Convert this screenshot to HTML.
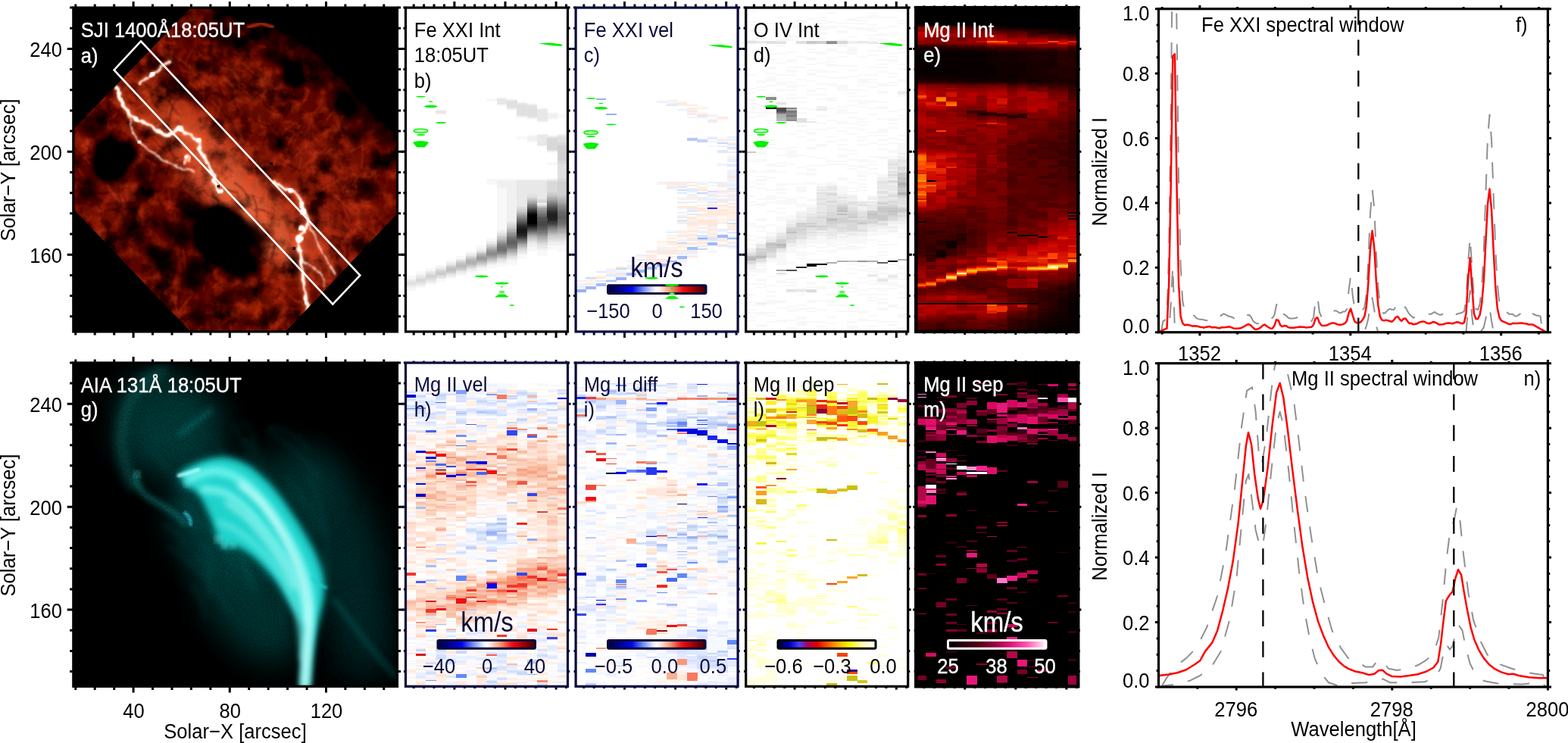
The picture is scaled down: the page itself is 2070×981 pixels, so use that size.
<!DOCTYPE html>
<html><head><meta charset="utf-8"><title>Figure</title>
<style>html,body{margin:0;padding:0;background:#fff;overflow:hidden}svg{display:block}text{font-family:"Liberation Sans",sans-serif}</style>
</head><body>
<svg width="2070" height="981" viewBox="0 0 2070 981">
<rect width="2070" height="981" fill="#fff"/>
<g id="pa"><defs>
<clipPath id="aclip"><rect x="96.8" y="10.1" width="427.7" height="427.8"/></clipPath>
<clipPath id="apoly"><path d="M252.4 10L524.5 10L524.5 282L377 437.9L251.5 437.9L96.8 275.7L96.8 170.8Z"/></clipPath>
<filter id="ab1" x="-20%" y="-20%" width="140%" height="140%"><feGaussianBlur stdDeviation="1.1"/></filter>
<filter id="ab2" x="-20%" y="-20%" width="140%" height="140%"><feGaussianBlur stdDeviation="3"/></filter>
<filter id="ab3" x="-30%" y="-30%" width="160%" height="160%"><feGaussianBlur stdDeviation="9"/></filter>
<filter id="ab4" x="-30%" y="-30%" width="160%" height="160%"><feGaussianBlur stdDeviation="18"/></filter>
<filter id="adk" x="-40%" y="-40%" width="180%" height="180%"><feTurbulence type="fractalNoise" baseFrequency="0.06" numOctaves="3" seed="9" result="t"/><feDisplacementMap in="SourceGraphic" in2="t" scale="22" xChannelSelector="R" yChannelSelector="G"/><feGaussianBlur stdDeviation="4.5"/></filter>
<filter id="acon" color-interpolation-filters="sRGB" x="0" y="0" width="100%" height="100%"><feComponentTransfer><feFuncR type="linear" slope="1.3" intercept="-0.13"/><feFuncG type="linear" slope="1.3" intercept="-0.1"/><feFuncB type="linear" slope="1.3" intercept="-0.07"/></feComponentTransfer></filter>
<filter id="ab0" x="-20%" y="-20%" width="140%" height="140%"><feGaussianBlur stdDeviation="0.6"/></filter>
<filter id="anoise" color-interpolation-filters="sRGB" x="0" y="0" width="100%" height="100%"><feTurbulence type="fractalNoise" baseFrequency="0.03 0.03" numOctaves="5" seed="3" result="n"/><feColorMatrix in="n" type="matrix" values="0 0 0 0 0  0 0 0 0 0  0 0 0 0 0  2.0 0 0 0 -0.92"/></filter>
<filter id="anoise2" color-interpolation-filters="sRGB" x="0" y="0" width="100%" height="100%"><feTurbulence type="fractalNoise" baseFrequency="0.05" numOctaves="4" seed="11" result="n"/><feColorMatrix in="n" type="matrix" values="0 0 0 0 0.85  0 0 0 0 0.3  0 0 0 0 0.15  0 2.2 0 0 -0.95"/></filter>
<filter id="arough" x="-10%" y="-10%" width="120%" height="120%"><feTurbulence type="fractalNoise" baseFrequency="0.11" numOctaves="2" seed="5" result="t"/><feDisplacementMap in="SourceGraphic" in2="t" scale="7" xChannelSelector="R" yChannelSelector="G"/><feGaussianBlur stdDeviation="0.8"/></filter>
</defs>
<g clip-path="url(#aclip)">
<rect x="95" y="8" width="432" height="432" fill="#000"/>
<g clip-path="url(#apoly)"><g filter="url(#acon)">
<rect x="95" y="8" width="432" height="432" fill="#5e170a"/>
<ellipse cx="300" cy="235" rx="150" ry="40" transform="rotate(46 300 235)" fill="#b0472a" opacity="0.95" filter="url(#ab4)"/>
<ellipse cx="335" cy="285" rx="100" ry="26" transform="rotate(46 335 285)" fill="#d06a42" opacity="0.85" filter="url(#ab4)"/>
<ellipse cx="255" cy="185" rx="60" ry="22" transform="rotate(46 255 185)" fill="#c05632" opacity="0.8" filter="url(#ab4)"/>
<ellipse cx="200" cy="130" rx="40" ry="25" transform="rotate(60 200 130)" fill="#a03c1e" opacity="0.75" filter="url(#ab4)"/>
<ellipse cx="420" cy="230" rx="60" ry="60" transform="rotate(0 420 230)" fill="#8a2c12" opacity="0.7" filter="url(#ab4)"/>
<ellipse cx="340" cy="400" rx="50" ry="36" transform="rotate(0 340 400)" fill="#82280f" opacity="0.7" filter="url(#ab4)"/>
<ellipse cx="160" cy="270" rx="40" ry="26" transform="rotate(30 160 270)" fill="#8a2c12" opacity="0.7" filter="url(#ab4)"/>
<ellipse cx="330" cy="120" rx="70" ry="40" transform="rotate(20 330 120)" fill="#70200c" opacity="0.6" filter="url(#ab4)"/>
<ellipse cx="470" cy="300" rx="40" ry="50" transform="rotate(0 470 300)" fill="#8a2c12" opacity="0.6" filter="url(#ab4)"/>
<ellipse cx="420" cy="330" rx="30" ry="50" transform="rotate(-30 420 330)" fill="#b0472a" opacity="0.6" filter="url(#ab4)"/>
<path d="M236 77Q245 84 252 92M313 30Q324 32 328 42M278 361Q269 370 269 384M267 424Q267 433 260 438M230 357Q223 367 214 376M126 39Q133 47 135 56M290 140Q285 154 285 168M341 235Q335 242 341 250M341 382Q341 393 343 405M453 411Q449 420 449 431M109 208Q117 209 118 217M423 68Q412 80 396 84M331 385Q336 391 340 397M471 416Q477 421 478 429M347 124Q350 128 351 132M338 414Q340 426 345 437M478 342Q478 351 476 360M366 40Q372 37 376 41M243 36Q246 41 246 46M467 272Q473 275 475 281M253 66Q249 75 245 84M143 158Q151 156 154 148M110 413Q114 425 107 435M439 358Q446 370 447 384M288 408Q281 413 271 413M266 183Q259 198 257 214M376 161Q388 160 398 167M189 120Q197 122 201 129M209 190Q208 198 205 207M480 191Q470 196 461 201M285 91Q287 96 292 95M145 249Q153 260 163 271M419 397Q420 407 423 416M468 410Q476 424 490 434M151 200Q154 205 150 210M381 343Q385 356 392 368M471 420Q473 429 482 429M305 430Q305 439 306 449M182 148Q190 156 197 165M431 422Q429 427 434 431M154 191Q157 207 167 220M128 376Q125 388 133 398M154 235Q162 239 162 247M121 99Q134 105 143 116M175 160Q179 163 177 168M244 364Q246 373 244 382M155 44Q168 41 182 45M135 367Q141 374 140 382M293 80Q306 92 323 94M203 420Q204 424 202 428M311 98Q319 108 315 119M138 182Q145 187 146 195M322 329Q327 344 329 359M414 225Q413 231 416 235M370 47Q378 58 381 72M289 127Q290 134 293 140M197 391Q197 395 197 399M222 170Q228 160 237 152M216 34Q209 36 209 42M121 322Q129 331 133 343M209 290Q213 296 218 303M519 203Q516 208 512 211M273 188Q283 185 289 193M506 67Q513 81 513 97M467 23Q457 35 447 47M100 178Q90 191 90 207M393 61Q384 68 373 72M489 109Q479 113 473 120M308 93Q311 106 322 114M265 103Q271 120 268 137M238 92Q254 97 270 96M379 173Q387 171 390 179M445 196Q435 195 430 204M253 391Q242 401 236 415M410 360Q414 373 421 385M234 166Q236 173 242 176M414 370Q427 378 437 389M343 151Q340 161 348 169M497 58Q499 65 498 72M186 121Q196 127 207 130M330 41Q335 42 339 46M368 52Q373 61 372 71M253 97Q266 102 274 113M479 192Q479 207 477 223M106 246Q111 247 117 246M177 106Q185 110 193 114M116 366Q108 374 103 384M276 259Q276 268 279 278M292 89Q304 89 311 97M281 53Q285 55 290 54M408 341Q417 348 417 360M491 42Q484 39 479 46M443 74Q442 82 436 86M365 180Q373 194 382 208M421 200Q415 200 414 205M368 427Q377 433 374 442M155 109Q160 111 161 115M250 108Q258 117 267 124M362 213Q364 221 358 227M408 118Q405 129 399 138M125 341Q125 358 118 373M355 227Q362 226 368 229M295 326Q299 330 297 336M241 329Q245 342 244 355M283 345Q280 358 287 370M379 425Q384 438 395 446M133 397Q126 400 130 407M474 42Q484 56 485 72M221 56Q226 59 231 56M234 192Q233 200 238 207M235 419Q247 425 250 438M102 220Q106 230 115 236M308 160Q317 173 322 189M431 278Q433 286 433 295M416 285Q425 288 431 295M454 292Q458 302 467 307M153 208Q168 213 180 223M227 309Q230 315 227 321M319 82Q330 94 345 103M504 57Q510 70 520 80M182 282Q183 288 178 292M114 182Q117 192 124 200M272 298Q273 311 280 321M315 282Q313 293 321 300M387 179Q380 194 370 208M215 182Q219 183 222 186M393 162Q379 166 372 179M444 357Q453 361 459 370M153 364Q148 370 141 374M279 92Q280 100 275 107M301 194Q308 205 317 213M490 373Q481 386 479 402M376 119Q375 127 381 132M381 389Q391 400 406 403M391 237Q391 252 392 268M198 73Q209 75 214 85M114 316Q117 331 117 346M429 31Q431 43 422 52M431 396Q443 401 455 402M386 103Q387 118 380 130M336 122Q344 125 351 129M281 284Q291 291 292 303M440 256Q452 267 463 278M263 263Q255 270 247 275M371 103Q378 99 382 106M387 65Q384 81 373 92M304 39Q313 44 323 45M497 344Q509 343 519 348M352 144Q360 152 370 151M388 267Q392 275 385 282M277 260Q291 268 306 266M388 398Q397 395 404 403M295 101Q305 111 314 122M472 233Q471 241 464 244M394 166Q395 178 388 187M519 171Q509 182 495 187M245 232Q250 249 262 261M422 358Q427 361 424 367M135 35Q140 46 151 51M265 202Q266 220 260 236M120 344Q132 357 134 375M417 409Q425 418 436 423M236 122Q241 124 246 126M200 74Q212 81 218 94M490 107Q474 112 459 109M301 278Q307 275 312 280M400 246Q393 249 385 250M148 425Q145 438 136 447M223 425Q225 434 219 441M450 235Q438 246 422 251M158 90Q166 92 165 101M397 355Q400 360 406 360M403 37Q390 46 384 60M254 83Q258 91 263 98M308 230Q307 240 308 251M506 108Q499 111 496 119M141 308Q137 319 135 330M395 57Q400 61 396 66M205 191Q215 198 223 207M221 142Q226 154 239 157M213 210Q224 213 230 223M155 137Q164 136 168 144M453 270Q456 281 462 291M398 208Q397 218 392 227M224 338Q220 353 215 367M457 359Q471 360 484 356M102 336Q102 352 105 368M223 178Q234 182 243 189M431 371Q437 370 443 373M342 258Q341 265 348 266M454 366Q452 377 460 384M326 433Q326 446 323 459M350 161Q353 173 346 183M172 148Q188 142 200 130M146 390Q152 406 165 418M353 162Q364 176 376 187M249 85Q258 98 270 109M289 176Q287 182 293 185M232 392Q229 404 236 415M222 250Q224 259 224 268M152 361Q155 367 152 374M210 392Q209 399 210 406M466 66Q460 71 460 79M235 292Q235 298 236 303M462 70Q452 79 446 90M117 31Q122 37 124 45M231 282Q229 289 235 294M426 134Q421 146 409 151M265 328Q261 334 267 338M491 304Q500 313 508 322M393 194Q394 200 400 203M368 242Q374 248 379 256M230 71Q235 84 243 95M160 251Q158 260 163 267M148 136Q154 136 156 141M395 202Q388 210 379 215M130 19Q133 35 142 50M401 426Q410 431 418 437M453 138Q438 145 431 159M430 363Q430 377 427 390M447 148Q437 150 432 158M308 224Q314 222 320 224M134 303Q129 320 116 331M279 133Q287 142 296 152M242 198Q258 199 272 207M286 251Q294 246 303 249M360 355Q354 365 344 372M500 216Q494 223 496 232M256 258Q268 259 278 263M176 388Q179 403 177 418M323 120Q330 127 338 134M341 61Q346 61 351 62M403 57Q395 57 394 66M425 71Q423 78 418 84M350 104Q354 110 362 113M473 275Q471 291 478 306M413 157Q409 172 397 182M142 245Q149 259 160 271M181 202Q193 211 206 218M436 29Q427 38 416 44M166 369Q177 377 178 390" stroke="#d0643a" stroke-width="1.8" fill="none" opacity="0.28" filter="url(#ab1)"/>
<path d="M276 332Q272 335 272 340M395 286Q393 293 388 300M511 377Q520 379 524 388M324 341Q317 356 323 370M249 26Q249 34 252 41M183 100Q188 112 200 116M301 288Q305 301 316 309M415 215Q406 217 402 225M153 77Q148 82 151 89M508 287Q518 286 524 277M299 319Q298 329 298 340M315 305Q307 313 308 324M239 276Q251 280 255 291M163 400Q169 405 164 410M279 44Q282 59 276 73M408 245Q396 257 379 261M282 222Q283 233 290 241M514 77Q508 79 510 85M363 322Q361 333 358 343M438 361Q445 371 458 373M391 111Q390 120 382 125M335 278Q346 274 355 282M131 126Q144 131 152 142M510 221Q498 227 489 237M105 39Q106 47 110 54M384 136Q383 147 375 154M184 425Q178 434 181 445M320 414Q310 419 306 430M227 73Q234 78 238 86M101 329Q98 345 101 361M493 119Q488 123 481 124M471 355Q488 355 504 354M489 67Q486 75 488 83M170 82Q177 91 177 102M200 123Q200 135 209 144M204 182Q207 193 217 197M146 79Q155 85 166 87M403 286Q414 292 416 304M198 400Q201 406 198 412M352 18Q356 26 358 33M371 385Q364 391 368 399M229 23Q238 20 248 22M435 324Q444 331 446 342M231 358Q227 372 218 383M125 179Q115 190 117 205M248 415Q243 420 237 423M115 40Q126 52 132 67M477 156Q465 156 454 150M233 130Q226 144 223 160M110 112Q112 124 123 128M262 119Q279 119 294 127M127 28Q137 33 145 41M471 429Q475 433 478 437M288 112Q290 121 296 129M257 324Q259 332 253 338M197 354Q202 357 206 360M453 398Q458 403 455 409M345 405Q352 412 353 423M105 151Q113 154 117 162M500 145Q495 154 499 164M312 75Q319 74 327 73M146 220Q151 226 148 233M510 217Q501 211 492 215M446 81Q438 87 436 97M152 118Q155 121 159 123M284 24Q290 29 297 29M259 413Q244 423 234 436M181 426Q182 443 174 457M234 29Q241 44 251 57M171 344Q166 355 157 364M333 258Q341 272 339 288M163 273Q171 277 180 280M368 380Q372 389 364 394M336 161Q348 164 360 168M120 388Q115 390 118 395M470 20Q458 30 457 44M237 384Q235 399 237 415M404 254Q411 259 412 268M160 26Q155 38 155 50M128 262Q128 272 135 278M147 28Q144 41 148 53M283 339Q289 349 288 360M138 358Q134 364 136 371M394 223Q388 223 385 228M474 50Q474 57 468 62M310 173Q314 183 318 192M160 268Q169 270 178 267M281 255Q283 262 290 266M425 308Q439 314 454 315M291 145Q296 154 305 157M364 119Q372 125 379 131M306 423Q299 426 298 433M318 56Q323 67 329 76M192 351Q187 355 188 361M366 211Q382 217 396 226M449 280Q456 282 452 288M164 394Q159 409 157 424M309 241Q323 249 329 264M297 250Q305 252 314 255M132 282Q143 274 156 278M387 405Q397 405 408 406M321 338Q317 347 315 356M223 362Q225 369 227 376M375 347Q374 355 375 362M103 94Q118 89 132 82M116 339Q107 343 104 353M402 116Q398 120 400 125M459 320Q459 334 458 347M207 419Q204 423 205 427M133 145Q146 151 153 164M435 167Q436 176 434 185M509 309Q509 323 519 331M450 355Q447 363 452 370M435 98Q438 104 444 109M439 338Q436 345 434 352M338 124Q348 134 356 146M498 396Q502 406 497 414M208 251Q207 265 217 274M207 162Q194 172 189 187M141 404Q138 414 131 421M214 367Q212 377 206 386M220 122Q223 140 237 152M141 136Q148 150 145 167M356 222Q363 218 371 221M106 396Q114 400 116 408M318 201Q328 212 341 215M235 313Q232 319 238 322M310 131Q311 137 313 143M162 255Q169 267 169 281M494 177Q485 184 476 189M426 156Q415 157 410 167M483 356Q485 368 495 374M129 196Q130 204 138 204M494 280Q499 294 512 302M114 283Q119 289 125 294M361 119Q359 130 356 140M193 229Q198 229 201 231M200 248Q204 258 203 268M263 199Q263 208 272 209M165 156Q171 162 179 165M430 312Q444 319 453 334M429 381Q438 384 447 388M120 251Q124 262 135 266M268 250Q275 260 288 262M304 199Q312 195 319 190M166 136Q173 133 178 138M273 345Q272 349 267 350M346 295Q354 303 356 315M323 433Q328 437 326 444M145 56Q150 60 155 63M357 353Q357 367 352 380M503 199Q497 202 501 208M499 116Q494 121 487 123M303 347Q303 356 296 363M115 293Q121 300 120 309M139 127Q140 138 149 144M167 162Q179 169 189 177M187 413Q190 424 184 433M376 252Q383 252 384 259M310 139Q316 145 313 152M219 183Q223 199 233 211M273 291Q286 299 296 311M176 62Q190 72 205 76M401 121Q399 131 388 132M147 346Q137 357 122 359M395 352Q400 358 406 363M202 230Q208 224 217 223M419 85Q417 95 421 105M328 17Q338 30 351 39M493 288Q501 289 500 297M117 252Q130 258 144 254M285 94Q291 108 304 117M236 207Q222 217 218 232M179 299Q190 299 197 308M285 377Q295 387 297 401M410 412Q423 406 436 411M109 60Q117 68 121 79M260 75Q273 82 287 89M439 412Q440 418 441 424" stroke="#1a0300" stroke-width="2.4" fill="none" opacity="0.35" filter="url(#ab1)"/>
<rect x="95" y="8" width="432" height="432" filter="url(#anoise)"/>
<rect x="95" y="8" width="432" height="432" filter="url(#anoise2)" opacity="0.55"/>
<ellipse cx="151" cy="208" rx="26" ry="28" transform="rotate(0 151 208)" fill="#000" opacity="1.0" filter="url(#adk)"/>
<ellipse cx="140" cy="222" rx="18" ry="18" transform="rotate(0 140 222)" fill="#000" opacity="0.9" filter="url(#adk)"/>
<ellipse cx="118" cy="250" rx="14" ry="16" transform="rotate(0 118 250)" fill="#000" opacity="0.6" filter="url(#adk)"/>
<ellipse cx="296" cy="317" rx="40" ry="38" transform="rotate(10 296 317)" fill="#000" opacity="1.0" filter="url(#adk)"/>
<ellipse cx="285" cy="300" rx="26" ry="24" transform="rotate(0 285 300)" fill="#000" opacity="1.0" filter="url(#adk)"/>
<ellipse cx="256" cy="278" rx="20" ry="14" transform="rotate(20 256 278)" fill="#000" opacity="0.7" filter="url(#adk)"/>
<ellipse cx="318" cy="350" rx="22" ry="18" transform="rotate(0 318 350)" fill="#000" opacity="0.8" filter="url(#adk)"/>
<ellipse cx="236" cy="308" rx="22" ry="16" transform="rotate(30 236 308)" fill="#000" opacity="0.6" filter="url(#adk)"/>
<ellipse cx="205" cy="292" rx="14" ry="9" transform="rotate(0 205 292)" fill="#000" opacity="0.45" filter="url(#adk)"/>
<ellipse cx="215" cy="345" rx="24" ry="16" transform="rotate(35 215 345)" fill="#000" opacity="0.7" filter="url(#adk)"/>
<ellipse cx="255" cy="362" rx="16" ry="24" transform="rotate(35 255 362)" fill="#000" opacity="0.65" filter="url(#adk)"/>
<ellipse cx="190" cy="230" rx="14" ry="10" transform="rotate(40 190 230)" fill="#000" opacity="0.5" filter="url(#adk)"/>
<ellipse cx="330" cy="310" rx="16" ry="20" transform="rotate(0 330 310)" fill="#000" opacity="0.6" filter="url(#adk)"/>
<ellipse cx="170" cy="300" rx="14" ry="12" transform="rotate(45 170 300)" fill="#000" opacity="0.6" filter="url(#adk)"/>
<ellipse cx="262" cy="415" rx="14" ry="14" transform="rotate(0 262 415)" fill="#000" opacity="0.6" filter="url(#adk)"/>
<ellipse cx="300" cy="395" rx="10" ry="22" transform="rotate(30 300 395)" fill="#000" opacity="0.45" filter="url(#adk)"/>
<ellipse cx="388" cy="97" rx="16" ry="20" transform="rotate(-30 388 97)" fill="#000" opacity="0.9" filter="url(#adk)"/>
<ellipse cx="365" cy="75" rx="22" ry="10" transform="rotate(20 365 75)" fill="#000" opacity="0.7" filter="url(#adk)"/>
<ellipse cx="455" cy="138" rx="18" ry="12" transform="rotate(40 455 138)" fill="#000" opacity="0.75" filter="url(#adk)"/>
<ellipse cx="470" cy="185" rx="12" ry="10" transform="rotate(0 470 185)" fill="#000" opacity="0.5" filter="url(#adk)"/>
<ellipse cx="300" cy="55" rx="40" ry="12" transform="rotate(15 300 55)" fill="#000" opacity="0.5" filter="url(#adk)"/>
<ellipse cx="420" cy="110" rx="12" ry="8" transform="rotate(30 420 110)" fill="#000" opacity="0.5" filter="url(#adk)"/>
<ellipse cx="340" cy="330" rx="10" ry="30" transform="rotate(30 340 330)" fill="#000" opacity="0.5" filter="url(#adk)"/>
<ellipse cx="490" cy="250" rx="10" ry="8" transform="rotate(0 490 250)" fill="#000" opacity="0.5" filter="url(#adk)"/>
<ellipse cx="500" cy="215" rx="8" ry="10" transform="rotate(0 500 215)" fill="#000" opacity="0.5" filter="url(#adk)"/>
<ellipse cx="125" cy="165" rx="16" ry="10" transform="rotate(-45 125 165)" fill="#000" opacity="0.5" filter="url(#adk)"/>
<ellipse cx="360" cy="190" rx="14" ry="10" transform="rotate(40 360 190)" fill="#000" opacity="0.35" filter="url(#adk)"/>
<ellipse cx="250" cy="120" rx="30" ry="8" transform="rotate(47 250 120)" fill="#000" opacity="0.4" filter="url(#adk)"/>
<path d="M300 8 L330 26 L372 40 L405 58 L432 82 L452 102 L470 125 L492 148 L512 168 L527 180" stroke="#000" stroke-width="46" fill="none" opacity="0.5" filter="url(#ab3)"/>
<path d="M300 8 L330 26 L372 40 L405 58 L432 82 L452 102 L470 125 L492 148 L512 168 L527 180 L527 8Z" fill="#000" filter="url(#ab2)"/>
<path d="M262 8L300 20L335 34L310 8Z" fill="#000" opacity="0.8" filter="url(#ab2)"/>
<path d="M326 36L345 31L362 36" stroke="#8a3018" stroke-width="5" fill="none" filter="url(#ab1)"/>
<path d="M154.5 114.7C155.0 116.7 156.0 122.8 157.5 126.9C159.0 131.0 161.4 135.4 163.6 139.1C165.8 142.8 168.2 146.2 170.8 149.3C173.4 152.4 175.9 155.5 178.9 157.5C181.9 159.5 186.0 160.2 189.1 161.5C192.2 162.8 194.2 163.9 197.3 165.6C200.4 167.3 204.1 169.5 207.5 171.7C210.9 173.9 214.6 177.9 217.7 178.9C220.8 179.9 223.4 179.1 225.8 177.9C228.2 176.7 229.9 173.1 231.9 171.7C233.9 170.3 235.9 169.0 238.0 169.7C240.1 170.4 241.8 174.1 244.2 175.8C246.6 177.5 249.6 178.5 252.3 179.9C255.0 181.3 258.4 182.3 260.5 184.0C262.6 185.7 264.3 187.7 264.6 190.1C264.9 192.5 261.8 195.5 262.5 198.2C263.2 200.9 266.6 203.7 268.6 206.4C270.6 209.1 273.0 211.6 274.7 214.6C276.4 217.6 277.4 221.0 278.8 224.7C280.2 228.4 281.5 232.9 282.9 237.0C284.3 241.1 285.6 246.5 287.0 249.2C288.4 251.9 290.3 252.6 291.0 253.3" stroke="#e2764a" stroke-width="8.0" fill="none" opacity="0.55" stroke-linecap="round" filter="url(#ab2)"/>
<path d="M362.0 240.0C363.7 241.2 368.3 245.0 372.0 247.0C375.7 249.0 380.5 250.2 384.0 252.0C387.5 253.8 390.7 255.3 393.0 258.0C395.3 260.7 396.7 264.3 398.0 268.0C399.3 271.7 399.5 276.0 401.0 280.0C402.5 284.0 406.7 288.3 407.0 292.0C407.3 295.7 404.7 299.0 403.0 302.0C401.3 305.0 398.5 307.0 397.0 310.0C395.5 313.0 394.2 316.3 394.0 320.0C393.8 323.7 395.3 327.8 396.0 332.0C396.7 336.2 397.5 340.7 398.0 345.0C398.5 349.3 398.5 353.5 399.0 358.0C399.5 362.5 400.3 367.0 401.0 372.0C401.7 377.0 402.2 383.0 403.0 388.0C403.8 393.0 405.2 397.0 406.0 402.0C406.8 407.0 407.5 413.0 408.0 418.0C408.5 423.0 408.8 429.7 409.0 432.0" stroke="#e2764a" stroke-width="8.0" fill="none" opacity="0.55" stroke-linecap="round" filter="url(#ab2)"/>
<path d="M156.5 120.8C157.4 123.2 160.0 130.6 162.0 135.0C164.0 139.4 167.0 143.1 168.7 147.3C170.4 151.5 171.0 155.9 172.0 160.0C173.0 164.1 173.1 167.4 174.9 171.7C176.7 176.0 179.3 181.6 183.0 186.0C186.7 190.4 192.6 194.5 197.3 198.2C202.1 201.9 206.4 205.3 211.5 208.4C216.6 211.5 222.5 214.2 227.9 216.6C233.3 219.0 239.4 221.0 244.2 222.7C248.9 224.4 254.4 226.1 256.4 226.8" stroke="#e2764a" stroke-width="4.0" fill="none" opacity="0.39" stroke-linecap="round" filter="url(#ab2)"/>
<path d="M185.0 110.0C186.0 109.0 189.0 105.7 191.0 104.0C193.0 102.3 194.6 101.3 197.0 100.0C199.4 98.7 203.1 97.5 205.4 96.0C207.7 94.5 209.3 92.7 211.0 91.0C212.7 89.3 213.5 87.7 215.6 86.0C217.7 84.3 222.4 81.8 223.8 81.0" stroke="#e2764a" stroke-width="5.6" fill="none" opacity="0.49" stroke-linecap="round" filter="url(#ab2)"/>
<path d="M408.0 296.0C409.0 298.0 412.0 303.7 414.0 308.0C416.0 312.3 417.7 317.0 420.0 322.0C422.3 327.0 425.3 333.0 428.0 338.0C430.7 343.0 433.7 348.0 436.0 352.0C438.3 356.0 441.0 360.3 442.0 362.0" stroke="#e2764a" stroke-width="4.0" fill="none" opacity="0.39" stroke-linecap="round" filter="url(#ab2)"/>
<path d="M398.0 345.0C399.7 345.8 404.7 348.2 408.0 350.0C411.3 351.8 415.0 353.3 418.0 356.0C421.0 358.7 424.0 362.3 426.0 366.0C428.0 369.7 429.3 376.0 430.0 378.0" stroke="#e2764a" stroke-width="3.2" fill="none" opacity="0.33" stroke-linecap="round" filter="url(#ab2)"/>
<path d="M243.0 216.0C243.3 214.8 244.2 211.0 245.0 209.0C245.8 207.0 247.0 204.3 248.0 204.0C249.0 203.7 251.0 205.5 251.0 207.0C251.0 208.5 248.5 212.0 248.0 213.0" stroke="#e2764a" stroke-width="4.8" fill="none" opacity="0.44" stroke-linecap="round" filter="url(#ab2)"/>
<path d="M154.5 114.7C155.0 116.7 156.0 122.8 157.5 126.9C159.0 131.0 161.4 135.4 163.6 139.1C165.8 142.8 168.2 146.2 170.8 149.3C173.4 152.4 175.9 155.5 178.9 157.5C181.9 159.5 186.0 160.2 189.1 161.5C192.2 162.8 194.2 163.9 197.3 165.6C200.4 167.3 204.1 169.5 207.5 171.7C210.9 173.9 214.6 177.9 217.7 178.9C220.8 179.9 223.4 179.1 225.8 177.9C228.2 176.7 229.9 173.1 231.9 171.7C233.9 170.3 235.9 169.0 238.0 169.7C240.1 170.4 241.8 174.1 244.2 175.8C246.6 177.5 249.6 178.5 252.3 179.9C255.0 181.3 258.4 182.3 260.5 184.0C262.6 185.7 264.3 187.7 264.6 190.1C264.9 192.5 261.8 195.5 262.5 198.2C263.2 200.9 266.6 203.7 268.6 206.4C270.6 209.1 273.0 211.6 274.7 214.6C276.4 217.6 277.4 221.0 278.8 224.7C280.2 228.4 281.5 232.9 282.9 237.0C284.3 241.1 285.6 246.5 287.0 249.2C288.4 251.9 290.3 252.6 291.0 253.3" stroke="#ffe6d8" stroke-width="3.5" fill="none" opacity="1.00" stroke-linecap="round" stroke-linejoin="round" filter="url(#arough)"/>
<path d="M362.0 240.0C363.7 241.2 368.3 245.0 372.0 247.0C375.7 249.0 380.5 250.2 384.0 252.0C387.5 253.8 390.7 255.3 393.0 258.0C395.3 260.7 396.7 264.3 398.0 268.0C399.3 271.7 399.5 276.0 401.0 280.0C402.5 284.0 406.7 288.3 407.0 292.0C407.3 295.7 404.7 299.0 403.0 302.0C401.3 305.0 398.5 307.0 397.0 310.0C395.5 313.0 394.2 316.3 394.0 320.0C393.8 323.7 395.3 327.8 396.0 332.0C396.7 336.2 397.5 340.7 398.0 345.0C398.5 349.3 398.5 353.5 399.0 358.0C399.5 362.5 400.3 367.0 401.0 372.0C401.7 377.0 402.2 383.0 403.0 388.0C403.8 393.0 405.2 397.0 406.0 402.0C406.8 407.0 407.5 413.0 408.0 418.0C408.5 423.0 408.8 429.7 409.0 432.0" stroke="#ffe6d8" stroke-width="3.5" fill="none" opacity="1.00" stroke-linecap="round" stroke-linejoin="round" filter="url(#arough)"/>
<path d="M156.5 120.8C157.4 123.2 160.0 130.6 162.0 135.0C164.0 139.4 167.0 143.1 168.7 147.3C170.4 151.5 171.0 155.9 172.0 160.0C173.0 164.1 173.1 167.4 174.9 171.7C176.7 176.0 179.3 181.6 183.0 186.0C186.7 190.4 192.6 194.5 197.3 198.2C202.1 201.9 206.4 205.3 211.5 208.4C216.6 211.5 222.5 214.2 227.9 216.6C233.3 219.0 239.4 221.0 244.2 222.7C248.9 224.4 254.4 226.1 256.4 226.8" stroke="#ffe6d8" stroke-width="2.1" fill="none" opacity="0.72" stroke-linecap="round" stroke-linejoin="round" filter="url(#arough)"/>
<path d="M185.0 110.0C186.0 109.0 189.0 105.7 191.0 104.0C193.0 102.3 194.6 101.3 197.0 100.0C199.4 98.7 203.1 97.5 205.4 96.0C207.7 94.5 209.3 92.7 211.0 91.0C212.7 89.3 213.5 87.7 215.6 86.0C217.7 84.3 222.4 81.8 223.8 81.0" stroke="#ffe6d8" stroke-width="2.7" fill="none" opacity="0.85" stroke-linecap="round" stroke-linejoin="round" filter="url(#arough)"/>
<path d="M408.0 296.0C409.0 298.0 412.0 303.7 414.0 308.0C416.0 312.3 417.7 317.0 420.0 322.0C422.3 327.0 425.3 333.0 428.0 338.0C430.7 343.0 433.7 348.0 436.0 352.0C438.3 356.0 441.0 360.3 442.0 362.0" stroke="#ffe6d8" stroke-width="2.1" fill="none" opacity="0.72" stroke-linecap="round" stroke-linejoin="round" filter="url(#arough)"/>
<path d="M398.0 345.0C399.7 345.8 404.7 348.2 408.0 350.0C411.3 351.8 415.0 353.3 418.0 356.0C421.0 358.7 424.0 362.3 426.0 366.0C428.0 369.7 429.3 376.0 430.0 378.0" stroke="#ffe6d8" stroke-width="1.8" fill="none" opacity="0.68" stroke-linecap="round" stroke-linejoin="round" filter="url(#arough)"/>
<path d="M243.0 216.0C243.3 214.8 244.2 211.0 245.0 209.0C245.8 207.0 247.0 204.3 248.0 204.0C249.0 203.7 251.0 205.5 251.0 207.0C251.0 208.5 248.5 212.0 248.0 213.0" stroke="#ffe6d8" stroke-width="2.5" fill="none" opacity="0.80" stroke-linecap="round" stroke-linejoin="round" filter="url(#arough)"/>
<circle cx="179" cy="157.5" r="3.6" fill="#fff" filter="url(#arough)"/>
<circle cx="238" cy="169.5" r="3.6" fill="#fff" filter="url(#arough)"/>
<circle cx="262" cy="186" r="2.8" fill="#fff" filter="url(#arough)"/>
<circle cx="201" cy="99" r="3.2" fill="#fff" filter="url(#arough)"/>
<circle cx="291" cy="252" r="3.2" fill="#fff" filter="url(#arough)"/>
<circle cx="395" cy="315" r="4.8" fill="#fff" filter="url(#arough)"/>
<circle cx="398" cy="300" r="3.6" fill="#fff" filter="url(#arough)"/>
<circle cx="384" cy="252" r="3.2" fill="#fff" filter="url(#arough)"/>
<circle cx="400" cy="280" r="2.8" fill="#fff" filter="url(#arough)"/>
<circle cx="246" cy="207" r="2.4" fill="#fff" filter="url(#arough)"/>
<circle cx="405" cy="400" r="2.4" fill="#fff" filter="url(#arough)"/>
<circle cx="184" cy="187" r="2.4" fill="#fff" filter="url(#arough)"/>
<rect x="356.5" y="214.5" width="3.5" height="3" fill="#000"/>
<rect x="286.5" y="244.5" width="3.5" height="3" fill="#000"/>
<rect x="350.5" y="307.5" width="3.5" height="3" fill="#000"/>
<rect x="386.5" y="326.5" width="3.5" height="3" fill="#000"/>
<rect x="478.5" y="93.5" width="3.5" height="3" fill="#000"/>
</g></g>
<path d="M186 54.4L475.3 363.6L439.3 401.6L150.6 92.4Z" fill="none" stroke="#fff" stroke-width="2.6" stroke-linejoin="miter"/>
</g></g>
<g id="pg"><defs>
<clipPath id="gclip"><rect x="96.8" y="479" width="427.7" height="427.3"/></clipPath>
<filter id="gb1" x="-30%" y="-30%" width="160%" height="160%"><feGaussianBlur stdDeviation="1.5"/></filter>
<filter id="gb2" x="-30%" y="-30%" width="160%" height="160%"><feGaussianBlur stdDeviation="4"/></filter>
<filter id="gb3" x="-30%" y="-30%" width="160%" height="160%"><feGaussianBlur stdDeviation="7"/></filter>
<filter id="gb4" x="-40%" y="-40%" width="180%" height="180%"><feGaussianBlur stdDeviation="20"/></filter>
<filter id="gnoise" color-interpolation-filters="sRGB" x="0" y="0" width="100%" height="100%"><feTurbulence type="fractalNoise" baseFrequency="0.55" numOctaves="2" seed="8" result="n"/><feColorMatrix in="n" type="matrix" values="0 0 0 0 0  0 0 0 0 0  0 0 0 0 0  1.8 0 0 0 -0.7"/></filter>
</defs>
<g clip-path="url(#gclip)">
<rect x="95" y="477" width="432" height="432" fill="#000"/>
<ellipse cx="225" cy="565" rx="70" ry="65" transform="rotate(0 225 565)" fill="#004644" opacity="0.85" filter="url(#gb4)"/>
<ellipse cx="200" cy="520" rx="40" ry="28" transform="rotate(0 200 520)" fill="#003533" opacity="0.7" filter="url(#gb4)"/>
<ellipse cx="300" cy="690" rx="70" ry="90" transform="rotate(-30 300 690)" fill="#004a48" opacity="0.8" filter="url(#gb4)"/>
<ellipse cx="330" cy="790" rx="55" ry="95" transform="rotate(-32 330 790)" fill="#003f3d" opacity="0.8" filter="url(#gb4)"/>
<ellipse cx="445" cy="720" rx="55" ry="130" transform="rotate(-18 445 720)" fill="#003331" opacity="0.8" filter="url(#gb4)"/>
<ellipse cx="480" cy="850" rx="40" ry="50" transform="rotate(0 480 850)" fill="#002e2d" opacity="0.7" filter="url(#gb4)"/>
<ellipse cx="380" cy="640" rx="60" ry="50" transform="rotate(0 380 640)" fill="#003a38" opacity="0.6" filter="url(#gb4)"/>
<path d="M309 677Q346 712 351 764M396 705Q429 735 434 779M377 692Q395 733 388 791M373 687Q407 727 411 800M360 733Q390 771 404 844M320 654Q344 676 350 723M393 728Q407 770 407 844M386 685Q416 698 415 736M252 773Q268 787 271 817M349 666Q378 673 378 699M396 738Q408 764 409 805M308 562Q337 600 347 674M285 667Q331 686 351 739M310 608Q348 623 351 661M216 694Q236 696 244 724M332 692Q373 726 402 772M377 631Q412 660 429 708M266 720Q284 726 277 761M277 617Q305 627 319 655M365 716Q384 728 384 768M284 584Q314 618 312 667M373 707Q382 734 378 778M259 651Q297 668 322 696M407 630Q436 683 431 753M379 648Q403 663 416 703M338 726Q372 758 372 823M294 704Q321 716 325 750M320 604Q339 647 337 720M257 733Q281 744 275 786M354 563Q390 568 409 596M321 559Q335 562 338 601M235 638Q257 656 261 701M265 629Q295 640 304 663M292 720Q329 737 336 780M286 704Q315 724 329 769M227 660Q285 694 308 748M347 639Q372 648 365 687M355 569Q394 594 423 633M202 596Q245 643 256 703M360 742Q395 778 400 825M324 579Q355 616 367 677M243 618Q282 650 291 701M281 646Q313 641 325 665M359 685Q390 710 399 761M222 722Q278 759 305 811M260 633Q289 642 290 686" stroke="#0a8a86" stroke-width="4" fill="none" opacity="0.22" stroke-linecap="round" filter="url(#gb2)"/>
<path d="M176.0 640.0C174.3 635.8 168.7 624.2 166.0 615.0C163.3 605.8 160.5 595.0 160.0 585.0C159.5 575.0 161.0 564.2 163.0 555.0C165.0 545.8 167.5 538.3 172.0 530.0C176.5 521.7 182.8 511.7 190.0 505.0C197.2 498.3 210.8 492.5 215.0 490.0" stroke="#086a66" stroke-width="14" fill="none" opacity="0.6" stroke-linecap="round" filter="url(#gb3)"/>
<path d="M235.0 575.0C238.3 572.5 249.2 564.5 255.0 560.0C260.8 555.5 265.8 551.3 270.0 548.0C274.2 544.7 278.3 541.3 280.0 540.0" stroke="#0c8a86" stroke-width="5" fill="none" opacity="0.7" filter="url(#gb2)"/>
<path d="M178.0 628.0C178.7 630.0 180.0 636.0 182.0 640.0C184.0 644.0 186.2 648.3 190.0 652.0C193.8 655.7 199.7 658.7 205.0 662.0C210.3 665.3 216.5 668.3 222.0 672.0C227.5 675.7 234.0 680.3 238.0 684.0C242.0 687.7 244.7 692.3 246.0 694.0" stroke="#14a6a0" stroke-width="5" fill="none" opacity="0.8" filter="url(#gb2)"/>
<circle cx="181" cy="626" r="3.5" fill="#5ff" opacity="0.8" filter="url(#gb2)"/>
<path d="M243.0 676.0C244.2 677.3 248.5 681.0 250.0 684.0C251.5 687.0 251.7 692.3 252.0 694.0" stroke="#3cd" stroke-width="5" fill="none" opacity="0.8" filter="url(#gb1)"/>
<rect x="95" y="477" width="432" height="432" filter="url(#gnoise)" opacity="0.45"/>
<path d="M236.0 626.0C240.3 623.7 252.7 615.5 262.0 612.0C271.3 608.5 282.3 605.0 292.0 605.0C301.7 605.0 311.2 607.8 320.0 612.0C328.8 616.2 337.0 622.8 345.0 630.0C353.0 637.2 360.8 646.0 368.0 655.0C375.2 664.0 381.8 674.5 388.0 684.0C394.2 693.5 400.0 703.0 405.0 712.0C410.0 721.0 414.5 729.3 418.0 738.0C421.5 746.7 424.7 755.3 426.0 764.0C427.3 772.7 427.2 780.7 426.0 790.0C424.8 799.3 421.2 810.0 419.0 820.0C416.8 830.0 414.7 840.0 413.0 850.0C411.3 860.0 410.0 870.3 409.0 880.0C408.0 889.7 407.3 903.3 407.0 908.0L398.0 908.0C398.3 903.3 399.5 889.7 400.0 880.0C400.5 870.3 401.3 859.7 401.0 850.0C400.7 840.3 401.0 831.0 398.0 822.0C395.0 813.0 388.0 804.7 383.0 796.0C378.0 787.3 373.5 778.0 368.0 770.0C362.5 762.0 356.3 754.7 350.0 748.0C343.7 741.3 336.3 734.7 330.0 730.0C323.7 725.3 317.7 721.3 312.0 720.0C306.3 718.7 300.0 724.0 296.0 722.0C292.0 720.0 290.3 713.3 288.0 708.0C285.7 702.7 284.7 696.7 282.0 690.0C279.3 683.3 275.3 674.7 272.0 668.0C268.7 661.3 266.3 654.3 262.0 650.0C257.7 645.7 248.7 643.3 246.0 642.0Z" fill="#0c9691" opacity="0.85" filter="url(#gb3)"/>
<path d="M236.0 626.0C240.3 623.7 252.7 615.5 262.0 612.0C271.3 608.5 282.3 605.0 292.0 605.0C301.7 605.0 311.2 607.8 320.0 612.0C328.8 616.2 337.0 622.8 345.0 630.0C353.0 637.2 360.8 646.0 368.0 655.0C375.2 664.0 381.8 674.5 388.0 684.0C394.2 693.5 400.0 703.0 405.0 712.0C410.0 721.0 414.5 729.3 418.0 738.0C421.5 746.7 424.7 755.3 426.0 764.0C427.3 772.7 427.2 780.7 426.0 790.0C424.8 799.3 421.2 810.0 419.0 820.0C416.8 830.0 414.7 840.0 413.0 850.0C411.3 860.0 410.0 870.3 409.0 880.0C408.0 889.7 407.3 903.3 407.0 908.0L398.0 908.0C398.3 903.3 399.5 889.7 400.0 880.0C400.5 870.3 401.3 859.7 401.0 850.0C400.7 840.3 401.0 831.0 398.0 822.0C395.0 813.0 388.0 804.7 383.0 796.0C378.0 787.3 373.5 778.0 368.0 770.0C362.5 762.0 356.3 754.7 350.0 748.0C343.7 741.3 336.3 734.7 330.0 730.0C323.7 725.3 317.7 721.3 312.0 720.0C306.3 718.7 300.0 724.0 296.0 722.0C292.0 720.0 290.3 713.3 288.0 708.0C285.7 702.7 284.7 696.7 282.0 690.0C279.3 683.3 275.3 674.7 272.0 668.0C268.7 661.3 266.3 654.3 262.0 650.0C257.7 645.7 248.7 643.3 246.0 642.0Z" fill="#20dcd5" opacity="0.9" filter="url(#gb2)"/>
<path d="M250.0 632.0C255.0 630.3 270.3 622.7 280.0 622.0C289.7 621.3 298.8 623.7 308.0 628.0C317.2 632.3 326.7 640.0 335.0 648.0C343.3 656.0 350.8 666.3 358.0 676.0C365.2 685.7 372.0 696.0 378.0 706.0C384.0 716.0 389.5 726.0 394.0 736.0C398.5 746.0 402.3 756.0 405.0 766.0C407.7 776.0 409.3 786.0 410.0 796.0C410.7 806.0 409.7 815.3 409.0 826.0C408.3 836.7 407.0 846.7 406.0 860.0C405.0 873.3 403.5 898.3 403.0 906.0" stroke="#7ffaf4" stroke-width="11" fill="none" opacity="0.85" stroke-linecap="round" filter="url(#gb2)"/>
<path d="M268.0 646.0C272.5 646.7 286.0 646.3 295.0 650.0C304.0 653.7 313.5 660.7 322.0 668.0C330.5 675.3 338.3 684.7 346.0 694.0C353.7 703.3 361.3 714.0 368.0 724.0C374.7 734.0 381.0 743.7 386.0 754.0C391.0 764.3 395.0 775.0 398.0 786.0C401.0 797.0 403.0 814.3 404.0 820.0" stroke="#8ffcf6" stroke-width="9" fill="none" opacity="0.8" stroke-linecap="round" filter="url(#gb2)"/>
<path d="M290.0 690.0C293.7 691.7 304.3 695.3 312.0 700.0C319.7 704.7 328.3 711.0 336.0 718.0C343.7 725.0 351.3 733.3 358.0 742.0C364.7 750.7 370.7 760.3 376.0 770.0C381.3 779.7 386.5 790.0 390.0 800.0C393.5 810.0 395.3 818.3 397.0 830.0C398.7 841.7 399.5 863.3 400.0 870.0" stroke="#6fefe8" stroke-width="7" fill="none" opacity="0.7" stroke-linecap="round" filter="url(#gb2)"/>
<path d="M318.0 640.0C322.5 644.0 336.3 654.0 345.0 664.0C353.7 674.0 362.8 688.0 370.0 700.0C377.2 712.0 383.0 724.7 388.0 736.0C393.0 747.3 397.0 758.0 400.0 768.0C403.0 778.0 404.8 786.3 406.0 796.0C407.2 805.7 407.2 815.3 407.0 826.0C406.8 836.7 405.8 846.7 405.0 860.0C404.2 873.3 402.5 898.3 402.0 906.0" stroke="#d8fffd" stroke-width="8" fill="none" opacity="0.85" stroke-linecap="round" filter="url(#gb2)"/>
<path d="M300.0 664.0C304.3 667.3 317.7 676.0 326.0 684.0C334.3 692.0 342.3 702.0 350.0 712.0C357.7 722.0 365.7 733.3 372.0 744.0C378.3 754.7 385.3 770.7 388.0 776.0" stroke="#c8fffb" stroke-width="6" fill="none" opacity="0.7" stroke-linecap="round" filter="url(#gb2)"/>
<path d="M236.0 628.0C238.3 627.3 245.7 625.3 250.0 624.0C254.3 622.7 260.0 620.7 262.0 620.0" stroke="#bff" stroke-width="5" fill="none" opacity="0.8" stroke-linecap="round" filter="url(#gb1)"/>
<circle cx="288" cy="712" r="4" fill="#9ffcf8" opacity="0.7" filter="url(#gb2)"/>
<circle cx="296" cy="721" r="3" fill="#9ffcf8" opacity="0.7" filter="url(#gb2)"/>
<circle cx="246" cy="640" r="3" fill="#9ffcf8" opacity="0.7" filter="url(#gb2)"/>
<circle cx="308" cy="721" r="3" fill="#9ffcf8" opacity="0.7" filter="url(#gb2)"/>
<path d="M412.0 762.0C413.3 763.7 416.7 769.7 420.0 772.0C423.3 774.3 430.0 775.3 432.0 776.0" stroke="#2cc" stroke-width="4" fill="none" opacity="0.7" filter="url(#gb1)"/>
<path d="M440.0 790.0C445.0 796.7 460.0 817.0 470.0 830.0C480.0 843.0 491.0 857.2 500.0 868.0C509.0 878.8 520.0 890.5 524.0 895.0" stroke="#0a8a86" stroke-width="4" fill="none" opacity="0.55" filter="url(#gb2)"/>
</g></g>
<g id="pb"><rect x="535.5" y="10.1" width="214" height="427.8" fill="#fff"/><g fill="none" stroke-width="13.72" shape-rendering="crispEdges"><path stroke="#f8f8f8" d="M542.1 363.9v4.0M542.1 379.9v4.0M555.5 357.9v4.0M555.5 377.9v2.0M568.8 126.0v6.0M568.8 353.9v4.0M568.8 373.9v2.0M582.2 144.0v2.0M582.2 150.0v2.0M582.2 349.9v2.0M582.2 367.9v4.0M595.6 343.9v2.0M595.6 365.9v2.0M609.0 337.9v4.0M609.0 361.9v2.0M622.3 331.9v2.0M622.3 357.9v2.0M635.7 324.0v4.0M635.7 353.9v4.0M649.1 130.0v4.0M649.1 236.0v8.0M649.1 314.0v4.0M649.1 349.9v4.0M662.5 128.0v2.0M662.5 138.0v2.0M662.5 236.0v2.0M662.5 248.0v56.0M662.5 347.9v4.0M675.8 130.0v2.0M675.8 144.0v2.0M675.8 236.0v2.0M675.8 343.9v6.0M689.2 134.0v2.0M689.2 154.0v2.0M689.2 180.0v4.0M689.2 236.0v2.0M689.2 335.9v6.0M702.6 136.0v2.0M702.6 156.0v2.0M702.6 178.0v2.0M702.6 186.0v2.0M702.6 236.0v2.0M702.6 326.0v6.0M716.0 142.0v2.0M716.0 160.0v2.0M716.0 176.0v2.0M716.0 192.0v2.0M716.0 236.0v2.0M716.0 330.0v8.0M729.3 148.0v2.0M729.3 156.0v2.0M729.3 178.0v2.0M729.3 200.0v2.0M729.3 214.0v4.0M729.3 324.0v6.0M742.7 150.0v6.0M742.7 176.0v2.0M742.7 324.0v8.0"/><path stroke="#f0f0f0" d="M542.1 367.9v2.0M542.1 377.9v2.0M555.5 361.9v2.0M555.5 375.9v2.0M568.8 371.9v2.0M582.2 351.9v2.0M595.6 345.9v2.0M595.6 363.9v2.0M609.0 359.9v2.0M622.3 333.9v2.0M622.3 355.9v2.0M635.7 328.0v2.0M635.7 351.9v2.0M649.1 318.0v2.0M649.1 347.9v2.0M662.5 238.0v10.0M662.5 304.0v2.0M662.5 345.9v2.0M675.8 238.0v54.0M675.8 341.9v2.0M689.2 333.9v2.0M702.6 180.0v6.0M702.6 322.0v4.0M716.0 268.0v2.0M716.0 328.0v2.0M729.3 150.0v6.0M729.3 236.0v2.0M729.3 320.0v4.0M742.7 320.0v4.0"/><path stroke="#e8e8e8" d="M542.1 369.9v2.0M542.1 375.9v2.0M555.5 363.9v2.0M555.5 373.9v2.0M568.8 357.9v2.0M568.8 369.9v2.0M582.2 146.0v4.0M582.2 353.9v2.0M582.2 365.9v2.0M595.6 347.9v2.0M595.6 361.9v2.0M609.0 341.9v2.0M609.0 357.9v2.0M622.3 335.9v2.0M622.3 353.9v2.0M635.7 330.0v2.0M649.1 320.0v2.0M662.5 130.0v8.0M662.5 306.0v2.0M662.5 343.9v2.0M675.8 132.0v2.0M675.8 142.0v2.0M675.8 292.0v2.0M675.8 339.9v2.0M689.2 136.0v2.0M689.2 152.0v2.0M689.2 238.0v34.0M689.2 331.9v2.0M702.6 138.0v2.0M702.6 154.0v2.0M702.6 238.0v18.0M702.6 320.0v2.0M716.0 144.0v16.0M716.0 178.0v14.0M716.0 238.0v24.0M716.0 324.0v4.0M729.3 180.0v2.0M729.3 198.0v2.0M729.3 318.0v2.0M742.7 178.0v2.0M742.7 318.0v2.0"/><path stroke="#e0e0e0" d="M542.1 371.9v4.0M555.5 365.9v2.0M555.5 371.9v2.0M568.8 359.9v2.0M568.8 367.9v2.0M582.2 363.9v2.0M635.7 349.9v2.0M649.1 345.9v2.0M662.5 308.0v2.0M662.5 341.9v2.0M675.8 134.0v8.0M675.8 294.0v2.0M675.8 337.9v2.0M689.2 138.0v14.0M689.2 272.0v2.0M689.2 330.0v2.0M702.6 140.0v14.0M702.6 256.0v4.0M702.6 318.0v2.0M716.0 262.0v2.0M716.0 270.0v2.0M716.0 322.0v2.0M729.3 238.0v2.0M729.3 316.0v2.0M742.7 180.0v8.0M742.7 216.0v20.0M742.7 316.0v2.0"/><path stroke="#d8d8d8" d="M555.5 367.9v4.0M568.8 361.9v2.0M568.8 365.9v2.0M582.2 355.9v2.0M595.6 349.9v2.0M595.6 359.9v2.0M609.0 343.9v2.0M609.0 355.9v2.0M622.3 337.9v2.0M622.3 351.9v2.0M635.7 331.9v2.0M649.1 322.0v2.0M662.5 310.0v2.0M675.8 296.0v2.0M689.2 274.0v2.0M689.2 328.0v2.0M702.6 260.0v2.0M716.0 264.0v4.0M716.0 320.0v2.0M729.3 182.0v16.0M729.3 240.0v14.0M729.3 314.0v2.0M742.7 188.0v4.0M742.7 212.0v4.0M742.7 236.0v4.0M742.7 314.0v2.0"/><path stroke="#d0d0d0" d="M568.8 363.9v2.0M582.2 357.9v2.0M582.2 361.9v2.0M635.7 347.9v2.0M649.1 343.9v2.0M662.5 339.9v2.0M675.8 298.0v2.0M675.8 335.9v2.0M689.2 276.0v2.0M702.6 316.0v2.0M729.3 254.0v2.0M729.3 312.0v2.0M742.7 192.0v20.0M742.7 240.0v18.0M742.7 312.0v2.0"/><path stroke="#c8c8c8" d="M582.2 359.9v2.0M595.6 351.9v2.0M595.6 357.9v2.0M609.0 345.9v2.0M609.0 353.9v2.0M622.3 339.9v2.0M622.3 349.9v2.0M649.1 324.0v2.0M662.5 312.0v2.0M675.8 300.0v2.0M689.2 278.0v2.0M689.2 326.0v2.0M702.6 262.0v2.0M702.6 314.0v2.0M716.0 318.0v2.0M729.3 256.0v2.0M729.3 310.0v2.0M742.7 258.0v2.0M742.7 310.0v2.0"/><path stroke="#c0c0c0" d="M595.6 353.9v4.0M609.0 347.9v2.0M609.0 351.9v2.0M635.7 333.9v2.0M635.7 345.9v2.0M649.1 341.9v2.0M662.5 314.0v2.0M675.8 333.9v2.0M716.0 272.0v2.0M716.0 316.0v2.0M729.3 258.0v2.0M742.7 260.0v2.0M742.7 308.0v2.0"/><path stroke="#b8b8b8" d="M609.0 349.9v2.0M622.3 341.9v2.0M622.3 347.9v2.0M649.1 326.0v2.0M662.5 337.9v2.0M675.8 302.0v2.0M689.2 280.0v2.0M689.2 324.0v2.0M702.6 264.0v2.0M702.6 312.0v2.0M729.3 308.0v2.0M742.7 262.0v2.0"/><path stroke="#b0b0b0" d="M622.3 343.9v4.0M635.7 335.9v2.0M635.7 343.9v2.0M649.1 339.9v2.0M662.5 316.0v2.0M675.8 304.0v2.0M675.8 331.9v2.0M716.0 314.0v2.0M729.3 260.0v2.0M742.7 264.0v2.0M742.7 306.0v2.0"/><path stroke="#a0a0a0" d="M635.7 337.9v2.0M635.7 341.9v2.0M649.1 337.9v2.0M662.5 318.0v2.0M675.8 306.0v2.0M675.8 330.0v2.0M716.0 274.0v2.0M742.7 268.0v2.0M742.7 302.0v2.0"/><path stroke="#989898" d="M635.7 339.9v2.0M649.1 330.0v2.0M689.2 284.0v2.0M702.6 268.0v2.0M716.0 276.0v2.0M716.0 310.0v2.0M729.3 264.0v2.0M729.3 304.0v2.0"/><path stroke="#a8a8a8" d="M649.1 328.0v2.0M662.5 335.9v2.0M689.2 282.0v2.0M689.2 322.0v2.0M702.6 266.0v2.0M702.6 310.0v2.0M716.0 312.0v2.0M729.3 262.0v2.0M729.3 306.0v2.0M742.7 266.0v2.0M742.7 304.0v2.0"/><path stroke="#909090" d="M649.1 331.9v2.0M649.1 335.9v2.0M662.5 320.0v2.0M662.5 333.9v2.0M675.8 308.0v2.0M675.8 328.0v2.0M689.2 320.0v2.0M702.6 308.0v2.0M742.7 270.0v2.0M742.7 300.0v2.0"/><path stroke="#888888" d="M649.1 333.9v2.0M675.8 310.0v2.0M689.2 286.0v2.0M716.0 278.0v2.0M716.0 308.0v2.0M729.3 266.0v2.0M729.3 302.0v2.0M742.7 272.0v2.0M742.7 298.0v2.0"/><path stroke="#808080" d="M662.5 322.0v2.0M662.5 331.9v2.0M702.6 270.0v2.0M716.0 280.0v2.0M742.7 274.0v2.0"/><path stroke="#787878" d="M662.5 324.0v2.0M675.8 312.0v2.0M675.8 326.0v2.0M689.2 288.0v2.0M689.2 318.0v2.0M702.6 306.0v2.0M716.0 306.0v2.0M729.3 268.0v2.0M729.3 300.0v2.0M742.7 276.0v2.0M742.7 296.0v2.0"/><path stroke="#707070" d="M662.5 326.0v6.0M675.8 314.0v2.0M675.8 324.0v2.0M702.6 272.0v2.0M716.0 282.0v2.0M716.0 304.0v2.0M742.7 278.0v2.0M742.7 294.0v2.0"/><path stroke="#686868" d="M675.8 316.0v2.0M675.8 322.0v2.0M689.2 290.0v2.0M689.2 316.0v2.0M716.0 284.0v2.0M729.3 270.0v2.0M729.3 298.0v2.0M742.7 280.0v4.0M742.7 290.0v4.0"/><path stroke="#606060" d="M675.8 318.0v4.0M702.6 304.0v2.0M716.0 302.0v2.0M742.7 284.0v6.0"/><path stroke="#585858" d="M689.2 292.0v2.0M702.6 274.0v2.0M716.0 286.0v2.0M716.0 300.0v2.0M729.3 272.0v2.0"/><path stroke="#484848" d="M689.2 294.0v2.0M702.6 302.0v2.0M716.0 292.0v6.0M729.3 274.0v2.0"/><path stroke="#383838" d="M689.2 296.0v2.0M689.2 312.0v2.0M702.6 300.0v2.0M729.3 292.0v2.0"/><path stroke="#282828" d="M689.2 298.0v2.0M689.2 310.0v2.0M729.3 280.0v2.0M729.3 290.0v2.0"/><path stroke="#202020" d="M689.2 300.0v2.0M689.2 308.0v2.0M702.6 298.0v2.0M729.3 282.0v8.0"/><path stroke="#181818" d="M689.2 302.0v6.0M702.6 280.0v2.0"/><path stroke="#505050" d="M689.2 314.0v2.0M716.0 288.0v4.0M716.0 298.0v2.0M729.3 296.0v2.0"/><path stroke="#404040" d="M702.6 276.0v2.0M729.3 276.0v2.0M729.3 294.0v2.0"/><path stroke="#303030" d="M702.6 278.0v2.0M729.3 278.0v2.0"/><path stroke="#080808" d="M702.6 282.0v2.0"/><path stroke="#000000" d="M702.6 284.0v12.0"/><path stroke="#101010" d="M702.6 296.0v2.0"/></g><ellipse cx="555.5" cy="127.6" rx="6.5" ry="0.9" fill="#00f000"/><ellipse cx="568.8" cy="134.2" rx="3.0" ry="0.8" fill="#00f000"/><ellipse cx="568.8" cy="140.5" rx="8.6" ry="1.8" fill="#00f000"/><ellipse cx="582.2" cy="162.0" rx="7.0" ry="0.9" fill="#00f000"/><ellipse cx="555.5" cy="172.8" rx="9.3" ry="2.6" fill="#b8f8b0" stroke="#00f000" stroke-width="1.3"/><ellipse cx="555.5" cy="178.0" rx="5.5" ry="1.0" fill="#00f000"/><path d="M545.0 187.5Q555.5 184.5 566.0 187.5L563.5 191.5L560.5 194.5L550.5 194.5L547.5 191.5Z" fill="#00f000"/><path d="M710.3 57.2L727.3 56.6L741.8 58.6L741.8 61L729.3 60.2L717.3 58.6Z" fill="#00f000"/><ellipse cx="635.7" cy="364.9" rx="8.7" ry="1.5" fill="#00f000"/><ellipse cx="662.5" cy="374.1" rx="9.4" ry="1.5" fill="#00f000"/><ellipse cx="662.5" cy="378.8" rx="1.6" ry="0.8" fill="#00f000"/><ellipse cx="662.5" cy="385.6" rx="3.4" ry="1.2" fill="#b8f8b0" stroke="#00f000" stroke-width="1.0"/><path d="M658.5 388.6L666.5 388.6L672.0 392.4L653.0 392.4Z" fill="#00f000"/><ellipse cx="675.8" cy="403.1" rx="3.6" ry="0.8" fill="#00f000"/></g>
<g id="pc"><rect x="760.1" y="10.1" width="214" height="427.8" fill="#fff"/><g fill="none" stroke-width="13.72" shape-rendering="crispEdges"><path stroke="#f0f0ff" d="M766.7 369.9v2.0M766.7 373.9v2.0M806.8 355.9v4.0M833.6 343.9v2.0M846.9 351.9v2.0M873.7 240.0v2.0M873.7 328.0v2.0M900.4 274.0v2.0M900.4 341.9v2.0M913.8 260.0v2.0M913.8 333.9v2.0M927.2 304.0v2.0M940.6 186.0v2.0M953.9 254.0v2.0M953.9 314.0v2.0M967.3 224.0v8.0M967.3 256.0v2.0M967.3 264.0v2.0M967.3 300.0v2.0M967.3 326.0v2.0"/><path stroke="#fff0e8" d="M766.7 375.9v2.0M766.7 379.9v2.0M793.4 363.9v2.0M806.8 367.9v2.0M846.9 353.9v2.0M860.3 330.0v2.0M860.3 339.9v2.0M860.3 347.9v4.0M873.7 242.0v2.0M873.7 318.0v2.0M873.7 326.0v2.0M873.7 345.9v2.0M887.1 244.0v2.0M887.1 310.0v2.0M887.1 322.0v2.0M887.1 326.0v4.0M887.1 337.9v2.0M900.4 134.0v2.0M900.4 244.0v2.0M900.4 262.0v2.0M900.4 304.0v2.0M900.4 312.0v2.0M900.4 322.0v2.0M900.4 326.0v2.0M900.4 331.9v2.0M913.8 148.0v2.0M913.8 154.0v2.0M913.8 262.0v2.0M913.8 290.0v2.0M913.8 298.0v2.0M913.8 308.0v2.0M927.2 270.0v2.0M927.2 278.0v2.0M927.2 296.0v2.0M927.2 318.0v2.0M940.6 268.0v4.0M940.6 300.0v2.0M940.6 304.0v2.0M953.9 246.0v2.0M953.9 272.0v2.0M953.9 288.0v2.0M953.9 292.0v4.0M953.9 318.0v2.0M967.3 236.0v2.0M967.3 260.0v2.0M967.3 274.0v2.0M967.3 282.0v8.0"/><path stroke="#e8f0ff" d="M766.7 377.9v2.0M806.8 363.9v2.0M820.2 363.9v2.0M833.6 349.9v6.0M846.9 335.9v2.0M860.3 343.9v2.0M873.7 134.0v2.0M873.7 330.0v2.0M873.7 351.9v2.0M887.1 136.0v2.0M887.1 242.0v2.0M887.1 248.0v2.0M887.1 306.0v2.0M887.1 345.9v2.0M900.4 144.0v2.0M900.4 240.0v2.0M900.4 266.0v2.0M900.4 280.0v2.0M900.4 294.0v2.0M900.4 316.0v2.0M900.4 333.9v2.0M913.8 142.0v2.0M913.8 150.0v2.0M913.8 248.0v2.0M913.8 252.0v2.0M913.8 256.0v2.0M913.8 266.0v2.0M913.8 276.0v2.0M913.8 292.0v2.0M913.8 322.0v2.0M913.8 330.0v2.0M927.2 154.0v2.0M927.2 242.0v2.0M927.2 260.0v4.0M927.2 306.0v2.0M940.6 152.0v2.0M940.6 160.0v2.0M940.6 180.0v2.0M940.6 240.0v2.0M940.6 258.0v2.0M940.6 262.0v2.0M940.6 298.0v2.0M940.6 308.0v2.0M953.9 192.0v2.0M953.9 216.0v2.0M953.9 240.0v4.0M953.9 262.0v2.0M953.9 266.0v2.0M953.9 302.0v4.0M967.3 180.0v2.0M967.3 184.0v2.0M967.3 210.0v4.0M967.3 216.0v2.0M967.3 234.0v2.0M967.3 238.0v2.0M967.3 242.0v4.0M967.3 252.0v2.0M967.3 262.0v2.0"/><path stroke="#98b0f8" d="M766.7 381.9v4.0M927.2 314.0v2.0"/><path stroke="#d0d8f8" d="M780.1 365.9v2.0M900.4 320.0v2.0"/><path stroke="#fff0e0" d="M780.1 367.9v2.0M806.8 359.9v2.0M887.1 132.0v2.0M887.1 314.0v2.0M900.4 138.0v2.0M900.4 284.0v2.0M900.4 306.0v2.0M900.4 324.0v2.0M913.8 144.0v2.0M913.8 258.0v2.0M927.2 142.0v2.0M927.2 246.0v4.0M940.6 272.0v2.0M940.6 284.0v2.0M940.6 306.0v2.0M940.6 310.0v2.0M953.9 284.0v2.0M967.3 276.0v4.0M967.3 296.0v2.0"/><path stroke="#f0f8ff" d="M780.1 369.9v2.0M820.2 355.9v4.0M887.1 134.0v2.0M887.1 304.0v2.0M900.4 260.0v2.0M900.4 308.0v2.0M900.4 335.9v2.0M900.4 343.9v2.0M913.8 312.0v2.0M913.8 335.9v2.0M927.2 240.0v2.0M940.6 192.0v2.0M940.6 244.0v2.0M940.6 254.0v2.0M940.6 260.0v2.0M940.6 264.0v2.0M940.6 288.0v2.0M940.6 318.0v2.0M940.6 331.9v2.0M953.9 186.0v2.0M953.9 250.0v2.0M953.9 290.0v2.0M953.9 308.0v2.0M967.3 182.0v2.0M967.3 192.0v2.0M967.3 206.0v2.0M967.3 246.0v2.0M967.3 318.0v2.0"/><path stroke="#f8f8ff" d="M780.1 371.9v2.0M873.7 322.0v2.0M887.1 347.9v2.0M900.4 248.0v2.0M927.2 182.0v2.0M927.2 326.0v2.0M940.6 156.0v2.0M940.6 250.0v2.0M940.6 330.0v2.0M953.9 182.0v2.0M953.9 218.0v2.0M967.3 308.0v2.0M967.3 322.0v2.0"/><path stroke="#ffe8d8" d="M780.1 373.9v2.0M820.2 351.9v2.0M820.2 361.9v2.0M846.9 349.9v2.0M860.3 341.9v2.0M873.7 331.9v4.0M873.7 343.9v2.0M887.1 240.0v2.0M887.1 246.0v2.0M887.1 318.0v2.0M887.1 333.9v2.0M900.4 136.0v2.0M900.4 242.0v2.0M900.4 272.0v2.0M900.4 292.0v2.0M900.4 330.0v2.0M913.8 138.0v2.0M913.8 146.0v2.0M913.8 244.0v2.0M913.8 272.0v2.0M913.8 286.0v4.0M913.8 294.0v4.0M913.8 304.0v2.0M913.8 314.0v4.0M913.8 331.9v2.0M927.2 150.0v2.0M927.2 250.0v2.0M927.2 276.0v2.0M927.2 282.0v2.0M927.2 290.0v6.0M927.2 320.0v2.0M927.2 324.0v2.0M940.6 276.0v2.0M940.6 282.0v2.0M940.6 290.0v4.0M940.6 296.0v2.0M940.6 302.0v2.0M940.6 312.0v2.0M953.9 154.0v2.0M953.9 184.0v2.0M953.9 244.0v2.0M953.9 258.0v2.0M953.9 264.0v2.0M953.9 270.0v2.0M953.9 276.0v2.0M953.9 282.0v2.0M953.9 316.0v2.0M967.3 232.0v2.0M967.3 250.0v2.0M967.3 268.0v2.0M967.3 290.0v2.0M967.3 298.0v2.0M967.3 302.0v2.0M967.3 320.0v2.0"/><path stroke="#a0b8f8" d="M780.1 377.9v4.0M900.4 337.9v4.0M940.6 320.0v4.0"/><path stroke="#98b0f0" d="M793.4 130.0v2.0M806.8 150.0v2.0"/><path stroke="#e0e8ff" d="M793.4 357.9v2.0M806.8 361.9v2.0M820.2 359.9v2.0M846.9 341.9v2.0M887.1 138.0v2.0M900.4 246.0v2.0M900.4 254.0v2.0M913.8 250.0v2.0M913.8 278.0v2.0M927.2 152.0v2.0M927.2 316.0v2.0M940.6 182.0v2.0M940.6 266.0v2.0M940.6 316.0v2.0M953.9 198.0v4.0M953.9 324.0v2.0M967.3 190.0v2.0M967.3 218.0v2.0M967.3 248.0v2.0M967.3 306.0v2.0M967.3 312.0v2.0M967.3 324.0v2.0"/><path stroke="#ffe8e0" d="M793.4 365.9v2.0M860.3 331.9v2.0M860.3 335.9v4.0M873.7 341.9v2.0M887.1 320.0v2.0M887.1 330.0v4.0M900.4 310.0v2.0M913.8 240.0v2.0M913.8 274.0v2.0M913.8 310.0v2.0M913.8 320.0v2.0M913.8 337.9v2.0M927.2 274.0v2.0M927.2 284.0v2.0M927.2 300.0v2.0M940.6 158.0v2.0M940.6 256.0v2.0M940.6 278.0v4.0M940.6 294.0v2.0M953.9 252.0v2.0M953.9 278.0v4.0M953.9 322.0v2.0M967.3 188.0v2.0M967.3 196.0v2.0M967.3 258.0v2.0M967.3 272.0v2.0M967.3 280.0v2.0"/><path stroke="#e0e8f8" d="M793.4 369.9v2.0M913.8 282.0v2.0"/><path stroke="#a8b8f8" d="M793.4 373.9v4.0M833.6 359.9v4.0M953.9 310.0v4.0"/><path stroke="#fff0f0" d="M806.8 353.9v2.0M846.9 337.9v2.0M846.9 347.9v2.0M900.4 345.9v2.0M927.2 264.0v2.0M940.6 286.0v2.0M953.9 156.0v2.0M967.3 208.0v2.0"/><path stroke="#98c0f8" d="M806.8 369.9v2.0M967.3 314.0v2.0"/><path stroke="#c8d8f8" d="M820.2 353.9v2.0M927.2 254.0v2.0M927.2 328.0v2.0M953.9 188.0v2.0"/><path stroke="#a0b0f8" d="M820.2 365.9v4.0"/><path stroke="#fff8f0" d="M833.6 347.9v2.0M873.7 132.0v2.0M873.7 320.0v2.0M873.7 324.0v2.0M887.1 312.0v2.0M900.4 268.0v2.0M900.4 318.0v2.0M913.8 300.0v4.0M913.8 306.0v2.0M927.2 140.0v2.0M927.2 148.0v2.0M927.2 256.0v2.0M927.2 266.0v2.0M927.2 286.0v4.0M927.2 322.0v2.0M940.6 150.0v2.0M940.6 324.0v2.0M953.9 274.0v2.0M967.3 204.0v2.0M967.3 240.0v2.0M967.3 254.0v2.0"/><path stroke="#98b8f8" d="M846.9 355.9v4.0M887.1 343.9v2.0"/><path stroke="#a0c0f8" d="M860.3 351.9v4.0"/><path stroke="#a8b0f8" d="M873.7 347.9v4.0"/><path stroke="#d0e0f8" d="M900.4 250.0v2.0M967.3 194.0v2.0M967.3 294.0v2.0"/><path stroke="#e8e8ff" d="M900.4 286.0v2.0M967.3 200.0v2.0"/><path stroke="#d8e8f8" d="M900.4 290.0v2.0M927.2 310.0v2.0"/><path stroke="#b8c8f8" d="M913.8 182.0v4.0"/><path stroke="#a8c0f8" d="M913.8 326.0v4.0"/><path stroke="#c8d0f8" d="M927.2 184.0v4.0"/><path stroke="#d8e0f8" d="M927.2 312.0v2.0M940.6 252.0v2.0M940.6 314.0v2.0"/><path stroke="#0828f0" d="M940.6 274.0v2.0"/></g></g>
<g id="pd"><rect x="984.7" y="10.1" width="214" height="427.8" fill="#fff"/><g fill="none" stroke-width="13.72" shape-rendering="crispEdges"><path stroke="#f8f8f8" d="M991.3 14.1v2.0M991.3 28.1v2.0M991.3 32.1v2.0M991.3 40.1v2.0M991.3 52.1v2.0M991.3 98.1v2.0M991.3 116.1v2.0M991.3 122.0v2.0M991.3 130.0v4.0M991.3 136.0v2.0M991.3 142.0v2.0M991.3 148.0v2.0M991.3 154.0v2.0M991.3 178.0v2.0M991.3 192.0v2.0M991.3 212.0v2.0M991.3 224.0v4.0M991.3 240.0v2.0M991.3 246.0v2.0M991.3 258.0v2.0M991.3 266.0v2.0M991.3 270.0v2.0M991.3 294.0v6.0M991.3 310.0v2.0M991.3 316.0v2.0M991.3 322.0v2.0M991.3 326.0v2.0M991.3 355.9v4.0M991.3 361.9v2.0M991.3 373.9v2.0M991.3 387.9v2.0M991.3 397.9v2.0M991.3 401.9v2.0M991.3 407.9v2.0M991.3 411.9v2.0M991.3 417.9v2.0M991.3 421.9v2.0M991.3 433.9v2.0M1004.7 10.1v2.0M1004.7 32.1v2.0M1004.7 36.1v2.0M1004.7 42.1v2.0M1004.7 50.1v2.0M1004.7 76.1v2.0M1004.7 80.1v2.0M1004.7 106.1v4.0M1004.7 114.1v2.0M1004.7 118.0v2.0M1004.7 128.0v2.0M1004.7 138.0v2.0M1004.7 148.0v2.0M1004.7 152.0v2.0M1004.7 170.0v2.0M1004.7 176.0v2.0M1004.7 180.0v2.0M1004.7 184.0v2.0M1004.7 188.0v2.0M1004.7 192.0v2.0M1004.7 196.0v2.0M1004.7 200.0v4.0M1004.7 210.0v4.0M1004.7 226.0v2.0M1004.7 232.0v2.0M1004.7 236.0v4.0M1004.7 242.0v2.0M1004.7 248.0v2.0M1004.7 262.0v2.0M1004.7 268.0v4.0M1004.7 288.0v4.0M1004.7 298.0v4.0M1004.7 304.0v2.0M1004.7 312.0v4.0M1004.7 318.0v4.0M1004.7 347.9v4.0M1004.7 353.9v6.0M1004.7 367.9v4.0M1004.7 373.9v2.0M1004.7 377.9v2.0M1004.7 397.9v2.0M1004.7 401.9v2.0M1004.7 411.9v4.0M1004.7 427.9v4.0M1018.0 30.1v2.0M1018.0 38.1v2.0M1018.0 70.1v2.0M1018.0 78.1v2.0M1018.0 88.1v4.0M1018.0 96.1v2.0M1018.0 102.1v6.0M1018.0 112.1v2.0M1018.0 124.0v4.0M1018.0 134.0v6.0M1018.0 144.0v2.0M1018.0 148.0v2.0M1018.0 158.0v2.0M1018.0 166.0v2.0M1018.0 184.0v2.0M1018.0 190.0v2.0M1018.0 194.0v2.0M1018.0 216.0v4.0M1018.0 224.0v4.0M1018.0 234.0v2.0M1018.0 250.0v2.0M1018.0 258.0v6.0M1018.0 266.0v2.0M1018.0 278.0v2.0M1018.0 296.0v2.0M1018.0 306.0v6.0M1018.0 341.9v4.0M1018.0 363.9v2.0M1018.0 375.9v2.0M1018.0 383.9v2.0M1018.0 389.9v2.0M1018.0 395.9v6.0M1018.0 411.9v2.0M1018.0 415.9v2.0M1018.0 423.9v2.0M1018.0 433.9v2.0M1031.4 22.1v2.0M1031.4 28.1v2.0M1031.4 36.1v4.0M1031.4 52.1v2.0M1031.4 60.1v2.0M1031.4 70.1v2.0M1031.4 82.1v2.0M1031.4 98.1v2.0M1031.4 108.1v4.0M1031.4 118.0v2.0M1031.4 138.0v4.0M1031.4 160.0v2.0M1031.4 196.0v2.0M1031.4 204.0v2.0M1031.4 214.0v2.0M1031.4 218.0v2.0M1031.4 226.0v2.0M1031.4 242.0v4.0M1031.4 248.0v4.0M1031.4 254.0v2.0M1031.4 260.0v2.0M1031.4 264.0v6.0M1031.4 274.0v2.0M1031.4 280.0v2.0M1031.4 286.0v6.0M1031.4 298.0v8.0M1031.4 333.9v16.0M1031.4 361.9v2.0M1031.4 369.9v4.0M1031.4 395.9v4.0M1031.4 405.9v2.0M1031.4 421.9v4.0M1044.8 32.1v6.0M1044.8 46.1v4.0M1044.8 52.1v2.0M1044.8 68.1v2.0M1044.8 78.1v4.0M1044.8 88.1v2.0M1044.8 92.1v4.0M1044.8 98.1v2.0M1044.8 108.1v2.0M1044.8 112.1v4.0M1044.8 118.0v2.0M1044.8 124.0v2.0M1044.8 128.0v4.0M1044.8 134.0v2.0M1044.8 176.0v2.0M1044.8 194.0v2.0M1044.8 198.0v10.0M1044.8 216.0v2.0M1044.8 242.0v2.0M1044.8 262.0v8.0M1044.8 284.0v6.0M1044.8 326.0v8.0M1044.8 345.9v2.0M1044.8 353.9v2.0M1044.8 367.9v2.0M1044.8 371.9v2.0M1044.8 375.9v2.0M1044.8 403.9v2.0M1044.8 407.9v4.0M1044.8 421.9v2.0M1044.8 431.9v2.0M1058.2 26.1v4.0M1058.2 32.1v4.0M1058.2 38.1v4.0M1058.2 48.1v4.0M1058.2 74.1v2.0M1058.2 88.1v2.0M1058.2 104.1v2.0M1058.2 112.1v2.0M1058.2 128.0v2.0M1058.2 134.0v2.0M1058.2 142.0v2.0M1058.2 148.0v2.0M1058.2 164.0v4.0M1058.2 172.0v2.0M1058.2 180.0v2.0M1058.2 204.0v2.0M1058.2 220.0v2.0M1058.2 228.0v2.0M1058.2 242.0v2.0M1058.2 246.0v8.0M1058.2 260.0v2.0M1058.2 268.0v6.0M1058.2 278.0v2.0M1058.2 322.0v6.0M1058.2 331.9v6.0M1058.2 339.9v2.0M1058.2 357.9v2.0M1058.2 365.9v2.0M1058.2 379.9v2.0M1058.2 387.9v2.0M1058.2 401.9v2.0M1058.2 405.9v4.0M1058.2 417.9v4.0M1058.2 423.9v6.0M1071.5 24.1v2.0M1071.5 44.1v2.0M1071.5 58.1v2.0M1071.5 64.1v2.0M1071.5 68.1v2.0M1071.5 76.1v4.0M1071.5 84.1v2.0M1071.5 92.1v2.0M1071.5 96.1v4.0M1071.5 106.1v2.0M1071.5 118.0v4.0M1071.5 124.0v2.0M1071.5 144.0v2.0M1071.5 156.0v2.0M1071.5 170.0v2.0M1071.5 174.0v4.0M1071.5 184.0v2.0M1071.5 194.0v4.0M1071.5 206.0v2.0M1071.5 218.0v2.0M1071.5 222.0v4.0M1071.5 228.0v4.0M1071.5 240.0v4.0M1071.5 262.0v4.0M1071.5 270.0v4.0M1071.5 316.0v6.0M1071.5 324.0v2.0M1071.5 333.9v2.0M1071.5 341.9v2.0M1071.5 353.9v4.0M1071.5 371.9v4.0M1071.5 377.9v2.0M1071.5 395.9v4.0M1071.5 405.9v2.0M1071.5 409.9v2.0M1071.5 423.9v2.0M1084.9 10.1v4.0M1084.9 22.1v2.0M1084.9 26.1v2.0M1084.9 30.1v2.0M1084.9 34.1v6.0M1084.9 42.1v4.0M1084.9 50.1v2.0M1084.9 68.1v4.0M1084.9 82.1v2.0M1084.9 92.1v4.0M1084.9 100.1v2.0M1084.9 110.1v2.0M1084.9 116.1v2.0M1084.9 124.0v2.0M1084.9 130.0v2.0M1084.9 152.0v2.0M1084.9 162.0v2.0M1084.9 170.0v2.0M1084.9 190.0v4.0M1084.9 208.0v2.0M1084.9 218.0v2.0M1084.9 242.0v4.0M1084.9 312.0v10.0M1084.9 326.0v2.0M1084.9 330.0v2.0M1084.9 341.9v2.0M1084.9 345.9v2.0M1084.9 349.9v6.0M1084.9 361.9v2.0M1084.9 377.9v4.0M1084.9 395.9v2.0M1084.9 407.9v2.0M1084.9 423.9v2.0M1084.9 429.9v2.0M1098.3 16.1v2.0M1098.3 28.1v2.0M1098.3 34.1v4.0M1098.3 58.1v2.0M1098.3 64.1v4.0M1098.3 76.1v2.0M1098.3 80.1v2.0M1098.3 84.1v4.0M1098.3 94.1v2.0M1098.3 102.1v2.0M1098.3 110.1v4.0M1098.3 128.0v6.0M1098.3 142.0v2.0M1098.3 158.0v2.0M1098.3 168.0v2.0M1098.3 180.0v2.0M1098.3 186.0v2.0M1098.3 212.0v2.0M1098.3 216.0v2.0M1098.3 240.0v4.0M1098.3 316.0v10.0M1098.3 330.0v4.0M1098.3 347.9v2.0M1098.3 357.9v2.0M1098.3 371.9v2.0M1098.3 387.9v2.0M1098.3 395.9v4.0M1098.3 401.9v2.0M1098.3 417.9v2.0M1098.3 425.9v2.0M1098.3 433.9v2.0M1111.7 10.1v2.0M1111.7 30.1v2.0M1111.7 34.1v2.0M1111.7 40.1v4.0M1111.7 52.1v2.0M1111.7 58.1v4.0M1111.7 68.1v2.0M1111.7 74.1v2.0M1111.7 86.1v2.0M1111.7 102.1v2.0M1111.7 112.1v8.0M1111.7 140.0v2.0M1111.7 144.0v6.0M1111.7 160.0v4.0M1111.7 172.0v2.0M1111.7 184.0v2.0M1111.7 190.0v2.0M1111.7 196.0v2.0M1111.7 204.0v4.0M1111.7 212.0v2.0M1111.7 216.0v2.0M1111.7 234.0v4.0M1111.7 246.0v10.0M1111.7 310.0v2.0M1111.7 314.0v6.0M1111.7 322.0v2.0M1111.7 326.0v4.0M1111.7 339.9v2.0M1111.7 373.9v6.0M1111.7 383.9v2.0M1111.7 401.9v2.0M1111.7 409.9v2.0M1125.0 24.1v4.0M1125.0 30.1v2.0M1125.0 36.1v2.0M1125.0 48.1v2.0M1125.0 62.1v10.0M1125.0 86.1v2.0M1125.0 92.1v2.0M1125.0 100.1v2.0M1125.0 118.0v2.0M1125.0 122.0v2.0M1125.0 126.0v2.0M1125.0 132.0v2.0M1125.0 138.0v2.0M1125.0 148.0v2.0M1125.0 154.0v2.0M1125.0 162.0v2.0M1125.0 168.0v2.0M1125.0 176.0v2.0M1125.0 198.0v2.0M1125.0 202.0v2.0M1125.0 210.0v2.0M1125.0 218.0v2.0M1125.0 222.0v2.0M1125.0 240.0v2.0M1125.0 248.0v2.0M1125.0 252.0v2.0M1125.0 256.0v2.0M1125.0 312.0v10.0M1125.0 324.0v6.0M1125.0 347.9v2.0M1125.0 353.9v2.0M1125.0 359.9v2.0M1125.0 373.9v2.0M1125.0 377.9v4.0M1125.0 383.9v2.0M1125.0 405.9v2.0M1125.0 409.9v2.0M1125.0 423.9v2.0M1125.0 429.9v6.0M1138.4 22.1v2.0M1138.4 26.1v2.0M1138.4 30.1v2.0M1138.4 36.1v4.0M1138.4 74.1v2.0M1138.4 98.1v2.0M1138.4 104.1v6.0M1138.4 112.1v2.0M1138.4 118.0v2.0M1138.4 126.0v2.0M1138.4 132.0v6.0M1138.4 140.0v2.0M1138.4 156.0v2.0M1138.4 160.0v2.0M1138.4 164.0v2.0M1138.4 170.0v2.0M1138.4 180.0v2.0M1138.4 184.0v2.0M1138.4 190.0v2.0M1138.4 210.0v4.0M1138.4 218.0v4.0M1138.4 226.0v2.0M1138.4 230.0v4.0M1138.4 236.0v2.0M1138.4 242.0v2.0M1138.4 246.0v2.0M1138.4 250.0v2.0M1138.4 264.0v2.0M1138.4 312.0v10.0M1138.4 326.0v2.0M1138.4 345.9v2.0M1138.4 349.9v2.0M1138.4 355.9v2.0M1138.4 365.9v2.0M1138.4 371.9v2.0M1138.4 381.9v2.0M1138.4 387.9v2.0M1138.4 409.9v4.0M1138.4 419.9v4.0M1138.4 433.9v4.0M1151.8 16.1v2.0M1151.8 20.1v4.0M1151.8 32.1v2.0M1151.8 36.1v6.0M1151.8 46.1v2.0M1151.8 50.1v2.0M1151.8 66.1v2.0M1151.8 72.1v2.0M1151.8 88.1v2.0M1151.8 98.1v2.0M1151.8 104.1v2.0M1151.8 108.1v2.0M1151.8 114.1v2.0M1151.8 132.0v4.0M1151.8 142.0v2.0M1151.8 150.0v2.0M1151.8 174.0v2.0M1151.8 178.0v2.0M1151.8 188.0v2.0M1151.8 206.0v2.0M1151.8 212.0v2.0M1151.8 216.0v2.0M1151.8 222.0v2.0M1151.8 228.0v2.0M1151.8 258.0v2.0M1151.8 264.0v2.0M1151.8 306.0v6.0M1151.8 316.0v2.0M1151.8 337.9v2.0M1151.8 341.9v2.0M1151.8 345.9v2.0M1151.8 353.9v2.0M1151.8 357.9v2.0M1151.8 369.9v2.0M1151.8 373.9v2.0M1151.8 379.9v2.0M1151.8 387.9v2.0M1151.8 391.9v2.0M1151.8 395.9v2.0M1151.8 415.9v2.0M1151.8 421.9v2.0M1151.8 429.9v2.0M1165.2 22.1v2.0M1165.2 36.1v2.0M1165.2 44.1v4.0M1165.2 52.1v2.0M1165.2 56.1v2.0M1165.2 60.1v4.0M1165.2 66.1v2.0M1165.2 78.1v2.0M1165.2 84.1v2.0M1165.2 88.1v2.0M1165.2 94.1v2.0M1165.2 110.1v4.0M1165.2 120.0v4.0M1165.2 134.0v2.0M1165.2 140.0v4.0M1165.2 156.0v2.0M1165.2 170.0v6.0M1165.2 178.0v2.0M1165.2 184.0v2.0M1165.2 190.0v2.0M1165.2 196.0v2.0M1165.2 206.0v4.0M1165.2 230.0v4.0M1165.2 302.0v8.0M1165.2 318.0v2.0M1165.2 322.0v2.0M1165.2 331.9v2.0M1165.2 335.9v2.0M1165.2 351.9v4.0M1165.2 359.9v2.0M1165.2 365.9v2.0M1165.2 371.9v4.0M1165.2 379.9v4.0M1165.2 387.9v2.0M1165.2 393.9v2.0M1165.2 397.9v4.0M1165.2 405.9v4.0M1165.2 423.9v2.0M1178.5 10.1v2.0M1178.5 22.1v2.0M1178.5 34.1v2.0M1178.5 44.1v2.0M1178.5 56.1v4.0M1178.5 70.1v2.0M1178.5 74.1v2.0M1178.5 78.1v4.0M1178.5 96.1v2.0M1178.5 100.1v2.0M1178.5 108.1v2.0M1178.5 112.1v2.0M1178.5 146.0v2.0M1178.5 156.0v4.0M1178.5 162.0v2.0M1178.5 168.0v2.0M1178.5 182.0v2.0M1178.5 188.0v2.0M1178.5 198.0v4.0M1178.5 206.0v4.0M1178.5 296.0v2.0M1178.5 302.0v2.0M1178.5 306.0v2.0M1178.5 322.0v2.0M1178.5 341.9v2.0M1178.5 347.9v2.0M1178.5 367.9v2.0M1178.5 371.9v6.0M1178.5 379.9v2.0M1178.5 401.9v4.0M1178.5 423.9v2.0M1178.5 427.9v2.0M1191.9 14.1v2.0M1191.9 26.1v2.0M1191.9 30.1v2.0M1191.9 52.1v2.0M1191.9 58.1v2.0M1191.9 62.1v4.0M1191.9 68.1v2.0M1191.9 84.1v2.0M1191.9 90.1v2.0M1191.9 104.1v4.0M1191.9 124.0v4.0M1191.9 144.0v2.0M1191.9 152.0v2.0M1191.9 156.0v2.0M1191.9 178.0v2.0M1191.9 184.0v2.0M1191.9 188.0v14.0M1191.9 204.0v2.0M1191.9 296.0v6.0M1191.9 308.0v2.0M1191.9 312.0v2.0M1191.9 349.9v6.0M1191.9 359.9v2.0M1191.9 367.9v2.0M1191.9 375.9v4.0M1191.9 385.9v2.0M1191.9 391.9v2.0M1191.9 405.9v2.0M1191.9 413.9v6.0M1191.9 431.9v4.0"/><path stroke="#e0e0e0" d="M991.3 54.1v2.0M991.3 333.9v2.0M1004.7 341.9v4.0M1018.0 54.1v4.0M1018.0 333.9v6.0M1031.4 56.1v2.0M1031.4 136.0v2.0M1031.4 312.0v4.0M1031.4 359.9v2.0M1044.8 316.0v4.0M1044.8 381.9v2.0M1058.2 54.1v4.0M1058.2 156.0v6.0M1058.2 310.0v6.0M1071.5 286.0v8.0M1071.5 300.0v4.0M1071.5 306.0v2.0M1071.5 381.9v2.0M1084.9 254.0v2.0M1084.9 262.0v2.0M1084.9 268.0v2.0M1084.9 280.0v2.0M1084.9 284.0v2.0M1084.9 288.0v10.0M1098.3 254.0v2.0M1098.3 264.0v2.0M1098.3 270.0v10.0M1098.3 300.0v2.0M1111.7 260.0v2.0M1111.7 268.0v2.0M1111.7 296.0v4.0M1111.7 302.0v4.0M1125.0 266.0v4.0M1125.0 274.0v4.0M1125.0 288.0v2.0M1125.0 304.0v2.0M1138.4 270.0v2.0M1138.4 280.0v6.0M1138.4 288.0v2.0M1138.4 296.0v2.0M1138.4 302.0v4.0M1165.2 240.0v2.0M1165.2 252.0v4.0M1165.2 260.0v2.0M1165.2 270.0v2.0M1165.2 294.0v4.0M1178.5 216.0v2.0M1178.5 226.0v2.0M1178.5 240.0v2.0M1178.5 256.0v2.0M1178.5 264.0v2.0M1178.5 268.0v2.0M1178.5 290.0v2.0M1191.9 212.0v2.0M1191.9 224.0v4.0M1191.9 262.0v8.0M1191.9 272.0v2.0M1191.9 282.0v2.0M1191.9 286.0v2.0"/><path stroke="#e8e8e8" d="M991.3 56.1v2.0M991.3 331.9v2.0M991.3 347.9v2.0M1004.7 54.1v2.0M1004.7 322.0v6.0M1018.0 316.0v4.0M1031.4 54.1v2.0M1031.4 308.0v4.0M1031.4 328.0v4.0M1044.8 296.0v4.0M1044.8 320.0v2.0M1044.8 383.9v2.0M1058.2 286.0v2.0M1058.2 290.0v4.0M1058.2 381.9v2.0M1071.5 160.0v2.0M1071.5 282.0v4.0M1071.5 304.0v2.0M1071.5 308.0v4.0M1084.9 144.0v2.0M1084.9 250.0v2.0M1084.9 256.0v6.0M1084.9 264.0v4.0M1084.9 270.0v10.0M1084.9 282.0v2.0M1084.9 306.0v2.0M1098.3 246.0v6.0M1098.3 258.0v6.0M1098.3 268.0v2.0M1098.3 302.0v10.0M1111.7 264.0v4.0M1111.7 306.0v2.0M1125.0 270.0v4.0M1125.0 308.0v2.0M1138.4 54.1v2.0M1138.4 266.0v4.0M1138.4 278.0v2.0M1138.4 298.0v4.0M1151.8 56.1v2.0M1151.8 266.0v2.0M1151.8 270.0v8.0M1151.8 296.0v4.0M1151.8 361.9v2.0M1165.2 238.0v2.0M1165.2 242.0v8.0M1165.2 258.0v2.0M1165.2 262.0v4.0M1165.2 292.0v2.0M1165.2 367.9v4.0M1178.5 212.0v4.0M1178.5 218.0v6.0M1178.5 228.0v2.0M1178.5 232.0v4.0M1178.5 244.0v8.0M1178.5 254.0v2.0M1178.5 260.0v4.0M1178.5 363.9v2.0M1191.9 122.0v2.0M1191.9 210.0v2.0M1191.9 214.0v6.0M1191.9 270.0v2.0M1191.9 288.0v4.0"/><path stroke="#c8c8c8" d="M991.3 200.0v2.0M1004.7 335.9v2.0M1004.7 339.9v2.0M1018.0 320.0v2.0M1018.0 324.0v4.0M1031.4 326.0v2.0M1071.5 54.1v4.0M1071.5 298.0v2.0M1111.7 274.0v4.0M1125.0 286.0v2.0M1138.4 294.0v2.0M1151.8 280.0v2.0M1151.8 284.0v4.0M1165.2 274.0v6.0M1165.2 284.0v6.0M1178.5 274.0v4.0M1178.5 280.0v4.0M1191.9 228.0v6.0M1191.9 238.0v2.0M1191.9 248.0v6.0M1191.9 276.0v4.0"/><path stroke="#f0f0f0" d="M991.3 328.0v4.0M991.3 349.9v6.0M1004.7 56.1v2.0M1004.7 345.9v2.0M1004.7 399.9v2.0M1018.0 312.0v4.0M1018.0 339.9v2.0M1031.4 134.0v2.0M1031.4 306.0v2.0M1031.4 331.9v2.0M1044.8 290.0v6.0M1044.8 322.0v4.0M1058.2 280.0v6.0M1058.2 288.0v2.0M1058.2 316.0v6.0M1058.2 383.9v2.0M1071.5 274.0v8.0M1071.5 312.0v4.0M1084.9 140.0v4.0M1084.9 246.0v4.0M1084.9 252.0v2.0M1084.9 304.0v2.0M1084.9 308.0v4.0M1098.3 244.0v2.0M1098.3 252.0v2.0M1098.3 312.0v4.0M1111.7 256.0v4.0M1111.7 262.0v2.0M1111.7 308.0v2.0M1111.7 312.0v2.0M1125.0 54.1v4.0M1125.0 258.0v8.0M1125.0 306.0v2.0M1125.0 310.0v2.0M1138.4 56.1v2.0M1138.4 272.0v6.0M1138.4 306.0v6.0M1151.8 54.1v2.0M1151.8 260.0v4.0M1151.8 268.0v2.0M1151.8 300.0v6.0M1151.8 363.9v2.0M1165.2 234.0v4.0M1165.2 250.0v2.0M1165.2 256.0v2.0M1165.2 298.0v4.0M1178.5 210.0v2.0M1178.5 224.0v2.0M1178.5 236.0v2.0M1178.5 242.0v2.0M1178.5 252.0v2.0M1178.5 292.0v4.0M1178.5 298.0v4.0M1178.5 304.0v2.0M1178.5 361.9v2.0M1178.5 365.9v2.0M1191.9 120.0v2.0M1191.9 202.0v2.0M1191.9 206.0v4.0M1191.9 292.0v4.0"/><path stroke="#d8d8d8" d="M991.3 335.9v2.0M991.3 343.9v4.0M1004.7 330.0v2.0M1018.0 331.9v2.0M1044.8 300.0v2.0M1044.8 308.0v8.0M1058.2 300.0v2.0M1058.2 304.0v6.0M1071.5 296.0v2.0M1071.5 383.9v2.0M1084.9 286.0v2.0M1084.9 300.0v4.0M1098.3 256.0v2.0M1098.3 266.0v2.0M1098.3 280.0v8.0M1098.3 296.0v4.0M1111.7 54.1v4.0M1111.7 270.0v2.0M1111.7 280.0v2.0M1111.7 284.0v4.0M1111.7 294.0v2.0M1111.7 300.0v2.0M1125.0 278.0v4.0M1125.0 294.0v10.0M1138.4 286.0v2.0M1138.4 290.0v2.0M1151.8 290.0v2.0M1151.8 294.0v2.0M1165.2 266.0v2.0M1178.5 230.0v2.0M1178.5 238.0v2.0M1178.5 258.0v2.0M1178.5 266.0v2.0M1178.5 270.0v2.0M1178.5 286.0v4.0M1191.9 220.0v4.0M1191.9 260.0v2.0M1191.9 280.0v2.0M1191.9 284.0v2.0"/><path stroke="#c0c0c0" d="M991.3 337.9v2.0M1018.0 322.0v2.0M1031.4 324.0v2.0M1044.8 306.0v2.0M1098.3 288.0v4.0M1111.7 278.0v2.0M1111.7 282.0v2.0M1125.0 343.9v2.0M1151.8 282.0v2.0M1178.5 278.0v2.0M1191.9 234.0v4.0M1191.9 246.0v2.0"/><path stroke="#b8b8b8" d="M991.3 339.9v4.0M1004.7 337.9v2.0M1031.4 156.0v4.0M1031.4 322.0v2.0M1044.8 144.0v2.0M1191.9 240.0v2.0M1191.9 244.0v2.0M1191.9 256.0v2.0"/><path stroke="#d0d0d0" d="M1004.7 328.0v2.0M1004.7 331.9v4.0M1018.0 328.0v4.0M1031.4 316.0v6.0M1044.8 302.0v4.0M1058.2 294.0v6.0M1058.2 302.0v2.0M1071.5 294.0v2.0M1084.9 54.1v4.0M1084.9 298.0v2.0M1098.3 292.0v4.0M1111.7 272.0v2.0M1111.7 288.0v6.0M1125.0 282.0v4.0M1125.0 290.0v4.0M1138.4 292.0v2.0M1151.8 278.0v2.0M1151.8 288.0v2.0M1151.8 292.0v2.0M1165.2 268.0v2.0M1165.2 272.0v2.0M1165.2 280.0v4.0M1165.2 290.0v2.0M1178.5 272.0v2.0M1178.5 284.0v2.0M1191.9 258.0v2.0M1191.9 274.0v2.0"/><path stroke="#909090" d="M1018.0 128.0v2.0M1044.8 150.0v2.0M1044.8 158.0v2.0"/><path stroke="#888888" d="M1018.0 130.0v2.0M1044.8 142.0v2.0M1098.3 56.1v2.0"/><path stroke="#000000" d="M1018.0 140.0v4.0M1071.5 347.9v4.0M1084.9 347.9v2.0M1178.5 343.9v2.0"/><path stroke="#505050" d="M1031.4 142.0v2.0M1031.4 146.0v2.0M1044.8 355.9v2.0"/><path stroke="#484848" d="M1031.4 144.0v2.0"/><path stroke="#707070" d="M1031.4 148.0v2.0"/><path stroke="#a8a8a8" d="M1031.4 150.0v2.0M1031.4 355.9v2.0"/><path stroke="#b0b0b0" d="M1031.4 152.0v4.0M1098.3 345.9v2.0M1111.7 343.9v2.0M1151.8 343.9v2.0M1191.9 242.0v2.0M1191.9 254.0v2.0M1191.9 341.9v2.0"/><path stroke="#787878" d="M1044.8 146.0v2.0M1044.8 152.0v2.0"/><path stroke="#808080" d="M1044.8 148.0v2.0"/><path stroke="#989898" d="M1044.8 154.0v4.0M1098.3 54.1v2.0M1138.4 343.9v2.0"/><path stroke="#282828" d="M1058.2 351.9v2.0"/><path stroke="#606060" d="M1165.2 345.9v2.0"/></g><ellipse cx="1004.7" cy="127.6" rx="6.5" ry="0.9" fill="#00f000"/><ellipse cx="1018.0" cy="134.2" rx="3.0" ry="0.8" fill="#00f000"/><ellipse cx="1018.0" cy="140.5" rx="8.6" ry="1.8" fill="#00f000"/><ellipse cx="1031.4" cy="162.0" rx="7.0" ry="0.9" fill="#00f000"/><ellipse cx="1004.7" cy="172.8" rx="9.3" ry="2.6" fill="#b8f8b0" stroke="#00f000" stroke-width="1.3"/><ellipse cx="1004.7" cy="178.0" rx="5.5" ry="1.0" fill="#00f000"/><path d="M994.2 187.5Q1004.7 184.5 1015.2 187.5L1012.7 191.5L1009.7 194.5L999.7 194.5L996.7 191.5Z" fill="#00f000"/><path d="M1159.5 57.2L1176.5 56.6L1191.0 58.6L1191.0 61L1178.5 60.2L1166.5 58.6Z" fill="#00f000"/><ellipse cx="1084.9" cy="364.9" rx="8.7" ry="1.5" fill="#00f000"/><ellipse cx="1111.7" cy="374.1" rx="9.4" ry="1.5" fill="#00f000"/><ellipse cx="1111.7" cy="378.8" rx="1.6" ry="0.8" fill="#00f000"/><ellipse cx="1111.7" cy="385.6" rx="3.4" ry="1.2" fill="#b8f8b0" stroke="#00f000" stroke-width="1.0"/><path d="M1107.7 388.6L1115.7 388.6L1121.2 392.4L1102.2 392.4Z" fill="#00f000"/><ellipse cx="1125.0" cy="403.1" rx="3.6" ry="0.8" fill="#00f000"/></g>
<g id="pe"><rect x="1207.7" y="8.4" width="217.2" height="431.2" fill="#000"/><g fill="none" stroke-width="13.72" shape-rendering="crispEdges"><path stroke="#600000" d="M1215.9 34.1v2.0M1215.9 58.1v2.0M1215.9 110.1v2.0M1215.9 284.0v2.0M1215.9 339.9v2.0M1215.9 383.9v2.0M1215.9 423.9v2.0M1229.3 110.1v2.0M1229.3 282.0v2.0M1229.3 349.9v4.0M1229.3 379.9v2.0M1229.3 383.9v2.0M1229.3 421.9v4.0M1242.6 34.1v2.0M1242.6 280.0v2.0M1242.6 288.0v4.0M1242.6 375.9v2.0M1242.6 381.9v2.0M1242.6 421.9v2.0M1256.0 58.1v2.0M1256.0 282.0v4.0M1256.0 337.9v2.0M1256.0 355.9v2.0M1256.0 417.9v2.0M1256.0 421.9v2.0M1269.4 36.1v2.0M1269.4 272.0v4.0M1269.4 282.0v4.0M1269.4 335.9v2.0M1269.4 381.9v2.0M1282.8 38.1v2.0M1282.8 112.1v2.0M1282.8 290.0v4.0M1282.8 383.9v2.0M1282.8 417.9v2.0M1282.8 427.9v2.0M1296.1 294.0v6.0M1296.1 320.0v2.0M1296.1 324.0v2.0M1296.1 385.9v2.0M1296.1 427.9v4.0M1309.5 248.0v6.0M1309.5 290.0v4.0M1309.5 302.0v4.0M1309.5 361.9v2.0M1309.5 379.9v2.0M1309.5 421.9v4.0M1309.5 427.9v4.0M1322.9 42.1v2.0M1322.9 60.1v2.0M1322.9 234.0v6.0M1322.9 258.0v6.0M1322.9 274.0v2.0M1322.9 369.9v2.0M1322.9 375.9v2.0M1322.9 389.9v2.0M1322.9 421.9v2.0M1336.3 44.1v2.0M1336.3 150.0v2.0M1336.3 172.0v6.0M1336.3 220.0v6.0M1336.3 250.0v6.0M1336.3 361.9v2.0M1336.3 413.9v2.0M1349.6 186.0v2.0M1349.6 232.0v6.0M1349.6 250.0v6.0M1349.6 284.0v4.0M1349.6 296.0v4.0M1349.6 365.9v2.0M1349.6 409.9v2.0M1363.0 116.1v4.0M1363.0 156.0v4.0M1363.0 176.0v6.0M1363.0 190.0v2.0M1363.0 266.0v10.0M1363.0 288.0v2.0M1363.0 294.0v6.0M1363.0 403.9v2.0M1376.4 62.1v2.0M1376.4 174.0v4.0M1376.4 216.0v2.0M1376.4 254.0v2.0M1376.4 288.0v2.0M1389.8 62.1v2.0M1389.8 118.0v2.0M1389.8 174.0v2.0M1389.8 264.0v2.0M1389.8 371.9v2.0M1403.1 62.1v2.0M1403.1 158.0v2.0M1403.1 258.0v6.0M1403.1 278.0v2.0M1403.1 369.9v2.0M1416.5 132.0v4.0M1416.5 144.0v6.0M1416.5 278.0v2.0M1416.5 361.9v4.0"/><path stroke="#900000" d="M1215.9 36.1v6.0M1215.9 56.1v2.0M1215.9 190.0v2.0M1215.9 276.0v2.0M1215.9 353.9v2.0M1215.9 369.9v2.0M1215.9 393.9v2.0M1215.9 417.9v2.0M1229.3 46.1v4.0M1229.3 54.1v2.0M1229.3 116.1v2.0M1229.3 196.0v2.0M1229.3 355.9v2.0M1229.3 365.9v2.0M1229.3 389.9v2.0M1229.3 395.9v2.0M1229.3 415.9v2.0M1242.6 36.1v2.0M1242.6 52.1v4.0M1242.6 116.1v2.0M1242.6 156.0v2.0M1242.6 184.0v2.0M1242.6 196.0v2.0M1242.6 256.0v2.0M1242.6 413.9v2.0M1256.0 150.0v4.0M1256.0 156.0v2.0M1256.0 178.0v2.0M1256.0 246.0v6.0M1256.0 260.0v4.0M1256.0 395.9v2.0M1269.4 42.1v2.0M1269.4 54.1v4.0M1269.4 118.0v2.0M1269.4 138.0v2.0M1269.4 168.0v4.0M1269.4 178.0v2.0M1269.4 192.0v4.0M1269.4 200.0v2.0M1269.4 387.9v2.0M1269.4 393.9v2.0M1282.8 50.1v4.0M1282.8 56.1v2.0M1282.8 118.0v2.0M1282.8 158.0v6.0M1282.8 166.0v4.0M1282.8 182.0v2.0M1282.8 230.0v2.0M1282.8 248.0v2.0M1282.8 254.0v4.0M1282.8 341.9v2.0M1282.8 349.9v2.0M1282.8 397.9v2.0M1282.8 405.9v4.0M1296.1 44.1v4.0M1296.1 52.1v2.0M1296.1 118.0v2.0M1296.1 174.0v2.0M1296.1 335.9v2.0M1296.1 347.9v2.0M1296.1 391.9v6.0M1296.1 415.9v4.0M1309.5 146.0v2.0M1309.5 174.0v2.0M1309.5 178.0v10.0M1309.5 200.0v2.0M1309.5 208.0v6.0M1309.5 222.0v4.0M1309.5 324.0v2.0M1309.5 335.9v2.0M1309.5 395.9v2.0M1309.5 417.9v2.0M1322.9 46.1v2.0M1322.9 170.0v6.0M1322.9 314.0v6.0M1336.3 124.0v2.0M1336.3 134.0v6.0M1336.3 142.0v4.0M1336.3 357.9v2.0M1336.3 403.9v2.0M1349.6 54.1v2.0M1349.6 118.0v2.0M1349.6 132.0v2.0M1349.6 138.0v2.0M1349.6 144.0v2.0M1349.6 316.0v6.0M1349.6 324.0v2.0M1349.6 359.9v2.0M1349.6 367.9v10.0M1363.0 50.1v2.0M1363.0 361.9v2.0M1363.0 371.9v2.0M1376.4 50.1v2.0M1376.4 310.0v2.0M1376.4 314.0v2.0M1389.8 146.0v2.0M1389.8 294.0v4.0M1389.8 310.0v4.0M1403.1 290.0v4.0M1403.1 355.9v2.0M1416.5 58.1v2.0M1416.5 282.0v2.0"/><path stroke="#c80000" d="M1215.9 42.1v4.0M1229.3 126.0v2.0M1229.3 140.0v2.0M1242.6 140.0v2.0M1242.6 202.0v2.0M1242.6 212.0v2.0M1256.0 214.0v2.0M1256.0 240.0v2.0M1296.1 401.9v2.0M1309.5 128.0v2.0M1336.3 333.9v2.0M1363.0 328.0v2.0M1376.4 324.0v2.0M1376.4 333.9v2.0M1389.8 320.0v2.0M1389.8 341.9v2.0M1403.1 54.1v2.0"/><path stroke="#c00000" d="M1215.9 46.1v2.0M1215.9 118.0v2.0M1215.9 136.0v2.0M1215.9 377.9v2.0M1215.9 401.9v4.0M1229.3 124.0v2.0M1229.3 204.0v2.0M1242.6 134.0v2.0M1242.6 210.0v2.0M1242.6 258.0v4.0M1242.6 365.9v2.0M1242.6 401.9v6.0M1256.0 202.0v2.0M1256.0 242.0v2.0M1256.0 389.9v6.0M1269.4 130.0v2.0M1296.1 349.9v2.0M1309.5 50.1v2.0M1309.5 136.0v4.0M1322.9 52.1v2.0M1322.9 140.0v2.0M1322.9 331.9v2.0M1322.9 335.9v2.0M1322.9 401.9v2.0M1336.3 54.1v2.0M1349.6 345.9v4.0M1363.0 326.0v2.0M1376.4 54.1v2.0M1376.4 322.0v2.0M1376.4 331.9v2.0M1389.8 318.0v2.0M1403.1 306.0v6.0M1403.1 316.0v4.0M1403.1 322.0v2.0M1403.1 328.0v4.0M1416.5 302.0v8.0M1416.5 320.0v4.0M1416.5 339.9v2.0M1416.5 345.9v2.0"/><path stroke="#b00000" d="M1215.9 48.1v2.0M1215.9 132.0v2.0M1215.9 138.0v4.0M1215.9 154.0v2.0M1215.9 164.0v2.0M1229.3 42.1v4.0M1229.3 128.0v2.0M1229.3 156.0v2.0M1229.3 162.0v2.0M1229.3 202.0v2.0M1229.3 254.0v4.0M1229.3 401.9v4.0M1229.3 411.9v2.0M1242.6 144.0v2.0M1256.0 120.0v2.0M1256.0 130.0v4.0M1256.0 200.0v2.0M1256.0 226.0v2.0M1256.0 230.0v2.0M1256.0 256.0v4.0M1256.0 401.9v4.0M1269.4 222.0v4.0M1269.4 343.9v2.0M1269.4 411.9v2.0M1282.8 126.0v8.0M1282.8 401.9v2.0M1296.1 162.0v2.0M1296.1 343.9v2.0M1296.1 409.9v2.0M1309.5 46.1v2.0M1309.5 134.0v2.0M1309.5 142.0v2.0M1309.5 331.9v2.0M1309.5 345.9v2.0M1322.9 120.0v2.0M1336.3 52.1v2.0M1336.3 330.0v2.0M1336.3 349.9v2.0M1349.6 52.1v2.0M1363.0 54.1v2.0M1363.0 122.0v2.0M1363.0 126.0v6.0M1363.0 146.0v2.0M1376.4 52.1v2.0M1376.4 126.0v4.0M1376.4 136.0v8.0M1389.8 306.0v2.0M1403.1 58.1v2.0M1416.5 294.0v2.0"/><path stroke="#a80000" d="M1215.9 50.1v2.0M1215.9 116.1v2.0M1215.9 142.0v2.0M1215.9 148.0v6.0M1215.9 166.0v2.0M1215.9 363.9v2.0M1215.9 371.9v2.0M1229.3 40.1v2.0M1229.3 142.0v2.0M1229.3 154.0v2.0M1229.3 164.0v4.0M1229.3 200.0v2.0M1229.3 258.0v2.0M1229.3 272.0v2.0M1229.3 367.9v4.0M1242.6 40.1v2.0M1242.6 122.0v2.0M1242.6 200.0v2.0M1242.6 371.9v2.0M1242.6 391.9v4.0M1256.0 44.1v2.0M1256.0 116.1v2.0M1256.0 128.0v2.0M1256.0 168.0v2.0M1256.0 222.0v4.0M1256.0 228.0v2.0M1256.0 244.0v2.0M1256.0 405.9v8.0M1269.4 206.0v2.0M1269.4 212.0v6.0M1269.4 226.0v8.0M1269.4 240.0v4.0M1269.4 345.9v2.0M1282.8 134.0v2.0M1282.8 204.0v4.0M1282.8 222.0v4.0M1282.8 409.9v2.0M1296.1 50.1v2.0M1296.1 341.9v2.0M1296.1 411.9v2.0M1309.5 120.0v2.0M1309.5 130.0v4.0M1309.5 144.0v2.0M1309.5 328.0v4.0M1309.5 347.9v4.0M1322.9 50.1v2.0M1322.9 58.1v2.0M1322.9 142.0v2.0M1322.9 357.9v2.0M1336.3 326.0v4.0M1336.3 347.9v2.0M1349.6 122.0v6.0M1349.6 140.0v4.0M1349.6 335.9v2.0M1349.6 349.9v2.0M1363.0 124.0v2.0M1363.0 132.0v8.0M1363.0 373.9v6.0M1376.4 122.0v4.0M1376.4 132.0v4.0M1389.8 302.0v4.0M1403.1 52.1v2.0M1403.1 302.0v4.0M1403.1 353.9v2.0M1416.5 298.0v4.0M1416.5 312.0v2.0"/><path stroke="#a00000" d="M1215.9 52.1v2.0M1215.9 114.1v2.0M1215.9 168.0v6.0M1215.9 196.0v2.0M1215.9 274.0v2.0M1215.9 357.9v6.0M1215.9 365.9v2.0M1215.9 405.9v6.0M1215.9 415.9v2.0M1229.3 144.0v2.0M1229.3 158.0v2.0M1229.3 168.0v2.0M1229.3 176.0v4.0M1229.3 198.0v2.0M1229.3 260.0v2.0M1229.3 268.0v2.0M1229.3 274.0v2.0M1229.3 391.9v2.0M1229.3 413.9v2.0M1242.6 38.1v2.0M1242.6 44.1v2.0M1242.6 120.0v2.0M1242.6 124.0v4.0M1242.6 164.0v4.0M1242.6 250.0v2.0M1242.6 268.0v4.0M1242.6 363.9v2.0M1242.6 389.9v2.0M1242.6 409.9v2.0M1256.0 46.1v2.0M1256.0 164.0v2.0M1256.0 170.0v4.0M1256.0 208.0v6.0M1256.0 232.0v6.0M1256.0 264.0v2.0M1256.0 369.9v2.0M1269.4 120.0v10.0M1269.4 134.0v2.0M1269.4 158.0v2.0M1269.4 164.0v4.0M1269.4 204.0v2.0M1269.4 210.0v2.0M1269.4 234.0v6.0M1269.4 389.9v4.0M1282.8 136.0v2.0M1282.8 202.0v2.0M1282.8 226.0v4.0M1282.8 389.9v6.0M1282.8 411.9v2.0M1296.1 48.1v2.0M1296.1 122.0v4.0M1296.1 168.0v2.0M1296.1 389.9v2.0M1296.1 413.9v2.0M1309.5 58.1v2.0M1309.5 160.0v2.0M1309.5 326.0v2.0M1309.5 415.9v2.0M1322.9 118.0v2.0M1322.9 126.0v2.0M1336.3 58.1v2.0M1349.6 50.1v2.0M1349.6 56.1v2.0M1349.6 328.0v2.0M1349.6 331.9v4.0M1363.0 52.1v2.0M1363.0 120.0v2.0M1363.0 322.0v2.0M1363.0 357.9v4.0M1376.4 130.0v2.0M1389.8 56.1v2.0M1389.8 134.0v6.0M1389.8 300.0v2.0M1389.8 314.0v4.0M1403.1 288.0v2.0M1403.1 296.0v6.0M1416.5 292.0v2.0M1416.5 347.9v2.0"/><path stroke="#880000" d="M1215.9 54.1v2.0M1215.9 192.0v4.0M1215.9 278.0v2.0M1215.9 351.9v2.0M1215.9 367.9v2.0M1215.9 389.9v4.0M1215.9 395.9v2.0M1229.3 50.1v2.0M1229.3 56.1v2.0M1229.3 114.1v2.0M1229.3 174.0v2.0M1229.3 387.9v2.0M1229.3 397.9v2.0M1242.6 114.1v2.0M1242.6 146.0v4.0M1242.6 152.0v4.0M1242.6 343.9v6.0M1242.6 351.9v2.0M1242.6 397.9v2.0M1256.0 50.1v8.0M1256.0 118.0v2.0M1256.0 142.0v2.0M1256.0 162.0v2.0M1256.0 188.0v8.0M1256.0 198.0v2.0M1256.0 345.9v2.0M1256.0 385.9v2.0M1269.4 116.1v2.0M1269.4 140.0v2.0M1269.4 154.0v2.0M1269.4 160.0v2.0M1269.4 198.0v2.0M1269.4 208.0v2.0M1269.4 244.0v2.0M1269.4 264.0v4.0M1269.4 401.9v8.0M1282.8 42.1v2.0M1282.8 116.1v2.0M1282.8 138.0v2.0M1282.8 174.0v4.0M1282.8 184.0v4.0M1282.8 208.0v8.0M1282.8 244.0v2.0M1282.8 250.0v4.0M1282.8 258.0v2.0M1282.8 335.9v2.0M1282.8 345.9v2.0M1282.8 395.9v2.0M1296.1 42.1v2.0M1296.1 126.0v10.0M1296.1 160.0v2.0M1296.1 188.0v2.0M1296.1 222.0v2.0M1309.5 116.1v2.0M1309.5 164.0v4.0M1309.5 198.0v2.0M1309.5 216.0v4.0M1309.5 322.0v2.0M1309.5 333.9v2.0M1309.5 413.9v2.0M1322.9 116.1v2.0M1322.9 146.0v4.0M1322.9 176.0v6.0M1322.9 214.0v8.0M1322.9 328.0v4.0M1322.9 361.9v2.0M1322.9 397.9v2.0M1322.9 413.9v2.0M1336.3 122.0v2.0M1336.3 132.0v2.0M1336.3 140.0v2.0M1336.3 373.9v2.0M1336.3 405.9v2.0M1349.6 48.1v2.0M1349.6 128.0v4.0M1349.6 146.0v2.0M1349.6 322.0v2.0M1349.6 361.9v2.0M1363.0 148.0v2.0M1363.0 154.0v2.0M1363.0 320.0v2.0M1376.4 144.0v2.0M1376.4 296.0v4.0M1376.4 308.0v2.0M1376.4 357.9v4.0M1389.8 52.1v2.0M1389.8 150.0v2.0M1389.8 357.9v2.0M1389.8 361.9v2.0M1403.1 60.1v2.0M1403.1 130.0v4.0M1416.5 290.0v2.0M1416.5 351.9v2.0"/><path stroke="#300000" d="M1215.9 60.1v2.0M1229.3 60.1v2.0M1229.3 108.1v2.0M1229.3 308.0v2.0M1229.3 324.0v10.0M1229.3 337.9v2.0M1242.6 60.1v2.0M1242.6 316.0v2.0M1242.6 328.0v2.0M1256.0 316.0v2.0M1269.4 62.1v2.0M1269.4 318.0v4.0M1282.8 62.1v2.0M1282.8 146.0v2.0M1296.1 62.1v2.0M1296.1 146.0v2.0M1309.5 36.1v2.0M1309.5 64.1v2.0M1322.9 38.1v2.0M1322.9 64.1v2.0M1336.3 110.1v2.0M1336.3 421.9v2.0M1336.3 425.9v12.0M1349.6 150.0v6.0M1349.6 421.9v2.0M1363.0 42.1v2.0M1363.0 110.1v2.0M1363.0 419.9v2.0M1376.4 44.1v2.0M1376.4 110.1v2.0M1376.4 385.9v14.0M1376.4 409.9v2.0M1403.1 112.1v2.0M1403.1 377.9v2.0M1403.1 383.9v2.0M1416.5 46.1v2.0M1416.5 64.1v2.0M1416.5 114.1v2.0M1416.5 118.0v2.0M1416.5 184.0v26.0M1416.5 212.0v4.0M1416.5 232.0v4.0M1416.5 373.9v2.0"/><path stroke="#180000" d="M1215.9 62.1v2.0M1215.9 102.1v4.0M1229.3 62.1v4.0M1229.3 104.1v2.0M1242.6 64.1v2.0M1242.6 104.1v2.0M1242.6 337.9v2.0M1256.0 64.1v2.0M1256.0 106.1v2.0M1269.4 106.1v2.0M1296.1 66.1v2.0M1309.5 34.1v2.0M1309.5 66.1v2.0M1309.5 106.1v2.0M1322.9 36.1v2.0M1322.9 68.1v8.0M1336.3 68.1v2.0M1336.3 108.1v2.0M1349.6 68.1v14.0M1349.6 102.1v6.0M1363.0 38.1v2.0M1363.0 68.1v4.0M1363.0 76.1v26.0M1363.0 429.9v2.0M1363.0 433.9v4.0M1376.4 38.1v2.0M1376.4 68.1v4.0M1376.4 78.1v32.0M1376.4 421.9v6.0M1389.8 40.1v2.0M1389.8 68.1v2.0M1389.8 72.1v18.0M1389.8 98.1v10.0M1389.8 411.9v8.0M1389.8 421.9v2.0M1403.1 42.1v2.0M1403.1 104.1v4.0M1403.1 393.9v20.0M1416.5 44.1v2.0M1416.5 106.1v4.0M1416.5 383.9v4.0"/><path stroke="#100000" d="M1215.9 64.1v4.0M1215.9 100.1v2.0M1229.3 66.1v2.0M1229.3 102.1v2.0M1242.6 66.1v2.0M1242.6 100.1v4.0M1242.6 330.0v8.0M1256.0 66.1v2.0M1256.0 100.1v6.0M1256.0 318.0v10.0M1269.4 66.1v2.0M1269.4 102.1v4.0M1282.8 66.1v2.0M1282.8 102.1v6.0M1296.1 68.1v2.0M1296.1 104.1v4.0M1309.5 68.1v18.0M1309.5 100.1v6.0M1322.9 34.1v2.0M1322.9 76.1v32.0M1336.3 36.1v2.0M1336.3 70.1v28.0M1336.3 102.1v6.0M1349.6 82.1v20.0M1363.0 102.1v6.0M1376.4 427.9v10.0M1389.8 38.1v2.0M1389.8 419.9v2.0M1389.8 423.9v8.0M1403.1 40.1v2.0M1403.1 413.9v10.0M1403.1 425.9v2.0M1416.5 387.9v12.0"/><path stroke="#080000" d="M1215.9 68.1v32.0M1215.9 292.0v2.0M1215.9 399.9v2.0M1229.3 68.1v34.0M1229.3 238.0v2.0M1229.3 399.9v2.0M1242.6 68.1v32.0M1242.6 399.9v2.0M1256.0 68.1v32.0M1256.0 399.9v2.0M1269.4 68.1v34.0M1269.4 399.9v2.0M1282.8 68.1v34.0M1282.8 399.9v2.0M1296.1 70.1v34.0M1296.1 399.9v2.0M1309.5 86.1v14.0M1309.5 399.9v2.0M1322.9 399.9v2.0M1336.3 98.1v4.0M1336.3 306.0v2.0M1336.3 399.9v2.0M1349.6 36.1v2.0M1349.6 310.0v2.0M1349.6 399.9v2.0M1363.0 36.1v2.0M1363.0 310.0v2.0M1363.0 399.9v2.0M1376.4 36.1v2.0M1376.4 312.0v2.0M1389.8 36.1v2.0M1389.8 431.9v6.0M1403.1 38.1v2.0M1403.1 423.9v2.0M1403.1 427.9v10.0M1416.5 38.1v6.0M1416.5 280.0v2.0M1416.5 284.0v2.0M1416.5 288.0v2.0M1416.5 399.9v38.0"/><path stroke="#200000" d="M1215.9 106.1v2.0M1229.3 106.1v2.0M1242.6 62.1v2.0M1242.6 106.1v2.0M1269.4 64.1v2.0M1269.4 308.0v2.0M1269.4 316.0v2.0M1282.8 64.1v2.0M1282.8 108.1v2.0M1296.1 34.1v2.0M1296.1 108.1v2.0M1296.1 150.0v2.0M1336.3 66.1v2.0M1336.3 152.0v2.0M1349.6 38.1v2.0M1349.6 108.1v2.0M1349.6 435.9v2.0M1363.0 72.1v4.0M1363.0 108.1v2.0M1363.0 423.9v6.0M1363.0 431.9v2.0M1376.4 40.1v4.0M1376.4 72.1v6.0M1376.4 415.9v6.0M1389.8 42.1v2.0M1389.8 66.1v2.0M1389.8 70.1v2.0M1389.8 90.1v8.0M1389.8 108.1v2.0M1389.8 407.9v4.0M1403.1 44.1v2.0M1403.1 76.1v2.0M1403.1 86.1v18.0M1403.1 108.1v2.0M1403.1 387.9v6.0M1416.5 68.1v14.0M1416.5 88.1v12.0M1416.5 102.1v4.0M1416.5 110.1v2.0M1416.5 379.9v4.0"/><path stroke="#380000" d="M1215.9 108.1v2.0M1215.9 308.0v6.0M1215.9 316.0v2.0M1215.9 320.0v8.0M1215.9 331.9v2.0M1229.3 304.0v4.0M1229.3 320.0v4.0M1229.3 339.9v6.0M1242.6 108.1v2.0M1242.6 304.0v4.0M1242.6 324.0v4.0M1242.6 429.9v8.0M1256.0 60.1v2.0M1256.0 310.0v6.0M1256.0 328.0v8.0M1256.0 435.9v2.0M1269.4 34.1v2.0M1269.4 322.0v2.0M1269.4 433.9v4.0M1282.8 148.0v2.0M1282.8 435.9v2.0M1309.5 148.0v2.0M1336.3 64.1v2.0M1336.3 419.9v2.0M1336.3 423.9v2.0M1349.6 64.1v2.0M1349.6 419.9v2.0M1363.0 64.1v2.0M1363.0 383.9v4.0M1363.0 391.9v2.0M1363.0 395.9v2.0M1363.0 411.9v8.0M1376.4 381.9v4.0M1376.4 399.9v8.0M1389.8 44.1v2.0M1389.8 64.1v2.0M1389.8 112.1v2.0M1389.8 381.9v4.0M1403.1 66.1v2.0M1403.1 200.0v6.0M1403.1 212.0v8.0M1403.1 375.9v2.0M1416.5 116.1v2.0M1416.5 120.0v2.0M1416.5 160.0v4.0M1416.5 172.0v12.0M1416.5 216.0v12.0M1416.5 236.0v2.0M1416.5 371.9v2.0"/><path stroke="#980000" d="M1215.9 112.1v2.0M1215.9 144.0v4.0M1215.9 174.0v8.0M1215.9 355.9v2.0M1215.9 397.9v2.0M1215.9 411.9v2.0M1229.3 38.1v2.0M1229.3 118.0v2.0M1229.3 184.0v4.0M1229.3 262.0v6.0M1229.3 270.0v2.0M1229.3 276.0v2.0M1229.3 393.9v2.0M1242.6 42.1v2.0M1242.6 46.1v2.0M1242.6 118.0v2.0M1242.6 158.0v6.0M1242.6 168.0v4.0M1242.6 174.0v6.0M1242.6 186.0v6.0M1242.6 198.0v2.0M1242.6 252.0v4.0M1242.6 272.0v4.0M1242.6 407.9v2.0M1242.6 411.9v2.0M1256.0 48.1v2.0M1256.0 148.0v2.0M1256.0 154.0v2.0M1256.0 158.0v4.0M1256.0 166.0v2.0M1256.0 174.0v4.0M1256.0 266.0v2.0M1256.0 413.9v2.0M1269.4 132.0v2.0M1269.4 136.0v2.0M1269.4 156.0v2.0M1269.4 196.0v2.0M1269.4 202.0v2.0M1269.4 218.0v4.0M1269.4 252.0v2.0M1269.4 341.9v2.0M1282.8 54.1v2.0M1282.8 120.0v2.0M1282.8 164.0v2.0M1282.8 216.0v4.0M1282.8 234.0v4.0M1282.8 343.9v2.0M1282.8 361.9v2.0M1282.8 403.9v2.0M1296.1 56.1v2.0M1296.1 120.0v2.0M1296.1 170.0v4.0M1296.1 345.9v2.0M1296.1 397.9v2.0M1296.1 403.9v6.0M1309.5 118.0v2.0M1309.5 158.0v2.0M1309.5 170.0v4.0M1309.5 176.0v2.0M1309.5 204.0v4.0M1309.5 214.0v2.0M1309.5 337.9v2.0M1309.5 357.9v2.0M1309.5 397.9v2.0M1322.9 48.1v2.0M1322.9 138.0v2.0M1322.9 144.0v2.0M1322.9 168.0v2.0M1322.9 359.9v2.0M1322.9 411.9v2.0M1336.3 50.1v2.0M1336.3 126.0v6.0M1336.3 367.9v6.0M1336.3 375.9v4.0M1336.3 401.9v2.0M1349.6 120.0v2.0M1349.6 134.0v4.0M1349.6 326.0v2.0M1349.6 330.0v2.0M1349.6 357.9v2.0M1349.6 377.9v2.0M1363.0 58.1v2.0M1363.0 312.0v2.0M1376.4 316.0v4.0M1389.8 132.0v2.0M1389.8 140.0v6.0M1389.8 148.0v2.0M1389.8 298.0v2.0M1389.8 359.9v2.0M1403.1 286.0v2.0M1403.1 294.0v2.0M1416.5 349.9v2.0"/><path stroke="#c80800" d="M1215.9 120.0v2.0M1215.9 134.0v2.0M1215.9 200.0v2.0M1215.9 272.0v2.0M1229.3 212.0v2.0M1229.3 236.0v2.0M1242.6 214.0v4.0M1242.6 236.0v4.0M1256.0 204.0v2.0M1256.0 216.0v4.0M1256.0 238.0v2.0M1296.1 54.1v2.0M1309.5 52.1v2.0M1322.9 337.9v2.0M1322.9 341.9v2.0M1336.3 345.9v2.0M1336.3 353.9v2.0M1363.0 347.9v2.0M1376.4 326.0v4.0M1376.4 335.9v2.0M1389.8 322.0v2.0M1389.8 326.0v8.0M1389.8 343.9v2.0M1416.5 310.0v2.0M1416.5 314.0v2.0M1416.5 326.0v2.0"/><path stroke="#d00800" d="M1215.9 122.0v2.0M1229.3 232.0v4.0M1242.6 234.0v2.0M1256.0 206.0v2.0M1336.3 335.9v2.0M1363.0 330.0v2.0M1416.5 328.0v2.0"/><path stroke="#d01000" d="M1215.9 124.0v2.0M1215.9 130.0v2.0M1215.9 262.0v2.0M1229.3 134.0v2.0M1229.3 138.0v2.0M1229.3 206.0v6.0M1229.3 226.0v6.0M1242.6 138.0v2.0M1242.6 204.0v2.0M1242.6 232.0v2.0M1242.6 244.0v6.0M1256.0 122.0v6.0M1256.0 359.9v2.0M1322.9 130.0v4.0M1322.9 136.0v2.0M1322.9 339.9v2.0M1336.3 56.1v2.0M1336.3 337.9v2.0M1349.6 337.9v2.0M1349.6 401.9v4.0M1363.0 56.1v2.0M1363.0 335.9v2.0M1363.0 345.9v2.0M1376.4 330.0v2.0M1376.4 347.9v2.0M1389.8 324.0v2.0M1403.1 331.9v4.0M1416.5 330.0v4.0"/><path stroke="#ff5800" d="M1215.9 126.0v2.0M1215.9 204.0v2.0M1215.9 212.0v4.0M1256.0 367.9v2.0M1322.9 54.1v2.0M1322.9 349.9v2.0"/><path stroke="#f83800" d="M1215.9 128.0v2.0M1242.6 369.9v2.0M1256.0 361.9v2.0M1309.5 343.9v2.0M1309.5 403.9v6.0"/><path stroke="#b80000" d="M1215.9 156.0v8.0M1215.9 198.0v2.0M1215.9 413.9v2.0M1229.3 120.0v4.0M1229.3 130.0v4.0M1229.3 160.0v2.0M1229.3 405.9v6.0M1242.6 136.0v2.0M1242.6 142.0v2.0M1242.6 218.0v4.0M1242.6 230.0v2.0M1242.6 262.0v6.0M1256.0 140.0v2.0M1256.0 252.0v4.0M1269.4 353.9v2.0M1269.4 363.9v2.0M1269.4 409.9v2.0M1282.8 122.0v4.0M1282.8 351.9v2.0M1296.1 339.9v2.0M1296.1 357.9v2.0M1309.5 48.1v2.0M1309.5 122.0v6.0M1309.5 140.0v2.0M1322.9 122.0v4.0M1322.9 128.0v2.0M1322.9 162.0v4.0M1322.9 333.9v2.0M1322.9 355.9v2.0M1336.3 331.9v2.0M1363.0 140.0v6.0M1363.0 324.0v2.0M1363.0 349.9v2.0M1363.0 367.9v4.0M1376.4 320.0v2.0M1389.8 308.0v2.0M1403.1 320.0v2.0M1403.1 324.0v4.0M1416.5 56.1v2.0M1416.5 296.0v2.0M1416.5 316.0v4.0"/><path stroke="#800000" d="M1215.9 182.0v8.0M1215.9 419.9v2.0M1229.3 36.1v2.0M1229.3 52.1v2.0M1229.3 112.1v2.0M1229.3 146.0v8.0M1229.3 170.0v4.0M1229.3 180.0v4.0M1229.3 188.0v8.0M1229.3 385.9v2.0M1229.3 417.9v2.0M1242.6 48.1v2.0M1242.6 112.1v2.0M1242.6 150.0v2.0M1242.6 180.0v4.0M1242.6 353.9v6.0M1242.6 395.9v2.0M1242.6 415.9v2.0M1256.0 42.1v2.0M1256.0 144.0v4.0M1256.0 196.0v2.0M1256.0 341.9v2.0M1256.0 383.9v2.0M1256.0 397.9v2.0M1269.4 40.1v2.0M1269.4 44.1v2.0M1269.4 142.0v2.0M1269.4 148.0v2.0M1269.4 162.0v2.0M1269.4 246.0v6.0M1269.4 262.0v2.0M1269.4 268.0v4.0M1269.4 347.9v2.0M1269.4 413.9v2.0M1282.8 44.1v6.0M1282.8 140.0v2.0M1282.8 156.0v2.0M1282.8 178.0v4.0M1282.8 196.0v2.0M1282.8 232.0v2.0M1282.8 238.0v4.0M1282.8 246.0v2.0M1282.8 264.0v4.0M1282.8 347.9v2.0M1296.1 116.1v2.0M1296.1 136.0v8.0M1296.1 158.0v2.0M1296.1 176.0v6.0M1296.1 184.0v4.0M1296.1 190.0v4.0M1296.1 200.0v2.0M1296.1 337.9v2.0M1296.1 419.9v2.0M1309.5 156.0v2.0M1309.5 168.0v2.0M1309.5 192.0v6.0M1309.5 226.0v4.0M1309.5 238.0v4.0M1309.5 262.0v2.0M1309.5 266.0v8.0M1309.5 318.0v4.0M1309.5 419.9v2.0M1322.9 44.1v2.0M1322.9 158.0v4.0M1322.9 166.0v2.0M1322.9 190.0v6.0M1322.9 326.0v2.0M1322.9 415.9v4.0M1336.3 120.0v2.0M1336.3 146.0v2.0M1336.3 164.0v6.0M1336.3 308.0v4.0M1336.3 318.0v4.0M1336.3 324.0v2.0M1336.3 355.9v2.0M1336.3 359.9v2.0M1336.3 407.9v2.0M1349.6 58.1v2.0M1349.6 116.1v2.0M1349.6 302.0v2.0M1349.6 407.9v2.0M1363.0 316.0v4.0M1363.0 363.9v2.0M1376.4 58.1v4.0M1376.4 146.0v4.0M1376.4 152.0v2.0M1376.4 292.0v4.0M1376.4 306.0v2.0M1376.4 361.9v2.0M1389.8 58.1v4.0M1389.8 126.0v6.0M1389.8 152.0v2.0M1403.1 126.0v4.0M1403.1 144.0v2.0M1403.1 276.0v2.0M1403.1 284.0v2.0M1403.1 357.9v2.0M1416.5 286.0v2.0M1416.5 353.9v4.0"/><path stroke="#e02000" d="M1215.9 202.0v2.0M1215.9 228.0v2.0M1215.9 268.0v2.0M1229.3 136.0v2.0M1229.3 240.0v4.0M1242.6 228.0v2.0M1309.5 409.9v4.0M1322.9 56.1v2.0M1336.3 341.9v2.0M1336.3 351.9v2.0M1349.6 341.9v2.0M1349.6 351.9v2.0M1363.0 339.9v6.0M1376.4 345.9v2.0M1403.1 56.1v2.0M1403.1 314.0v2.0M1403.1 343.9v4.0M1416.5 54.1v2.0M1416.5 324.0v2.0"/><path stroke="#ff7800" d="M1215.9 206.0v6.0M1215.9 230.0v2.0M1215.9 234.0v4.0M1229.3 244.0v2.0M1389.8 347.9v2.0"/><path stroke="#ff6000" d="M1215.9 216.0v2.0M1215.9 252.0v4.0"/><path stroke="#ff4800" d="M1215.9 218.0v4.0M1229.3 218.0v2.0M1242.6 367.9v2.0M1256.0 134.0v2.0M1282.8 353.9v2.0M1349.6 353.9v2.0M1376.4 339.9v2.0M1389.8 54.1v2.0M1389.8 335.9v4.0"/><path stroke="#ff5000" d="M1215.9 222.0v2.0M1229.3 220.0v2.0M1309.5 355.9v2.0M1322.9 343.9v2.0M1389.8 339.9v2.0"/><path stroke="#e82800" d="M1215.9 224.0v4.0M1215.9 250.0v2.0M1215.9 266.0v2.0M1229.3 222.0v2.0M1229.3 246.0v8.0M1242.6 222.0v4.0M1256.0 220.0v2.0M1269.4 355.9v2.0M1309.5 162.0v2.0M1309.5 341.9v2.0M1376.4 341.9v4.0M1376.4 349.9v2.0M1376.4 355.9v2.0"/><path stroke="#ff7000" d="M1215.9 232.0v2.0M1242.6 128.0v2.0"/><path stroke="#ff9800" d="M1215.9 238.0v2.0M1229.3 373.9v2.0"/><path stroke="#ff4000" d="M1215.9 240.0v4.0M1242.6 172.0v2.0M1322.9 345.9v2.0M1389.8 333.9v2.0M1416.5 333.9v6.0"/><path stroke="#ff6800" d="M1215.9 244.0v4.0M1215.9 264.0v2.0M1215.9 375.9v2.0M1256.0 136.0v2.0M1269.4 357.9v2.0M1309.5 401.9v2.0"/><path stroke="#f03000" d="M1215.9 248.0v2.0M1215.9 373.9v2.0M1229.3 214.0v2.0M1229.3 375.9v2.0M1282.8 359.9v2.0M1296.1 351.9v2.0M1322.9 347.9v2.0M1322.9 403.9v8.0M1349.6 343.9v2.0"/><path stroke="#ff8800" d="M1215.9 256.0v2.0M1242.6 130.0v4.0M1296.1 353.9v2.0"/><path stroke="#f03800" d="M1215.9 258.0v4.0M1229.3 216.0v2.0M1363.0 355.9v2.0"/><path stroke="#d81800" d="M1215.9 270.0v2.0M1242.6 206.0v4.0M1242.6 240.0v4.0M1309.5 339.9v2.0M1336.3 339.9v2.0M1349.6 339.9v2.0M1363.0 333.9v2.0M1363.0 337.9v2.0M1376.4 337.9v2.0M1389.8 345.9v2.0M1389.8 355.9v2.0M1403.1 312.0v2.0M1403.1 337.9v6.0"/><path stroke="#780000" d="M1215.9 280.0v2.0M1215.9 349.9v2.0M1229.3 345.9v4.0M1229.3 357.9v8.0M1229.3 377.9v2.0M1242.6 50.1v2.0M1242.6 341.9v2.0M1242.6 361.9v2.0M1242.6 387.9v2.0M1242.6 417.9v2.0M1256.0 40.1v2.0M1256.0 114.1v2.0M1256.0 180.0v8.0M1256.0 268.0v6.0M1256.0 339.9v2.0M1256.0 357.9v2.0M1269.4 46.1v2.0M1269.4 144.0v2.0M1269.4 150.0v2.0M1269.4 172.0v6.0M1269.4 254.0v4.0M1269.4 276.0v2.0M1269.4 339.9v2.0M1269.4 349.9v2.0M1269.4 385.9v2.0M1269.4 395.9v4.0M1282.8 142.0v2.0M1282.8 192.0v4.0M1282.8 200.0v2.0M1282.8 220.0v2.0M1282.8 242.0v2.0M1282.8 268.0v4.0M1282.8 333.9v2.0M1282.8 339.9v2.0M1282.8 413.9v2.0M1296.1 144.0v2.0M1296.1 164.0v4.0M1296.1 182.0v2.0M1296.1 194.0v6.0M1296.1 202.0v10.0M1296.1 228.0v4.0M1296.1 256.0v14.0M1309.5 44.1v2.0M1309.5 114.1v2.0M1309.5 188.0v4.0M1309.5 254.0v8.0M1309.5 314.0v4.0M1309.5 385.9v2.0M1322.9 114.1v2.0M1322.9 156.0v2.0M1322.9 204.0v2.0M1322.9 240.0v18.0M1322.9 268.0v4.0M1322.9 306.0v4.0M1322.9 322.0v4.0M1322.9 391.9v2.0M1322.9 395.9v2.0M1336.3 48.1v2.0M1336.3 170.0v2.0M1336.3 304.0v2.0M1336.3 316.0v2.0M1336.3 322.0v2.0M1349.6 46.1v2.0M1349.6 148.0v2.0M1349.6 174.0v4.0M1349.6 300.0v2.0M1349.6 363.9v2.0M1363.0 150.0v4.0M1363.0 304.0v2.0M1363.0 314.0v2.0M1363.0 365.9v2.0M1376.4 48.1v2.0M1376.4 120.0v2.0M1376.4 150.0v2.0M1376.4 154.0v2.0M1376.4 160.0v2.0M1376.4 304.0v2.0M1376.4 365.9v4.0M1389.8 124.0v2.0M1389.8 154.0v2.0M1389.8 276.0v12.0M1389.8 292.0v2.0M1389.8 363.9v2.0M1403.1 124.0v2.0M1403.1 140.0v4.0M1403.1 359.9v2.0M1403.1 363.9v2.0M1416.5 357.9v2.0"/><path stroke="#680000" d="M1215.9 282.0v2.0M1215.9 341.9v6.0M1215.9 385.9v4.0M1215.9 421.9v2.0M1229.3 278.0v4.0M1229.3 353.9v2.0M1229.3 381.9v2.0M1242.6 276.0v4.0M1242.6 286.0v2.0M1242.6 359.9v2.0M1242.6 373.9v2.0M1242.6 383.9v2.0M1242.6 419.9v2.0M1256.0 36.1v2.0M1256.0 278.0v4.0M1256.0 351.9v4.0M1256.0 379.9v2.0M1256.0 415.9v2.0M1269.4 58.1v2.0M1269.4 112.1v2.0M1269.4 152.0v2.0M1269.4 186.0v6.0M1269.4 337.9v2.0M1269.4 417.9v2.0M1282.8 114.1v2.0M1282.8 150.0v4.0M1282.8 190.0v2.0M1282.8 288.0v2.0M1282.8 328.0v4.0M1282.8 387.9v2.0M1282.8 423.9v2.0M1296.1 112.1v2.0M1296.1 156.0v2.0M1296.1 224.0v4.0M1296.1 236.0v8.0M1296.1 326.0v2.0M1296.1 330.0v4.0M1296.1 425.9v2.0M1309.5 42.1v2.0M1309.5 60.1v2.0M1309.5 202.0v2.0M1309.5 230.0v8.0M1309.5 264.0v2.0M1309.5 294.0v8.0M1309.5 306.0v2.0M1309.5 359.9v2.0M1309.5 369.9v2.0M1309.5 381.9v2.0M1309.5 387.9v8.0M1322.9 112.1v2.0M1322.9 184.0v4.0M1322.9 196.0v6.0M1322.9 206.0v8.0M1322.9 222.0v4.0M1322.9 280.0v2.0M1322.9 286.0v8.0M1322.9 296.0v8.0M1322.9 371.9v4.0M1322.9 385.9v2.0M1336.3 46.1v2.0M1336.3 60.1v2.0M1336.3 116.1v2.0M1336.3 148.0v2.0M1336.3 158.0v2.0M1336.3 184.0v2.0M1336.3 188.0v4.0M1336.3 312.0v4.0M1336.3 397.9v2.0M1336.3 411.9v2.0M1349.6 44.1v2.0M1349.6 60.1v2.0M1349.6 114.1v2.0M1349.6 162.0v12.0M1349.6 184.0v2.0M1349.6 288.0v4.0M1349.6 405.9v2.0M1363.0 48.1v2.0M1363.0 164.0v8.0M1363.0 174.0v2.0M1363.0 290.0v4.0M1363.0 306.0v2.0M1376.4 118.0v2.0M1376.4 158.0v2.0M1376.4 168.0v6.0M1376.4 274.0v6.0M1376.4 290.0v2.0M1376.4 300.0v2.0M1389.8 120.0v2.0M1389.8 266.0v2.0M1389.8 369.9v2.0M1403.1 120.0v2.0M1403.1 148.0v4.0M1403.1 154.0v4.0M1403.1 264.0v6.0M1403.1 280.0v2.0M1403.1 367.9v2.0M1416.5 52.1v2.0M1416.5 136.0v4.0M1416.5 359.9v2.0"/><path stroke="#580000" d="M1215.9 286.0v6.0M1215.9 381.9v2.0M1215.9 431.9v2.0M1229.3 34.1v2.0M1229.3 58.1v2.0M1229.3 286.0v2.0M1229.3 425.9v2.0M1242.6 110.1v2.0M1242.6 282.0v2.0M1242.6 292.0v2.0M1242.6 296.0v2.0M1242.6 339.9v2.0M1242.6 377.9v4.0M1242.6 423.9v2.0M1256.0 286.0v6.0M1256.0 371.9v8.0M1256.0 419.9v2.0M1256.0 423.9v2.0M1269.4 286.0v4.0M1269.4 377.9v4.0M1269.4 419.9v2.0M1269.4 427.9v2.0M1282.8 272.0v8.0M1282.8 300.0v2.0M1282.8 381.9v2.0M1282.8 419.9v2.0M1282.8 425.9v2.0M1282.8 429.9v2.0M1296.1 38.1v2.0M1296.1 154.0v2.0M1296.1 274.0v4.0M1296.1 280.0v10.0M1296.1 300.0v4.0M1296.1 312.0v8.0M1296.1 322.0v2.0M1296.1 363.9v2.0M1296.1 431.9v2.0M1309.5 152.0v2.0M1309.5 363.9v2.0M1309.5 367.9v2.0M1309.5 425.9v2.0M1322.9 294.0v2.0M1322.9 363.9v6.0M1322.9 381.9v4.0M1322.9 423.9v4.0M1336.3 114.1v2.0M1336.3 156.0v2.0M1336.3 194.0v6.0M1336.3 204.0v12.0M1336.3 218.0v2.0M1336.3 248.0v2.0M1336.3 256.0v2.0M1336.3 272.0v4.0M1336.3 280.0v4.0M1336.3 298.0v6.0M1336.3 363.9v4.0M1336.3 379.9v2.0M1336.3 389.9v8.0M1349.6 42.1v2.0M1349.6 112.1v2.0M1349.6 206.0v2.0M1349.6 212.0v8.0M1349.6 222.0v8.0M1349.6 238.0v12.0M1349.6 260.0v8.0M1349.6 276.0v8.0M1349.6 292.0v4.0M1349.6 397.9v2.0M1349.6 411.9v2.0M1363.0 192.0v4.0M1363.0 208.0v4.0M1363.0 222.0v36.0M1363.0 405.9v2.0M1376.4 46.1v2.0M1376.4 114.1v2.0M1376.4 178.0v4.0M1376.4 210.0v6.0M1376.4 218.0v14.0M1376.4 236.0v4.0M1376.4 244.0v10.0M1376.4 264.0v2.0M1376.4 286.0v2.0M1389.8 48.1v2.0M1389.8 158.0v6.0M1389.8 168.0v6.0M1389.8 176.0v8.0M1389.8 216.0v2.0M1389.8 222.0v6.0M1389.8 236.0v4.0M1389.8 373.9v2.0M1403.1 48.1v2.0M1403.1 118.0v2.0M1403.1 160.0v2.0M1403.1 172.0v2.0M1403.1 252.0v6.0M1403.1 272.0v4.0M1403.1 371.9v2.0M1416.5 50.1v2.0M1416.5 60.1v2.0M1416.5 140.0v4.0M1416.5 150.0v4.0M1416.5 260.0v6.0M1416.5 274.0v4.0M1416.5 365.9v2.0"/><path stroke="#500000" d="M1215.9 294.0v4.0M1215.9 337.9v2.0M1215.9 425.9v4.0M1215.9 433.9v2.0M1229.3 288.0v2.0M1229.3 296.0v4.0M1229.3 427.9v2.0M1242.6 58.1v2.0M1242.6 284.0v2.0M1242.6 298.0v4.0M1256.0 110.1v2.0M1256.0 292.0v2.0M1256.0 425.9v4.0M1269.4 290.0v2.0M1269.4 328.0v4.0M1269.4 333.9v2.0M1269.4 367.9v2.0M1269.4 421.9v2.0M1282.8 280.0v8.0M1282.8 294.0v6.0M1282.8 326.0v2.0M1282.8 363.9v4.0M1282.8 371.9v2.0M1282.8 379.9v2.0M1282.8 431.9v2.0M1296.1 290.0v4.0M1296.1 304.0v8.0M1296.1 361.9v2.0M1296.1 365.9v14.0M1296.1 383.9v2.0M1296.1 433.9v4.0M1309.5 40.1v2.0M1309.5 365.9v2.0M1309.5 371.9v6.0M1309.5 433.9v2.0M1322.9 110.1v2.0M1322.9 377.9v4.0M1322.9 431.9v2.0M1336.3 42.1v2.0M1336.3 200.0v4.0M1336.3 226.0v8.0M1336.3 242.0v6.0M1336.3 258.0v4.0M1336.3 284.0v4.0M1336.3 381.9v2.0M1336.3 415.9v2.0M1349.6 188.0v18.0M1349.6 256.0v4.0M1349.6 268.0v8.0M1349.6 379.9v4.0M1349.6 393.9v2.0M1349.6 413.9v2.0M1363.0 46.1v2.0M1363.0 62.1v2.0M1363.0 114.1v2.0M1363.0 182.0v4.0M1363.0 206.0v2.0M1363.0 258.0v8.0M1363.0 276.0v12.0M1363.0 379.9v4.0M1363.0 401.9v2.0M1363.0 407.9v2.0M1376.4 182.0v2.0M1376.4 256.0v8.0M1376.4 266.0v8.0M1376.4 280.0v6.0M1376.4 371.9v2.0M1376.4 377.9v4.0M1389.8 46.1v2.0M1389.8 116.1v2.0M1389.8 164.0v4.0M1389.8 184.0v2.0M1389.8 210.0v6.0M1389.8 240.0v2.0M1389.8 248.0v16.0M1389.8 270.0v4.0M1403.1 64.1v2.0M1403.1 116.1v2.0M1403.1 162.0v8.0M1403.1 174.0v4.0M1403.1 184.0v4.0M1403.1 220.0v2.0M1403.1 236.0v16.0M1403.1 270.0v2.0M1403.1 373.9v2.0M1416.5 128.0v2.0M1416.5 154.0v4.0M1416.5 254.0v6.0M1416.5 266.0v2.0M1416.5 270.0v4.0M1416.5 367.9v2.0"/><path stroke="#480000" d="M1215.9 298.0v2.0M1215.9 335.9v2.0M1215.9 429.9v2.0M1215.9 435.9v2.0M1229.3 290.0v6.0M1229.3 300.0v4.0M1229.3 310.0v2.0M1229.3 429.9v4.0M1242.6 302.0v2.0M1242.6 308.0v2.0M1256.0 34.1v2.0M1256.0 294.0v4.0M1256.0 300.0v6.0M1256.0 429.9v2.0M1269.4 60.1v2.0M1269.4 110.1v2.0M1269.4 292.0v4.0M1269.4 324.0v4.0M1269.4 331.9v2.0M1269.4 369.9v8.0M1269.4 423.9v4.0M1269.4 429.9v2.0M1282.8 36.1v2.0M1282.8 60.1v2.0M1282.8 302.0v4.0M1282.8 312.0v14.0M1282.8 367.9v4.0M1282.8 373.9v4.0M1282.8 433.9v2.0M1296.1 60.1v2.0M1296.1 110.1v2.0M1296.1 152.0v2.0M1296.1 381.9v2.0M1309.5 38.1v2.0M1309.5 62.1v2.0M1309.5 110.1v2.0M1309.5 377.9v2.0M1309.5 435.9v2.0M1322.9 40.1v2.0M1322.9 433.9v2.0M1336.3 62.1v2.0M1336.3 112.1v2.0M1336.3 192.0v2.0M1336.3 216.0v2.0M1336.3 234.0v8.0M1336.3 262.0v10.0M1336.3 276.0v4.0M1336.3 288.0v10.0M1336.3 383.9v6.0M1336.3 417.9v2.0M1349.6 62.1v2.0M1349.6 208.0v4.0M1349.6 220.0v2.0M1349.6 230.0v2.0M1349.6 383.9v2.0M1349.6 391.9v2.0M1349.6 395.9v2.0M1349.6 415.9v4.0M1363.0 186.0v4.0M1363.0 202.0v4.0M1363.0 212.0v10.0M1376.4 64.1v2.0M1376.4 184.0v10.0M1376.4 196.0v10.0M1376.4 240.0v4.0M1376.4 373.9v4.0M1389.8 186.0v2.0M1389.8 198.0v8.0M1389.8 244.0v4.0M1389.8 268.0v2.0M1389.8 375.9v2.0M1403.1 114.1v2.0M1403.1 170.0v2.0M1403.1 194.0v2.0M1403.1 206.0v6.0M1403.1 222.0v14.0M1416.5 48.1v2.0M1416.5 124.0v4.0M1416.5 130.0v2.0M1416.5 158.0v2.0M1416.5 242.0v12.0M1416.5 268.0v2.0M1416.5 369.9v2.0"/><path stroke="#400000" d="M1215.9 300.0v8.0M1215.9 314.0v2.0M1215.9 318.0v2.0M1215.9 328.0v4.0M1215.9 333.9v2.0M1229.3 312.0v8.0M1229.3 333.9v2.0M1229.3 433.9v4.0M1242.6 294.0v2.0M1242.6 310.0v6.0M1242.6 425.9v4.0M1256.0 298.0v2.0M1256.0 306.0v4.0M1256.0 335.9v2.0M1256.0 431.9v4.0M1269.4 296.0v12.0M1269.4 431.9v2.0M1282.8 110.1v2.0M1282.8 306.0v6.0M1282.8 377.9v2.0M1296.1 36.1v2.0M1296.1 379.9v2.0M1309.5 431.9v2.0M1322.9 62.1v2.0M1322.9 427.9v4.0M1322.9 435.9v2.0M1336.3 40.1v2.0M1349.6 40.1v2.0M1349.6 110.1v2.0M1349.6 385.9v6.0M1363.0 44.1v2.0M1363.0 112.1v2.0M1363.0 196.0v6.0M1363.0 387.9v4.0M1363.0 393.9v2.0M1363.0 397.9v2.0M1363.0 409.9v2.0M1376.4 112.1v2.0M1376.4 194.0v2.0M1376.4 206.0v4.0M1376.4 232.0v4.0M1389.8 114.1v2.0M1389.8 188.0v10.0M1389.8 206.0v4.0M1389.8 218.0v4.0M1389.8 228.0v8.0M1389.8 242.0v2.0M1389.8 377.9v4.0M1403.1 46.1v2.0M1403.1 178.0v6.0M1403.1 188.0v6.0M1403.1 196.0v4.0M1416.5 62.1v2.0M1416.5 122.0v2.0M1416.5 164.0v8.0M1416.5 210.0v2.0M1416.5 228.0v4.0M1416.5 238.0v4.0"/><path stroke="#700000" d="M1215.9 347.9v2.0M1215.9 379.9v2.0M1229.3 284.0v2.0M1229.3 419.9v2.0M1242.6 56.1v2.0M1242.6 192.0v4.0M1242.6 349.9v2.0M1242.6 385.9v2.0M1256.0 38.1v2.0M1256.0 112.1v2.0M1256.0 274.0v4.0M1256.0 343.9v2.0M1256.0 347.9v4.0M1256.0 381.9v2.0M1256.0 387.9v2.0M1269.4 38.1v2.0M1269.4 48.1v6.0M1269.4 114.1v2.0M1269.4 146.0v2.0M1269.4 180.0v6.0M1269.4 258.0v4.0M1269.4 278.0v4.0M1269.4 351.9v2.0M1269.4 365.9v2.0M1269.4 383.9v2.0M1269.4 415.9v2.0M1282.8 40.1v2.0M1282.8 58.1v2.0M1282.8 144.0v2.0M1282.8 154.0v2.0M1282.8 170.0v4.0M1282.8 188.0v2.0M1282.8 198.0v2.0M1282.8 260.0v4.0M1282.8 331.9v2.0M1282.8 337.9v2.0M1282.8 385.9v2.0M1282.8 415.9v2.0M1282.8 421.9v2.0M1296.1 40.1v2.0M1296.1 58.1v2.0M1296.1 114.1v2.0M1296.1 212.0v10.0M1296.1 232.0v4.0M1296.1 244.0v12.0M1296.1 270.0v4.0M1296.1 278.0v2.0M1296.1 328.0v2.0M1296.1 333.9v2.0M1296.1 359.9v2.0M1296.1 387.9v2.0M1296.1 421.9v4.0M1309.5 112.1v2.0M1309.5 154.0v2.0M1309.5 220.0v2.0M1309.5 242.0v6.0M1309.5 274.0v16.0M1309.5 308.0v6.0M1309.5 383.9v2.0M1322.9 154.0v2.0M1322.9 182.0v2.0M1322.9 188.0v2.0M1322.9 202.0v2.0M1322.9 226.0v8.0M1322.9 264.0v4.0M1322.9 272.0v2.0M1322.9 276.0v4.0M1322.9 282.0v4.0M1322.9 304.0v2.0M1322.9 310.0v4.0M1322.9 320.0v2.0M1322.9 387.9v2.0M1322.9 393.9v2.0M1322.9 419.9v2.0M1336.3 118.0v2.0M1336.3 160.0v4.0M1336.3 178.0v6.0M1336.3 186.0v2.0M1336.3 409.9v2.0M1349.6 156.0v6.0M1349.6 178.0v6.0M1349.6 304.0v6.0M1349.6 312.0v4.0M1363.0 60.1v2.0M1363.0 160.0v4.0M1363.0 172.0v2.0M1363.0 300.0v4.0M1363.0 308.0v2.0M1376.4 116.1v2.0M1376.4 156.0v2.0M1376.4 162.0v6.0M1376.4 302.0v2.0M1376.4 363.9v2.0M1376.4 369.9v2.0M1389.8 50.1v2.0M1389.8 122.0v2.0M1389.8 156.0v2.0M1389.8 274.0v2.0M1389.8 288.0v4.0M1389.8 365.9v4.0M1403.1 50.1v2.0M1403.1 122.0v2.0M1403.1 134.0v6.0M1403.1 146.0v2.0M1403.1 152.0v2.0M1403.1 282.0v2.0M1403.1 361.9v2.0M1403.1 365.9v2.0"/><path stroke="#e83000" d="M1229.3 224.0v2.0"/><path stroke="#280000" d="M1229.3 335.9v2.0M1242.6 318.0v6.0M1256.0 62.1v2.0M1256.0 108.1v2.0M1269.4 108.1v2.0M1269.4 310.0v6.0M1282.8 34.1v2.0M1296.1 64.1v2.0M1296.1 148.0v2.0M1309.5 108.1v2.0M1309.5 150.0v2.0M1322.9 66.1v2.0M1322.9 108.1v2.0M1322.9 150.0v4.0M1336.3 38.1v2.0M1336.3 154.0v2.0M1349.6 66.1v2.0M1349.6 423.9v12.0M1363.0 40.1v2.0M1363.0 66.1v2.0M1363.0 421.9v2.0M1376.4 66.1v2.0M1376.4 407.9v2.0M1376.4 411.9v4.0M1389.8 110.1v2.0M1389.8 385.9v22.0M1403.1 68.1v8.0M1403.1 78.1v8.0M1403.1 110.1v2.0M1403.1 379.9v4.0M1403.1 385.9v2.0M1416.5 66.1v2.0M1416.5 82.1v6.0M1416.5 100.1v2.0M1416.5 112.1v2.0M1416.5 375.9v4.0"/><path stroke="#f84000" d="M1229.3 371.9v2.0M1309.5 351.9v2.0M1322.9 353.9v2.0"/><path stroke="#e02800" d="M1242.6 226.0v2.0"/><path stroke="#ff8000" d="M1256.0 138.0v2.0M1269.4 361.9v2.0M1296.1 355.9v2.0M1309.5 54.1v2.0M1403.1 347.9v2.0M1416.5 341.9v2.0"/><path stroke="#ffc820" d="M1256.0 363.9v2.0"/><path stroke="#ffe060" d="M1256.0 365.9v2.0M1389.8 349.9v2.0"/><path stroke="#ffffb0" d="M1269.4 359.9v2.0"/><path stroke="#ffc010" d="M1282.8 355.9v2.0"/><path stroke="#ffa000" d="M1282.8 357.9v2.0M1376.4 351.9v2.0M1416.5 343.9v2.0"/><path stroke="#d81000" d="M1309.5 56.1v2.0M1322.9 134.0v2.0M1336.3 343.9v2.0M1363.0 331.9v2.0M1376.4 56.1v2.0M1403.1 335.9v2.0"/><path stroke="#ffd040" d="M1309.5 353.9v2.0M1376.4 353.9v2.0"/><path stroke="#ffc020" d="M1322.9 351.9v2.0"/><path stroke="#e01800" d="M1349.6 355.9v2.0"/><path stroke="#ff9000" d="M1363.0 351.9v2.0M1403.1 351.9v2.0"/><path stroke="#ffc018" d="M1363.0 353.9v2.0"/><path stroke="#ffffb8" d="M1389.8 351.9v2.0"/><path stroke="#ffc830" d="M1389.8 353.9v2.0"/><path stroke="#ffd848" d="M1403.1 349.9v2.0"/></g><rect x="1209.3" y="10.1" width="214" height="427.8" fill="none" stroke="#000" stroke-width="4.4"/></g>
<g id="ph"><rect x="535.5" y="479" width="214" height="427.3" fill="#fff"/><g fill="none" stroke-width="13.72" shape-rendering="crispEdges"><path stroke="#fff8f8" d="M542.1 505.5v2.8M542.1 511.1v4.2M542.1 532.1v1.4M542.1 564.2v1.4M542.1 571.2v1.4M542.1 610.3v1.4M542.1 618.6v4.2M542.1 625.6v2.8M542.1 653.6v1.4M542.1 667.5v1.4M542.1 684.3v2.8M542.1 729.0v1.4M542.1 747.1v1.4M542.1 780.6v1.4M542.1 786.2v1.4M542.1 826.7v1.4M542.1 832.3v1.4M542.1 835.1v1.4M542.1 837.9v2.8M542.1 853.2v2.8M542.1 858.8v1.4M542.1 865.8v1.4M542.1 871.4v2.8M542.1 878.4v1.4M542.1 892.3v1.4M542.1 897.9v1.4M555.5 505.5v1.4M555.5 572.6v2.8M555.5 687.1v1.4M555.5 734.5v2.8M555.5 747.1v1.4M555.5 762.5v1.4M555.5 843.5v2.8M555.5 861.6v1.4M555.5 868.6v1.4M555.5 875.6v1.4M568.8 516.7v1.4M568.8 564.2v1.4M568.8 585.1v5.6M568.8 681.5v2.8M568.8 734.5v1.4M568.8 768.1v1.4M568.8 833.7v4.2M568.8 858.8v1.4M568.8 868.6v1.4M568.8 878.4v1.4M568.8 881.2v1.4M582.2 505.5v5.6M582.2 575.4v2.8M582.2 580.9v1.4M582.2 592.1v2.8M582.2 703.8v1.4M582.2 713.6v1.4M582.2 734.5v1.4M582.2 740.1v1.4M582.2 762.5v1.4M582.2 825.3v1.4M582.2 832.3v1.4M582.2 844.9v1.4M582.2 850.4v1.4M582.2 886.8v1.4M582.2 903.5v1.4M595.6 506.9v2.8M595.6 526.5v1.4M595.6 543.2v1.4M595.6 546.0v1.4M595.6 554.4v2.8M595.6 561.4v1.4M595.6 574.0v1.4M595.6 688.5v1.4M595.6 696.8v1.4M595.6 702.4v1.4M595.6 709.4v1.4M595.6 749.9v1.4M595.6 758.3v1.4M595.6 762.5v1.4M595.6 765.3v1.4M595.6 851.8v2.8M595.6 857.4v2.8M609.0 578.1v2.8M609.0 597.7v1.4M609.0 635.4v1.4M609.0 688.5v1.4M609.0 698.2v1.4M609.0 713.6v1.4M609.0 733.1v1.4M609.0 756.9v1.4M609.0 828.1v1.4M609.0 844.9v1.4M609.0 847.7v1.4M609.0 850.4v1.4M609.0 864.4v1.4M609.0 882.6v4.2M622.3 551.6v1.4M622.3 557.2v2.8M622.3 562.8v1.4M622.3 565.6v2.8M622.3 576.7v1.4M622.3 742.9v2.8M622.3 754.1v1.4M622.3 850.4v1.4M622.3 854.6v1.4M622.3 857.4v4.2M622.3 863.0v1.4M622.3 878.4v1.4M622.3 896.5v1.4M622.3 902.1v2.8M635.7 554.4v2.8M635.7 569.8v1.4M635.7 574.0v1.4M635.7 578.1v1.4M635.7 657.7v1.4M635.7 668.9v2.8M635.7 674.5v1.4M635.7 684.3v1.4M635.7 731.7v1.4M635.7 740.1v4.2M635.7 759.7v1.4M635.7 819.7v1.4M635.7 863.0v1.4M649.1 515.3v1.4M649.1 572.6v1.4M649.1 643.8v1.4M649.1 666.1v1.4M649.1 668.9v1.4M649.1 744.3v2.8M649.1 814.1v2.8M649.1 819.7v1.4M649.1 828.1v4.2M649.1 840.7v1.4M649.1 843.5v1.4M649.1 854.6v2.8M662.5 551.6v2.8M662.5 638.2v1.4M662.5 663.3v1.4M662.5 668.9v4.2M662.5 674.5v1.4M662.5 720.6v1.4M662.5 731.7v1.4M662.5 734.5v1.4M662.5 737.3v2.8M662.5 742.9v1.4M662.5 749.9v1.4M662.5 752.7v1.4M662.5 809.9v2.8M662.5 819.7v1.4M662.5 823.9v4.2M662.5 835.1v1.4M662.5 843.5v1.4M662.5 885.4v1.4M675.8 508.3v1.4M675.8 529.3v1.4M675.8 541.8v2.8M675.8 551.6v1.4M675.8 555.8v1.4M675.8 567.0v1.4M675.8 659.1v1.4M675.8 675.9v1.4M675.8 682.9v1.4M675.8 729.0v1.4M675.8 815.5v1.4M675.8 840.7v2.8M675.8 865.8v1.4M675.8 897.9v1.4M689.2 548.8v1.4M689.2 560.0v1.4M689.2 574.0v1.4M689.2 578.1v1.4M689.2 601.9v1.4M689.2 668.9v1.4M689.2 688.5v1.4M689.2 698.2v1.4M689.2 722.0v1.4M689.2 805.8v4.2M689.2 819.7v1.4M689.2 833.7v1.4M689.2 864.4v1.4M689.2 870.0v1.4M702.6 515.3v1.4M702.6 546.0v1.4M702.6 680.1v1.4M702.6 702.4v1.4M702.6 729.0v1.4M702.6 734.5v1.4M702.6 794.6v1.4M702.6 807.2v1.4M702.6 839.3v1.4M702.6 867.2v1.4M702.6 881.2v1.4M702.6 885.4v1.4M702.6 890.9v2.8M702.6 895.1v1.4M702.6 903.5v1.4M716.0 512.5v1.4M716.0 558.6v1.4M716.0 583.7v1.4M716.0 719.2v2.8M716.0 812.7v1.4M716.0 830.9v1.4M716.0 850.4v1.4M716.0 874.2v1.4M716.0 885.4v1.4M716.0 900.7v1.4M729.3 512.5v1.4M729.3 519.5v1.4M729.3 525.1v1.4M729.3 527.9v1.4M729.3 798.8v1.4M729.3 822.5v2.8M729.3 884.0v2.8M729.3 888.1v1.4M729.3 895.1v1.4M729.3 902.1v1.4M742.7 505.5v1.4M742.7 512.5v1.4M742.7 520.9v2.8M742.7 543.2v2.8M742.7 551.6v4.2M742.7 579.5v1.4M742.7 582.3v2.8M742.7 594.9v2.8M742.7 680.1v1.4M742.7 804.4v2.8M742.7 811.3v1.4M742.7 822.5v1.4M742.7 826.7v1.4M742.7 833.7v1.4M742.7 864.4v2.8M742.7 871.4v1.4M742.7 896.5v1.4M742.7 903.5v1.4"/><path stroke="#fff8f0" d="M542.1 508.3v2.8M542.1 553.0v1.4M542.1 562.8v1.4M542.1 582.3v1.4M542.1 590.7v1.4M542.1 594.9v1.4M542.1 611.7v1.4M542.1 617.2v1.4M542.1 622.8v1.4M542.1 638.2v1.4M542.1 641.0v4.2M542.1 663.3v1.4M542.1 673.1v1.4M542.1 682.9v1.4M542.1 706.6v1.4M542.1 722.0v2.8M542.1 731.7v1.4M542.1 738.7v1.4M542.1 744.3v2.8M542.1 748.5v2.8M542.1 752.7v1.4M542.1 762.5v1.4M542.1 765.3v2.8M542.1 779.2v1.4M542.1 809.9v2.8M542.1 836.5v1.4M542.1 856.0v2.8M542.1 902.1v1.4M555.5 575.4v2.8M555.5 582.3v1.4M555.5 592.1v2.8M555.5 599.1v2.8M555.5 659.1v2.8M555.5 684.3v1.4M555.5 701.0v1.4M555.5 733.1v1.4M555.5 737.3v2.8M555.5 742.9v1.4M555.5 752.7v1.4M555.5 755.5v1.4M555.5 769.5v1.4M555.5 829.5v2.8M555.5 833.7v1.4M555.5 842.1v1.4M555.5 860.2v1.4M555.5 870.0v1.4M555.5 881.2v1.4M555.5 897.9v1.4M555.5 904.9v1.4M568.8 574.0v1.4M568.8 583.7v1.4M568.8 695.4v5.6M568.8 716.4v2.8M568.8 723.4v1.4M568.8 730.4v4.2M568.8 749.9v2.8M568.8 758.3v2.8M568.8 851.8v1.4M568.8 854.6v1.4M568.8 879.8v1.4M582.2 515.3v1.4M582.2 568.4v1.4M582.2 583.7v1.4M582.2 677.3v1.4M582.2 680.1v1.4M582.2 733.1v1.4M582.2 755.5v1.4M582.2 758.3v4.2M582.2 769.5v2.8M582.2 829.5v2.8M582.2 835.1v1.4M582.2 851.8v1.4M582.2 888.1v1.4M582.2 900.7v2.8M595.6 509.7v1.4M595.6 523.7v2.8M595.6 529.3v1.4M595.6 553.0v1.4M595.6 575.4v1.4M595.6 592.1v1.4M595.6 618.6v1.4M595.6 682.9v1.4M595.6 698.2v1.4M595.6 715.0v2.8M595.6 726.2v1.4M595.6 742.9v1.4M595.6 748.5v1.4M595.6 754.1v2.8M595.6 761.1v1.4M595.6 822.5v2.8M595.6 849.0v2.8M595.6 885.4v1.4M595.6 904.9v1.4M609.0 565.6v1.4M609.0 599.1v1.4M609.0 674.5v1.4M609.0 692.6v1.4M609.0 696.8v1.4M609.0 706.6v2.8M609.0 712.2v1.4M609.0 734.5v4.2M609.0 766.7v1.4M609.0 836.5v1.4M609.0 839.3v1.4M609.0 849.0v1.4M609.0 886.8v1.4M622.3 516.7v1.4M622.3 536.3v1.4M622.3 555.8v1.4M622.3 568.4v1.4M622.3 578.1v1.4M622.3 593.5v1.4M622.3 741.5v1.4M622.3 749.9v1.4M622.3 752.7v1.4M622.3 755.5v1.4M622.3 825.3v1.4M622.3 832.3v1.4M622.3 856.0v1.4M622.3 861.6v1.4M622.3 881.2v1.4M622.3 895.1v1.4M635.7 551.6v1.4M635.7 558.6v1.4M635.7 592.1v2.8M635.7 615.8v1.4M635.7 656.3v1.4M635.7 671.7v2.8M635.7 675.9v1.4M635.7 720.6v1.4M635.7 726.2v1.4M635.7 733.1v1.4M635.7 745.7v1.4M635.7 815.5v1.4M635.7 882.6v2.8M635.7 904.9v1.4M649.1 511.1v1.4M649.1 555.8v1.4M649.1 558.6v1.4M649.1 561.4v1.4M649.1 565.6v1.4M649.1 575.4v1.4M649.1 596.3v1.4M649.1 634.0v2.8M649.1 645.2v1.4M649.1 659.1v1.4M649.1 674.5v1.4M649.1 678.7v1.4M649.1 751.3v1.4M649.1 809.9v4.2M649.1 839.3v1.4M649.1 857.4v2.8M662.5 568.4v1.4M662.5 661.9v1.4M662.5 733.1v1.4M662.5 744.3v1.4M662.5 801.6v1.4M662.5 808.6v1.4M662.5 814.1v1.4M662.5 890.9v1.4M675.8 505.5v2.8M675.8 550.2v1.4M675.8 553.0v2.8M675.8 562.8v1.4M675.8 660.5v1.4M675.8 681.5v1.4M675.8 692.6v1.4M675.8 727.6v1.4M675.8 741.5v2.8M675.8 833.7v1.4M675.8 871.4v1.4M689.2 561.4v1.4M689.2 575.4v1.4M689.2 582.3v1.4M689.2 585.1v1.4M689.2 600.5v1.4M689.2 649.4v2.8M689.2 663.3v2.8M689.2 709.4v1.4M689.2 715.0v4.2M689.2 734.5v1.4M689.2 895.1v1.4M689.2 897.9v1.4M689.2 902.1v2.8M702.6 513.9v1.4M702.6 547.4v1.4M702.6 568.4v1.4M702.6 578.1v2.8M702.6 678.7v1.4M702.6 681.5v1.4M702.6 701.0v1.4M702.6 703.8v4.2M702.6 730.4v2.8M702.6 791.8v1.4M702.6 805.8v1.4M702.6 808.6v1.4M702.6 826.7v1.4M702.6 861.6v1.4M702.6 882.6v1.4M702.6 893.7v1.4M702.6 896.5v1.4M702.6 899.3v1.4M716.0 513.9v1.4M716.0 694.0v1.4M716.0 706.6v2.8M716.0 793.2v1.4M716.0 809.9v1.4M716.0 815.5v1.4M716.0 819.7v1.4M716.0 839.3v2.8M716.0 878.4v1.4M716.0 890.9v4.2M716.0 896.5v1.4M729.3 520.9v4.2M729.3 565.6v1.4M729.3 796.0v2.8M729.3 825.3v1.4M729.3 850.4v1.4M729.3 872.8v1.4M729.3 877.0v1.4M729.3 896.5v2.8M742.7 533.5v1.4M742.7 675.9v1.4M742.7 720.6v1.4M742.7 729.0v1.4M742.7 786.2v1.4M742.7 797.4v1.4M742.7 800.2v1.4M742.7 807.2v4.2M742.7 828.1v1.4M742.7 843.5v2.8M742.7 849.0v1.4M742.7 851.8v1.4M742.7 872.8v1.4M742.7 895.1v1.4M742.7 904.9v1.4"/><path stroke="#f0f0ff" d="M542.1 515.3v1.4M542.1 544.6v1.4M542.1 550.2v1.4M542.1 567.0v1.4M542.1 674.5v2.8M542.1 842.1v1.4M555.5 515.3v1.4M555.5 555.8v1.4M555.5 561.4v1.4M555.5 895.1v1.4M568.8 520.9v1.4M568.8 526.5v1.4M568.8 543.2v1.4M568.8 553.0v1.4M568.8 567.0v1.4M568.8 844.9v1.4M568.8 877.0v1.4M568.8 890.9v1.4M582.2 560.0v1.4M582.2 564.2v2.8M582.2 754.1v1.4M582.2 849.0v1.4M582.2 874.2v1.4M582.2 878.4v1.4M582.2 884.0v1.4M595.6 515.3v1.4M595.6 536.3v1.4M595.6 731.7v1.4M595.6 864.4v4.2M609.0 513.9v1.4M609.0 548.8v1.4M609.0 716.4v1.4M609.0 726.2v1.4M609.0 751.3v1.4M609.0 857.4v1.4M609.0 868.6v1.4M622.3 544.6v2.8M622.3 571.2v1.4M622.3 703.8v1.4M622.3 833.7v1.4M622.3 837.9v1.4M622.3 885.4v1.4M622.3 888.1v1.4M635.7 518.1v1.4M635.7 534.9v1.4M635.7 537.6v2.8M635.7 565.6v4.2M635.7 586.5v2.8M635.7 666.1v1.4M635.7 682.9v1.4M635.7 695.4v1.4M635.7 716.4v1.4M635.7 839.3v1.4M635.7 860.2v1.4M635.7 867.2v1.4M635.7 871.4v1.4M649.1 533.5v1.4M649.1 554.4v1.4M649.1 680.1v2.8M649.1 708.0v1.4M649.1 712.2v1.4M649.1 860.2v1.4M649.1 867.2v1.4M649.1 874.2v1.4M662.5 512.5v1.4M662.5 539.0v1.4M662.5 561.4v1.4M662.5 678.7v1.4M662.5 681.5v1.4M662.5 724.8v1.4M662.5 829.5v1.4M662.5 847.7v1.4M662.5 860.2v1.4M662.5 870.0v1.4M662.5 875.6v1.4M662.5 878.4v1.4M662.5 882.6v1.4M675.8 546.0v1.4M675.8 713.6v1.4M675.8 882.6v1.4M689.2 557.2v1.4M689.2 719.2v1.4M689.2 828.1v1.4M689.2 856.0v1.4M689.2 878.4v1.4M702.6 526.5v1.4M702.6 565.6v1.4M716.0 526.5v4.2M716.0 534.9v1.4M716.0 540.4v2.8M716.0 833.7v1.4M716.0 847.7v1.4M716.0 860.2v2.8M729.3 515.3v2.8M729.3 546.0v1.4M729.3 554.4v1.4M729.3 818.3v1.4M729.3 851.8v1.4M729.3 864.4v1.4M729.3 870.0v1.4M742.7 571.2v1.4M742.7 717.8v1.4M742.7 860.2v1.4M742.7 882.6v1.4M742.7 886.8v1.4M742.7 899.3v1.4"/><path stroke="#d8e0ff" d="M542.1 516.7v1.4M542.1 526.5v2.8M542.1 537.6v1.4M542.1 540.4v1.4M555.5 523.7v1.4M568.8 519.5v1.4M568.8 547.4v1.4M568.8 550.2v2.8M568.8 557.2v1.4M568.8 886.8v1.4M582.2 543.2v1.4M582.2 717.8v2.8M582.2 854.6v1.4M582.2 864.4v2.8M595.6 519.5v2.8M609.0 523.7v2.8M609.0 529.3v1.4M609.0 541.8v1.4M609.0 554.4v1.4M609.0 727.6v1.4M609.0 858.8v1.4M622.3 540.4v2.8M622.3 805.8v2.8M635.7 709.4v1.4M649.1 530.7v1.4M649.1 534.9v1.4M649.1 847.7v1.4M662.5 516.7v1.4M662.5 546.0v1.4M662.5 713.6v1.4M662.5 865.8v1.4M662.5 872.8v1.4M662.5 881.2v1.4M662.5 896.5v1.4M675.8 533.5v2.8M675.8 716.4v1.4M675.8 853.2v1.4M675.8 885.4v1.4M689.2 533.5v1.4M689.2 540.4v1.4M689.2 885.4v1.4M702.6 530.7v2.8M702.6 847.7v1.4M716.0 844.9v1.4M716.0 857.4v1.4M729.3 541.8v1.4M742.7 537.6v1.4"/><path stroke="#e0e8ff" d="M542.1 518.1v1.4M542.1 525.1v1.4M542.1 546.0v4.2M542.1 568.4v1.4M555.5 520.9v1.4M555.5 527.9v4.2M555.5 533.5v4.2M555.5 546.0v1.4M555.5 548.8v2.8M555.5 557.2v1.4M555.5 568.4v1.4M555.5 892.3v2.8M568.8 506.9v1.4M568.8 530.7v1.4M568.8 533.5v1.4M568.8 548.8v1.4M568.8 558.6v2.8M568.8 812.7v2.8M568.8 889.5v1.4M582.2 518.1v1.4M582.2 532.1v1.4M582.2 536.3v1.4M582.2 546.0v1.4M582.2 548.8v1.4M582.2 553.0v1.4M582.2 846.3v2.8M582.2 860.2v1.4M582.2 875.6v2.8M595.6 539.0v2.8M595.6 562.8v1.4M595.6 705.2v2.8M595.6 839.3v1.4M595.6 870.0v2.8M595.6 892.3v2.8M609.0 551.6v2.8M609.0 558.6v1.4M609.0 730.4v1.4M609.0 872.8v1.4M622.3 513.9v1.4M622.3 525.1v1.4M622.3 539.0v1.4M622.3 543.2v1.4M622.3 696.8v1.4M622.3 702.4v1.4M622.3 724.8v1.4M622.3 835.1v1.4M635.7 513.9v1.4M635.7 526.5v1.4M635.7 532.1v1.4M635.7 540.4v1.4M635.7 546.0v1.4M635.7 699.6v1.4M635.7 706.6v2.8M635.7 832.3v4.2M635.7 868.6v2.8M649.1 527.9v1.4M649.1 540.4v1.4M649.1 553.0v1.4M649.1 578.1v1.4M649.1 689.9v1.4M649.1 695.4v2.8M649.1 713.6v1.4M649.1 716.4v1.4M649.1 722.0v1.4M649.1 727.6v1.4M649.1 870.0v1.4M649.1 884.0v1.4M649.1 897.9v1.4M649.1 902.1v1.4M662.5 518.1v1.4M662.5 527.9v1.4M662.5 530.7v1.4M662.5 540.4v5.6M662.5 688.5v1.4M662.5 692.6v2.8M662.5 702.4v2.8M662.5 715.0v4.2M662.5 857.4v1.4M662.5 871.4v1.4M662.5 874.2v1.4M662.5 893.7v1.4M675.8 532.1v1.4M675.8 536.3v1.4M675.8 703.8v2.8M675.8 851.8v1.4M675.8 878.4v2.8M689.2 515.3v1.4M689.2 530.7v1.4M689.2 555.8v1.4M689.2 568.4v2.8M689.2 696.8v1.4M689.2 826.7v1.4M689.2 853.2v1.4M689.2 861.6v1.4M689.2 900.7v1.4M702.6 518.1v1.4M702.6 525.1v1.4M702.6 833.7v1.4M702.6 844.9v1.4M702.6 884.0v1.4M716.0 543.2v4.2M716.0 554.4v2.8M716.0 843.5v1.4M716.0 858.8v1.4M716.0 863.0v1.4M716.0 867.2v1.4M716.0 904.9v1.4M729.3 533.5v1.4M729.3 853.2v1.4M729.3 856.0v1.4M729.3 865.8v4.2M742.7 875.6v1.4M742.7 879.8v1.4M742.7 884.0v2.8"/><path stroke="#f0f8ff" d="M542.1 519.5v1.4M542.1 533.5v1.4M542.1 557.2v1.4M542.1 569.8v1.4M542.1 677.3v1.4M542.1 763.9v1.4M542.1 823.9v1.4M542.1 843.5v1.4M542.1 875.6v1.4M542.1 893.7v1.4M555.5 508.3v5.6M555.5 516.7v1.4M555.5 519.5v1.4M555.5 526.5v1.4M555.5 562.8v1.4M555.5 567.0v1.4M555.5 749.9v1.4M555.5 886.8v1.4M568.8 523.7v2.8M568.8 840.7v1.4M568.8 863.0v2.8M568.8 872.8v1.4M568.8 903.5v2.8M582.2 561.4v1.4M582.2 738.7v1.4M582.2 882.6v1.4M582.2 904.9v1.4M595.6 516.7v1.4M595.6 541.8v1.4M595.6 550.2v1.4M595.6 745.7v1.4M595.6 837.9v1.4M595.6 840.7v1.4M595.6 878.4v1.4M609.0 509.7v2.8M609.0 530.7v1.4M609.0 539.0v1.4M609.0 550.2v1.4M609.0 722.0v1.4M609.0 731.7v1.4M609.0 851.8v1.4M609.0 854.6v1.4M609.0 865.8v1.4M609.0 895.1v2.8M622.3 512.5v1.4M622.3 515.3v1.4M622.3 520.9v4.2M622.3 575.4v1.4M622.3 692.6v1.4M622.3 695.4v1.4M622.3 734.5v2.8M622.3 839.3v1.4M622.3 870.0v1.4M622.3 884.0v1.4M635.7 516.7v1.4M635.7 536.3v1.4M635.7 548.8v1.4M635.7 560.0v1.4M635.7 715.0v1.4M635.7 729.0v1.4M635.7 754.1v1.4M635.7 756.9v1.4M635.7 830.9v1.4M635.7 836.5v1.4M635.7 844.9v1.4M649.1 505.5v2.8M649.1 526.5v1.4M649.1 536.3v1.4M649.1 539.0v1.4M649.1 551.6v1.4M649.1 661.9v1.4M649.1 688.5v1.4M649.1 719.2v1.4M649.1 741.5v1.4M649.1 748.5v2.8M649.1 879.8v1.4M649.1 892.3v2.8M649.1 896.5v1.4M649.1 903.5v1.4M662.5 511.1v1.4M662.5 526.5v1.4M662.5 532.1v4.2M662.5 560.0v1.4M662.5 719.2v1.4M675.8 530.7v1.4M675.8 540.4v1.4M675.8 708.0v1.4M675.8 715.0v1.4M675.8 836.5v1.4M675.8 844.9v2.8M675.8 857.4v1.4M675.8 861.6v2.8M675.8 903.5v1.4M689.2 525.1v4.2M689.2 541.8v1.4M689.2 550.2v1.4M689.2 571.2v1.4M689.2 682.9v1.4M689.2 814.1v2.8M689.2 860.2v1.4M702.6 516.7v1.4M702.6 544.6v1.4M702.6 562.8v1.4M702.6 840.7v1.4M702.6 851.8v1.4M702.6 864.4v2.8M716.0 506.9v1.4M716.0 537.6v1.4M716.0 571.2v2.8M716.0 832.3v1.4M716.0 849.0v1.4M729.3 536.3v1.4M729.3 892.3v1.4M742.7 541.8v1.4M742.7 547.4v1.4M742.7 568.4v1.4M742.7 716.4v1.4M742.7 789.0v1.4M742.7 874.2v1.4M742.7 881.2v1.4M742.7 902.1v1.4"/><path stroke="#0008c8" d="M542.1 520.9v4.2M555.5 652.2v4.2"/><path stroke="#e8f0ff" d="M542.1 529.3v1.4M542.1 541.8v1.4M555.5 513.9v1.4M555.5 525.1v1.4M555.5 532.1v1.4M555.5 547.4v1.4M555.5 551.6v1.4M555.5 558.6v2.8M555.5 878.4v1.4M555.5 888.1v4.2M568.8 505.5v1.4M568.8 509.7v1.4M568.8 518.1v1.4M568.8 527.9v1.4M568.8 534.9v1.4M568.8 555.8v1.4M568.8 561.4v1.4M568.8 839.3v1.4M568.8 896.5v1.4M582.2 527.9v2.8M582.2 533.5v2.8M582.2 539.0v1.4M582.2 547.4v1.4M582.2 861.6v2.8M595.6 513.9v1.4M595.6 518.1v1.4M595.6 537.6v1.4M595.6 564.2v1.4M595.6 729.0v2.8M595.6 819.7v1.4M595.6 868.6v1.4M595.6 877.0v1.4M595.6 900.7v2.8M609.0 540.4v1.4M609.0 717.8v1.4M609.0 720.6v1.4M609.0 752.7v2.8M609.0 853.2v1.4M609.0 867.2v1.4M609.0 871.4v1.4M609.0 874.2v1.4M622.3 505.5v1.4M622.3 691.3v1.4M622.3 713.6v2.8M622.3 844.9v1.4M622.3 865.8v4.2M622.3 889.5v2.8M635.7 533.5v1.4M635.7 547.4v1.4M635.7 564.2v1.4M635.7 681.5v1.4M635.7 696.8v1.4M635.7 713.6v1.4M635.7 717.8v1.4M635.7 737.3v1.4M635.7 755.5v1.4M635.7 875.6v2.8M635.7 889.5v2.8M649.1 508.3v1.4M649.1 522.3v1.4M649.1 529.3v1.4M649.1 560.0v1.4M649.1 717.8v1.4M649.1 720.6v1.4M649.1 846.3v1.4M649.1 871.4v2.8M649.1 888.1v1.4M662.5 519.5v1.4M662.5 562.8v2.8M662.5 680.1v1.4M662.5 682.9v1.4M662.5 687.1v1.4M662.5 723.4v1.4M662.5 830.9v1.4M662.5 849.0v1.4M662.5 856.0v1.4M662.5 861.6v1.4M662.5 868.6v1.4M675.8 526.5v1.4M675.8 537.6v2.8M675.8 695.4v1.4M675.8 706.6v1.4M675.8 712.2v1.4M675.8 837.9v1.4M675.8 850.4v1.4M675.8 856.0v1.4M675.8 881.2v1.4M675.8 884.0v1.4M675.8 888.1v1.4M689.2 522.3v1.4M689.2 529.3v1.4M689.2 536.3v1.4M689.2 544.6v1.4M689.2 720.6v1.4M689.2 825.3v1.4M689.2 854.6v1.4M689.2 863.0v1.4M689.2 884.0v1.4M689.2 890.9v1.4M702.6 594.9v1.4M702.6 836.5v1.4M702.6 849.0v2.8M702.6 870.0v1.4M702.6 877.0v1.4M716.0 530.7v1.4M716.0 553.0v1.4M716.0 835.1v4.2M716.0 842.1v1.4M716.0 846.3v1.4M716.0 856.0v1.4M729.3 534.9v1.4M729.3 854.6v1.4M729.3 857.4v2.8M742.7 569.8v1.4M742.7 877.0v2.8M742.7 900.7v1.4"/><path stroke="#d0e0f8" d="M542.1 534.9v2.8M555.5 543.2v1.4M568.8 888.1v1.4M582.2 523.7v2.8M582.2 544.6v1.4M582.2 856.0v4.2M582.2 867.2v1.4M595.6 832.3v2.8M609.0 522.3v1.4M609.0 555.8v2.8M622.3 698.2v1.4M622.3 701.0v1.4M635.7 527.9v1.4M635.7 562.8v1.4M635.7 712.2v1.4M649.1 532.1v1.4M649.1 715.0v1.4M649.1 724.8v1.4M649.1 885.4v1.4M649.1 900.7v1.4M662.5 547.4v1.4M662.5 696.8v1.4M662.5 710.8v2.8M662.5 864.4v1.4M662.5 879.8v1.4M662.5 895.1v1.4M675.8 886.8v1.4M689.2 516.7v1.4M689.2 520.9v1.4M689.2 532.1v1.4M689.2 534.9v1.4M689.2 847.7v1.4M689.2 904.9v1.4M702.6 519.5v1.4M702.6 543.2v1.4M702.6 846.3v1.4M716.0 532.1v1.4M716.0 864.4v2.8M716.0 902.1v2.8M729.3 551.6v1.4M742.7 513.9v2.8M742.7 518.1v2.8M742.7 540.4v1.4"/><path stroke="#7090f8" d="M542.1 539.0v1.4M609.0 574.0v2.8"/><path stroke="#f8f8ff" d="M542.1 543.2v1.4M542.1 555.8v1.4M542.1 558.6v1.4M542.1 565.6v1.4M542.1 592.1v2.8M542.1 678.7v1.4M542.1 754.1v1.4M542.1 825.3v1.4M542.1 828.1v2.8M542.1 840.7v1.4M542.1 847.7v2.8M542.1 863.0v2.8M542.1 868.6v1.4M542.1 895.1v1.4M555.5 506.9v1.4M555.5 518.1v1.4M555.5 553.0v2.8M555.5 585.1v1.4M555.5 727.6v1.4M555.5 751.3v1.4M555.5 822.5v1.4M555.5 847.7v5.6M555.5 877.0v1.4M555.5 879.8v1.4M568.8 511.1v1.4M568.8 536.3v1.4M568.8 539.0v4.2M568.8 554.4v1.4M568.8 562.8v1.4M568.8 762.5v2.8M568.8 837.9v1.4M568.8 843.5v1.4M568.8 846.3v1.4M568.8 850.4v1.4M568.8 861.6v1.4M568.8 865.8v2.8M568.8 884.0v1.4M568.8 892.3v1.4M568.8 899.3v1.4M582.2 512.5v1.4M582.2 554.4v1.4M582.2 558.6v1.4M582.2 562.8v1.4M582.2 715.0v1.4M582.2 747.1v1.4M582.2 751.3v2.8M582.2 853.2v1.4M582.2 871.4v1.4M595.6 505.5v1.4M595.6 522.3v1.4M595.6 534.9v1.4M595.6 548.8v1.4M595.6 551.6v1.4M595.6 703.8v1.4M595.6 708.0v1.4M595.6 756.9v1.4M595.6 826.7v1.4M595.6 835.1v2.8M595.6 863.0v1.4M595.6 882.6v1.4M595.6 890.9v1.4M595.6 895.1v1.4M595.6 899.3v1.4M609.0 506.9v2.8M609.0 512.5v1.4M609.0 533.5v5.6M609.0 560.0v1.4M609.0 562.8v2.8M609.0 648.0v1.4M609.0 715.0v1.4M609.0 724.8v1.4M609.0 755.5v1.4M609.0 829.5v4.2M609.0 863.0v1.4M609.0 870.0v1.4M609.0 879.8v2.8M622.3 506.9v5.6M622.3 519.5v1.4M622.3 537.6v1.4M622.3 547.4v2.8M622.3 569.8v1.4M622.3 668.9v1.4M622.3 687.1v2.8M622.3 694.0v1.4M622.3 705.2v8.4M622.3 716.4v1.4M622.3 726.2v1.4M622.3 729.0v5.6M622.3 737.3v2.8M622.3 849.0v1.4M622.3 851.8v1.4M622.3 864.4v1.4M622.3 871.4v1.4M622.3 874.2v4.2M622.3 886.8v1.4M622.3 892.3v1.4M622.3 904.9v1.4M635.7 512.5v1.4M635.7 519.5v1.4M635.7 523.7v1.4M635.7 576.7v1.4M635.7 664.7v1.4M635.7 687.1v2.8M635.7 694.0v1.4M635.7 719.2v1.4M635.7 730.4v1.4M635.7 735.9v1.4M635.7 738.7v1.4M635.7 748.5v2.8M635.7 752.7v1.4M635.7 816.9v2.8M635.7 826.7v1.4M635.7 829.5v1.4M635.7 837.9v1.4M635.7 853.2v1.4M635.7 858.8v1.4M635.7 861.6v1.4M635.7 879.8v1.4M635.7 888.1v1.4M649.1 509.7v1.4M649.1 512.5v2.8M649.1 548.8v1.4M649.1 568.4v2.8M649.1 660.5v1.4M649.1 667.5v1.4M649.1 733.1v2.8M649.1 737.3v1.4M649.1 747.1v1.4M649.1 823.9v4.2M649.1 865.8v1.4M649.1 875.6v1.4M649.1 878.4v1.4M649.1 889.5v2.8M649.1 895.1v1.4M649.1 904.9v1.4M662.5 505.5v5.6M662.5 565.6v1.4M662.5 666.1v2.8M662.5 747.1v1.4M662.5 812.7v1.4M662.5 828.1v1.4M662.5 832.3v1.4M662.5 850.4v5.6M662.5 877.0v1.4M662.5 892.3v1.4M662.5 897.9v1.4M675.8 509.7v2.8M675.8 520.9v1.4M675.8 544.6v1.4M675.8 547.4v1.4M675.8 653.6v1.4M675.8 685.7v4.2M675.8 694.0v1.4M675.8 696.8v1.4M675.8 702.4v1.4M675.8 709.4v2.8M675.8 717.8v4.2M675.8 730.4v2.8M675.8 818.3v1.4M675.8 839.3v1.4M675.8 847.7v2.8M675.8 858.8v2.8M675.8 864.4v1.4M675.8 874.2v1.4M675.8 889.5v2.8M689.2 513.9v1.4M689.2 523.7v1.4M689.2 537.6v2.8M689.2 564.2v1.4M689.2 681.5v1.4M689.2 695.4v1.4M689.2 812.7v1.4M689.2 816.9v2.8M689.2 823.9v1.4M689.2 832.3v1.4M689.2 871.4v1.4M689.2 877.0v1.4M689.2 879.8v1.4M689.2 882.6v1.4M689.2 892.3v2.8M689.2 899.3v1.4M702.6 505.5v1.4M702.6 527.9v1.4M702.6 571.2v1.4M702.6 828.1v1.4M702.6 854.6v4.2M702.6 878.4v1.4M702.6 888.1v1.4M716.0 505.5v1.4M716.0 508.3v1.4M716.0 522.3v1.4M716.0 551.6v1.4M716.0 557.2v1.4M716.0 567.0v1.4M716.0 574.0v1.4M716.0 822.5v1.4M716.0 868.6v1.4M716.0 875.6v2.8M716.0 882.6v1.4M729.3 508.3v1.4M729.3 513.9v1.4M729.3 543.2v2.8M729.3 547.4v2.8M729.3 560.0v1.4M729.3 800.2v2.8M729.3 814.1v1.4M729.3 819.7v1.4M729.3 844.9v1.4M729.3 860.2v1.4M729.3 863.0v1.4M729.3 879.8v1.4M729.3 890.9v1.4M729.3 893.7v1.4M742.7 508.3v1.4M742.7 527.9v1.4M742.7 546.0v1.4M742.7 548.8v1.4M742.7 555.8v2.8M742.7 812.7v2.8M742.7 823.9v1.4M742.7 830.9v2.8M742.7 861.6v1.4M742.7 868.6v2.8M742.7 888.1v1.4"/><path stroke="#ffd8c8" d="M542.1 551.6v1.4M542.1 614.5v1.4M542.1 632.6v1.4M542.1 691.3v1.4M542.1 710.8v1.4M542.1 719.2v1.4M542.1 772.2v1.4M542.1 791.8v1.4M542.1 804.4v1.4M542.1 861.6v1.4M555.5 613.1v1.4M555.5 629.8v1.4M555.5 636.8v1.4M555.5 643.8v1.4M555.5 646.6v2.8M555.5 716.4v1.4M555.5 779.2v2.8M555.5 794.6v1.4M555.5 801.6v1.4M555.5 811.3v1.4M555.5 826.7v1.4M555.5 837.9v2.8M568.8 618.6v4.2M568.8 639.6v1.4M568.8 661.9v2.8M568.8 684.3v1.4M568.8 710.8v1.4M568.8 738.7v1.4M568.8 772.2v1.4M568.8 783.4v1.4M568.8 786.2v1.4M568.8 790.4v1.4M568.8 816.9v1.4M568.8 828.1v1.4M582.2 590.7v1.4M582.2 596.3v1.4M582.2 610.3v1.4M582.2 615.8v1.4M582.2 629.8v1.4M582.2 632.6v1.4M582.2 671.7v2.8M582.2 695.4v1.4M582.2 701.0v1.4M582.2 780.6v1.4M582.2 784.8v1.4M582.2 787.6v1.4M582.2 791.8v1.4M595.6 585.1v1.4M595.6 635.4v1.4M595.6 638.2v1.4M595.6 642.4v2.8M595.6 660.5v1.4M595.6 769.5v1.4M595.6 780.6v1.4M595.6 796.0v1.4M609.0 592.1v1.4M609.0 601.9v1.4M609.0 629.8v1.4M609.0 649.4v1.4M609.0 812.7v1.4M622.3 638.2v1.4M622.3 649.4v1.4M622.3 660.5v1.4M622.3 664.7v1.4M622.3 667.5v1.4M622.3 677.3v1.4M622.3 819.7v1.4M635.7 585.1v1.4M635.7 596.3v1.4M635.7 599.1v2.8M635.7 607.5v1.4M635.7 768.1v1.4M635.7 804.4v1.4M635.7 812.7v1.4M649.1 601.9v2.8M649.1 607.5v2.8M649.1 611.7v1.4M649.1 625.6v1.4M649.1 638.2v2.8M649.1 756.9v1.4M649.1 803.0v1.4M649.1 805.8v1.4M662.5 575.4v2.8M662.5 587.9v1.4M662.5 642.4v1.4M662.5 645.2v1.4M662.5 735.9v1.4M662.5 756.9v2.8M675.8 600.5v1.4M675.8 614.5v1.4M675.8 617.2v2.8M675.8 645.2v2.8M675.8 747.1v1.4M675.8 758.3v1.4M675.8 784.8v2.8M689.2 631.2v1.4M689.2 674.5v1.4M689.2 745.7v2.8M689.2 793.2v1.4M702.6 582.3v1.4M702.6 592.1v1.4M702.6 599.1v1.4M702.6 604.7v1.4M702.6 635.4v1.4M702.6 661.9v1.4M702.6 664.7v1.4M702.6 667.5v1.4M702.6 737.3v1.4M702.6 787.6v1.4M702.6 797.4v1.4M702.6 811.3v1.4M716.0 589.3v1.4M716.0 592.1v1.4M716.0 601.9v1.4M716.0 608.9v2.8M716.0 660.5v1.4M716.0 680.1v1.4M716.0 723.4v1.4M716.0 727.6v1.4M716.0 787.6v1.4M716.0 797.4v1.4M729.3 608.9v2.8M729.3 618.6v1.4M729.3 628.4v1.4M729.3 653.6v1.4M729.3 656.3v1.4M729.3 668.9v1.4M729.3 698.2v1.4M729.3 709.4v1.4M729.3 729.0v1.4M729.3 741.5v2.8M729.3 784.8v1.4M729.3 843.5v1.4M742.7 561.4v1.4M742.7 635.4v1.4M742.7 639.6v1.4M742.7 661.9v1.4M742.7 668.9v1.4M742.7 678.7v1.4M742.7 709.4v4.2M742.7 738.7v1.4M742.7 741.5v1.4M742.7 782.0v1.4M742.7 836.5v1.4M742.7 854.6v2.8"/><path stroke="#fffff8" d="M542.1 554.4v1.4M542.1 560.0v1.4M542.1 639.6v1.4M542.1 730.4v1.4M542.1 770.8v1.4M542.1 890.9v1.4M555.5 564.2v1.4M555.5 571.2v1.4M555.5 586.5v1.4M555.5 712.2v1.4M555.5 740.1v1.4M555.5 867.2v1.4M568.8 860.2v1.4M582.2 516.7v1.4M582.2 745.7v1.4M595.6 511.1v1.4M595.6 547.4v1.4M595.6 620.0v1.4M595.6 747.1v1.4M595.6 815.5v2.8M595.6 842.1v1.4M609.0 576.7v1.4M609.0 689.9v1.4M609.0 702.4v2.8M622.3 527.9v1.4M622.3 561.4v1.4M622.3 740.1v1.4M622.3 840.7v1.4M622.3 893.7v1.4M622.3 897.9v1.4M635.7 508.3v2.8M635.7 522.3v1.4M635.7 734.5v1.4M635.7 747.1v1.4M635.7 846.3v1.4M635.7 851.8v1.4M635.7 865.8v1.4M635.7 885.4v1.4M649.1 571.2v1.4M649.1 709.4v1.4M649.1 735.9v1.4M662.5 557.2v1.4M662.5 675.9v1.4M662.5 726.2v1.4M662.5 748.5v1.4M662.5 840.7v1.4M675.8 527.9v1.4M675.8 548.8v1.4M675.8 835.1v1.4M675.8 843.5v1.4M675.8 872.8v1.4M689.2 511.1v1.4M702.6 509.7v2.8M702.6 534.9v2.8M702.6 558.6v1.4M702.6 569.8v1.4M702.6 733.1v1.4M702.6 815.5v1.4M702.6 860.2v1.4M716.0 515.3v1.4M716.0 569.8v1.4M716.0 575.4v1.4M729.3 505.5v1.4M729.3 561.4v1.4M729.3 871.4v1.4M729.3 889.5v1.4M742.7 511.1v1.4M742.7 558.6v1.4M742.7 719.2v1.4"/><path stroke="#fff0f0" d="M542.1 561.4v1.4M542.1 624.2v1.4M542.1 705.2v1.4M542.1 737.3v1.4M542.1 808.6v1.4M542.1 882.6v2.8M542.1 888.1v1.4M555.5 578.1v1.4M555.5 590.7v1.4M555.5 641.0v1.4M555.5 696.8v1.4M555.5 729.0v1.4M555.5 763.9v1.4M555.5 770.8v1.4M555.5 832.3v1.4M555.5 871.4v1.4M568.8 590.7v1.4M568.8 748.5v1.4M568.8 871.4v1.4M582.2 705.2v1.4M582.2 731.7v1.4M582.2 744.3v1.4M582.2 756.9v1.4M582.2 836.5v2.8M582.2 893.7v1.4M595.6 527.9v1.4M595.6 544.6v1.4M595.6 684.3v1.4M595.6 694.0v1.4M595.6 717.8v1.4M595.6 759.7v1.4M595.6 886.8v1.4M609.0 586.5v1.4M609.0 678.7v1.4M609.0 709.4v1.4M622.3 553.0v2.8M622.3 564.2v1.4M622.3 681.5v1.4M622.3 830.9v1.4M622.3 879.8v1.4M635.7 553.0v1.4M635.7 572.6v1.4M635.7 579.5v1.4M635.7 659.1v1.4M649.1 562.8v1.4M649.1 594.9v1.4M649.1 677.3v1.4M649.1 842.1v1.4M662.5 613.1v2.8M662.5 636.8v1.4M662.5 844.9v1.4M662.5 899.3v1.4M675.8 657.7v1.4M675.8 661.9v1.4M675.8 722.0v1.4M675.8 726.2v1.4M675.8 749.9v1.4M675.8 812.7v2.8M675.8 826.7v1.4M689.2 546.0v1.4M689.2 583.7v1.4M689.2 586.5v1.4M689.2 589.3v1.4M689.2 678.7v2.8M689.2 868.6v1.4M702.6 723.4v1.4M702.6 842.1v2.8M716.0 692.6v1.4M716.0 870.0v1.4M716.0 881.2v1.4M729.3 875.6v1.4M742.7 516.7v1.4M742.7 529.3v1.4M742.7 641.0v2.8M742.7 727.6v1.4"/><path stroke="#fff0e8" d="M542.1 572.6v1.4M542.1 580.9v1.4M542.1 586.5v4.2M542.1 628.4v1.4M542.1 645.2v1.4M542.1 652.2v1.4M542.1 654.9v1.4M542.1 661.9v1.4M542.1 668.9v1.4M542.1 680.1v1.4M542.1 687.1v1.4M542.1 708.0v1.4M542.1 715.0v1.4M542.1 724.8v4.2M542.1 733.1v4.2M542.1 751.3v1.4M542.1 761.1v1.4M542.1 768.1v1.4M542.1 790.4v1.4M542.1 807.2v1.4M542.1 812.7v1.4M542.1 904.9v1.4M555.5 579.5v2.8M555.5 606.1v4.2M555.5 625.6v1.4M555.5 639.6v1.4M555.5 688.5v1.4M555.5 695.4v1.4M555.5 709.4v1.4M555.5 730.4v2.8M555.5 745.7v1.4M555.5 754.1v1.4M555.5 765.3v1.4M555.5 815.5v1.4M555.5 818.3v1.4M555.5 835.1v1.4M555.5 854.6v1.4M555.5 872.8v2.8M555.5 884.0v1.4M568.8 578.1v2.8M568.8 582.3v1.4M568.8 615.8v1.4M568.8 694.0v1.4M568.8 701.0v1.4M568.8 715.0v1.4M568.8 719.2v1.4M568.8 722.0v1.4M568.8 724.8v1.4M568.8 735.9v1.4M568.8 752.7v1.4M568.8 756.9v1.4M568.8 818.3v1.4M568.8 853.2v1.4M568.8 870.0v1.4M568.8 893.7v2.8M582.2 571.2v4.2M582.2 578.1v1.4M582.2 604.7v1.4M582.2 627.0v1.4M582.2 678.7v1.4M582.2 692.6v1.4M582.2 702.4v1.4M582.2 709.4v2.8M582.2 730.4v1.4M582.2 741.5v1.4M582.2 763.9v1.4M582.2 768.1v1.4M582.2 775.0v1.4M582.2 805.8v1.4M582.2 839.3v5.6M582.2 895.1v5.6M595.6 557.2v1.4M595.6 572.6v1.4M595.6 576.7v1.4M595.6 589.3v2.8M595.6 617.2v1.4M595.6 621.4v1.4M595.6 663.3v1.4M595.6 681.5v1.4M595.6 687.1v1.4M595.6 691.3v1.4M595.6 699.6v2.8M595.6 710.8v1.4M595.6 713.6v1.4M595.6 723.4v2.8M595.6 734.5v1.4M595.6 741.5v1.4M595.6 766.7v1.4M595.6 772.2v1.4M595.6 843.5v1.4M595.6 847.7v1.4M595.6 888.1v2.8M609.0 580.9v2.8M609.0 589.3v1.4M609.0 596.3v1.4M609.0 600.5v1.4M609.0 684.3v1.4M609.0 694.0v1.4M609.0 710.8v1.4M609.0 738.7v5.6M609.0 747.1v1.4M609.0 808.6v2.8M609.0 826.7v1.4M609.0 837.9v1.4M609.0 888.1v1.4M609.0 899.3v1.4M609.0 904.9v1.4M622.3 518.1v1.4M622.3 529.3v4.2M622.3 534.9v1.4M622.3 597.7v1.4M622.3 673.1v1.4M622.3 751.3v1.4M622.3 756.9v1.4M622.3 770.8v1.4M622.3 822.5v2.8M622.3 826.7v4.2M622.3 843.5v1.4M635.7 557.2v1.4M635.7 571.2v1.4M635.7 582.3v1.4M635.7 643.8v2.8M635.7 649.4v2.8M635.7 660.5v2.8M635.7 744.3v1.4M635.7 761.1v1.4M635.7 808.6v2.8M635.7 823.9v1.4M635.7 850.4v1.4M635.7 864.4v1.4M649.1 516.7v1.4M649.1 525.1v1.4M649.1 564.2v1.4M649.1 586.5v1.4M649.1 593.5v1.4M649.1 642.4v1.4M649.1 664.7v1.4M649.1 670.3v4.2M649.1 675.9v1.4M649.1 730.4v1.4M649.1 761.1v1.4M649.1 816.9v2.8M649.1 832.3v1.4M649.1 835.1v4.2M662.5 569.8v2.8M662.5 580.9v1.4M662.5 585.1v1.4M662.5 606.1v2.8M662.5 656.3v2.8M662.5 727.6v4.2M662.5 754.1v1.4M662.5 803.0v1.4M662.5 858.8v1.4M662.5 886.8v1.4M662.5 889.5v1.4M675.8 519.5v1.4M675.8 580.9v2.8M675.8 654.9v1.4M675.8 674.5v1.4M675.8 724.8v1.4M675.8 733.1v8.4M675.8 804.4v1.4M675.8 811.3v1.4M675.8 828.1v1.4M675.8 893.7v4.2M689.2 547.4v1.4M689.2 576.7v1.4M689.2 579.5v1.4M689.2 587.9v1.4M689.2 590.7v1.4M689.2 670.3v1.4M689.2 692.6v1.4M689.2 699.6v1.4M689.2 710.8v1.4M689.2 713.6v1.4M689.2 729.0v2.8M689.2 735.9v1.4M689.2 804.4v1.4M689.2 822.5v1.4M689.2 865.8v2.8M689.2 896.5v1.4M702.6 548.8v1.4M702.6 553.0v2.8M702.6 557.2v1.4M702.6 638.2v1.4M702.6 682.9v1.4M702.6 688.5v2.8M702.6 695.4v1.4M702.6 717.8v1.4M702.6 720.6v1.4M702.6 735.9v1.4M702.6 800.2v2.8M702.6 814.1v1.4M702.6 819.7v2.8M702.6 825.3v1.4M702.6 863.0v1.4M702.6 897.9v1.4M702.6 904.9v1.4M716.0 562.8v1.4M716.0 576.7v1.4M716.0 673.1v1.4M716.0 705.2v1.4M716.0 715.0v1.4M716.0 717.8v1.4M716.0 731.7v1.4M716.0 791.8v1.4M716.0 794.6v1.4M716.0 801.6v1.4M716.0 814.1v1.4M716.0 816.9v2.8M716.0 825.3v1.4M716.0 829.5v1.4M716.0 851.8v2.8M716.0 886.8v1.4M716.0 895.1v1.4M729.3 562.8v1.4M729.3 568.4v1.4M729.3 572.6v2.8M729.3 578.1v1.4M729.3 585.1v1.4M729.3 592.1v2.8M729.3 597.7v1.4M729.3 790.4v2.8M729.3 803.0v1.4M729.3 826.7v2.8M729.3 833.7v1.4M729.3 874.2v1.4M729.3 899.3v2.8M742.7 532.1v1.4M742.7 565.6v1.4M742.7 576.7v1.4M742.7 580.9v1.4M742.7 593.5v1.4M742.7 597.7v1.4M742.7 622.8v2.8M742.7 674.5v1.4M742.7 681.5v1.4M742.7 696.8v1.4M742.7 722.0v4.2M742.7 730.4v1.4M742.7 801.6v2.8M742.7 842.1v1.4M742.7 890.9v1.4"/><path stroke="#ffe8e0" d="M542.1 574.0v2.8M542.1 585.1v1.4M542.1 596.3v2.8M542.1 607.5v2.8M542.1 636.8v1.4M542.1 646.6v1.4M542.1 659.1v2.8M542.1 681.5v1.4M542.1 720.6v1.4M542.1 740.1v1.4M542.1 742.9v1.4M542.1 759.7v1.4M542.1 814.1v1.4M542.1 885.4v1.4M555.5 597.7v1.4M555.5 601.9v1.4M555.5 604.7v1.4M555.5 610.3v1.4M555.5 624.2v1.4M555.5 673.1v1.4M555.5 678.7v1.4M555.5 692.6v1.4M555.5 713.6v1.4M555.5 724.8v1.4M555.5 772.2v1.4M555.5 816.9v1.4M555.5 823.9v1.4M555.5 882.6v1.4M555.5 900.7v1.4M555.5 903.5v1.4M568.8 515.3v1.4M568.8 592.1v1.4M568.8 692.6v1.4M568.8 729.0v1.4M568.8 737.3v1.4M568.8 754.1v1.4M568.8 779.2v1.4M568.8 822.5v1.4M568.8 829.5v1.4M582.2 579.5v1.4M582.2 603.3v1.4M582.2 681.5v1.4M582.2 685.7v2.8M582.2 691.3v1.4M582.2 706.6v2.8M582.2 712.2v1.4M582.2 742.9v1.4M582.2 822.5v1.4M595.6 578.1v1.4M595.6 677.3v1.4M595.6 685.7v1.4M595.6 692.6v1.4M595.6 712.2v1.4M595.6 719.2v1.4M595.6 740.1v1.4M595.6 777.8v1.4M595.6 844.9v1.4M609.0 571.2v1.4M609.0 583.7v1.4M609.0 663.3v1.4M609.0 687.1v1.4M609.0 695.4v1.4M609.0 744.3v1.4M609.0 758.3v1.4M609.0 825.3v1.4M609.0 875.6v2.8M609.0 900.7v2.8M622.3 632.6v1.4M622.3 812.7v1.4M622.3 842.1v1.4M635.7 642.4v1.4M635.7 648.0v1.4M635.7 652.2v1.4M635.7 654.9v1.4M635.7 678.7v1.4M635.7 723.4v1.4M635.7 762.5v1.4M635.7 847.7v1.4M635.7 896.5v4.2M635.7 902.1v1.4M649.1 576.7v1.4M649.1 587.9v1.4M649.1 636.8v1.4M649.1 646.6v1.4M649.1 656.3v2.8M649.1 833.7v1.4M662.5 583.7v1.4M662.5 608.9v1.4M662.5 624.2v1.4M662.5 646.6v1.4M662.5 654.9v1.4M662.5 660.5v1.4M662.5 807.2v1.4M662.5 818.3v1.4M662.5 904.9v1.4M675.8 515.3v4.2M675.8 594.9v1.4M675.8 650.8v1.4M675.8 656.3v1.4M675.8 673.1v1.4M675.8 805.8v1.4M675.8 809.9v1.4M675.8 832.3v1.4M675.8 868.6v1.4M689.2 580.9v1.4M689.2 592.1v1.4M689.2 603.3v1.4M689.2 652.2v1.4M689.2 656.3v2.8M689.2 660.5v2.8M689.2 666.1v2.8M689.2 727.6v1.4M689.2 835.1v4.2M689.2 843.5v1.4M702.6 551.6v1.4M702.6 555.8v1.4M702.6 601.9v1.4M702.6 645.2v1.4M702.6 677.3v1.4M702.6 694.0v1.4M702.6 696.8v1.4M702.6 699.6v1.4M702.6 722.0v1.4M702.6 803.0v2.8M702.6 809.9v1.4M702.6 823.9v1.4M716.0 547.4v2.8M716.0 561.4v1.4M716.0 578.1v2.8M716.0 663.3v1.4M716.0 687.1v1.4M716.0 691.3v1.4M716.0 696.8v5.6M716.0 716.4v1.4M716.0 730.4v1.4M716.0 803.0v2.8M716.0 808.6v1.4M716.0 872.8v1.4M716.0 889.5v1.4M729.3 564.2v1.4M729.3 569.8v1.4M729.3 580.9v1.4M729.3 583.7v1.4M729.3 586.5v1.4M729.3 589.3v1.4M729.3 696.8v1.4M729.3 717.8v2.8M729.3 722.0v1.4M729.3 731.7v1.4M729.3 789.0v1.4M729.3 835.1v1.4M729.3 839.3v1.4M742.7 523.7v1.4M742.7 530.7v1.4M742.7 664.7v1.4M742.7 694.0v1.4M742.7 698.2v1.4M742.7 703.8v1.4M742.7 791.8v1.4M742.7 835.1v1.4M742.7 853.2v1.4M742.7 892.3v1.4"/><path stroke="#ffe0d0" d="M542.1 576.7v4.2M542.1 599.1v1.4M542.1 601.9v1.4M542.1 613.1v1.4M542.1 629.8v1.4M542.1 634.0v1.4M542.1 688.5v1.4M542.1 692.6v5.6M542.1 701.0v1.4M542.1 712.2v1.4M542.1 717.8v1.4M542.1 741.5v1.4M542.1 815.5v1.4M542.1 818.3v1.4M555.5 614.5v2.8M555.5 622.8v1.4M555.5 628.4v1.4M555.5 631.2v1.4M555.5 674.5v2.8M555.5 681.5v1.4M555.5 702.4v1.4M555.5 705.2v1.4M555.5 720.6v1.4M555.5 726.2v1.4M555.5 777.8v1.4M555.5 783.4v1.4M555.5 787.6v1.4M555.5 796.0v5.6M555.5 807.2v1.4M555.5 809.9v1.4M555.5 812.7v1.4M555.5 836.5v1.4M568.8 600.5v2.8M568.8 606.1v1.4M568.8 614.5v1.4M568.8 632.6v1.4M568.8 641.0v1.4M568.8 649.4v1.4M568.8 668.9v2.8M568.8 685.7v2.8M568.8 705.2v1.4M568.8 712.2v2.8M568.8 726.2v1.4M568.8 770.8v1.4M568.8 773.6v2.8M568.8 784.8v1.4M568.8 815.5v1.4M568.8 821.1v1.4M568.8 823.9v2.8M582.2 608.9v1.4M582.2 614.5v1.4M582.2 634.0v1.4M582.2 638.2v1.4M582.2 661.9v2.8M582.2 674.5v1.4M582.2 682.9v1.4M582.2 726.2v4.2M582.2 765.3v1.4M582.2 773.6v1.4M582.2 779.2v1.4M582.2 786.2v1.4M582.2 793.2v1.4M582.2 816.9v2.8M582.2 890.9v1.4M595.6 558.6v1.4M595.6 571.2v1.4M595.6 579.5v1.4M595.6 641.0v1.4M595.6 645.2v7.0M595.6 657.7v2.8M595.6 674.5v1.4M595.6 737.3v1.4M595.6 768.1v1.4M609.0 520.9v1.4M609.0 590.7v1.4M609.0 593.5v1.4M609.0 618.6v1.4M609.0 650.8v4.2M609.0 666.1v1.4M609.0 673.1v1.4M609.0 681.5v1.4M609.0 768.1v1.4M609.0 772.2v2.8M609.0 807.2v1.4M609.0 823.9v1.4M622.3 583.7v1.4M622.3 586.5v1.4M622.3 645.2v2.8M622.3 657.7v2.8M622.3 670.3v1.4M622.3 678.7v2.8M622.3 758.3v1.4M622.3 763.9v1.4M622.3 790.4v2.8M635.7 594.9v1.4M635.7 606.1v1.4M635.7 638.2v1.4M635.7 653.6v1.4M635.7 811.3v1.4M635.7 814.1v1.4M649.1 579.5v2.8M649.1 583.7v1.4M649.1 589.3v2.8M649.1 600.5v1.4M649.1 604.7v2.8M649.1 610.3v1.4M649.1 648.0v2.8M649.1 752.7v1.4M649.1 758.3v1.4M649.1 762.5v1.4M649.1 800.2v2.8M662.5 578.1v1.4M662.5 648.0v1.4M662.5 653.6v1.4M662.5 798.8v1.4M662.5 805.8v1.4M675.8 523.7v1.4M675.8 560.0v1.4M675.8 575.4v4.2M675.8 589.3v1.4M675.8 597.7v1.4M675.8 608.9v1.4M675.8 615.8v1.4M675.8 620.0v1.4M675.8 667.5v2.8M675.8 744.3v1.4M675.8 756.9v1.4M675.8 800.2v1.4M675.8 808.6v1.4M675.8 829.5v2.8M675.8 900.7v2.8M689.2 599.1v1.4M689.2 615.8v1.4M689.2 642.4v2.8M689.2 646.6v1.4M689.2 702.4v1.4M689.2 724.8v1.4M689.2 737.3v1.4M689.2 801.6v1.4M689.2 839.3v1.4M689.2 842.1v1.4M702.6 593.5v1.4M702.6 596.3v2.8M702.6 663.3v1.4M702.6 666.1v1.4M702.6 673.1v1.4M702.6 675.9v1.4M702.6 685.7v1.4M702.6 713.6v1.4M702.6 716.4v1.4M702.6 798.8v1.4M702.6 812.7v1.4M716.0 587.9v1.4M716.0 599.1v2.8M716.0 643.8v4.2M716.0 657.7v1.4M716.0 666.1v2.8M716.0 678.7v1.4M716.0 684.3v1.4M716.0 689.9v1.4M716.0 734.5v1.4M716.0 737.3v1.4M716.0 740.1v2.8M716.0 798.8v1.4M716.0 805.8v2.8M729.3 594.9v2.8M729.3 627.0v1.4M729.3 654.9v1.4M729.3 659.1v4.2M729.3 674.5v1.4M729.3 677.3v1.4M729.3 694.0v1.4M729.3 701.0v2.8M729.3 708.0v1.4M729.3 723.4v1.4M729.3 730.4v1.4M729.3 734.5v1.4M729.3 787.6v1.4M729.3 807.2v1.4M729.3 836.5v1.4M742.7 534.9v2.8M742.7 562.8v1.4M742.7 585.1v1.4M742.7 587.9v1.4M742.7 590.7v2.8M742.7 599.1v1.4M742.7 614.5v2.8M742.7 620.0v1.4M742.7 625.6v1.4M742.7 634.0v1.4M742.7 653.6v1.4M742.7 663.3v1.4M742.7 667.5v1.4M742.7 673.1v1.4M742.7 682.9v2.8M742.7 688.5v4.2M742.7 706.6v2.8M742.7 731.7v1.4M742.7 740.1v1.4M742.7 779.2v1.4M742.7 783.4v1.4M742.7 798.8v1.4"/><path stroke="#ffd8c0" d="M542.1 583.7v1.4M542.1 604.7v1.4M555.5 645.2v1.4M555.5 657.7v1.4M555.5 805.8v1.4M555.5 825.3v1.4M568.8 648.0v1.4M568.8 650.8v1.4M568.8 659.1v2.8M568.8 674.5v1.4M568.8 709.4v1.4M568.8 740.1v1.4M582.2 589.3v1.4M582.2 631.2v1.4M582.2 664.7v2.8M582.2 782.0v2.8M595.6 568.4v2.8M595.6 580.9v1.4M595.6 622.8v1.4M595.6 636.8v1.4M595.6 656.3v1.4M595.6 673.1v1.4M595.6 783.4v1.4M609.0 610.3v1.4M609.0 660.5v1.4M609.0 667.5v5.6M609.0 770.8v1.4M609.0 776.4v1.4M609.0 822.5v1.4M622.3 594.9v1.4M622.3 600.5v1.4M622.3 604.7v2.8M622.3 621.4v1.4M622.3 629.8v1.4M622.3 643.8v1.4M622.3 648.0v1.4M622.3 652.2v1.4M622.3 654.9v1.4M622.3 768.1v1.4M622.3 815.5v1.4M635.7 589.3v1.4M635.7 601.9v1.4M635.7 631.2v2.8M635.7 636.8v1.4M649.1 804.4v1.4M662.5 610.3v1.4M662.5 759.7v1.4M675.8 601.9v1.4M675.8 621.4v1.4M675.8 629.8v1.4M675.8 643.8v1.4M675.8 649.4v1.4M675.8 745.7v1.4M675.8 755.5v1.4M675.8 793.2v1.4M689.2 593.5v1.4M689.2 614.5v1.4M689.2 629.8v1.4M689.2 671.7v1.4M689.2 844.9v2.8M702.6 607.5v1.4M702.6 668.9v1.4M702.6 674.5v1.4M702.6 783.4v1.4M716.0 593.5v1.4M716.0 597.7v1.4M716.0 635.4v1.4M716.0 661.9v1.4M716.0 710.8v1.4M716.0 754.1v1.4M729.3 611.7v1.4M729.3 620.0v1.4M729.3 625.6v1.4M729.3 635.4v1.4M729.3 638.2v2.8M729.3 663.3v1.4M729.3 673.1v1.4M729.3 692.6v1.4M729.3 699.6v1.4M729.3 715.0v1.4M742.7 638.2v1.4M742.7 659.1v1.4"/><path stroke="#ffe0c8" d="M542.1 600.5v1.4M542.1 603.3v1.4M542.1 816.9v1.4M555.5 635.4v1.4M555.5 667.5v1.4M555.5 703.8v1.4M555.5 715.0v1.4M555.5 782.0v1.4M555.5 808.6v1.4M568.8 635.4v1.4M568.8 680.1v1.4M568.8 727.6v1.4M568.8 741.5v1.4M568.8 791.8v1.4M568.8 819.7v1.4M582.2 646.6v1.4M582.2 723.4v2.8M582.2 777.8v1.4M595.6 613.1v1.4M595.6 738.7v1.4M595.6 794.6v1.4M609.0 615.8v1.4M609.0 775.0v1.4M622.3 585.1v1.4M622.3 650.8v1.4M622.3 656.3v1.4M622.3 666.1v1.4M622.3 809.9v1.4M635.7 597.7v1.4M649.1 787.6v1.4M649.1 807.2v1.4M662.5 574.0v1.4M675.8 610.3v1.4M675.8 632.6v1.4M689.2 641.0v1.4M689.2 797.4v1.4M689.2 840.7v1.4M702.6 643.8v1.4M702.6 670.3v1.4M702.6 715.0v1.4M702.6 816.9v2.8M716.0 656.3v1.4M716.0 659.1v1.4M716.0 682.9v1.4M716.0 729.0v1.4M716.0 738.7v1.4M716.0 789.0v1.4M729.3 606.1v1.4M729.3 636.8v1.4M729.3 670.3v1.4M729.3 678.7v1.4M729.3 703.8v1.4M729.3 808.6v1.4M729.3 837.9v1.4M742.7 657.7v1.4M742.7 780.6v1.4M742.7 819.7v2.8M742.7 837.9v2.8"/><path stroke="#f8d0b8" d="M542.1 606.1v1.4M542.1 801.6v1.4M568.8 677.3v1.4M595.6 670.3v1.4M609.0 646.6v1.4M609.0 818.3v1.4M609.0 821.1v1.4M622.3 653.6v1.4M622.3 661.9v1.4M622.3 803.0v1.4M635.7 801.6v1.4M649.1 798.8v1.4M662.5 596.3v1.4M662.5 634.0v1.4M702.6 587.9v1.4M716.0 642.4v1.4M716.0 652.2v1.4M729.3 727.6v1.4M742.7 606.1v1.4"/><path stroke="#ffe8d8" d="M542.1 615.8v1.4M542.1 635.4v1.4M542.1 648.0v4.2M542.1 656.3v2.8M542.1 698.2v2.8M542.1 703.8v1.4M542.1 713.6v1.4M542.1 769.5v1.4M542.1 775.0v4.2M542.1 805.8v1.4M555.5 603.3v1.4M555.5 611.7v1.4M555.5 632.6v2.8M555.5 642.4v1.4M555.5 671.7v1.4M555.5 677.3v1.4M555.5 680.1v1.4M555.5 682.9v1.4M555.5 689.9v1.4M555.5 706.6v1.4M555.5 717.8v1.4M555.5 723.4v1.4M555.5 773.6v4.2M555.5 784.8v1.4M555.5 814.1v1.4M555.5 828.1v1.4M555.5 902.1v1.4M568.8 571.2v2.8M568.8 593.5v1.4M568.8 599.1v1.4M568.8 617.2v1.4M568.8 634.0v1.4M568.8 689.9v2.8M568.8 702.4v2.8M568.8 706.6v2.8M568.8 720.6v1.4M568.8 742.9v2.8M568.8 776.4v2.8M568.8 782.0v1.4M582.2 550.2v2.8M582.2 606.1v2.8M582.2 628.4v1.4M582.2 636.8v1.4M582.2 639.6v7.0M582.2 688.5v2.8M582.2 766.7v1.4M582.2 808.6v2.8M582.2 815.5v1.4M582.2 821.1v1.4M582.2 889.5v1.4M582.2 892.3v1.4M595.6 560.0v1.4M595.6 567.0v1.4M595.6 639.6v1.4M595.6 675.9v1.4M595.6 678.7v2.8M595.6 720.6v2.8M595.6 735.9v1.4M595.6 770.8v1.4M595.6 775.0v2.8M595.6 779.2v1.4M595.6 860.2v2.8M609.0 567.0v1.4M609.0 569.8v1.4M609.0 594.9v1.4M609.0 617.2v1.4M609.0 636.8v1.4M609.0 661.9v1.4M609.0 664.7v1.4M609.0 680.1v1.4M609.0 745.7v1.4M609.0 811.3v1.4M622.3 574.0v1.4M622.3 596.3v1.4M622.3 599.1v1.4M622.3 631.2v1.4M622.3 634.0v1.4M622.3 671.7v1.4M622.3 675.9v1.4M622.3 772.2v1.4M622.3 814.1v1.4M622.3 821.1v1.4M635.7 583.7v1.4M635.7 590.7v1.4M635.7 639.6v2.8M635.7 646.6v1.4M635.7 763.9v1.4M635.7 805.8v1.4M635.7 822.5v1.4M635.7 903.5v1.4M649.1 523.7v1.4M649.1 585.1v1.4M649.1 641.0v1.4M649.1 650.8v5.6M649.1 851.8v2.8M662.5 536.3v2.8M662.5 572.6v1.4M662.5 579.5v1.4M662.5 586.5v1.4M662.5 622.8v1.4M662.5 659.1v1.4M662.5 800.2v1.4M662.5 815.5v1.4M662.5 900.7v1.4M662.5 903.5v1.4M675.8 579.5v1.4M675.8 583.7v1.4M675.8 587.9v1.4M675.8 590.7v1.4M675.8 596.3v1.4M675.8 631.2v1.4M675.8 666.1v1.4M675.8 670.3v2.8M675.8 751.3v1.4M675.8 801.6v2.8M675.8 807.2v1.4M689.2 639.6v1.4M689.2 645.2v1.4M689.2 648.0v1.4M689.2 653.6v2.8M689.2 675.9v1.4M689.2 701.0v1.4M689.2 705.2v1.4M689.2 723.4v1.4M689.2 726.2v1.4M689.2 731.7v1.4M689.2 798.8v2.8M689.2 803.0v1.4M702.6 550.2v1.4M702.6 580.9v1.4M702.6 603.3v1.4M702.6 636.8v1.4M702.6 639.6v1.4M702.6 671.7v1.4M702.6 684.3v1.4M702.6 691.3v1.4M702.6 698.2v1.4M702.6 790.4v1.4M702.6 796.0v1.4M702.6 822.5v1.4M716.0 585.1v1.4M716.0 664.7v1.4M716.0 668.9v2.8M716.0 677.3v1.4M716.0 685.7v1.4M716.0 688.5v1.4M716.0 695.4v1.4M716.0 703.8v1.4M716.0 709.4v1.4M716.0 724.8v2.8M716.0 790.4v1.4M716.0 796.0v1.4M716.0 826.7v2.8M716.0 871.4v1.4M729.3 582.3v1.4M729.3 590.7v1.4M729.3 600.5v1.4M729.3 603.3v2.8M729.3 675.9v1.4M729.3 695.4v1.4M729.3 716.4v1.4M729.3 720.6v1.4M729.3 733.1v1.4M729.3 793.2v1.4M729.3 805.8v1.4M729.3 809.9v1.4M742.7 560.0v1.4M742.7 564.2v1.4M742.7 575.4v1.4M742.7 617.2v2.8M742.7 621.4v1.4M742.7 654.9v2.8M742.7 666.1v1.4M742.7 685.7v2.8M742.7 692.6v1.4M742.7 699.6v4.2M742.7 705.2v1.4M742.7 793.2v4.2"/><path stroke="#ffd0c0" d="M542.1 631.2v1.4M542.1 689.9v1.4M555.5 618.6v1.4M555.5 621.4v1.4M555.5 649.4v1.4M568.8 622.8v1.4M568.8 667.5v1.4M568.8 675.9v1.4M568.8 769.5v1.4M568.8 787.6v1.4M582.2 654.9v1.4M582.2 789.0v2.8M595.6 596.3v1.4M595.6 652.2v1.4M595.6 661.9v1.4M595.6 666.1v2.8M595.6 751.3v2.8M595.6 793.2v1.4M609.0 685.7v1.4M609.0 819.7v1.4M622.3 759.7v1.4M622.3 766.7v1.4M622.3 780.6v2.8M635.7 603.3v2.8M635.7 627.0v1.4M649.1 629.8v1.4M649.1 789.0v1.4M662.5 620.0v2.8M662.5 643.8v1.4M662.5 649.4v1.4M675.8 599.1v1.4M675.8 752.7v1.4M675.8 791.8v1.4M689.2 604.7v1.4M689.2 610.3v1.4M689.2 738.7v1.4M702.6 583.7v1.4M702.6 586.5v1.4M702.6 641.0v1.4M702.6 656.3v1.4M702.6 775.0v1.4M702.6 784.8v1.4M716.0 586.5v1.4M716.0 594.9v1.4M716.0 603.3v1.4M716.0 632.6v2.8M716.0 681.5v1.4M716.0 712.2v1.4M729.3 607.5v1.4M729.3 615.8v1.4M729.3 680.1v1.4M729.3 684.3v1.4M729.3 740.1v1.4M729.3 783.4v1.4M742.7 600.5v1.4M742.7 652.2v1.4M742.7 660.5v1.4M742.7 742.9v4.2"/><path stroke="#fff0e0" d="M542.1 670.3v2.8M542.1 819.7v1.4M542.1 886.8v1.4M542.1 903.5v1.4M555.5 589.3v1.4M555.5 694.0v1.4M555.5 719.2v1.4M555.5 744.3v1.4M555.5 856.0v1.4M555.5 899.3v1.4M568.8 513.9v1.4M568.8 580.9v1.4M568.8 594.9v1.4M568.8 755.5v1.4M568.8 780.6v1.4M582.2 569.8v1.4M582.2 675.9v1.4M582.2 694.0v1.4M582.2 720.6v1.4M582.2 772.2v1.4M582.2 807.2v1.4M582.2 811.3v4.2M595.6 773.6v1.4M595.6 846.3v1.4M609.0 572.6v1.4M609.0 585.1v1.4M609.0 903.5v1.4M622.3 533.5v1.4M622.3 674.5v1.4M635.7 580.9v1.4M635.7 677.3v1.4M635.7 722.0v1.4M635.7 724.8v1.4M635.7 807.2v1.4M635.7 821.1v1.4M635.7 895.1v1.4M635.7 900.7v1.4M649.1 557.2v1.4M649.1 592.1v1.4M649.1 632.6v1.4M649.1 759.7v1.4M662.5 582.3v1.4M662.5 639.6v1.4M662.5 836.5v1.4M662.5 888.1v1.4M675.8 513.9v1.4M675.8 558.6v1.4M675.8 664.7v1.4M675.8 723.4v1.4M675.8 748.5v1.4M675.8 867.2v1.4M675.8 870.0v1.4M689.2 558.6v1.4M689.2 659.1v1.4M689.2 677.3v1.4M689.2 712.2v1.4M689.2 733.1v1.4M689.2 821.1v1.4M702.6 646.6v1.4M702.6 719.2v1.4M716.0 560.0v1.4M716.0 671.7v1.4M716.0 702.4v1.4M716.0 733.1v1.4M716.0 800.2v1.4M716.0 888.1v1.4M729.3 571.2v1.4M729.3 579.5v1.4M729.3 599.1v1.4M729.3 794.6v1.4M729.3 804.4v1.4M729.3 811.3v1.4M742.7 574.0v1.4M742.7 695.4v1.4M742.7 713.6v1.4M742.7 726.2v1.4M742.7 761.1v2.8M742.7 784.8v1.4M742.7 846.3v2.8M742.7 857.4v1.4M742.7 893.7v1.4"/><path stroke="#ffe0d8" d="M542.1 702.4v1.4M542.1 709.4v1.4M542.1 716.4v1.4M542.1 773.6v1.4M555.5 627.0v1.4M555.5 691.3v1.4M555.5 708.0v1.4M555.5 786.2v1.4M555.5 840.7v1.4M568.8 688.5v1.4M582.2 585.1v1.4M582.2 722.0v1.4M582.2 794.6v2.8M582.2 819.7v1.4M609.0 568.4v1.4M622.3 587.9v1.4M622.3 769.5v1.4M622.3 811.3v1.4M635.7 765.3v2.8M635.7 849.0v1.4M649.1 518.1v1.4M649.1 582.3v1.4M649.1 631.2v1.4M662.5 635.4v1.4M662.5 641.0v1.4M662.5 755.5v1.4M662.5 804.4v1.4M662.5 816.9v1.4M662.5 902.1v1.4M675.8 561.4v1.4M689.2 703.8v1.4M702.6 600.5v1.4M702.6 648.0v1.4M702.6 687.1v1.4M702.6 692.6v1.4M702.6 789.0v1.4M716.0 590.7v1.4M716.0 713.6v1.4M716.0 722.0v1.4M729.3 587.9v1.4M729.3 601.9v1.4M729.3 705.2v2.8M742.7 589.3v1.4"/><path stroke="#f03830" d="M542.1 755.5v4.2M568.8 804.4v4.2M622.3 618.6v2.8M622.3 777.8v2.8M662.5 837.9v2.8M675.8 772.2v4.2M689.2 769.5v5.6M702.6 759.7v4.2M716.0 674.5v2.8M729.3 829.5v2.8M742.7 756.9v4.2"/><path stroke="#f8c0a8" d="M542.1 793.2v1.4M542.1 796.0v1.4M555.5 620.0v1.4M555.5 650.8v1.4M555.5 656.3v1.4M555.5 663.3v1.4M555.5 793.2v1.4M555.5 803.0v1.4M568.8 613.1v1.4M568.8 673.1v1.4M568.8 796.0v1.4M568.8 798.8v1.4M582.2 618.6v1.4M582.2 684.3v1.4M582.2 696.8v1.4M595.6 582.3v2.8M595.6 599.1v1.4M595.6 608.9v1.4M595.6 611.7v1.4M595.6 624.2v1.4M595.6 632.6v1.4M595.6 801.6v5.6M595.6 808.6v1.4M595.6 811.3v2.8M609.0 643.8v1.4M609.0 656.3v1.4M609.0 783.4v2.8M609.0 805.8v1.4M609.0 816.9v1.4M622.3 601.9v1.4M622.3 614.5v1.4M622.3 624.2v1.4M622.3 628.4v1.4M622.3 761.1v1.4M635.7 613.1v2.8M635.7 769.5v1.4M635.7 782.0v2.8M649.1 620.0v1.4M649.1 765.3v1.4M649.1 776.4v1.4M649.1 782.0v2.8M662.5 594.9v1.4M662.5 617.2v1.4M662.5 629.8v1.4M662.5 632.6v1.4M662.5 762.5v1.4M662.5 772.2v4.2M662.5 790.4v1.4M675.8 604.7v2.8M675.8 624.2v1.4M675.8 634.0v1.4M675.8 754.1v1.4M675.8 798.8v1.4M689.2 594.9v1.4M689.2 606.1v1.4M689.2 628.4v1.4M689.2 742.9v1.4M689.2 779.2v2.8M689.2 789.0v1.4M689.2 794.6v2.8M702.6 614.5v1.4M702.6 618.6v1.4M702.6 625.6v1.4M702.6 628.4v2.8M702.6 659.1v1.4M702.6 744.3v2.8M702.6 748.5v1.4M702.6 780.6v1.4M716.0 606.1v1.4M716.0 613.1v1.4M716.0 622.8v4.2M716.0 639.6v1.4M716.0 649.4v2.8M716.0 654.9v1.4M716.0 752.7v1.4M716.0 756.9v1.4M716.0 769.5v1.4M729.3 634.0v1.4M729.3 645.2v2.8M729.3 666.1v1.4M729.3 687.1v2.8M729.3 712.2v2.8M729.3 745.7v1.4M729.3 768.1v1.4M729.3 782.0v1.4M742.7 627.0v1.4M742.7 677.3v1.4M742.7 734.5v1.4M742.7 748.5v1.4M742.7 770.8v2.8M742.7 776.4v1.4"/><path stroke="#f8b8a0" d="M542.1 794.6v1.4M568.8 611.7v1.4M568.8 652.2v1.4M568.8 800.2v1.4M568.8 808.6v1.4M582.2 649.4v2.8M582.2 659.1v1.4M582.2 699.6v1.4M595.6 586.5v2.8M595.6 610.3v1.4M595.6 625.6v1.4M595.6 629.8v2.8M595.6 664.7v1.4M595.6 791.8v1.4M595.6 800.2v1.4M595.6 809.9v1.4M595.6 829.5v2.8M609.0 603.3v1.4M609.0 607.5v1.4M609.0 632.6v1.4M609.0 642.4v1.4M609.0 659.1v1.4M609.0 815.5v1.4M622.3 613.1v1.4M622.3 615.8v2.8M622.3 625.6v1.4M622.3 793.2v1.4M622.3 804.4v1.4M635.7 617.2v1.4M635.7 780.6v1.4M635.7 797.4v1.4M649.1 614.5v1.4M662.5 590.7v1.4M662.5 631.2v1.4M662.5 763.9v1.4M662.5 786.2v2.8M675.8 638.2v2.8M675.8 783.4v1.4M689.2 596.3v1.4M689.2 622.8v1.4M689.2 787.6v1.4M689.2 790.4v1.4M702.6 522.3v2.8M702.6 755.5v2.8M702.6 779.2v1.4M716.0 615.8v1.4M716.0 621.4v1.4M716.0 629.8v1.4M716.0 744.3v1.4M716.0 758.3v2.8M716.0 768.1v1.4M716.0 770.8v1.4M716.0 780.6v1.4M716.0 784.8v1.4M729.3 624.2v1.4M729.3 772.2v7.0M742.7 648.0v1.4M742.7 650.8v1.4M742.7 752.7v1.4M742.7 773.6v1.4"/><path stroke="#f8c8b0" d="M542.1 797.4v2.8M555.5 664.7v1.4M555.5 790.4v2.8M555.5 804.4v1.4M568.8 624.2v1.4M568.8 631.2v1.4M568.8 636.8v2.8M568.8 643.8v1.4M568.8 666.1v1.4M568.8 678.7v1.4M582.2 586.5v2.8M582.2 597.7v1.4M582.2 648.0v1.4M582.2 652.2v1.4M582.2 657.7v1.4M582.2 660.5v1.4M595.6 597.7v1.4M595.6 600.5v2.8M595.6 604.7v2.8M595.6 653.6v2.8M595.6 668.9v1.4M595.6 782.0v1.4M595.6 807.2v1.4M595.6 814.1v1.4M609.0 608.9v1.4M609.0 613.1v1.4M609.0 620.0v1.4M609.0 628.4v1.4M609.0 639.6v1.4M609.0 645.2v1.4M609.0 682.9v1.4M609.0 777.8v1.4M609.0 814.1v1.4M622.3 603.3v1.4M622.3 622.8v1.4M622.3 773.6v1.4M622.3 801.6v1.4M622.3 816.9v1.4M635.7 628.4v1.4M635.7 776.4v2.8M635.7 798.8v2.8M649.1 613.1v1.4M649.1 618.6v1.4M649.1 808.6v1.4M662.5 589.3v1.4M662.5 789.0v1.4M675.8 585.1v2.8M675.8 611.7v2.8M675.8 622.8v1.4M675.8 625.6v2.8M675.8 642.4v1.4M675.8 794.6v1.4M689.2 597.7v1.4M689.2 608.9v1.4M689.2 617.2v1.4M689.2 632.6v2.8M689.2 673.1v1.4M689.2 741.5v1.4M689.2 744.3v1.4M689.2 748.5v1.4M702.6 529.3v1.4M702.6 590.7v1.4M702.6 608.9v4.2M702.6 627.0v1.4M702.6 631.2v1.4M702.6 642.4v1.4M702.6 654.9v1.4M702.6 738.7v1.4M702.6 747.1v1.4M702.6 776.4v1.4M716.0 604.7v1.4M716.0 638.2v1.4M716.0 641.0v1.4M716.0 653.6v1.4M716.0 755.5v1.4M716.0 779.2v1.4M716.0 786.2v1.4M729.3 621.4v1.4M729.3 629.8v1.4M729.3 641.0v2.8M729.3 652.2v1.4M729.3 667.5v1.4M729.3 671.7v1.4M729.3 681.5v2.8M729.3 689.9v1.4M729.3 726.2v1.4M729.3 744.3v1.4M729.3 747.1v1.4M729.3 749.9v1.4M729.3 786.2v1.4M742.7 603.3v2.8M742.7 610.3v2.8M742.7 632.6v1.4"/><path stroke="#ffd0b8" d="M542.1 800.2v1.4M542.1 803.0v1.4M555.5 661.9v1.4M555.5 666.1v1.4M555.5 789.0v1.4M568.8 610.3v1.4M568.8 642.4v1.4M568.8 646.6v1.4M568.8 671.7v1.4M568.8 789.0v1.4M582.2 594.9v1.4M582.2 617.2v1.4M582.2 653.6v1.4M582.2 656.3v1.4M582.2 797.4v1.4M595.6 634.0v1.4M595.6 671.7v1.4M609.0 611.7v1.4M609.0 614.5v1.4M609.0 631.2v1.4M609.0 769.5v1.4M609.0 842.1v2.8M622.3 589.3v2.8M622.3 607.5v1.4M622.3 663.3v1.4M622.3 762.5v1.4M622.3 808.6v1.4M622.3 818.3v1.4M635.7 621.4v1.4M635.7 629.8v1.4M635.7 634.0v2.8M635.7 803.0v1.4M635.7 881.2v1.4M635.7 892.3v2.8M649.1 627.0v2.8M649.1 763.9v1.4M649.1 786.2v1.4M662.5 597.7v2.8M662.5 628.4v1.4M662.5 652.2v1.4M662.5 761.1v1.4M662.5 797.4v1.4M675.8 603.3v1.4M675.8 628.4v1.4M675.8 641.0v1.4M675.8 648.0v1.4M675.8 790.4v1.4M689.2 613.1v1.4M689.2 740.1v1.4M689.2 791.8v1.4M702.6 606.1v1.4M702.6 613.1v1.4M702.6 632.6v2.8M702.6 649.4v1.4M702.6 657.7v1.4M702.6 740.1v2.8M702.6 773.6v1.4M702.6 782.0v1.4M716.0 596.3v1.4M716.0 607.5v1.4M716.0 611.7v1.4M716.0 631.2v1.4M716.0 636.8v1.4M716.0 777.8v1.4M729.3 613.1v2.8M729.3 617.2v1.4M729.3 648.0v2.8M729.3 664.7v1.4M729.3 685.7v1.4M729.3 710.8v1.4M729.3 724.8v1.4M729.3 748.5v1.4M742.7 586.5v1.4M742.7 607.5v2.8M742.7 636.8v1.4M742.7 733.1v1.4M742.7 737.3v1.4M742.7 747.1v1.4M742.7 777.8v1.4"/><path stroke="#f8ffff" d="M542.1 850.4v1.4M542.1 899.3v1.4M555.5 759.7v1.4M555.5 819.7v1.4M555.5 885.4v1.4M568.8 842.1v1.4M582.2 567.0v1.4M582.2 749.9v1.4M582.2 879.8v1.4M582.2 885.4v1.4M595.6 512.5v1.4M595.6 818.3v1.4M595.6 825.3v1.4M595.6 884.0v1.4M609.0 749.9v1.4M609.0 833.7v1.4M609.0 840.7v1.4M622.3 853.2v1.4M635.7 692.6v1.4M635.7 758.3v1.4M635.7 878.4v1.4M649.1 617.2v1.4M675.8 689.9v1.4M689.2 872.8v1.4M702.6 724.8v1.4M716.0 509.7v1.4M716.0 523.7v2.8M716.0 821.1v1.4M716.0 879.8v1.4M729.3 509.7v1.4M729.3 518.1v1.4M729.3 846.3v1.4M729.3 881.2v1.4M742.7 572.6v1.4M742.7 790.4v1.4M742.7 825.3v1.4M742.7 863.0v1.4"/><path stroke="#c8d8f8" d="M555.5 522.3v1.4M555.5 540.4v2.8M555.5 857.4v2.8M568.8 546.0v1.4M582.2 519.5v1.4M582.2 522.3v1.4M582.2 737.3v1.4M609.0 543.2v1.4M609.0 861.6v1.4M622.3 699.6v1.4M622.3 720.6v1.4M622.3 846.3v1.4M635.7 529.3v1.4M635.7 561.4v1.4M635.7 702.4v2.8M649.1 541.8v1.4M649.1 546.0v1.4M649.1 692.6v1.4M649.1 698.2v1.4M649.1 706.6v1.4M649.1 863.0v1.4M649.1 899.3v1.4M662.5 529.3v1.4M662.5 698.2v1.4M662.5 708.0v2.8M662.5 884.0v1.4M675.8 525.1v1.4M675.8 557.2v1.4M689.2 518.1v1.4M689.2 554.4v1.4M689.2 849.0v1.4M689.2 888.1v1.4M702.6 541.8v1.4M702.6 871.4v1.4M729.3 540.4v1.4M742.7 539.0v1.4"/><path stroke="#6888f8" d="M555.5 537.6v2.8"/><path stroke="#d0d8f8" d="M555.5 544.6v1.4M568.8 875.6v1.4M582.2 868.6v1.4M595.6 872.8v2.8M609.0 729.0v1.4M635.7 530.7v1.4M635.7 689.9v1.4M635.7 701.0v1.4M649.1 694.0v1.4M649.1 726.2v1.4M649.1 850.4v1.4M649.1 861.6v1.4M689.2 519.5v1.4M689.2 886.8v1.4M689.2 889.5v1.4M702.6 520.9v1.4"/><path stroke="#f8c0b0" d="M555.5 569.8v1.4M582.2 668.9v1.4M662.5 611.7v1.4M662.5 650.8v1.4M702.6 589.3v1.4"/><path stroke="#e8e8ff" d="M555.5 587.9v1.4M568.8 508.3v1.4M568.8 885.4v1.4M609.0 719.2v1.4M622.3 526.5v1.4M622.3 572.6v1.4M622.3 689.9v1.4M622.3 719.2v1.4M622.3 836.5v1.4M635.7 515.3v1.4M635.7 525.1v1.4M635.7 698.2v1.4M649.1 547.4v1.4M649.1 849.0v1.4M649.1 868.6v1.4M662.5 548.8v1.4M689.2 851.8v1.4M702.6 564.2v1.4M702.6 835.1v1.4M716.0 539.0v1.4M742.7 526.5v1.4"/><path stroke="#0008f0" d="M555.5 594.9v2.8M555.5 638.2v1.4M568.8 603.3v2.8M595.6 627.0v2.8M609.0 625.6v2.8M635.7 608.9v4.2M649.1 769.5v7.0M742.7 525.1v1.4"/><path stroke="#1828f0" d="M555.5 617.2v1.4M622.3 608.9v2.8"/><path stroke="#a8c0f8" d="M555.5 668.9v2.8M568.8 745.7v2.8M622.3 580.9v2.8M649.1 701.0v1.4M662.5 689.9v2.8M729.3 657.7v1.4"/><path stroke="#f05848" d="M555.5 722.0v1.4M622.3 635.4v2.8M649.1 597.7v2.8M662.5 779.2v1.4M689.2 635.4v4.2M702.6 572.6v2.8M716.0 748.5v4.2"/><path stroke="#4860f0" d="M555.5 766.7v2.8M568.8 568.4v2.8"/><path stroke="#f89878" d="M555.5 821.1v1.4M568.8 628.4v1.4M595.6 603.3v1.4M595.6 786.2v1.4M609.0 803.0v1.4M622.3 797.4v1.4M649.1 796.0v1.4M662.5 769.5v1.4M675.8 765.3v1.4M675.8 770.8v1.4M675.8 777.8v1.4M689.2 565.6v2.8M689.2 620.0v1.4M689.2 766.7v2.8M702.6 622.8v1.4M716.0 735.9v1.4M716.0 766.7v1.4M729.3 756.9v1.4M729.3 761.1v2.8"/><path stroke="#d81010" d="M555.5 863.0v2.8M582.2 624.2v2.8M635.7 793.2v1.4"/><path stroke="#d8e8ff" d="M568.8 529.3v1.4M568.8 532.1v1.4M582.2 537.6v1.4M595.6 875.6v1.4M609.0 526.5v1.4M622.3 847.7v1.4M635.7 705.2v1.4M649.1 723.4v1.4M649.1 886.8v1.4M662.5 513.9v2.8M662.5 695.4v1.4M662.5 863.0v1.4M662.5 867.2v1.4M689.2 543.2v1.4M689.2 850.4v1.4M716.0 533.5v1.4M729.3 550.2v1.4M729.3 553.0v1.4M729.3 555.8v1.4M729.3 558.6v1.4"/><path stroke="#d8e0f8" d="M568.8 544.6v1.4M568.8 874.2v1.4M582.2 526.5v1.4M582.2 870.0v1.4M609.0 527.9v1.4M609.0 547.4v1.4M635.7 710.8v1.4M675.8 854.6v1.4M689.2 551.6v1.4M729.3 557.2v1.4"/><path stroke="#f01010" d="M568.8 596.3v2.8M582.2 599.1v4.2M582.2 803.0v2.8M609.0 790.4v7.0M635.7 618.6v2.8M649.1 621.4v4.2M702.6 829.5v4.2M716.0 762.5v4.2"/><path stroke="#6088f8" d="M568.8 607.5v2.8M609.0 759.7v7.0M609.0 889.5v5.6"/><path stroke="#f8b098" d="M568.8 625.6v1.4M568.8 656.3v1.4M568.8 801.6v1.4M568.8 826.7v1.4M582.2 698.2v1.4M609.0 621.4v1.4M609.0 634.0v1.4M609.0 641.0v1.4M609.0 657.7v1.4M609.0 782.0v1.4M635.7 775.0v1.4M635.7 779.2v1.4M635.7 784.8v1.4M635.7 794.6v1.4M649.1 784.8v1.4M649.1 797.4v1.4M675.8 636.8v1.4M675.8 759.7v1.4M675.8 776.4v1.4M675.8 782.0v1.4M675.8 789.0v1.4M689.2 624.2v1.4M689.2 706.6v2.8M689.2 754.1v1.4M716.0 580.9v2.8M716.0 617.2v1.4M716.0 761.1v1.4M716.0 782.0v1.4M729.3 769.5v1.4M742.7 749.9v1.4M742.7 754.1v1.4"/><path stroke="#f8a080" d="M568.8 627.0v1.4M609.0 622.8v1.4M609.0 787.6v2.8M622.3 783.4v1.4M622.3 798.8v1.4M635.7 787.6v1.4M662.5 592.1v1.4M662.5 783.4v1.4M675.8 761.1v1.4M675.8 787.6v1.4M689.2 618.6v1.4M689.2 777.8v1.4M689.2 783.4v1.4M702.6 752.7v1.4M716.0 745.7v1.4M729.3 575.4v2.8M742.7 755.5v1.4"/><path stroke="#f8b090" d="M568.8 629.8v1.4M568.8 653.6v2.8M568.8 809.9v1.4M582.2 622.8v1.4M582.2 798.8v1.4M609.0 779.2v1.4M609.0 786.2v1.4M609.0 797.4v1.4M609.0 800.2v1.4M622.3 775.0v1.4M649.1 777.8v1.4M662.5 791.8v1.4M662.5 796.0v1.4M689.2 752.7v1.4M689.2 786.2v1.4M702.6 754.1v1.4M702.6 777.8v1.4M716.0 620.0v1.4M716.0 776.4v1.4M716.0 783.4v1.4M729.3 622.8v1.4M729.3 631.2v2.8M729.3 763.9v1.4M729.3 770.8v1.4M729.3 779.2v1.4M742.7 628.4v1.4M742.7 631.2v1.4M742.7 643.8v2.8M742.7 649.4v1.4M742.7 751.3v1.4"/><path stroke="#f8c8b8" d="M568.8 645.2v1.4M568.8 664.7v1.4M568.8 794.6v1.4M582.2 670.3v1.4M582.2 801.6v1.4M595.6 607.5v1.4M609.0 638.2v1.4M609.0 654.9v1.4M622.3 592.1v1.4M622.3 642.4v1.4M635.7 791.8v1.4M649.1 615.8v1.4M662.5 618.6v1.4M675.8 607.5v1.4M689.2 611.7v1.4M702.6 585.1v1.4M702.6 742.9v1.4M702.6 786.2v1.4M716.0 648.0v1.4M729.3 650.8v1.4M729.3 691.3v1.4M729.3 737.3v2.8M742.7 601.9v1.4M742.7 646.6v1.4"/><path stroke="#f8a890" d="M568.8 657.7v1.4M595.6 784.8v1.4M609.0 798.8v1.4M622.3 786.2v1.4M622.3 794.6v1.4M635.7 770.8v2.8M635.7 796.0v1.4M662.5 776.4v1.4M675.8 796.0v1.4M689.2 621.4v1.4M689.2 625.6v2.8M689.2 749.9v2.8M702.6 758.3v1.4M716.0 627.0v2.8M729.3 735.9v1.4M729.3 751.3v1.4M729.3 759.7v1.4"/><path stroke="#c0d0f8" d="M568.8 765.3v2.8M582.2 520.9v1.4M609.0 519.5v1.4M622.3 722.0v2.8M635.7 544.6v1.4M649.1 543.2v2.8M649.1 691.3v1.4M662.5 684.3v2.8M662.5 699.6v1.4M662.5 705.2v1.4M675.8 522.3v1.4M689.2 553.0v1.4M729.3 530.7v2.8"/><path stroke="#e81010" d="M568.8 793.2v1.4"/><path stroke="#f8c0a0" d="M568.8 797.4v1.4M635.7 790.4v1.4M675.8 875.6v2.8M689.2 607.5v1.4M702.6 620.0v1.4M742.7 735.9v1.4"/><path stroke="#f8b898" d="M568.8 803.0v1.4M568.8 811.3v1.4M582.2 635.4v1.4M582.2 667.5v1.4M595.6 797.4v2.8M622.3 627.0v1.4M622.3 800.2v1.4M649.1 754.1v2.8M649.1 766.7v1.4M662.5 615.8v1.4M662.5 765.3v1.4M702.6 615.8v2.8M716.0 614.5v1.4M729.3 780.6v1.4M742.7 613.1v1.4M742.7 769.5v1.4M742.7 775.0v1.4"/><path stroke="#2840f0" d="M568.8 830.9v2.8"/><path stroke="#7898f8" d="M568.8 897.9v1.4"/><path stroke="#5070f8" d="M582.2 530.7v1.4"/><path stroke="#4868f0" d="M582.2 611.7v2.8M609.0 587.9v1.4M635.7 622.8v4.2M702.6 575.4v2.8"/><path stroke="#000070" d="M582.2 620.0v1.4"/><path stroke="#f8a888" d="M582.2 621.4v1.4M609.0 606.1v1.4M609.0 780.6v1.4M609.0 801.6v1.4M622.3 611.7v1.4M622.3 765.3v1.4M622.3 776.4v1.4M622.3 784.8v1.4M635.7 786.2v1.4M635.7 789.0v1.4M649.1 790.4v1.4M662.5 593.5v1.4M662.5 766.7v1.4M662.5 770.8v1.4M662.5 784.8v1.4M675.8 635.4v1.4M675.8 797.4v1.4M702.6 621.4v1.4M702.6 624.2v1.4M702.6 749.9v1.4M702.6 763.9v1.4M702.6 772.2v1.4M716.0 618.6v1.4M716.0 772.2v1.4M729.3 758.3v1.4M742.7 629.8v1.4M742.7 763.9v2.8"/><path stroke="#b0c8f8" d="M582.2 776.4v1.4M635.7 543.2v1.4M649.1 881.2v2.8"/><path stroke="#f8a088" d="M582.2 800.2v1.4M609.0 604.7v1.4M609.0 804.4v1.4M635.7 773.6v1.4M689.2 784.8v1.4M702.6 751.3v1.4"/><path stroke="#a0b8f8" d="M582.2 823.9v1.4M649.1 705.2v1.4"/><path stroke="#3048f0" d="M595.6 614.5v2.8M675.8 568.4v7.0M689.2 755.5v4.2M702.6 650.8v4.2M729.3 840.7v2.8"/><path stroke="#f87058" d="M595.6 787.6v2.8M662.5 780.6v1.4M689.2 761.1v4.2M742.7 670.3v2.8"/><path stroke="#f89070" d="M595.6 790.4v1.4M622.3 796.0v1.4M662.5 625.6v2.8M662.5 768.1v1.4M662.5 782.0v1.4M675.8 762.5v2.8M675.8 766.7v2.8M702.6 765.3v1.4M716.0 742.9v1.4M716.0 747.1v1.4M716.0 773.6v1.4"/><path stroke="#80a0f8" d="M609.0 515.3v4.2M649.1 519.5v2.8"/><path stroke="#b8c8f8" d="M609.0 544.6v2.8M662.5 706.6v1.4M702.6 874.2v1.4"/><path stroke="#f88868" d="M609.0 624.2v1.4M649.1 779.2v1.4M662.5 794.6v1.4M689.2 776.4v1.4M702.6 766.7v2.8M716.0 564.2v2.8M716.0 775.0v1.4M716.0 897.9v2.8M742.7 766.7v2.8"/><path stroke="#c0d8f8" d="M609.0 860.2v1.4M635.7 541.8v1.4M702.6 875.6v1.4"/><path stroke="#4060f0" d="M622.3 560.0v1.4"/><path stroke="#f87860" d="M622.3 639.6v2.8M622.3 789.0v1.4M649.1 793.2v2.8M662.5 520.9v5.6M662.5 600.5v5.6M662.5 777.8v1.4M675.8 564.2v2.8M729.3 752.7v2.8"/><path stroke="#f01818" d="M622.3 787.6v1.4M675.8 779.2v2.8"/><path stroke="#b8d0f8" d="M649.1 699.6v1.4M675.8 663.3v1.4M702.6 872.8v1.4M729.3 567.0v1.4"/><path stroke="#98b0f8" d="M649.1 702.4v2.8M649.1 738.7v2.8M702.6 539.0v2.8"/><path stroke="#f04038" d="M649.1 768.1v1.4"/><path stroke="#f88870" d="M649.1 780.6v1.4M662.5 793.2v1.4M675.8 769.5v1.4M729.3 643.8v1.4M729.3 755.5v1.4"/><path stroke="#f88068" d="M649.1 791.8v1.4M689.2 765.3v1.4M702.6 769.5v2.8"/><path stroke="#f86050" d="M649.1 864.4v1.4"/><path stroke="#90a8f8" d="M662.5 701.0v1.4M702.6 710.8v2.8M702.6 889.5v1.4"/><path stroke="#f04838" d="M675.8 592.1v2.8"/><path stroke="#f02820" d="M689.2 689.9v2.8"/><path stroke="#f88060" d="M689.2 759.7v1.4"/><path stroke="#f06048" d="M689.2 775.0v1.4"/><path stroke="#f89880" d="M689.2 782.0v1.4"/><path stroke="#f86850" d="M702.6 660.5v1.4"/><path stroke="#f86858" d="M729.3 765.3v2.8"/></g></g>
<g id="pi"><rect x="760.1" y="479" width="214" height="427.3" fill="#fff"/><g fill="none" stroke-width="13.72" shape-rendering="crispEdges"><path stroke="#f8ffff" d="M766.7 509.7v1.4M766.7 639.6v1.4M766.7 646.6v1.4M766.7 684.3v1.4M766.7 719.2v1.4M766.7 740.1v1.4M766.7 791.8v1.4M780.1 544.6v1.4M780.1 547.4v1.4M780.1 550.2v1.4M780.1 604.7v1.4M780.1 667.5v1.4M780.1 671.7v1.4M780.1 677.3v1.4M780.1 730.4v1.4M780.1 751.3v1.4M780.1 755.5v1.4M780.1 786.2v1.4M780.1 789.0v1.4M780.1 791.8v1.4M780.1 812.7v1.4M780.1 818.3v1.4M780.1 833.7v1.4M780.1 837.9v1.4M780.1 843.5v2.8M780.1 892.3v1.4M793.4 608.9v1.4M793.4 617.2v1.4M793.4 632.6v1.4M793.4 670.3v1.4M793.4 770.8v1.4M793.4 776.4v1.4M793.4 780.6v2.8M793.4 828.1v1.4M793.4 865.8v1.4M793.4 878.4v1.4M793.4 893.7v1.4M806.8 547.4v1.4M806.8 597.7v2.8M806.8 603.3v1.4M806.8 618.6v1.4M806.8 621.4v1.4M806.8 692.6v1.4M806.8 762.5v1.4M806.8 782.0v1.4M806.8 822.5v1.4M806.8 868.6v1.4M806.8 886.8v1.4M820.2 585.1v1.4M820.2 589.3v2.8M820.2 620.0v1.4M820.2 675.9v1.4M820.2 762.5v1.4M820.2 870.0v1.4M820.2 886.8v1.4M820.2 900.7v1.4M833.6 511.1v1.4M833.6 530.7v1.4M833.6 534.9v1.4M833.6 585.1v1.4M833.6 684.3v1.4M833.6 729.0v1.4M833.6 754.1v1.4M833.6 793.2v1.4M833.6 797.4v1.4M833.6 800.2v1.4M833.6 803.0v1.4M833.6 874.2v1.4M846.9 505.5v1.4M846.9 660.5v1.4M846.9 719.2v1.4M846.9 723.4v1.4M846.9 786.2v1.4M846.9 809.9v1.4M860.3 518.1v1.4M860.3 525.1v1.4M860.3 667.5v1.4M860.3 687.1v1.4M860.3 694.0v2.8M860.3 748.5v1.4M860.3 794.6v2.8M860.3 861.6v2.8M860.3 902.1v1.4M873.7 519.5v1.4M873.7 541.8v1.4M873.7 571.2v1.4M873.7 585.1v1.4M873.7 668.9v1.4M873.7 791.8v1.4M873.7 812.7v1.4M873.7 849.0v1.4M873.7 856.0v1.4M873.7 875.6v1.4M873.7 878.4v1.4M887.1 571.2v1.4M887.1 594.9v1.4M887.1 629.8v1.4M887.1 682.9v1.4M887.1 735.9v1.4M887.1 738.7v1.4M900.4 508.3v1.4M900.4 512.5v1.4M900.4 610.3v1.4M900.4 733.1v1.4M900.4 768.1v1.4M900.4 829.5v2.8M913.8 536.3v1.4M913.8 620.0v1.4M913.8 632.6v1.4M913.8 659.1v1.4M913.8 663.3v1.4M913.8 717.8v1.4M913.8 735.9v1.4M913.8 766.7v1.4M913.8 821.1v1.4M927.2 511.1v1.4M927.2 516.7v2.8M927.2 529.3v1.4M927.2 599.1v2.8M927.2 604.7v1.4M927.2 622.8v1.4M927.2 691.3v1.4M927.2 724.8v1.4M927.2 740.1v1.4M927.2 755.5v1.4M927.2 784.8v1.4M927.2 790.4v1.4M927.2 892.3v1.4M940.6 522.3v1.4M940.6 734.5v1.4M940.6 768.1v1.4M940.6 782.0v1.4M940.6 821.1v2.8M940.6 885.4v1.4M940.6 889.5v1.4M940.6 897.9v1.4M953.9 511.1v1.4M953.9 722.0v1.4M953.9 787.6v1.4M953.9 807.2v1.4M953.9 816.9v2.8M967.3 557.2v1.4M967.3 586.5v1.4M967.3 625.6v1.4M967.3 689.9v1.4M967.3 698.2v1.4M967.3 797.4v1.4M967.3 819.7v1.4M967.3 822.5v1.4M967.3 828.1v1.4M967.3 884.0v1.4M967.3 889.5v1.4"/><path stroke="#f0f0ff" d="M766.7 511.1v1.4M766.7 519.5v1.4M766.7 532.1v1.4M766.7 575.4v1.4M766.7 578.1v1.4M766.7 586.5v1.4M766.7 590.7v1.4M766.7 687.1v2.8M766.7 798.8v1.4M766.7 832.3v1.4M780.1 568.4v1.4M780.1 571.2v1.4M780.1 578.1v1.4M780.1 590.7v2.8M780.1 688.5v1.4M780.1 733.1v2.8M780.1 759.7v1.4M780.1 779.2v2.8M780.1 807.2v2.8M793.4 516.7v2.8M793.4 628.4v2.8M793.4 699.6v2.8M793.4 723.4v1.4M793.4 726.2v1.4M793.4 740.1v1.4M793.4 787.6v1.4M793.4 790.4v1.4M793.4 809.9v2.8M793.4 823.9v1.4M793.4 826.7v1.4M793.4 835.1v1.4M806.8 558.6v1.4M806.8 646.6v1.4M806.8 666.1v2.8M806.8 723.4v1.4M806.8 779.2v1.4M806.8 809.9v1.4M820.2 536.3v1.4M820.2 544.6v1.4M820.2 597.7v2.8M820.2 696.8v1.4M820.2 809.9v1.4M820.2 830.9v2.8M820.2 865.8v1.4M820.2 874.2v1.4M833.6 546.0v1.4M833.6 680.1v1.4M833.6 819.7v1.4M846.9 509.7v1.4M846.9 546.0v2.8M846.9 554.4v1.4M846.9 572.6v1.4M846.9 597.7v1.4M846.9 615.8v1.4M846.9 702.4v2.8M846.9 706.6v2.8M846.9 861.6v1.4M860.3 590.7v2.8M860.3 675.9v1.4M860.3 678.7v1.4M860.3 684.3v1.4M860.3 740.1v1.4M860.3 858.8v1.4M873.7 509.7v1.4M873.7 518.1v1.4M873.7 523.7v2.8M873.7 572.6v1.4M873.7 589.3v1.4M873.7 688.5v1.4M873.7 701.0v2.8M873.7 712.2v1.4M873.7 766.7v1.4M873.7 787.6v1.4M873.7 867.2v1.4M887.1 509.7v1.4M887.1 548.8v1.4M887.1 560.0v1.4M887.1 702.4v1.4M887.1 708.0v1.4M887.1 713.6v1.4M887.1 727.6v1.4M887.1 754.1v4.2M887.1 800.2v1.4M887.1 870.0v4.2M900.4 564.2v1.4M900.4 578.1v1.4M900.4 699.6v1.4M900.4 708.0v1.4M900.4 713.6v1.4M900.4 770.8v1.4M900.4 773.6v1.4M900.4 787.6v1.4M900.4 805.8v1.4M900.4 840.7v2.8M900.4 846.3v1.4M900.4 879.8v1.4M913.8 548.8v1.4M913.8 576.7v1.4M913.8 592.1v1.4M913.8 594.9v1.4M913.8 622.8v1.4M913.8 652.2v1.4M913.8 664.7v1.4M913.8 675.9v1.4M913.8 685.7v1.4M913.8 691.3v1.4M913.8 779.2v1.4M913.8 881.2v1.4M927.2 575.4v1.4M927.2 625.6v2.8M927.2 645.2v1.4M927.2 696.8v1.4M927.2 703.8v1.4M927.2 727.6v1.4M927.2 779.2v5.6M927.2 805.8v1.4M927.2 809.9v1.4M927.2 816.9v1.4M927.2 821.1v1.4M927.2 884.0v1.4M927.2 886.8v1.4M927.2 904.9v1.4M940.6 571.2v1.4M940.6 583.7v1.4M940.6 597.7v1.4M940.6 615.8v1.4M940.6 621.4v1.4M940.6 645.2v1.4M940.6 650.8v4.2M940.6 687.1v1.4M940.6 722.0v1.4M940.6 798.8v2.8M940.6 884.0v1.4M940.6 902.1v1.4M953.9 547.4v1.4M953.9 554.4v1.4M953.9 606.1v1.4M953.9 617.2v2.8M953.9 629.8v1.4M953.9 634.0v1.4M953.9 650.8v1.4M953.9 664.7v1.4M953.9 695.4v2.8M953.9 712.2v1.4M953.9 720.6v1.4M953.9 763.9v1.4M953.9 823.9v1.4M953.9 832.3v1.4M953.9 836.5v1.4M967.3 541.8v1.4M967.3 579.5v1.4M967.3 604.7v1.4M967.3 613.1v1.4M967.3 617.2v1.4M967.3 639.6v2.8M967.3 646.6v1.4M967.3 650.8v1.4M967.3 660.5v1.4M967.3 666.1v1.4M967.3 715.0v1.4M967.3 723.4v1.4M967.3 729.0v1.4M967.3 782.0v4.2M967.3 809.9v1.4M967.3 837.9v1.4M967.3 897.9v2.8M967.3 903.5v2.8"/><path stroke="#f8f8ff" d="M766.7 512.5v1.4M766.7 526.5v1.4M766.7 529.3v1.4M766.7 533.5v1.4M766.7 537.6v1.4M766.7 551.6v4.2M766.7 576.7v1.4M766.7 587.9v1.4M766.7 597.7v2.8M766.7 603.3v1.4M766.7 607.5v1.4M766.7 618.6v2.8M766.7 641.0v1.4M766.7 645.2v1.4M766.7 648.0v1.4M766.7 652.2v1.4M766.7 660.5v1.4M766.7 689.9v4.2M766.7 698.2v1.4M766.7 712.2v1.4M766.7 717.8v1.4M766.7 727.6v2.8M766.7 759.7v2.8M766.7 773.6v1.4M766.7 779.2v4.2M766.7 784.8v2.8M766.7 821.1v1.4M766.7 825.3v1.4M766.7 836.5v1.4M766.7 842.1v1.4M766.7 860.2v5.6M780.1 515.3v2.8M780.1 519.5v1.4M780.1 537.6v7.0M780.1 548.8v1.4M780.1 551.6v4.2M780.1 557.2v1.4M780.1 580.9v1.4M780.1 587.9v1.4M780.1 593.5v1.4M780.1 622.8v7.0M780.1 646.6v4.2M780.1 663.3v1.4M780.1 682.9v5.6M780.1 698.2v2.8M780.1 703.8v1.4M780.1 716.4v2.8M780.1 731.7v1.4M780.1 737.3v1.4M780.1 740.1v1.4M780.1 742.9v1.4M780.1 752.7v2.8M780.1 756.9v2.8M780.1 761.1v4.2M780.1 775.0v2.8M780.1 783.4v1.4M780.1 790.4v1.4M780.1 811.3v1.4M780.1 823.9v5.6M780.1 835.1v1.4M780.1 860.2v1.4M780.1 897.9v4.2M793.4 505.5v11.2M793.4 522.3v2.8M793.4 543.2v1.4M793.4 555.8v1.4M793.4 582.3v4.2M793.4 600.5v4.2M793.4 618.6v1.4M793.4 624.2v1.4M793.4 627.0v1.4M793.4 631.2v1.4M793.4 643.8v5.6M793.4 673.1v2.8M793.4 680.1v1.4M793.4 702.4v5.6M793.4 712.2v2.8M793.4 719.2v2.8M793.4 727.6v1.4M793.4 731.7v1.4M793.4 738.7v1.4M793.4 754.1v4.2M793.4 768.1v1.4M793.4 772.2v4.2M793.4 786.2v1.4M793.4 805.8v1.4M793.4 814.1v2.8M793.4 822.5v1.4M793.4 830.9v1.4M793.4 836.5v1.4M793.4 849.0v2.8M793.4 879.8v1.4M793.4 888.1v1.4M793.4 900.7v2.8M806.8 508.3v2.8M806.8 512.5v1.4M806.8 536.3v2.8M806.8 540.4v5.6M806.8 579.5v2.8M806.8 592.1v1.4M806.8 606.1v2.8M806.8 629.8v1.4M806.8 645.2v1.4M806.8 664.7v1.4M806.8 694.0v1.4M806.8 696.8v4.2M806.8 706.6v2.8M806.8 715.0v2.8M806.8 724.8v2.8M806.8 734.5v2.8M806.8 740.1v1.4M806.8 742.9v1.4M806.8 745.7v1.4M806.8 763.9v4.2M806.8 780.6v1.4M806.8 796.0v1.4M806.8 811.3v1.4M806.8 819.7v2.8M806.8 823.9v1.4M806.8 832.3v1.4M806.8 865.8v2.8M806.8 904.9v1.4M820.2 512.5v1.4M820.2 522.3v1.4M820.2 540.4v2.8M820.2 553.0v1.4M820.2 555.8v4.2M820.2 565.6v1.4M820.2 571.2v1.4M820.2 583.7v1.4M820.2 621.4v1.4M820.2 629.8v1.4M820.2 639.6v4.2M820.2 649.4v1.4M820.2 674.5v1.4M820.2 688.5v1.4M820.2 692.6v2.8M820.2 698.2v2.8M820.2 703.8v2.8M820.2 720.6v4.2M820.2 751.3v1.4M820.2 755.5v5.6M820.2 796.0v1.4M820.2 798.8v1.4M820.2 812.7v1.4M820.2 828.1v1.4M820.2 835.1v2.8M820.2 847.7v2.8M820.2 864.4v1.4M820.2 868.6v1.4M820.2 871.4v1.4M820.2 902.1v1.4M833.6 506.9v4.2M833.6 515.3v1.4M833.6 522.3v2.8M833.6 532.1v2.8M833.6 541.8v4.2M833.6 551.6v1.4M833.6 558.6v8.4M833.6 569.8v2.8M833.6 586.5v1.4M833.6 589.3v2.8M833.6 594.9v1.4M833.6 607.5v2.8M833.6 636.8v1.4M833.6 682.9v1.4M833.6 685.7v2.8M833.6 699.6v1.4M833.6 706.6v1.4M833.6 722.0v4.2M833.6 730.4v8.4M833.6 747.1v2.8M833.6 752.7v1.4M833.6 755.5v1.4M833.6 765.3v5.6M833.6 772.2v1.4M833.6 775.0v1.4M833.6 777.8v7.0M833.6 791.8v1.4M833.6 798.8v1.4M833.6 804.4v4.2M833.6 818.3v1.4M833.6 825.3v1.4M833.6 840.7v1.4M833.6 844.9v1.4M833.6 858.8v2.8M833.6 864.4v1.4M833.6 875.6v1.4M833.6 879.8v1.4M833.6 885.4v2.8M833.6 897.9v1.4M846.9 543.2v1.4M846.9 548.8v1.4M846.9 553.0v1.4M846.9 578.1v1.4M846.9 580.9v2.8M846.9 593.5v1.4M846.9 599.1v1.4M846.9 601.9v2.8M846.9 606.1v1.4M846.9 614.5v1.4M846.9 631.2v4.2M846.9 675.9v5.6M846.9 687.1v1.4M846.9 689.9v2.8M846.9 701.0v1.4M846.9 709.4v1.4M846.9 724.8v2.8M846.9 731.7v1.4M846.9 752.7v1.4M846.9 762.5v1.4M846.9 766.7v1.4M846.9 776.4v1.4M846.9 783.4v2.8M846.9 787.6v1.4M846.9 833.7v1.4M846.9 849.0v7.0M846.9 867.2v1.4M846.9 870.0v1.4M846.9 878.4v2.8M846.9 902.1v4.2M860.3 509.7v1.4M860.3 516.7v1.4M860.3 519.5v5.6M860.3 530.7v1.4M860.3 534.9v2.8M860.3 544.6v1.4M860.3 551.6v1.4M860.3 555.8v2.8M860.3 561.4v5.6M860.3 575.4v1.4M860.3 583.7v1.4M860.3 589.3v1.4M860.3 593.5v1.4M860.3 656.3v1.4M860.3 660.5v1.4M860.3 663.3v4.2M860.3 668.9v4.2M860.3 734.5v1.4M860.3 745.7v2.8M860.3 754.1v2.8M860.3 768.1v2.8M860.3 782.0v2.8M860.3 791.8v1.4M860.3 839.3v2.8M860.3 854.6v1.4M860.3 860.2v1.4M860.3 865.8v1.4M860.3 870.0v1.4M860.3 874.2v1.4M860.3 877.0v2.8M860.3 897.9v4.2M873.7 506.9v1.4M873.7 511.1v1.4M873.7 522.3v1.4M873.7 539.0v2.8M873.7 553.0v2.8M873.7 590.7v1.4M873.7 666.1v2.8M873.7 671.7v2.8M873.7 680.1v1.4M873.7 729.0v1.4M873.7 763.9v2.8M873.7 769.5v1.4M873.7 779.2v1.4M873.7 789.0v2.8M873.7 804.4v4.2M873.7 814.1v2.8M873.7 857.4v5.6M873.7 868.6v4.2M873.7 879.8v2.8M887.1 529.3v9.8M887.1 546.0v1.4M887.1 569.8v1.4M887.1 604.7v8.4M887.1 617.2v1.4M887.1 622.8v1.4M887.1 659.1v1.4M887.1 664.7v1.4M887.1 675.9v1.4M887.1 694.0v2.8M887.1 703.8v4.2M887.1 710.8v1.4M887.1 715.0v1.4M887.1 726.2v1.4M887.1 729.0v1.4M887.1 733.1v2.8M887.1 737.3v1.4M887.1 747.1v1.4M887.1 752.7v1.4M887.1 777.8v2.8M887.1 791.8v4.2M887.1 801.6v1.4M887.1 807.2v1.4M887.1 821.1v1.4M887.1 843.5v2.8M887.1 849.0v8.4M887.1 864.4v2.8M887.1 877.0v5.6M887.1 904.9v1.4M900.4 509.7v2.8M900.4 513.9v2.8M900.4 532.1v7.0M900.4 569.8v1.4M900.4 572.6v5.6M900.4 587.9v1.4M900.4 618.6v1.4M900.4 625.6v1.4M900.4 631.2v5.6M900.4 666.1v1.4M900.4 677.3v1.4M900.4 682.9v5.6M900.4 692.6v1.4M900.4 715.0v1.4M900.4 724.8v2.8M900.4 734.5v1.4M900.4 744.3v2.8M900.4 748.5v1.4M900.4 765.3v2.8M900.4 769.5v1.4M900.4 777.8v1.4M900.4 786.2v1.4M900.4 790.4v1.4M900.4 798.8v1.4M900.4 807.2v2.8M900.4 814.1v1.4M900.4 818.3v2.8M900.4 826.7v2.8M900.4 832.3v4.2M900.4 881.2v1.4M913.8 513.9v1.4M913.8 519.5v5.6M913.8 537.6v8.4M913.8 553.0v5.6M913.8 590.7v1.4M913.8 596.3v1.4M913.8 600.5v2.8M913.8 615.8v4.2M913.8 621.4v1.4M913.8 631.2v1.4M913.8 667.5v1.4M913.8 681.5v1.4M913.8 703.8v2.8M913.8 719.2v1.4M913.8 737.3v1.4M913.8 768.1v2.8M913.8 772.2v1.4M913.8 777.8v1.4M913.8 800.2v1.4M913.8 803.0v1.4M913.8 808.6v2.8M913.8 818.3v2.8M913.8 828.1v1.4M913.8 840.7v14.0M913.8 864.4v1.4M913.8 884.0v2.8M913.8 902.1v2.8M927.2 505.5v1.4M927.2 508.3v2.8M927.2 527.9v1.4M927.2 530.7v2.8M927.2 534.9v1.4M927.2 562.8v1.4M927.2 567.0v1.4M927.2 576.7v2.8M927.2 585.1v1.4M927.2 594.9v4.2M927.2 601.9v1.4M927.2 621.4v1.4M927.2 641.0v1.4M927.2 671.7v1.4M927.2 681.5v1.4M927.2 685.7v1.4M927.2 692.6v1.4M927.2 712.2v7.0M927.2 729.0v1.4M927.2 741.5v1.4M927.2 776.4v1.4M927.2 793.2v8.4M927.2 812.7v4.2M927.2 822.5v1.4M927.2 825.3v2.8M927.2 858.8v1.4M927.2 889.5v2.8M927.2 899.3v1.4M940.6 505.5v1.4M940.6 508.3v2.8M940.6 515.3v2.8M940.6 527.9v1.4M940.6 530.7v1.4M940.6 536.3v1.4M940.6 539.0v5.6M940.6 567.0v1.4M940.6 572.6v2.8M940.6 585.1v1.4M940.6 589.3v1.4M940.6 604.7v1.4M940.6 608.9v2.8M940.6 617.2v1.4M940.6 627.0v5.6M940.6 634.0v4.2M940.6 642.4v1.4M940.6 666.1v2.8M940.6 685.7v1.4M940.6 691.3v1.4M940.6 712.2v2.8M940.6 719.2v2.8M940.6 723.4v1.4M940.6 742.9v1.4M940.6 763.9v1.4M940.6 769.5v2.8M940.6 777.8v4.2M940.6 794.6v1.4M940.6 808.6v5.6M940.6 823.9v7.0M940.6 833.7v4.2M940.6 839.3v7.0M940.6 849.0v12.6M940.6 882.6v1.4M940.6 890.9v5.6M953.9 505.5v1.4M953.9 508.3v2.8M953.9 512.5v2.8M953.9 537.6v1.4M953.9 541.8v1.4M953.9 562.8v11.2M953.9 587.9v1.4M953.9 593.5v1.4M953.9 607.5v1.4M953.9 620.0v1.4M953.9 627.0v2.8M953.9 635.4v1.4M953.9 643.8v2.8M953.9 677.3v1.4M953.9 689.9v1.4M953.9 717.8v1.4M953.9 723.4v2.8M953.9 744.3v5.6M953.9 752.7v1.4M953.9 758.3v2.8M953.9 765.3v1.4M953.9 768.1v1.4M953.9 776.4v2.8M953.9 784.8v1.4M953.9 808.6v2.8M953.9 829.5v1.4M953.9 840.7v16.8M953.9 861.6v1.4M953.9 867.2v2.8M953.9 888.1v2.8M953.9 892.3v8.4M953.9 902.1v4.2M967.3 506.9v1.4M967.3 512.5v4.2M967.3 532.1v2.8M967.3 536.3v5.6M967.3 572.6v1.4M967.3 575.4v2.8M967.3 582.3v1.4M967.3 594.9v1.4M967.3 600.5v1.4M967.3 606.1v1.4M967.3 615.8v1.4M967.3 620.0v1.4M967.3 622.8v1.4M967.3 628.4v2.8M967.3 652.2v1.4M967.3 668.9v1.4M967.3 674.5v1.4M967.3 691.3v1.4M967.3 695.4v1.4M967.3 702.4v4.2M967.3 710.8v1.4M967.3 716.4v1.4M967.3 730.4v2.8M967.3 734.5v1.4M967.3 740.1v1.4M967.3 747.1v2.8M967.3 765.3v2.8M967.3 775.0v1.4M967.3 779.2v1.4M967.3 787.6v1.4M967.3 793.2v4.2M967.3 804.4v5.6M967.3 811.3v4.2M967.3 821.1v1.4M967.3 825.3v2.8M967.3 835.1v1.4M967.3 839.3v1.4M967.3 857.4v9.8M967.3 879.8v4.2M967.3 886.8v1.4M967.3 890.9v2.8"/><path stroke="#fff8f8" d="M766.7 513.9v1.4M766.7 534.9v1.4M766.7 561.4v1.4M766.7 608.9v1.4M766.7 611.7v1.4M766.7 622.8v2.8M766.7 678.7v1.4M766.7 682.9v1.4M766.7 696.8v1.4M766.7 703.8v5.6M766.7 726.2v1.4M766.7 735.9v1.4M766.7 747.1v1.4M766.7 763.9v2.8M766.7 815.5v1.4M766.7 818.3v1.4M766.7 851.8v4.2M766.7 857.4v1.4M766.7 870.0v2.8M780.1 615.8v2.8M780.1 636.8v1.4M780.1 710.8v1.4M780.1 713.6v1.4M780.1 720.6v1.4M780.1 724.8v2.8M780.1 729.0v1.4M780.1 745.7v2.8M780.1 847.7v2.8M793.4 562.8v1.4M793.4 579.5v1.4M793.4 596.3v1.4M793.4 650.8v2.8M793.4 661.9v2.8M793.4 682.9v1.4M793.4 691.3v1.4M793.4 715.0v1.4M793.4 717.8v1.4M793.4 734.5v2.8M793.4 819.7v2.8M793.4 839.3v2.8M793.4 867.2v1.4M793.4 871.4v2.8M793.4 886.8v1.4M806.8 593.5v2.8M806.8 625.6v2.8M806.8 641.0v2.8M806.8 674.5v1.4M806.8 689.9v1.4M806.8 703.8v1.4M806.8 709.4v1.4M806.8 722.0v1.4M806.8 730.4v1.4M806.8 738.7v1.4M806.8 793.2v1.4M806.8 871.4v1.4M806.8 882.6v1.4M820.2 560.0v1.4M820.2 600.5v1.4M820.2 625.6v4.2M820.2 632.6v1.4M820.2 656.3v4.2M820.2 664.7v2.8M820.2 681.5v1.4M820.2 684.3v2.8M820.2 726.2v1.4M820.2 730.4v1.4M820.2 733.1v1.4M820.2 747.1v1.4M820.2 779.2v1.4M820.2 786.2v2.8M820.2 794.6v1.4M820.2 851.8v2.8M820.2 879.8v1.4M820.2 885.4v1.4M820.2 897.9v1.4M833.6 536.3v2.8M833.6 540.4v1.4M833.6 646.6v2.8M833.6 666.1v5.6M833.6 674.5v2.8M833.6 701.0v1.4M833.6 749.9v1.4M833.6 786.2v1.4M833.6 790.4v1.4M833.6 812.7v1.4M833.6 826.7v1.4M833.6 832.3v1.4M833.6 835.1v2.8M833.6 882.6v1.4M833.6 889.5v1.4M833.6 892.3v1.4M846.9 534.9v1.4M846.9 550.2v2.8M846.9 585.1v1.4M846.9 592.1v1.4M846.9 624.2v1.4M846.9 627.0v1.4M846.9 636.8v2.8M846.9 646.6v2.8M846.9 650.8v1.4M846.9 663.3v1.4M846.9 682.9v2.8M846.9 694.0v2.8M846.9 749.9v1.4M846.9 754.1v1.4M846.9 769.5v1.4M846.9 798.8v1.4M846.9 805.8v2.8M846.9 814.1v1.4M846.9 819.7v1.4M846.9 825.3v1.4M846.9 872.8v2.8M860.3 543.2v1.4M860.3 586.5v1.4M860.3 639.6v4.2M860.3 761.1v1.4M860.3 765.3v1.4M860.3 780.6v1.4M860.3 789.0v1.4M860.3 812.7v1.4M860.3 816.9v1.4M860.3 826.7v2.8M860.3 871.4v1.4M860.3 893.7v2.8M860.3 904.9v1.4M873.7 550.2v1.4M873.7 565.6v1.4M873.7 576.7v2.8M873.7 582.3v2.8M873.7 607.5v2.8M873.7 614.5v1.4M873.7 625.6v1.4M873.7 632.6v2.8M873.7 641.0v1.4M873.7 659.1v4.2M873.7 674.5v1.4M873.7 716.4v1.4M873.7 735.9v1.4M873.7 759.7v1.4M873.7 776.4v1.4M873.7 826.7v1.4M873.7 829.5v2.8M873.7 836.5v4.2M873.7 842.1v1.4M873.7 844.9v1.4M873.7 882.6v2.8M873.7 895.1v4.2M873.7 903.5v1.4M887.1 516.7v1.4M887.1 580.9v1.4M887.1 586.5v4.2M887.1 627.0v1.4M887.1 657.7v1.4M887.1 666.1v1.4M887.1 724.8v1.4M887.1 731.7v1.4M887.1 769.5v1.4M887.1 787.6v4.2M887.1 796.0v1.4M887.1 804.4v1.4M887.1 809.9v1.4M887.1 812.7v1.4M887.1 822.5v2.8M887.1 828.1v1.4M887.1 833.7v1.4M887.1 836.5v5.6M887.1 885.4v2.8M887.1 902.1v1.4M900.4 506.9v1.4M900.4 520.9v1.4M900.4 529.3v1.4M900.4 592.1v11.2M900.4 613.1v2.8M900.4 638.2v2.8M900.4 643.8v1.4M900.4 654.9v1.4M900.4 660.5v1.4M900.4 670.3v1.4M900.4 673.1v1.4M900.4 741.5v1.4M900.4 749.9v1.4M900.4 779.2v1.4M900.4 784.8v1.4M900.4 793.2v1.4M900.4 801.6v1.4M900.4 884.0v1.4M900.4 902.1v1.4M913.8 582.3v5.6M913.8 589.3v1.4M913.8 607.5v5.6M913.8 638.2v1.4M913.8 648.0v2.8M913.8 668.9v2.8M913.8 680.1v1.4M913.8 687.1v1.4M913.8 727.6v1.4M913.8 752.7v4.2M913.8 812.7v2.8M927.2 523.7v1.4M927.2 533.5v1.4M927.2 590.7v1.4M927.2 608.9v4.2M927.2 614.5v1.4M927.2 618.6v2.8M927.2 634.0v1.4M927.2 663.3v1.4M927.2 688.5v1.4M927.2 723.4v1.4M927.2 731.7v1.4M927.2 735.9v1.4M927.2 756.9v2.8M927.2 773.6v2.8M940.6 520.9v1.4M940.6 546.0v1.4M940.6 592.1v1.4M940.6 596.3v1.4M940.6 620.0v1.4M940.6 659.1v1.4M940.6 661.9v1.4M940.6 670.3v1.4M940.6 680.1v1.4M940.6 695.4v1.4M940.6 751.3v1.4M940.6 759.7v1.4M953.9 586.5v1.4M953.9 597.7v1.4M953.9 603.3v1.4M953.9 678.7v1.4M953.9 749.9v1.4M953.9 756.9v1.4M953.9 772.2v2.8M953.9 779.2v1.4M967.3 509.7v2.8M967.3 684.3v1.4M967.3 708.0v2.8M967.3 744.3v1.4M967.3 762.5v1.4M967.3 777.8v1.4"/><path stroke="#fff0e8" d="M766.7 515.3v2.8M766.7 562.8v1.4M766.7 583.7v1.4M766.7 664.7v2.8M766.7 733.1v1.4M780.1 512.5v1.4M793.4 560.0v2.8M793.4 578.1v1.4M793.4 685.7v1.4M793.4 716.4v1.4M793.4 803.0v1.4M806.8 712.2v1.4M806.8 720.6v1.4M806.8 770.8v1.4M806.8 790.4v1.4M806.8 814.1v1.4M806.8 874.2v2.8M820.2 561.4v2.8M820.2 709.4v1.4M820.2 727.6v1.4M820.2 735.9v1.4M820.2 763.9v1.4M820.2 780.6v4.2M820.2 800.2v1.4M820.2 815.5v1.4M820.2 819.7v1.4M833.6 702.4v1.4M833.6 787.6v2.8M846.9 537.6v1.4M846.9 666.1v2.8M846.9 755.5v1.4M846.9 821.1v4.2M860.3 643.8v1.4M860.3 727.6v1.4M860.3 814.1v2.8M860.3 819.7v2.8M860.3 825.3v1.4M860.3 886.8v1.4M873.7 656.3v2.8M873.7 675.9v2.8M873.7 758.3v1.4M873.7 808.6v1.4M873.7 818.3v1.4M873.7 822.5v1.4M873.7 899.3v1.4M887.1 515.3v1.4M887.1 574.0v1.4M887.1 579.5v1.4M887.1 641.0v2.8M887.1 681.5v1.4M887.1 688.5v1.4M887.1 741.5v2.8M887.1 773.6v1.4M887.1 896.5v1.4M900.4 519.5v1.4M900.4 645.2v1.4M900.4 675.9v1.4M900.4 782.0v2.8M900.4 822.5v1.4M900.4 886.8v2.8M900.4 897.9v1.4M913.8 641.0v1.4M913.8 645.2v1.4M927.2 617.2v1.4M927.2 657.7v1.4M927.2 667.5v1.4M927.2 765.3v1.4M927.2 770.8v1.4M940.6 580.9v1.4M940.6 656.3v1.4M940.6 671.7v1.4M940.6 674.5v1.4M940.6 678.7v1.4M940.6 727.6v1.4M940.6 738.7v2.8M940.6 749.9v1.4M940.6 752.7v1.4M953.9 601.9v1.4M953.9 610.3v1.4M967.3 741.5v1.4"/><path stroke="#c8d8f8" d="M766.7 520.9v2.8M766.7 540.4v1.4M780.1 530.7v1.4M793.4 527.9v1.4M793.4 534.9v1.4M793.4 537.6v1.4M793.4 568.4v2.8M793.4 761.1v5.6M793.4 818.3v1.4M806.8 519.5v1.4M806.8 551.6v1.4M820.2 519.5v1.4M846.9 512.5v2.8M846.9 557.2v1.4M846.9 560.0v1.4M846.9 565.6v1.4M846.9 763.9v1.4M860.3 506.9v1.4M860.3 547.4v2.8M860.3 702.4v1.4M873.7 533.5v1.4M873.7 557.2v4.2M900.4 709.4v1.4M913.8 546.0v1.4M913.8 699.6v1.4M913.8 722.0v1.4M927.2 544.6v1.4M927.2 702.4v1.4M927.2 865.8v4.2M940.6 551.6v1.4M940.6 561.4v2.8M940.6 708.0v1.4M940.6 715.0v1.4M940.6 861.6v2.8M953.9 550.2v2.8M953.9 557.2v1.4M953.9 701.0v1.4M967.3 519.5v1.4M967.3 522.3v1.4M967.3 543.2v2.8M967.3 551.6v1.4M967.3 653.6v1.4M967.3 681.5v1.4M967.3 737.3v1.4"/><path stroke="#1828f0" d="M766.7 523.7v2.8M846.9 744.3v4.2M927.2 682.9v1.4M940.6 575.4v5.6"/><path stroke="#f0f8ff" d="M766.7 527.9v1.4M766.7 544.6v2.8M766.7 592.1v1.4M766.7 600.5v2.8M766.7 642.4v2.8M766.7 649.4v2.8M766.7 685.7v1.4M766.7 694.0v1.4M766.7 762.5v1.4M766.7 775.0v4.2M766.7 822.5v2.8M766.7 835.1v1.4M766.7 837.9v1.4M766.7 843.5v1.4M780.1 555.8v1.4M780.1 579.5v1.4M780.1 589.3v1.4M780.1 629.8v1.4M780.1 670.3v1.4M780.1 692.6v1.4M780.1 701.0v2.8M780.1 777.8v1.4M780.1 782.0v1.4M780.1 875.6v1.4M793.4 519.5v1.4M793.4 554.4v1.4M793.4 564.2v1.4M793.4 574.0v1.4M793.4 620.0v4.2M793.4 722.0v1.4M793.4 745.7v1.4M793.4 758.3v1.4M793.4 793.2v1.4M793.4 889.5v1.4M806.8 539.0v1.4M806.8 560.0v1.4M806.8 567.0v1.4M806.8 589.3v2.8M806.8 650.8v1.4M806.8 671.7v1.4M806.8 695.4v1.4M806.8 741.5v1.4M806.8 754.1v1.4M806.8 773.6v1.4M806.8 783.4v1.4M806.8 787.6v1.4M806.8 797.4v1.4M806.8 816.9v1.4M806.8 888.1v1.4M806.8 892.3v1.4M820.2 505.5v1.4M820.2 509.7v1.4M820.2 537.6v1.4M820.2 550.2v1.4M820.2 567.0v1.4M820.2 569.8v1.4M820.2 645.2v2.8M820.2 691.3v1.4M820.2 695.4v1.4M820.2 769.5v1.4M820.2 797.4v1.4M820.2 823.9v1.4M820.2 826.7v1.4M820.2 829.5v1.4M820.2 833.7v1.4M820.2 867.2v1.4M820.2 872.8v1.4M820.2 875.6v1.4M833.6 547.4v1.4M833.6 553.0v1.4M833.6 567.0v2.8M833.6 698.2v1.4M833.6 717.8v1.4M833.6 761.1v1.4M833.6 773.6v1.4M833.6 796.0v1.4M833.6 842.1v2.8M846.9 529.3v1.4M846.9 539.0v1.4M846.9 583.7v1.4M846.9 600.5v1.4M846.9 604.7v1.4M846.9 688.5v1.4M846.9 761.1v1.4M846.9 765.3v1.4M846.9 782.0v1.4M846.9 860.2v1.4M846.9 863.0v1.4M846.9 868.6v1.4M860.3 533.5v1.4M860.3 579.5v1.4M860.3 587.9v1.4M860.3 657.7v2.8M860.3 673.1v1.4M860.3 696.8v1.4M860.3 712.2v1.4M860.3 720.6v1.4M860.3 731.7v1.4M860.3 741.5v1.4M860.3 756.9v1.4M860.3 773.6v1.4M860.3 776.4v1.4M860.3 875.6v1.4M873.7 515.3v2.8M873.7 529.3v1.4M873.7 536.3v2.8M873.7 682.9v1.4M873.7 687.1v1.4M873.7 710.8v1.4M873.7 864.4v2.8M873.7 872.8v2.8M887.1 523.7v1.4M887.1 564.2v1.4M887.1 600.5v4.2M887.1 663.3v1.4M887.1 684.3v2.8M887.1 758.3v2.8M887.1 768.1v1.4M887.1 863.0v1.4M887.1 867.2v2.8M887.1 874.2v2.8M900.4 622.8v2.8M900.4 691.3v1.4M900.4 698.2v1.4M900.4 701.0v1.4M900.4 719.2v1.4M900.4 723.4v1.4M900.4 742.9v1.4M900.4 804.4v1.4M900.4 809.9v1.4M900.4 836.5v1.4M900.4 843.5v2.8M913.8 547.4v1.4M913.8 558.6v5.6M913.8 629.8v1.4M913.8 656.3v2.8M913.8 701.0v2.8M913.8 706.6v1.4M913.8 744.3v1.4M913.8 758.3v2.8M913.8 770.8v1.4M913.8 783.4v1.4M913.8 829.5v1.4M913.8 882.6v1.4M913.8 904.9v1.4M927.2 547.4v1.4M927.2 555.8v1.4M927.2 558.6v1.4M927.2 561.4v1.4M927.2 586.5v1.4M927.2 603.3v1.4M927.2 684.3v1.4M927.2 699.6v1.4M927.2 726.2v1.4M927.2 791.8v1.4M927.2 808.6v1.4M927.2 811.3v1.4M927.2 823.9v1.4M927.2 885.4v1.4M927.2 888.1v1.4M927.2 900.7v1.4M940.6 534.9v1.4M940.6 537.6v1.4M940.6 606.1v1.4M940.6 632.6v1.4M940.6 643.8v1.4M940.6 663.3v1.4M940.6 733.1v1.4M940.6 765.3v1.4M940.6 796.0v2.8M940.6 807.2v1.4M940.6 846.3v2.8M940.6 864.4v1.4M940.6 903.5v2.8M953.9 506.9v1.4M953.9 523.7v1.4M953.9 536.3v1.4M953.9 539.0v2.8M953.9 546.0v1.4M953.9 613.1v1.4M953.9 631.2v1.4M953.9 684.3v1.4M953.9 687.1v2.8M953.9 691.3v2.8M953.9 703.8v1.4M953.9 716.4v1.4M953.9 719.2v1.4M953.9 825.3v4.2M953.9 830.9v1.4M953.9 857.4v1.4M967.3 505.5v1.4M967.3 508.3v1.4M967.3 516.7v1.4M967.3 554.4v1.4M967.3 574.0v1.4M967.3 578.1v1.4M967.3 580.9v1.4M967.3 611.7v1.4M967.3 614.5v1.4M967.3 624.2v1.4M967.3 631.2v1.4M967.3 642.4v2.8M967.3 661.9v1.4M967.3 696.8v1.4M967.3 701.0v1.4M967.3 717.8v2.8M967.3 780.6v1.4M967.3 786.2v1.4M967.3 803.0v1.4M967.3 836.5v1.4M967.3 885.4v1.4"/><path stroke="#e8f0ff" d="M766.7 530.7v1.4M766.7 579.5v1.4M766.7 585.1v1.4M766.7 615.8v2.8M766.7 790.4v1.4M766.7 805.8v1.4M766.7 812.7v1.4M766.7 833.7v1.4M766.7 839.3v1.4M766.7 874.2v1.4M780.1 505.5v1.4M780.1 520.9v1.4M780.1 569.8v1.4M780.1 572.6v1.4M780.1 576.7v1.4M780.1 631.2v2.8M780.1 680.1v1.4M780.1 691.3v1.4M780.1 735.9v1.4M780.1 768.1v4.2M780.1 773.6v1.4M780.1 797.4v1.4M793.4 724.8v1.4M793.4 747.1v2.8M793.4 751.3v2.8M793.4 789.0v1.4M793.4 796.0v1.4M793.4 807.2v2.8M793.4 812.7v1.4M793.4 816.9v1.4M793.4 825.3v1.4M793.4 832.3v2.8M806.8 506.9v1.4M806.8 533.5v2.8M806.8 554.4v4.2M806.8 561.4v1.4M806.8 568.4v4.2M806.8 648.0v2.8M806.8 668.9v2.8M806.8 749.9v1.4M806.8 775.0v1.4M806.8 777.8v1.4M806.8 798.8v1.4M806.8 801.6v1.4M806.8 804.4v2.8M806.8 808.6v1.4M806.8 818.3v1.4M806.8 889.5v2.8M820.2 506.9v1.4M820.2 515.3v2.8M820.2 533.5v2.8M820.2 546.0v1.4M820.2 648.0v1.4M820.2 689.9v1.4M820.2 777.8v1.4M820.2 811.3v1.4M820.2 825.3v1.4M820.2 861.6v1.4M820.2 893.7v1.4M833.6 512.5v1.4M833.6 592.1v2.8M833.6 671.7v2.8M833.6 681.5v1.4M833.6 744.3v1.4M833.6 759.7v1.4M833.6 821.1v1.4M833.6 823.9v1.4M846.9 508.3v1.4M846.9 516.7v1.4M846.9 571.2v1.4M846.9 574.0v1.4M846.9 576.7v1.4M846.9 594.9v2.8M846.9 617.2v2.8M846.9 705.2v1.4M846.9 777.8v1.4M846.9 780.6v1.4M846.9 864.4v2.8M860.3 515.3v1.4M860.3 574.0v1.4M860.3 580.9v2.8M860.3 677.3v1.4M860.3 680.1v4.2M860.3 698.2v1.4M860.3 735.9v1.4M860.3 738.7v1.4M860.3 749.9v1.4M860.3 758.3v1.4M860.3 856.0v1.4M873.7 562.8v1.4M873.7 567.0v2.8M873.7 681.5v1.4M873.7 694.0v1.4M873.7 698.2v1.4M873.7 703.8v1.4M873.7 727.6v1.4M873.7 863.0v1.4M887.1 544.6v1.4M887.1 568.4v1.4M887.1 660.5v2.8M887.1 696.8v1.4M887.1 761.1v1.4M887.1 861.6v1.4M900.4 522.3v1.4M900.4 543.2v1.4M900.4 586.5v1.4M900.4 680.1v2.8M900.4 706.6v1.4M900.4 712.2v1.4M900.4 737.3v1.4M900.4 772.2v1.4M900.4 789.0v1.4M900.4 811.3v2.8M900.4 821.1v1.4M900.4 837.9v2.8M900.4 851.8v4.2M900.4 868.6v1.4M900.4 878.4v1.4M913.8 516.7v2.8M913.8 593.5v1.4M913.8 624.2v5.6M913.8 666.1v1.4M913.8 673.1v1.4M913.8 682.9v1.4M913.8 716.4v1.4M913.8 724.8v1.4M913.8 756.9v1.4M913.8 765.3v1.4M913.8 787.6v2.8M913.8 801.6v1.4M913.8 877.0v4.2M927.2 551.6v2.8M927.2 624.2v1.4M927.2 642.4v2.8M927.2 646.6v1.4M927.2 650.8v2.8M927.2 654.9v1.4M927.2 673.1v1.4M927.2 705.2v1.4M927.2 777.8v1.4M927.2 801.6v1.4M927.2 818.3v2.8M927.2 828.1v1.4M927.2 903.5v1.4M940.6 506.9v1.4M940.6 532.1v2.8M940.6 548.8v1.4M940.6 568.4v1.4M940.6 582.3v1.4M940.6 603.3v1.4M940.6 614.5v1.4M940.6 646.6v1.4M940.6 681.5v2.8M940.6 702.4v1.4M940.6 709.4v1.4M940.6 730.4v1.4M940.6 801.6v2.8M940.6 805.8v1.4M940.6 830.9v2.8M940.6 899.3v2.8M953.9 516.7v1.4M953.9 522.3v1.4M953.9 544.6v1.4M953.9 646.6v4.2M953.9 653.6v1.4M953.9 694.0v1.4M953.9 713.6v2.8M953.9 734.5v2.8M953.9 738.7v1.4M953.9 819.7v1.4M953.9 833.7v2.8M953.9 837.9v1.4M953.9 890.9v1.4M967.3 523.7v1.4M967.3 568.4v1.4M967.3 601.9v2.8M967.3 632.6v7.0M967.3 670.3v2.8M967.3 727.6v1.4M967.3 768.1v1.4M967.3 770.8v1.4M967.3 773.6v1.4M967.3 830.9v1.4M967.3 833.7v1.4M967.3 840.7v1.4M967.3 850.4v1.4M967.3 867.2v1.4M967.3 871.4v1.4M967.3 875.6v1.4M967.3 893.7v4.2M967.3 900.7v2.8"/><path stroke="#e0e8ff" d="M766.7 539.0v1.4M766.7 567.0v1.4M766.7 569.8v2.8M766.7 574.0v1.4M766.7 580.9v2.8M766.7 789.0v1.4M766.7 800.2v4.2M766.7 840.7v1.4M766.7 847.7v2.8M780.1 522.3v1.4M780.1 532.1v1.4M780.1 574.0v2.8M780.1 583.7v2.8M780.1 673.1v2.8M780.1 689.9v1.4M780.1 765.3v1.4M780.1 800.2v2.8M793.4 530.7v1.4M793.4 540.4v2.8M793.4 565.6v1.4M793.4 572.6v1.4M793.4 675.9v2.8M793.4 749.9v1.4M793.4 766.7v1.4M806.8 530.7v2.8M806.8 553.0v1.4M806.8 776.4v1.4M806.8 784.8v1.4M806.8 807.2v1.4M820.2 513.9v1.4M820.2 547.4v1.4M820.2 617.2v2.8M820.2 761.1v1.4M833.6 557.2v1.4M833.6 738.7v1.4M833.6 776.4v1.4M833.6 822.5v1.4M846.9 527.9v1.4M846.9 575.4v1.4M846.9 779.2v1.4M860.3 560.0v1.4M860.3 567.0v1.4M860.3 713.6v1.4M860.3 737.3v1.4M860.3 775.0v1.4M860.3 857.4v1.4M873.7 555.8v1.4M873.7 586.5v2.8M873.7 695.4v1.4M873.7 699.6v1.4M873.7 705.2v1.4M887.1 511.1v1.4M887.1 525.1v1.4M887.1 539.0v1.4M887.1 550.2v2.8M887.1 597.7v2.8M887.1 712.2v1.4M887.1 846.3v2.8M887.1 857.4v2.8M900.4 544.6v2.8M900.4 548.8v2.8M900.4 579.5v1.4M900.4 583.7v2.8M900.4 716.4v1.4M900.4 775.0v1.4M900.4 847.7v4.2M900.4 856.0v2.8M900.4 861.6v5.6M913.8 505.5v1.4M913.8 508.3v1.4M913.8 574.0v2.8M913.8 674.5v1.4M913.8 715.0v1.4M913.8 738.7v2.8M913.8 763.9v1.4M913.8 780.6v2.8M913.8 833.7v2.8M913.8 837.9v2.8M913.8 854.6v7.0M913.8 867.2v4.2M913.8 874.2v2.8M927.2 541.8v1.4M927.2 550.2v1.4M927.2 648.0v2.8M927.2 653.6v1.4M927.2 701.0v1.4M927.2 709.4v2.8M927.2 803.0v2.8M927.2 833.7v2.8M927.2 837.9v1.4M927.2 843.5v4.2M927.2 853.2v1.4M927.2 861.6v2.8M927.2 902.1v1.4M940.6 523.7v1.4M940.6 565.6v1.4M940.6 607.5v1.4M940.6 648.0v2.8M940.6 664.7v1.4M940.6 692.6v1.4M940.6 699.6v1.4M940.6 724.8v1.4M940.6 731.7v1.4M940.6 804.4v1.4M940.6 837.9v1.4M940.6 870.0v1.4M940.6 881.2v1.4M953.9 553.0v1.4M953.9 555.8v1.4M953.9 589.3v1.4M953.9 592.1v1.4M953.9 632.6v1.4M953.9 654.9v1.4M953.9 666.1v1.4M953.9 685.7v1.4M953.9 702.4v1.4M953.9 705.2v1.4M953.9 710.8v1.4M953.9 726.2v1.4M953.9 733.1v1.4M953.9 742.9v1.4M953.9 821.1v1.4M953.9 839.3v1.4M953.9 900.7v1.4M967.3 518.1v1.4M967.3 553.0v1.4M967.3 571.2v1.4M967.3 599.1v1.4M967.3 618.6v1.4M967.3 627.0v1.4M967.3 649.4v1.4M967.3 657.7v2.8M967.3 667.5v1.4M967.3 673.1v1.4M967.3 713.6v1.4M967.3 726.2v1.4M967.3 772.2v1.4M967.3 832.3v1.4M967.3 842.1v1.4M967.3 851.8v2.8M967.3 878.4v1.4"/><path stroke="#c0d0f8" d="M766.7 541.8v1.4M780.1 526.5v1.4M780.1 902.1v2.8M793.4 536.3v1.4M806.8 518.1v1.4M806.8 751.3v1.4M820.2 682.9v1.4M820.2 772.2v1.4M833.6 518.1v2.8M846.9 520.9v1.4M873.7 534.9v1.4M873.7 720.6v1.4M887.1 555.8v1.4M900.4 553.0v2.8M900.4 689.9v1.4M900.4 703.8v1.4M913.8 550.2v1.4M913.8 695.4v1.4M913.8 710.8v1.4M913.8 723.4v1.4M927.2 546.0v1.4M927.2 557.2v1.4M940.6 557.2v1.4M940.6 705.2v1.4M940.6 871.4v2.8M953.9 656.3v2.8M967.3 520.9v1.4M967.3 529.3v2.8M967.3 692.6v2.8"/><path stroke="#d0e0f8" d="M766.7 543.2v1.4M766.7 550.2v1.4M806.8 527.9v1.4M806.8 564.2v1.4M806.8 752.7v1.4M820.2 548.8v1.4M820.2 551.6v1.4M820.2 878.4v1.4M833.6 745.7v1.4M846.9 515.3v1.4M846.9 522.3v1.4M846.9 541.8v1.4M846.9 562.8v1.4M846.9 716.4v2.8M860.3 508.3v1.4M860.3 569.8v1.4M860.3 715.0v1.4M873.7 508.3v1.4M887.1 541.8v2.8M900.4 580.9v1.4M900.4 710.8v1.4M900.4 747.1v1.4M913.8 509.7v1.4M913.8 551.6v1.4M913.8 696.8v2.8M913.8 712.2v1.4M913.8 826.7v1.4M927.2 694.0v1.4M927.2 847.7v1.4M927.2 856.0v2.8M927.2 879.8v1.4M940.6 550.2v1.4M940.6 554.4v1.4M940.6 622.8v1.4M940.6 716.4v2.8M940.6 766.7v1.4M940.6 865.8v1.4M940.6 877.0v2.8M953.9 652.2v1.4M953.9 659.1v2.8M953.9 699.6v1.4M953.9 727.6v2.8M967.3 558.6v1.4M967.3 645.2v1.4M967.3 678.7v1.4M967.3 720.6v2.8M967.3 856.0v1.4"/><path stroke="#f87860" d="M766.7 547.4v2.8M806.8 604.7v1.4M846.9 608.9v2.8M860.3 829.5v8.4M900.4 525.1v2.8M900.4 571.2v1.4M913.8 888.1v11.2M927.2 525.1v2.8"/><path stroke="#fffff8" d="M766.7 560.0v1.4M766.7 606.1v1.4M766.7 613.1v1.4M766.7 625.6v1.4M766.7 638.2v1.4M766.7 677.3v1.4M766.7 699.6v1.4M766.7 709.4v1.4M766.7 730.4v1.4M766.7 737.3v1.4M766.7 752.7v1.4M766.7 769.5v1.4M766.7 793.2v1.4M766.7 826.7v1.4M766.7 850.4v1.4M766.7 865.8v1.4M766.7 890.9v1.4M780.1 533.5v1.4M780.1 560.0v1.4M780.1 611.7v1.4M780.1 678.7v1.4M780.1 706.6v1.4M780.1 722.0v2.8M780.1 727.6v1.4M780.1 794.6v1.4M780.1 856.0v2.8M780.1 867.2v1.4M793.4 592.1v1.4M793.4 594.9v1.4M793.4 653.6v1.4M793.4 657.7v4.2M793.4 681.5v1.4M793.4 687.1v2.8M793.4 737.3v1.4M793.4 804.4v1.4M793.4 829.5v1.4M793.4 882.6v1.4M806.8 628.4v1.4M806.8 677.3v2.8M806.8 691.3v1.4M806.8 812.7v1.4M806.8 815.5v1.4M806.8 839.3v1.4M806.8 856.0v7.0M806.8 870.0v1.4M806.8 902.1v1.4M820.2 564.2v1.4M820.2 638.2v1.4M820.2 652.2v1.4M820.2 663.3v1.4M820.2 680.1v1.4M820.2 716.4v2.8M820.2 742.9v4.2M820.2 748.5v1.4M820.2 807.2v1.4M820.2 814.1v1.4M820.2 854.6v2.8M820.2 858.8v1.4M833.6 578.1v1.4M833.6 597.7v1.4M833.6 645.2v1.4M833.6 649.4v1.4M833.6 652.2v4.2M833.6 703.8v1.4M833.6 741.5v1.4M833.6 763.9v1.4M833.6 904.9v1.4M846.9 611.7v1.4M846.9 628.4v1.4M846.9 641.0v2.8M846.9 645.2v1.4M846.9 652.2v2.8M846.9 671.7v1.4M846.9 685.7v1.4M846.9 696.8v1.4M846.9 790.4v1.4M846.9 801.6v4.2M846.9 811.3v1.4M846.9 815.5v4.2M846.9 896.5v1.4M860.3 585.1v1.4M860.3 634.0v1.4M860.3 638.2v1.4M860.3 722.0v1.4M860.3 803.0v4.2M860.3 808.6v1.4M860.3 851.8v1.4M873.7 548.8v1.4M873.7 569.8v1.4M873.7 604.7v1.4M873.7 611.7v2.8M873.7 639.6v1.4M873.7 691.3v1.4M873.7 713.6v1.4M873.7 733.1v2.8M873.7 737.3v1.4M873.7 761.1v1.4M873.7 784.8v1.4M873.7 840.7v1.4M873.7 851.8v1.4M873.7 893.7v1.4M887.1 593.5v1.4M887.1 618.6v2.8M887.1 717.8v1.4M887.1 782.0v1.4M887.1 803.0v1.4M887.1 882.6v2.8M900.4 603.3v1.4M900.4 668.9v1.4M900.4 674.5v1.4M900.4 903.5v1.4M913.8 603.3v1.4M913.8 606.1v1.4M913.8 635.4v1.4M913.8 726.2v1.4M913.8 775.0v1.4M913.8 805.8v1.4M913.8 899.3v1.4M927.2 582.3v1.4M927.2 592.1v1.4M927.2 628.4v1.4M927.2 635.4v1.4M927.2 659.1v1.4M927.2 666.1v1.4M927.2 689.9v1.4M927.2 733.1v1.4M927.2 747.1v1.4M927.2 896.5v1.4M940.6 529.3v1.4M940.6 745.7v2.8M940.6 756.9v1.4M940.6 762.5v1.4M953.9 520.9v1.4M953.9 599.1v1.4M953.9 770.8v1.4M953.9 782.0v1.4M967.3 663.3v1.4M967.3 682.9v1.4M967.3 759.7v1.4"/><path stroke="#fff0f0" d="M766.7 564.2v1.4M766.7 731.7v1.4M766.7 751.3v1.4M766.7 770.8v1.4M766.7 829.5v1.4M780.1 534.9v1.4M806.8 608.9v1.4M806.8 710.8v1.4M806.8 772.2v1.4M806.8 840.7v1.4M846.9 536.3v1.4M846.9 586.5v1.4M860.3 779.2v1.4M873.7 642.4v1.4M873.7 684.3v2.8M887.1 513.9v1.4M887.1 667.5v1.4M887.1 670.3v1.4M887.1 678.7v1.4M900.4 518.1v1.4M900.4 885.4v1.4M927.2 769.5v1.4M927.2 772.2v1.4M940.6 593.5v1.4M940.6 755.5v1.4M940.6 761.1v1.4M953.9 600.5v1.4M953.9 608.9v1.4M967.3 675.9v1.4M967.3 755.5v1.4"/><path stroke="#d8e0ff" d="M766.7 568.4v1.4M780.1 798.8v1.4M780.1 803.0v1.4M793.4 532.1v2.8M793.4 539.0v1.4M793.4 548.8v1.4M793.4 571.2v1.4M793.4 759.7v1.4M806.8 505.5v1.4M806.8 513.9v1.4M806.8 529.3v1.4M806.8 562.8v1.4M806.8 565.6v1.4M806.8 800.2v1.4M820.2 518.1v1.4M820.2 539.0v1.4M833.6 505.5v1.4M833.6 554.4v2.8M846.9 561.4v1.4M846.9 564.2v1.4M846.9 569.8v1.4M860.3 546.0v1.4M860.3 550.2v1.4M860.3 568.4v1.4M860.3 699.6v1.4M860.3 705.2v1.4M860.3 719.2v1.4M860.3 867.2v1.4M873.7 696.8v1.4M873.7 726.2v1.4M873.7 796.0v2.8M887.1 506.9v1.4M887.1 540.4v1.4M887.1 748.5v2.8M900.4 582.3v1.4M900.4 678.7v1.4M900.4 688.5v1.4M900.4 696.8v1.4M900.4 735.9v1.4M900.4 776.4v1.4M900.4 858.8v2.8M913.8 511.1v2.8M913.8 564.2v1.4M913.8 684.3v1.4M913.8 761.1v2.8M913.8 863.0v1.4M913.8 871.4v2.8M927.2 695.4v1.4M927.2 839.3v4.2M927.2 849.0v2.8M927.2 854.6v1.4M927.2 864.4v1.4M927.2 870.0v1.4M927.2 872.8v7.0M927.2 881.2v1.4M940.6 601.9v1.4M940.6 611.7v2.8M940.6 625.6v1.4M940.6 684.3v1.4M940.6 867.2v1.4M940.6 874.2v2.8M940.6 879.8v1.4M953.9 590.7v1.4M953.9 614.5v1.4M953.9 663.3v1.4M953.9 731.7v1.4M953.9 863.0v4.2M953.9 871.4v2.8M953.9 877.0v1.4M953.9 881.2v7.0M967.3 527.9v1.4M967.3 534.9v1.4M967.3 724.8v1.4M967.3 854.6v1.4"/><path stroke="#d8e8ff" d="M766.7 572.6v1.4M766.7 787.6v1.4M766.7 804.4v1.4M780.1 766.7v1.4M780.1 772.2v1.4M780.1 805.8v1.4M793.4 529.3v1.4M793.4 733.1v1.4M806.8 786.2v1.4M820.2 520.9v1.4M846.9 511.1v1.4M846.9 555.8v1.4M860.3 572.6v1.4M860.3 751.3v2.8M873.7 610.3v1.4M873.7 723.4v2.8M887.1 701.0v1.4M900.4 547.4v1.4M900.4 717.8v1.4M913.8 720.6v1.4M913.8 836.5v1.4M913.8 861.6v1.4M913.8 865.8v1.4M927.2 548.8v1.4M927.2 752.7v2.8M927.2 851.8v1.4M927.2 860.2v1.4M927.2 871.4v1.4M940.6 600.5v1.4M940.6 694.0v1.4M940.6 703.8v1.4M953.9 548.8v1.4M953.9 737.3v1.4M953.9 870.0v1.4M953.9 874.2v2.8M967.3 712.2v1.4M967.3 735.9v1.4M967.3 738.7v1.4"/><path stroke="#fff8f0" d="M766.7 610.3v1.4M766.7 680.1v2.8M766.7 734.5v1.4M766.7 742.9v2.8M766.7 748.5v1.4M766.7 797.4v1.4M766.7 808.6v1.4M766.7 816.9v1.4M766.7 828.1v1.4M766.7 846.3v1.4M766.7 856.0v1.4M766.7 867.2v2.8M780.1 508.3v1.4M780.1 513.9v1.4M780.1 565.6v1.4M780.1 712.2v1.4M780.1 815.5v1.4M793.4 557.2v2.8M793.4 576.7v1.4M793.4 684.3v1.4M793.4 692.6v4.2M793.4 742.9v1.4M793.4 868.6v2.8M793.4 884.0v2.8M806.8 520.9v4.2M806.8 576.7v1.4M806.8 622.8v1.4M806.8 675.9v1.4M806.8 702.4v1.4M806.8 713.6v1.4M806.8 719.2v1.4M806.8 731.7v1.4M806.8 737.3v1.4M806.8 769.5v1.4M806.8 789.0v1.4M806.8 791.8v1.4M806.8 872.8v1.4M806.8 893.7v1.4M820.2 592.1v2.8M820.2 634.0v4.2M820.2 653.6v2.8M820.2 708.0v1.4M820.2 710.8v1.4M820.2 729.0v1.4M820.2 734.5v1.4M820.2 737.3v1.4M820.2 784.8v1.4M820.2 804.4v1.4M820.2 821.1v1.4M820.2 881.2v4.2M833.6 610.3v2.8M833.6 650.8v1.4M833.6 677.3v1.4M833.6 694.0v2.8M833.6 828.1v4.2M833.6 890.9v1.4M846.9 523.7v1.4M846.9 532.1v2.8M846.9 587.9v4.2M846.9 625.6v1.4M846.9 639.6v1.4M846.9 654.9v1.4M846.9 664.7v1.4M846.9 673.1v1.4M846.9 756.9v1.4M846.9 772.2v4.2M846.9 812.7v1.4M846.9 830.9v1.4M860.3 636.8v1.4M860.3 762.5v2.8M860.3 766.7v1.4M860.3 770.8v2.8M860.3 777.8v1.4M860.3 807.2v1.4M860.3 818.3v1.4M860.3 822.5v2.8M860.3 842.1v4.2M873.7 513.9v1.4M873.7 579.5v2.8M873.7 624.2v1.4M873.7 635.4v4.2M873.7 738.7v1.4M873.7 744.3v1.4M873.7 756.9v1.4M873.7 783.4v1.4M873.7 833.7v1.4M873.7 900.7v2.8M887.1 590.7v2.8M887.1 596.3v1.4M887.1 650.8v1.4M887.1 692.6v1.4M887.1 730.4v1.4M887.1 744.3v1.4M887.1 770.8v1.4M887.1 811.3v1.4M887.1 814.1v4.2M887.1 829.5v4.2M887.1 835.1v1.4M887.1 897.9v4.2M900.4 648.0v4.2M900.4 656.3v4.2M900.4 671.7v1.4M900.4 720.6v2.8M900.4 740.1v1.4M900.4 794.6v2.8M900.4 899.3v2.8M913.8 587.9v1.4M913.8 604.7v1.4M913.8 639.6v1.4M913.8 646.6v1.4M913.8 677.3v2.8M913.8 688.5v2.8M913.8 731.7v2.8M913.8 748.5v1.4M927.2 513.9v1.4M927.2 520.9v1.4M927.2 613.1v1.4M927.2 615.8v1.4M927.2 629.8v4.2M927.2 670.3v1.4M927.2 722.0v1.4M927.2 737.3v1.4M927.2 759.7v4.2M927.2 766.7v2.8M940.6 594.9v1.4M940.6 641.0v1.4M940.6 657.7v1.4M940.6 660.5v1.4M940.6 673.1v1.4M940.6 729.0v1.4M940.6 737.3v1.4M940.6 754.1v1.4M953.9 611.7v1.4M953.9 642.4v1.4M953.9 780.6v1.4M967.3 608.9v2.8M967.3 742.9v1.4M967.3 751.3v1.4M967.3 758.3v1.4M967.3 776.4v1.4"/><path stroke="#ffd8c8" d="M766.7 661.9v2.8M873.7 749.9v1.4M887.1 646.6v1.4M887.1 698.2v2.8M953.9 681.5v1.4"/><path stroke="#fff0e0" d="M766.7 749.9v1.4M820.2 816.9v2.8M846.9 668.9v2.8M846.9 770.8v1.4M846.9 826.7v1.4M846.9 829.5v1.4M860.3 723.4v1.4M873.7 643.8v1.4M873.7 654.9v1.4M873.7 821.1v1.4M887.1 575.4v1.4M887.1 652.2v1.4M887.1 654.9v2.8M887.1 673.1v2.8M887.1 772.2v1.4M900.4 889.5v1.4M927.2 680.1v1.4M953.9 682.9v1.4M967.3 752.7v1.4"/><path stroke="#0008c8" d="M766.7 755.5v4.2M967.3 585.1v1.4"/><path stroke="#ffe8e0" d="M766.7 794.6v1.4M780.1 509.7v1.4M793.4 800.2v1.4M820.2 554.4v1.4M820.2 803.0v1.4M833.6 539.0v1.4M846.9 506.9v1.4M846.9 649.4v1.4M846.9 828.1v1.4M860.3 652.2v1.4M873.7 645.2v7.0M873.7 740.1v1.4M873.7 752.7v1.4M873.7 819.7v1.4M873.7 823.9v1.4M887.1 576.7v2.8M887.1 635.4v4.2M887.1 643.8v1.4M887.1 668.9v1.4M887.1 680.1v1.4M887.1 689.9v2.8M900.4 751.3v1.4M900.4 780.6v1.4M900.4 893.7v4.2M913.8 643.8v1.4M913.8 729.0v2.8M927.2 668.9v1.4M927.2 763.9v1.4M940.6 696.8v1.4M953.9 680.1v1.4M953.9 761.1v2.8M967.3 754.1v1.4"/><path stroke="#ffe8d8" d="M766.7 796.0v1.4M780.1 511.1v1.4M820.2 791.8v2.8M820.2 801.6v1.4M833.6 756.9v2.8M860.3 645.2v1.4M860.3 649.4v2.8M860.3 724.8v2.8M860.3 837.9v1.4M873.7 652.2v2.8M873.7 742.9v1.4M873.7 748.5v1.4M873.7 825.3v1.4M873.7 828.1v1.4M887.1 632.6v2.8M900.4 646.6v1.4M900.4 890.9v2.8M913.8 642.4v1.4M927.2 748.5v1.4"/><path stroke="#3048f0" d="M766.7 809.9v2.8M967.3 868.6v2.8"/><path stroke="#f03830" d="M780.1 523.7v2.8M780.1 594.9v2.8M806.8 611.7v1.4"/><path stroke="#b8d0f8" d="M780.1 527.9v1.4M793.4 551.6v2.8M806.8 572.6v2.8M820.2 776.4v1.4M913.8 694.0v1.4M953.9 675.9v1.4M953.9 858.8v2.8"/><path stroke="#b8c8f8" d="M780.1 529.3v1.4M780.1 709.4v1.4M820.2 738.7v2.8M846.9 558.6v1.4M873.7 717.8v1.4M887.1 505.5v1.4M887.1 562.8v1.4M927.2 564.2v2.8M940.6 558.6v1.4M953.9 639.6v1.4"/><path stroke="#f04838" d="M780.1 639.6v7.0"/><path stroke="#f01010" d="M780.1 656.3v4.2M793.4 604.7v4.2M887.1 825.3v2.8"/><path stroke="#f89878" d="M780.1 660.5v2.8M793.4 525.1v2.8M793.4 854.6v2.8M860.3 608.9v2.8M900.4 870.0v8.4M940.6 525.1v2.8M953.9 525.1v2.8"/><path stroke="#e8e8ff" d="M780.1 738.7v1.4M806.8 803.0v1.4M820.2 543.2v1.4M833.6 513.9v1.4M846.9 544.6v1.4M860.3 784.8v2.8M887.1 508.3v1.4M887.1 860.2v1.4M900.4 867.2v1.4M913.8 515.3v1.4M913.8 572.6v1.4M913.8 830.9v2.8M927.2 836.5v1.4M927.2 882.6v1.4M953.9 543.2v1.4M953.9 698.2v1.4M953.9 822.5v1.4M967.3 547.4v1.4M967.3 569.8v1.4M967.3 648.0v1.4M967.3 769.5v1.4M967.3 843.5v1.4M967.3 872.8v2.8M967.3 877.0v1.4"/><path stroke="#98b0f8" d="M780.1 787.6v1.4M820.2 773.6v1.4M887.1 558.6v1.4M900.4 705.2v1.4M913.8 708.0v2.8M927.2 522.3v1.4M953.9 560.0v1.4M953.9 674.5v1.4M967.3 561.4v1.4"/><path stroke="#d8e0f8" d="M780.1 804.4v1.4M793.4 567.0v1.4M793.4 794.6v1.4M860.3 571.2v1.4M860.3 717.8v1.4M873.7 561.4v1.4M913.8 713.6v1.4M927.2 543.2v1.4M940.6 701.0v1.4M940.6 868.6v1.4M953.9 671.7v1.4M953.9 730.4v1.4M953.9 878.4v2.8"/><path stroke="#0000a8" d="M780.1 861.6v5.6M860.3 708.0v1.4"/><path stroke="#6088f8" d="M780.1 882.6v5.6M820.2 765.3v4.2M833.6 620.0v4.2M860.3 611.7v1.4M873.7 782.0v1.4M900.4 557.2v4.2M900.4 756.9v5.6M927.2 554.4v1.4M927.2 830.9v2.8M967.3 844.9v5.6"/><path stroke="#d0d8f8" d="M793.4 550.2v1.4M846.9 540.4v1.4M846.9 567.0v2.8M860.3 701.0v1.4M860.3 703.8v1.4M860.3 716.4v1.4M873.7 722.0v1.4M887.1 553.0v2.8M900.4 551.6v1.4M900.4 702.4v1.4M913.8 506.9v1.4M913.8 692.6v1.4M940.6 553.0v1.4M940.6 555.8v1.4M940.6 564.2v1.4M940.6 624.2v1.4M953.9 661.9v1.4"/><path stroke="#f05848" d="M793.4 597.7v2.8M820.2 770.8v1.4M873.7 754.1v2.8M900.4 823.9v2.8"/><path stroke="#f8b090" d="M793.4 639.6v2.8M833.6 587.9v1.4M833.6 632.6v2.8M833.6 710.8v5.6M846.9 525.1v2.8M887.1 639.6v1.4M887.1 888.1v8.4"/><path stroke="#0810f0" d="M793.4 791.8v1.4"/><path stroke="#2838f0" d="M793.4 797.4v1.4M860.3 617.2v9.8"/><path stroke="#f8b098" d="M793.4 798.8v1.4"/><path stroke="#ffe0d0" d="M793.4 801.6v1.4M860.3 646.6v1.4M860.3 729.0v2.8M860.3 759.7v1.4M927.2 587.9v2.8M927.2 677.3v1.4M927.2 749.9v2.8M940.6 675.9v2.8M967.3 548.8v2.8"/><path stroke="#a8c0f8" d="M806.8 515.3v2.8M873.7 574.0v2.8M887.1 797.4v2.8M900.4 555.8v1.4M940.6 639.6v1.4M940.6 688.5v2.8M953.9 529.3v2.8M953.9 561.4v1.4M953.9 673.1v1.4M953.9 740.1v2.8M967.3 560.0v1.4M967.3 564.2v1.4"/><path stroke="#ffd0b8" d="M806.8 525.1v2.8M887.1 648.0v1.4M913.8 749.9v2.8"/><path stroke="#c0d8f8" d="M806.8 548.8v1.4"/><path stroke="#b0c0f8" d="M806.8 550.2v1.4M873.7 719.2v1.4M900.4 731.7v1.4M940.6 706.6v1.4M953.9 558.6v1.4M953.9 636.8v1.4M967.3 680.1v1.4"/><path stroke="#a0b8f8" d="M806.8 583.7v2.8M820.2 527.9v5.6M820.2 572.6v2.8M887.1 557.2v1.4M887.1 709.4v1.4M953.9 706.6v1.4"/><path stroke="#000040" d="M806.8 624.2v1.4M900.4 664.7v1.4"/><path stroke="#6888f8" d="M820.2 508.3v1.4M940.6 654.9v1.4"/><path stroke="#ffd8c0" d="M820.2 525.1v2.8M833.6 525.1v2.8M873.7 526.5v2.8M900.4 523.7v1.4M900.4 541.8v1.4M940.6 599.1v1.4"/><path stroke="#0008f0" d="M820.2 622.8v2.8M873.7 530.7v2.8M873.7 621.4v2.8M900.4 565.6v4.2M927.2 568.4v4.2M953.9 579.5v5.6"/><path stroke="#a8b8f8" d="M820.2 775.0v1.4"/><path stroke="#7090f8" d="M820.2 790.4v1.4M913.8 741.5v2.8"/><path stroke="#f8b8a0" d="M833.6 716.4v1.4M900.4 652.2v2.8M940.6 783.4v1.4"/><path stroke="#ffe0c8" d="M846.9 518.1v2.8M846.9 656.3v2.8M873.7 629.8v2.8M873.7 751.3v1.4M873.7 835.1v1.4M927.2 539.0v2.8"/><path stroke="#4868f0" d="M846.9 620.0v4.2M887.1 565.6v2.8M887.1 762.5v5.6"/><path stroke="#80a0f8" d="M846.9 791.8v2.8M860.3 513.9v1.4M860.3 537.6v5.6M860.3 706.6v1.4M900.4 561.4v1.4M967.3 587.9v5.6"/><path stroke="#7898f8" d="M860.3 505.5v1.4M860.3 532.1v1.4M953.9 668.9v1.4M967.3 656.3v1.4"/><path stroke="#f8c0a8" d="M860.3 526.5v2.8M927.2 674.5v1.4"/><path stroke="#90b0f8" d="M860.3 558.6v1.4"/><path stroke="#ffe0d8" d="M860.3 648.0v1.4M873.7 708.0v2.8M873.7 741.5v1.4M887.1 645.2v1.4"/><path stroke="#b80808" d="M873.7 706.6v1.4"/><path stroke="#f8c0a0" d="M873.7 745.7v2.8"/><path stroke="#f02820" d="M873.7 772.2v4.2"/><path stroke="#a00000" d="M873.7 832.3v1.4M967.3 525.1v2.8"/><path stroke="#f8a080" d="M887.1 526.5v2.8"/><path stroke="#b0c8f8" d="M887.1 561.4v1.4M940.6 560.0v1.4M953.9 518.1v1.4M953.9 615.8v1.4M953.9 638.2v1.4M953.9 641.0v1.4M953.9 670.3v1.4M953.9 709.4v1.4"/><path stroke="#f8c8b8" d="M887.1 649.4v1.4"/><path stroke="#f8c8b0" d="M887.1 653.6v1.4"/><path stroke="#f04840" d="M887.1 751.3v1.4"/><path stroke="#90a8f8" d="M900.4 562.8v1.4M900.4 727.6v1.4M953.9 667.5v1.4M967.3 562.8v1.4"/><path stroke="#f88868" d="M913.8 525.1v2.8"/><path stroke="#0008e0" d="M913.8 565.6v7.0"/><path stroke="#1020f0" d="M927.2 506.9v1.4M927.2 638.2v2.8"/><path stroke="#2030f0" d="M927.2 560.0v1.4"/><path stroke="#000088" d="M927.2 572.6v2.8"/><path stroke="#f8d0b8" d="M927.2 678.7v1.4"/><path stroke="#f8b898" d="M927.2 706.6v2.8"/><path stroke="#88a8f8" d="M953.9 708.0v1.4"/><path stroke="#8098f8" d="M967.3 546.0v1.4"/><path stroke="#f01818" d="M967.3 565.6v2.8"/><path stroke="#88a0f8" d="M967.3 654.9v1.4"/></g></g>
<g id="pl"><rect x="984.7" y="479" width="214" height="427.3" fill="#fff"/><g fill="none" stroke-width="13.72" shape-rendering="crispEdges"><path stroke="#ffffe8" d="M991.3 502.7v1.4M991.3 511.1v4.2M991.3 529.3v1.4M991.3 617.2v1.4M991.3 685.7v1.4M991.3 726.2v1.4M991.3 730.4v1.4M991.3 759.7v1.4M991.3 793.2v1.4M1004.7 532.1v1.4M1004.7 543.2v1.4M1004.7 695.4v4.2M1004.7 782.0v1.4M1004.7 796.0v1.4M1004.7 837.9v1.4M1004.7 878.4v1.4M1018.0 632.6v1.4M1018.0 635.4v1.4M1018.0 709.4v1.4M1018.0 724.8v1.4M1018.0 832.3v1.4M1018.0 884.0v1.4M1018.0 888.1v1.4M1018.0 900.7v1.4M1031.4 565.6v1.4M1031.4 571.2v2.8M1031.4 596.3v1.4M1031.4 607.5v1.4M1031.4 678.7v1.4M1031.4 742.9v1.4M1031.4 745.7v2.8M1031.4 811.3v1.4M1031.4 814.1v1.4M1031.4 847.7v2.8M1031.4 874.2v1.4M1031.4 902.1v1.4M1044.8 674.5v1.4M1044.8 819.7v4.2M1058.2 513.9v1.4M1058.2 554.4v1.4M1058.2 562.8v1.4M1058.2 568.4v1.4M1058.2 579.5v1.4M1058.2 759.7v1.4M1058.2 828.1v1.4M1071.5 511.1v1.4M1071.5 553.0v1.4M1071.5 641.0v1.4M1071.5 803.0v1.4M1071.5 821.1v1.4M1084.9 569.8v2.8M1084.9 766.7v1.4M1084.9 791.8v1.4M1084.9 798.8v1.4M1098.3 569.8v1.4M1098.3 625.6v1.4M1098.3 763.9v1.4M1098.3 860.2v1.4M1111.7 508.3v1.4M1111.7 716.4v1.4M1111.7 729.0v1.4M1111.7 761.1v1.4M1111.7 789.0v1.4M1125.0 511.1v1.4M1125.0 579.5v2.8M1125.0 586.5v2.8M1125.0 720.6v1.4M1125.0 735.9v1.4M1138.4 684.3v2.8M1138.4 717.8v1.4M1138.4 723.4v1.4M1151.8 576.7v2.8M1151.8 585.1v1.4M1151.8 685.7v2.8M1151.8 698.2v1.4M1151.8 723.4v1.4M1151.8 733.1v1.4M1165.2 657.7v2.8M1165.2 775.0v1.4M1165.2 789.0v2.8M1165.2 807.2v2.8M1165.2 853.2v1.4M1165.2 865.8v1.4M1178.5 512.5v1.4M1178.5 534.9v1.4M1178.5 547.4v1.4M1178.5 600.5v1.4M1178.5 657.7v1.4M1178.5 734.5v1.4M1178.5 738.7v1.4M1178.5 881.2v1.4M1191.9 567.0v1.4M1191.9 572.6v1.4M1191.9 657.7v1.4M1191.9 735.9v1.4M1191.9 798.8v1.4M1191.9 870.0v1.4"/><path stroke="#fffff0" d="M991.3 504.1v1.4M991.3 509.7v1.4M1004.7 506.9v1.4M1018.0 502.7v2.8M1018.0 509.7v2.8M1018.0 513.9v1.4M1031.4 502.7v2.8M1031.4 513.9v1.4M1044.8 506.9v1.4M1058.2 506.9v4.2M1058.2 512.5v1.4M1071.5 506.9v4.2M1084.9 505.5v1.4M1084.9 508.3v7.0M1098.3 506.9v1.4M1111.7 505.5v1.4M1111.7 509.7v2.8M1111.7 513.9v1.4M1125.0 509.7v1.4M1151.8 508.3v1.4M1178.5 502.7v1.4M1178.5 511.1v1.4"/><path stroke="#ffffe0" d="M991.3 515.3v1.4M991.3 518.1v1.4M991.3 618.6v1.4M991.3 642.4v1.4M991.3 645.2v2.8M991.3 652.2v1.4M991.3 684.3v1.4M991.3 727.6v2.8M991.3 751.3v1.4M991.3 766.7v2.8M991.3 773.6v4.2M991.3 798.8v2.8M991.3 811.3v1.4M991.3 815.5v1.4M991.3 839.3v1.4M991.3 851.8v4.2M991.3 861.6v1.4M991.3 896.5v1.4M991.3 900.7v5.6M1004.7 533.5v1.4M1004.7 593.5v1.4M1004.7 654.9v4.2M1004.7 682.9v2.8M1004.7 724.8v5.6M1004.7 731.7v1.4M1004.7 759.7v5.6M1004.7 768.1v1.4M1004.7 770.8v1.4M1004.7 786.2v2.8M1004.7 791.8v1.4M1004.7 797.4v1.4M1004.7 807.2v1.4M1004.7 809.9v1.4M1004.7 812.7v2.8M1004.7 839.3v7.0M1004.7 867.2v1.4M1004.7 881.2v1.4M1004.7 900.7v1.4M1018.0 527.9v1.4M1018.0 546.0v2.8M1018.0 564.2v2.8M1018.0 578.1v1.4M1018.0 606.1v1.4M1018.0 618.6v1.4M1018.0 622.8v1.4M1018.0 634.0v1.4M1018.0 657.7v1.4M1018.0 663.3v2.8M1018.0 671.7v1.4M1018.0 708.0v1.4M1018.0 726.2v1.4M1018.0 759.7v1.4M1018.0 766.7v1.4M1018.0 769.5v2.8M1018.0 833.7v2.8M1018.0 840.7v4.2M1018.0 871.4v1.4M1018.0 875.6v1.4M1018.0 885.4v2.8M1018.0 889.5v1.4M1018.0 895.1v4.2M1018.0 903.5v1.4M1031.4 518.1v2.8M1031.4 562.8v1.4M1031.4 567.0v4.2M1031.4 608.9v1.4M1031.4 613.1v1.4M1031.4 621.4v1.4M1031.4 627.0v1.4M1031.4 687.1v1.4M1031.4 695.4v1.4M1031.4 727.6v1.4M1031.4 731.7v1.4M1031.4 738.7v1.4M1031.4 741.5v1.4M1031.4 748.5v1.4M1031.4 768.1v1.4M1031.4 772.2v5.6M1031.4 783.4v1.4M1031.4 867.2v1.4M1044.8 544.6v1.4M1044.8 589.3v1.4M1044.8 604.7v1.4M1044.8 615.8v1.4M1044.8 621.4v2.8M1044.8 625.6v1.4M1044.8 638.2v1.4M1044.8 642.4v1.4M1044.8 653.6v1.4M1044.8 677.3v1.4M1044.8 708.0v1.4M1044.8 738.7v1.4M1044.8 749.9v1.4M1044.8 756.9v2.8M1044.8 761.1v1.4M1044.8 794.6v1.4M1044.8 797.4v2.8M1044.8 803.0v1.4M1044.8 828.1v1.4M1058.2 523.7v1.4M1058.2 555.8v1.4M1058.2 560.0v1.4M1058.2 564.2v1.4M1058.2 567.0v1.4M1058.2 578.1v1.4M1058.2 583.7v2.8M1058.2 596.3v1.4M1058.2 631.2v1.4M1058.2 642.4v1.4M1058.2 670.3v4.2M1058.2 789.0v8.4M1058.2 833.7v2.8M1071.5 512.5v1.4M1071.5 560.0v1.4M1071.5 590.7v1.4M1071.5 593.5v1.4M1071.5 597.7v2.8M1071.5 620.0v1.4M1071.5 667.5v1.4M1071.5 689.9v1.4M1071.5 722.0v5.6M1071.5 766.7v4.2M1071.5 797.4v1.4M1071.5 801.6v1.4M1071.5 804.4v4.2M1071.5 818.3v1.4M1084.9 519.5v1.4M1084.9 546.0v1.4M1084.9 572.6v1.4M1084.9 594.9v1.4M1084.9 643.8v1.4M1084.9 741.5v1.4M1084.9 763.9v2.8M1084.9 783.4v1.4M1084.9 790.4v1.4M1084.9 793.2v1.4M1084.9 797.4v1.4M1084.9 809.9v2.8M1084.9 896.5v1.4M1098.3 548.8v1.4M1098.3 572.6v1.4M1098.3 583.7v1.4M1098.3 587.9v2.8M1098.3 603.3v1.4M1098.3 608.9v1.4M1098.3 777.8v4.2M1098.3 787.6v1.4M1098.3 897.9v2.8M1111.7 529.3v1.4M1111.7 593.5v1.4M1111.7 607.5v1.4M1111.7 701.0v1.4M1111.7 723.4v1.4M1111.7 779.2v2.8M1111.7 791.8v1.4M1111.7 798.8v1.4M1111.7 818.3v1.4M1111.7 874.2v1.4M1111.7 893.7v2.8M1125.0 512.5v1.4M1125.0 583.7v1.4M1125.0 600.5v1.4M1125.0 603.3v1.4M1125.0 668.9v1.4M1125.0 696.8v1.4M1125.0 705.2v1.4M1125.0 727.6v1.4M1125.0 730.4v1.4M1125.0 870.0v1.4M1125.0 889.5v2.8M1138.4 554.4v1.4M1138.4 574.0v1.4M1138.4 576.7v1.4M1138.4 585.1v1.4M1138.4 597.7v1.4M1138.4 687.1v1.4M1138.4 691.3v1.4M1138.4 705.2v1.4M1138.4 724.8v2.8M1138.4 801.6v2.8M1151.8 536.3v1.4M1151.8 540.4v5.6M1151.8 562.8v1.4M1151.8 574.0v1.4M1151.8 586.5v1.4M1151.8 699.6v1.4M1151.8 702.4v4.2M1151.8 713.6v1.4M1151.8 717.8v1.4M1151.8 758.3v2.8M1165.2 516.7v1.4M1165.2 554.4v1.4M1165.2 564.2v1.4M1165.2 578.1v1.4M1165.2 635.4v2.8M1165.2 671.7v1.4M1165.2 726.2v1.4M1165.2 878.4v1.4M1178.5 513.9v1.4M1178.5 533.5v1.4M1178.5 548.8v1.4M1178.5 580.9v1.4M1178.5 659.1v2.8M1178.5 667.5v1.4M1178.5 729.0v2.8M1178.5 740.1v4.2M1178.5 815.5v1.4M1178.5 822.5v1.4M1178.5 842.1v1.4M1191.9 532.1v1.4M1191.9 554.4v1.4M1191.9 571.2v1.4M1191.9 578.1v1.4M1191.9 617.2v1.4M1191.9 666.1v1.4M1191.9 729.0v7.0M1191.9 868.6v1.4"/><path stroke="#ffffd8" d="M991.3 519.5v1.4M991.3 547.4v1.4M991.3 606.1v2.8M991.3 643.8v1.4M991.3 656.3v1.4M991.3 668.9v1.4M991.3 689.9v1.4M991.3 755.5v1.4M991.3 769.5v1.4M991.3 814.1v1.4M991.3 856.0v2.8M991.3 863.0v1.4M991.3 865.8v1.4M991.3 897.9v2.8M1004.7 520.9v2.8M1004.7 607.5v1.4M1004.7 627.0v1.4M1004.7 674.5v1.4M1004.7 681.5v1.4M1004.7 730.4v1.4M1004.7 745.7v1.4M1004.7 769.5v1.4M1004.7 789.0v2.8M1004.7 798.8v2.8M1004.7 808.6v1.4M1004.7 811.3v1.4M1004.7 846.3v1.4M1004.7 849.0v1.4M1004.7 854.6v1.4M1004.7 868.6v2.8M1004.7 877.0v1.4M1004.7 879.8v1.4M1004.7 893.7v7.0M1018.0 583.7v1.4M1018.0 597.7v1.4M1018.0 615.8v1.4M1018.0 694.0v1.4M1018.0 703.8v4.2M1018.0 787.6v2.8M1018.0 811.3v1.4M1018.0 874.2v1.4M1018.0 890.9v4.2M1031.4 515.3v2.8M1031.4 580.9v2.8M1031.4 587.9v1.4M1031.4 610.3v2.8M1031.4 618.6v1.4M1031.4 652.2v1.4M1031.4 740.1v1.4M1031.4 766.7v1.4M1031.4 769.5v2.8M1031.4 777.8v1.4M1031.4 805.8v2.8M1031.4 812.7v1.4M1031.4 854.6v2.8M1044.8 601.9v1.4M1044.8 606.1v2.8M1044.8 613.1v2.8M1044.8 624.2v1.4M1044.8 636.8v1.4M1044.8 811.3v1.4M1044.8 826.7v1.4M1058.2 553.0v1.4M1058.2 565.6v1.4M1058.2 614.5v2.8M1058.2 648.0v2.8M1058.2 735.9v1.4M1058.2 761.1v1.4M1058.2 768.1v1.4M1058.2 825.3v2.8M1071.5 551.6v1.4M1071.5 572.6v1.4M1071.5 578.1v1.4M1071.5 621.4v1.4M1071.5 706.6v2.8M1071.5 733.1v2.8M1071.5 770.8v1.4M1071.5 776.4v1.4M1071.5 796.0v1.4M1071.5 875.6v1.4M1084.9 742.9v1.4M1084.9 789.0v1.4M1084.9 794.6v2.8M1084.9 805.8v4.2M1098.3 547.4v1.4M1098.3 604.7v1.4M1098.3 654.9v2.8M1098.3 729.0v2.8M1098.3 775.0v1.4M1111.7 525.1v1.4M1111.7 533.5v1.4M1111.7 572.6v1.4M1111.7 625.6v1.4M1111.7 724.8v4.2M1125.0 513.9v1.4M1125.0 522.3v2.8M1125.0 571.2v2.8M1125.0 576.7v1.4M1125.0 585.1v1.4M1138.4 661.9v1.4M1138.4 828.1v1.4M1151.8 522.3v1.4M1151.8 532.1v1.4M1151.8 701.0v1.4M1151.8 706.6v1.4M1151.8 712.2v1.4M1151.8 719.2v4.2M1165.2 673.1v4.2M1165.2 696.8v1.4M1165.2 723.4v2.8M1178.5 558.6v1.4M1178.5 585.1v1.4M1178.5 661.9v1.4M1178.5 666.1v1.4M1178.5 668.9v1.4M1178.5 733.1v1.4M1191.9 533.5v1.4M1191.9 562.8v1.4M1191.9 568.4v1.4M1191.9 667.5v1.4M1191.9 717.8v2.8M1191.9 722.0v1.4M1191.9 724.8v1.4M1191.9 727.6v1.4M1191.9 881.2v1.4"/><path stroke="#ffffa8" d="M991.3 520.9v1.4M1004.7 632.6v1.4M1018.0 649.4v1.4M1018.0 793.2v2.8M1031.4 624.2v1.4M1031.4 752.7v2.8M1044.8 567.0v2.8M1058.2 515.3v1.4M1058.2 518.1v1.4M1071.5 522.3v1.4M1151.8 872.8v1.4M1165.2 710.8v1.4M1178.5 684.3v1.4M1191.9 550.2v1.4M1191.9 694.0v1.4M1191.9 696.8v1.4M1191.9 705.2v1.4"/><path stroke="#ffff98" d="M991.3 523.7v1.4M991.3 537.6v1.4M991.3 582.3v1.4M991.3 632.6v2.8M991.3 673.1v1.4M991.3 784.8v1.4M1004.7 567.0v1.4M1004.7 634.0v2.8M1004.7 687.1v2.8M1004.7 692.6v2.8M1018.0 537.6v1.4M1018.0 643.8v1.4M1031.4 575.4v1.4M1031.4 586.5v1.4M1031.4 790.4v1.4M1044.8 555.8v1.4M1044.8 578.1v2.8M1071.5 575.4v1.4M1084.9 530.7v1.4M1125.0 519.5v1.4M1138.4 515.3v1.4M1138.4 562.8v1.4M1165.2 547.4v1.4M1191.9 587.9v1.4M1191.9 688.5v1.4M1191.9 703.8v1.4"/><path stroke="#ffff78" d="M991.3 525.1v1.4M991.3 544.6v1.4M991.3 601.9v1.4M991.3 682.9v1.4M991.3 762.5v1.4M1004.7 554.4v1.4M1004.7 592.1v1.4M1004.7 600.5v2.8M1018.0 548.8v1.4M1018.0 576.7v1.4M1031.4 592.1v1.4M1044.8 731.7v2.8M1058.2 532.1v1.4M1111.7 558.6v1.4M1138.4 731.7v1.4M1151.8 527.9v2.8M1151.8 546.0v1.4M1165.2 522.3v1.4M1165.2 558.6v1.4M1165.2 713.6v2.8M1178.5 550.2v1.4"/><path stroke="#ffff70" d="M991.3 527.9v1.4M991.3 550.2v1.4M1004.7 572.6v1.4M1018.0 560.0v1.4M1018.0 568.4v1.4M1031.4 525.1v1.4M1031.4 585.1v1.4M1058.2 666.1v2.8M1071.5 523.7v1.4M1138.4 525.1v1.4M1138.4 565.6v1.4"/><path stroke="#ffffc8" d="M991.3 532.1v1.4M991.3 546.0v1.4M991.3 604.7v1.4M991.3 691.3v1.4M991.3 694.0v1.4M1004.7 569.8v1.4M1004.7 673.1v1.4M1004.7 744.3v1.4M1004.7 857.4v1.4M1018.0 585.1v2.8M1018.0 608.9v1.4M1018.0 614.5v1.4M1018.0 650.8v1.4M1018.0 661.9v1.4M1018.0 668.9v1.4M1018.0 673.1v1.4M1018.0 779.2v2.8M1031.4 628.4v2.8M1031.4 682.9v1.4M1031.4 797.4v1.4M1031.4 801.6v2.8M1044.8 520.9v1.4M1044.8 593.5v1.4M1044.8 671.7v1.4M1044.8 808.6v2.8M1044.8 823.9v1.4M1058.2 575.4v1.4M1058.2 752.7v1.4M1058.2 756.9v2.8M1058.2 763.9v2.8M1071.5 504.1v2.8M1071.5 576.7v1.4M1071.5 791.8v1.4M1084.9 547.4v1.4M1084.9 564.2v1.4M1084.9 608.9v2.8M1098.3 550.2v1.4M1098.3 582.3v1.4M1098.3 592.1v1.4M1098.3 611.7v1.4M1098.3 796.0v2.8M1098.3 821.1v2.8M1125.0 515.3v1.4M1125.0 568.4v1.4M1125.0 638.2v2.8M1125.0 731.7v2.8M1125.0 847.7v2.8M1138.4 586.5v1.4M1138.4 804.4v1.4M1138.4 809.9v2.8M1151.8 710.8v1.4M1151.8 790.4v1.4M1165.2 518.1v1.4M1165.2 546.0v1.4M1165.2 561.4v1.4M1165.2 691.3v1.4M1165.2 695.4v1.4M1165.2 703.8v5.6M1165.2 720.6v1.4M1178.5 523.7v1.4M1178.5 565.6v1.4M1178.5 674.5v1.4M1178.5 689.9v1.4M1178.5 696.8v4.2M1191.9 544.6v1.4M1191.9 561.4v1.4M1191.9 569.8v1.4M1191.9 646.6v2.8M1191.9 668.9v1.4M1191.9 678.7v4.2M1191.9 708.0v4.2M1191.9 715.0v1.4"/><path stroke="#ffffd0" d="M991.3 539.0v1.4M991.3 567.0v1.4M991.3 608.9v1.4M991.3 649.4v1.4M991.3 670.3v1.4M991.3 754.1v1.4M991.3 770.8v2.8M991.3 812.7v1.4M991.3 864.4v1.4M991.3 867.2v1.4M1004.7 534.9v1.4M1004.7 568.4v1.4M1004.7 667.5v1.4M1004.7 742.9v1.4M1004.7 758.3v1.4M1004.7 777.8v1.4M1004.7 847.7v1.4M1004.7 871.4v5.6M1018.0 544.6v1.4M1018.0 593.5v1.4M1018.0 786.2v1.4M1018.0 790.4v1.4M1031.4 536.3v1.4M1031.4 553.0v1.4M1031.4 625.6v1.4M1031.4 632.6v2.8M1031.4 642.4v2.8M1031.4 729.0v2.8M1031.4 765.3v1.4M1031.4 782.0v1.4M1031.4 798.8v2.8M1031.4 804.4v1.4M1044.8 519.5v1.4M1044.8 522.3v1.4M1044.8 572.6v2.8M1044.8 580.9v1.4M1044.8 596.3v1.4M1044.8 600.5v1.4M1044.8 650.8v1.4M1044.8 657.7v1.4M1044.8 673.1v1.4M1044.8 678.7v2.8M1044.8 804.4v1.4M1044.8 825.3v1.4M1058.2 551.6v1.4M1058.2 557.2v2.8M1058.2 576.7v1.4M1058.2 580.9v1.4M1058.2 643.8v1.4M1058.2 762.5v1.4M1058.2 766.7v1.4M1058.2 797.4v1.4M1058.2 842.1v2.8M1071.5 513.9v1.4M1071.5 763.9v2.8M1071.5 772.2v4.2M1071.5 789.0v2.8M1071.5 793.2v2.8M1071.5 800.2v1.4M1098.3 568.4v1.4M1098.3 579.5v1.4M1098.3 610.3v1.4M1098.3 738.7v2.8M1111.7 518.1v1.4M1111.7 526.5v1.4M1111.7 534.9v1.4M1111.7 567.0v1.4M1125.0 569.8v1.4M1125.0 582.3v1.4M1138.4 587.9v1.4M1138.4 818.3v2.8M1151.8 533.5v2.8M1151.8 708.0v1.4M1151.8 734.5v2.8M1165.2 550.2v2.8M1165.2 576.7v1.4M1165.2 677.3v1.4M1165.2 698.2v5.6M1165.2 722.0v1.4M1165.2 864.4v1.4M1178.5 515.3v1.4M1178.5 520.9v1.4M1178.5 557.2v1.4M1178.5 582.3v1.4M1178.5 590.7v1.4M1178.5 663.3v2.8M1178.5 675.9v2.8M1178.5 731.7v1.4M1178.5 826.7v2.8M1191.9 534.9v1.4M1191.9 548.8v1.4M1191.9 555.8v1.4M1191.9 716.4v1.4M1191.9 720.6v1.4M1191.9 726.2v1.4"/><path stroke="#ffffb8" d="M991.3 541.8v1.4M991.3 631.2v1.4M991.3 671.7v1.4M1004.7 571.2v1.4M1018.0 660.5v1.4M1018.0 782.0v1.4M1018.0 784.8v1.4M1031.4 537.6v1.4M1031.4 635.4v1.4M1031.4 645.2v7.0M1031.4 784.8v4.2M1044.8 523.7v1.4M1044.8 594.9v1.4M1058.2 516.7v1.4M1058.2 798.8v1.4M1058.2 856.0v1.4M1071.5 579.5v1.4M1071.5 582.3v1.4M1084.9 532.1v1.4M1084.9 550.2v1.4M1084.9 582.3v1.4M1084.9 786.2v1.4M1111.7 574.0v1.4M1111.7 576.7v1.4M1151.8 523.7v1.4M1151.8 560.0v1.4M1165.2 709.4v1.4M1165.2 717.8v1.4M1178.5 685.7v1.4M1178.5 694.0v1.4M1178.5 715.0v1.4M1191.9 670.3v2.8M1191.9 706.6v1.4M1191.9 713.6v1.4"/><path stroke="#ffff88" d="M991.3 543.2v1.4M991.3 571.2v1.4M991.3 674.5v1.4M1004.7 562.8v1.4M1004.7 597.7v1.4M1004.7 631.2v1.4M1018.0 589.3v1.4M1018.0 600.5v1.4M1018.0 646.6v1.4M1031.4 520.9v1.4M1031.4 576.7v1.4M1031.4 594.9v1.4M1044.8 565.6v1.4M1044.8 569.8v1.4M1058.2 536.3v1.4M1071.5 580.9v1.4M1071.5 645.2v2.8M1084.9 562.8v1.4M1084.9 574.0v1.4M1138.4 532.1v1.4M1151.8 874.2v2.8M1165.2 532.1v1.4M1191.9 560.0v1.4M1191.9 701.0v1.4"/><path stroke="#ffffa0" d="M991.3 548.8v1.4M1004.7 539.0v2.8M1004.7 628.4v1.4M1018.0 592.1v1.4M1018.0 613.1v1.4M1018.0 624.2v1.4M1018.0 648.0v1.4M1031.4 794.6v1.4M1071.5 519.5v1.4M1111.7 575.4v1.4M1138.4 533.5v1.4M1151.8 572.6v1.4M1165.2 523.7v1.4M1165.2 557.2v1.4M1165.2 716.4v1.4M1178.5 522.3v1.4M1178.5 681.5v2.8M1191.9 536.3v1.4M1191.9 557.2v1.4M1191.9 687.1v1.4M1191.9 689.9v1.4"/><path stroke="#ffff68" d="M991.3 551.6v1.4M991.3 565.6v1.4M991.3 586.5v1.4M1004.7 553.0v1.4M1004.7 594.9v1.4M1004.7 629.8v1.4M1018.0 569.8v1.4M1018.0 601.9v1.4M1018.0 607.5v1.4M1044.8 525.1v1.4M1098.3 518.1v4.2M1098.3 561.4v2.8M1111.7 557.2v1.4M1125.0 800.2v1.4M1138.4 518.1v1.4M1138.4 527.9v1.4M1151.8 547.4v1.4M1165.2 530.7v1.4M1191.9 558.6v1.4"/><path stroke="#ffff60" d="M991.3 553.0v1.4M991.3 572.6v1.4M1018.0 533.5v1.4M1018.0 571.2v1.4M1018.0 603.3v1.4M1031.4 554.4v1.4M1044.8 586.5v1.4M1058.2 534.9v1.4M1058.2 543.2v1.4M1058.2 546.0v1.4M1071.5 518.1v1.4M1071.5 574.0v1.4M1084.9 553.0v1.4M1098.3 526.5v1.4M1138.4 523.7v1.4M1191.9 541.8v1.4"/><path stroke="#fff848" d="M991.3 554.4v1.4M1031.4 541.8v1.4M1125.0 555.8v1.4M1165.2 540.4v1.4"/><path stroke="#f8a828" d="M991.3 555.8v5.6M1044.8 548.8v4.2M1044.8 618.6v2.8M1071.5 526.5v4.2M1071.5 533.5v1.4M1071.5 554.4v5.6M1098.3 646.6v5.6M1111.7 506.9v1.4M1111.7 546.0v1.4M1111.7 578.1v4.2M1125.0 529.3v8.4M1125.0 761.1v2.8"/><path stroke="#d0c018" d="M991.3 561.4v1.4"/><path stroke="#f8f838" d="M991.3 562.8v1.4M1018.0 529.3v1.4M1031.4 558.6v1.4M1031.4 564.2v1.4M1044.8 536.3v1.4M1071.5 516.7v1.4M1071.5 571.2v1.4M1098.3 532.1v1.4M1125.0 562.8v1.4M1138.4 537.6v1.4M1165.2 529.3v1.4M1191.9 539.0v1.4"/><path stroke="#f8f830" d="M991.3 564.2v1.4M1004.7 548.8v1.4M1018.0 555.8v1.4M1018.0 575.4v1.4M1031.4 561.4v1.4M1044.8 562.8v1.4M1058.2 541.8v1.4M1071.5 525.1v1.4M1098.3 534.9v1.4M1125.0 560.0v1.4M1151.8 553.0v1.4M1151.8 557.2v1.4M1165.2 534.9v1.4"/><path stroke="#ffff50" d="M991.3 574.0v1.4M1004.7 583.7v1.4M1018.0 553.0v1.4M1018.0 604.7v1.4M1018.0 674.5v2.8M1058.2 539.0v1.4M1058.2 547.4v1.4M1071.5 515.3v1.4M1098.3 522.3v1.4M1098.3 525.1v1.4M1125.0 527.9v1.4M1138.4 520.9v1.4M1151.8 548.8v1.4M1151.8 558.6v1.4M1165.2 553.0v1.4M1191.9 540.4v1.4"/><path stroke="#ffff58" d="M991.3 575.4v1.4M991.3 585.1v1.4M991.3 844.9v1.4M1004.7 550.2v1.4M1004.7 564.2v1.4M1004.7 574.0v1.4M1004.7 603.3v2.8M1018.0 557.2v1.4M1058.2 533.5v1.4M1058.2 544.6v1.4M1125.0 520.9v1.4M1125.0 564.2v1.4M1138.4 519.5v1.4M1138.4 522.3v1.4M1138.4 530.7v1.4M1138.4 561.4v1.4M1151.8 530.7v1.4M1151.8 571.2v1.4M1191.9 537.6v1.4"/><path stroke="#ffff80" d="M991.3 576.7v2.8M991.3 583.7v1.4M1004.7 551.6v1.4M1018.0 695.4v2.8M1031.4 578.1v2.8M1031.4 583.7v1.4M1031.4 593.5v1.4M1138.4 526.5v1.4M1138.4 534.9v1.4M1151.8 569.8v1.4M1191.9 543.2v1.4M1191.9 699.6v1.4"/><path stroke="#ffffb0" d="M991.3 579.5v2.8M991.3 657.7v1.4M1004.7 544.6v1.4M1004.7 606.1v1.4M1018.0 567.0v1.4M1018.0 667.5v1.4M1018.0 783.4v1.4M1031.4 590.7v1.4M1031.4 622.8v1.4M1031.4 789.0v1.4M1044.8 571.2v1.4M1044.8 706.6v1.4M1044.8 796.0v1.4M1058.2 519.5v2.8M1084.9 520.9v1.4M1098.3 516.7v1.4M1098.3 567.0v1.4M1098.3 575.4v1.4M1098.3 613.1v2.8M1125.0 578.1v1.4M1138.4 572.6v1.4M1151.8 715.0v2.8M1151.8 811.3v1.4M1165.2 575.4v1.4M1165.2 712.2v1.4M1178.5 680.1v1.4M1178.5 692.6v1.4M1191.9 691.3v2.8"/><path stroke="#ffff90" d="M991.3 600.5v1.4M991.3 603.3v1.4M1004.7 596.3v1.4M1004.7 599.1v1.4M1018.0 645.2v1.4M1031.4 543.2v1.4M1031.4 791.8v2.8M1044.8 576.7v1.4M1044.8 587.9v1.4M1044.8 724.8v2.8M1058.2 530.7v1.4M1084.9 554.4v1.4M1098.3 551.6v1.4M1138.4 516.7v1.4M1138.4 564.2v1.4M1165.2 520.9v1.4M1165.2 555.8v1.4M1165.2 560.0v1.4M1191.9 698.2v1.4M1191.9 702.4v1.4"/><path stroke="#ffffc0" d="M991.3 610.3v2.8M991.3 660.5v1.4M1004.7 636.8v1.4M1004.7 850.4v2.8M1004.7 858.8v1.4M1018.0 659.1v1.4M1018.0 666.1v1.4M1018.0 688.5v1.4M1031.4 529.3v2.8M1031.4 684.3v2.8M1031.4 763.9v1.4M1031.4 796.0v1.4M1044.8 575.4v1.4M1044.8 800.2v1.4M1044.8 805.8v2.8M1058.2 688.5v2.8M1071.5 568.4v1.4M1098.3 574.0v1.4M1098.3 580.9v1.4M1111.7 565.6v1.4M1151.8 622.8v2.8M1151.8 709.4v1.4M1165.2 519.5v1.4M1165.2 541.8v1.4M1165.2 694.0v1.4M1178.5 678.7v1.4M1178.5 695.4v1.4M1191.9 682.9v1.4M1191.9 712.2v1.4"/><path stroke="#fffff8" d="M1004.7 502.7v2.8M1004.7 511.1v1.4M1058.2 502.7v1.4M1084.9 506.9v1.4"/><path stroke="#d8b818" d="M1004.7 525.1v2.8M1004.7 659.1v7.0M1018.0 610.3v2.8M1044.8 547.4v1.4M1098.3 576.7v2.8M1138.4 546.0v5.6M1138.4 567.0v4.2M1138.4 758.3v2.8"/><path stroke="#f8f840" d="M1004.7 546.0v1.4M1004.7 575.4v1.4M1004.7 716.4v2.8M1031.4 522.3v2.8M1031.4 539.0v1.4M1031.4 560.0v1.4M1044.8 534.9v1.4M1044.8 648.0v2.8M1058.2 548.8v1.4M1084.9 561.4v1.4M1098.3 533.5v1.4M1111.7 527.9v1.4M1138.4 536.3v1.4M1138.4 539.0v1.4"/><path stroke="#f0e820" d="M1004.7 547.4v1.4M1018.0 539.0v1.4M1031.4 555.8v2.8M1058.2 550.2v1.4M1084.9 551.6v1.4M1125.0 547.4v1.4M1165.2 539.0v1.4"/><path stroke="#c8c010" d="M1004.7 555.8v7.0M1004.7 579.5v2.8M1071.5 536.3v9.8M1084.9 558.6v2.8M1084.9 576.7v5.6M1084.9 645.2v5.6M1098.3 712.2v1.4M1098.3 902.1v4.2M1125.0 537.6v9.8M1125.0 641.0v5.6M1125.0 892.3v7.0M1151.8 525.1v2.8M1165.2 505.5v2.8"/><path stroke="#ff7810" d="M1004.7 565.6v1.4M1031.4 550.2v2.8M1098.3 536.3v11.2"/><path stroke="#f8f028" d="M1004.7 576.7v2.8M1018.0 530.7v2.8M1018.0 558.6v1.4M1018.0 574.0v1.4M1044.8 526.5v4.2M1058.2 525.1v1.4M1125.0 526.5v1.4M1125.0 561.4v1.4M1151.8 550.2v1.4M1165.2 525.1v4.2"/><path stroke="#e0e018" d="M1004.7 582.3v1.4"/><path stroke="#ff5810" d="M1004.7 642.4v2.8M1111.7 548.8v8.4M1151.8 565.6v4.2"/><path stroke="#f8a020" d="M1004.7 648.0v5.6M1071.5 546.0v1.4M1111.7 766.7v2.8M1165.2 569.8v5.6M1178.5 575.4v4.2M1191.9 579.5v4.2"/><path stroke="#d01020" d="M1018.0 525.1v2.8"/><path stroke="#e0b820" d="M1018.0 540.4v1.4M1058.2 537.6v1.4M1071.5 532.1v1.4M1111.7 543.2v1.4"/><path stroke="#e8b020" d="M1018.0 541.8v1.4M1098.3 555.8v1.4"/><path stroke="#c8c018" d="M1018.0 543.2v1.4M1111.7 544.6v1.4"/><path stroke="#ff9020" d="M1018.0 550.2v2.8M1031.4 526.5v2.8M1058.2 527.9v2.8M1125.0 565.6v2.8"/><path stroke="#f8f020" d="M1018.0 554.4v1.4M1031.4 540.4v1.4M1044.8 537.6v1.4M1044.8 541.8v1.4M1058.2 540.4v1.4M1071.5 520.9v1.4M1098.3 553.0v1.4M1125.0 525.1v1.4M1151.8 551.6v1.4M1151.8 555.8v1.4"/><path stroke="#b00028" d="M1018.0 561.4v2.8M1111.7 530.7v2.8"/><path stroke="#f8f848" d="M1018.0 572.6v1.4M1018.0 587.9v1.4M1031.4 713.6v2.8M1098.3 523.7v1.4M1125.0 558.6v1.4M1138.4 529.3v1.4M1138.4 544.6v1.4M1138.4 575.4v1.4M1165.2 548.8v1.4"/><path stroke="#f89820" d="M1018.0 639.6v2.8"/><path stroke="#fff850" d="M1031.4 546.0v1.4M1044.8 546.0v1.4M1044.8 564.2v1.4M1044.8 590.7v2.8M1098.3 527.9v1.4"/><path stroke="#e0d818" d="M1031.4 547.4v1.4M1044.8 540.4v1.4M1044.8 560.0v1.4M1044.8 597.7v2.8M1098.3 554.4v1.4M1178.5 551.6v2.8"/><path stroke="#e0b020" d="M1031.4 548.8v1.4"/><path stroke="#700048" d="M1031.4 631.2v1.4"/><path stroke="#f8f030" d="M1044.8 530.7v1.4M1044.8 557.2v1.4M1125.0 557.2v1.4M1151.8 554.4v1.4"/><path stroke="#e8e018" d="M1044.8 532.1v2.8M1044.8 539.0v1.4M1044.8 558.6v1.4M1044.8 561.4v1.4"/><path stroke="#e02018" d="M1044.8 543.2v1.4"/><path stroke="#d8d018" d="M1058.2 526.5v1.4M1071.5 550.2v1.4"/><path stroke="#f8a028" d="M1071.5 530.7v1.4M1098.3 564.2v2.8"/><path stroke="#ff7010" d="M1071.5 534.9v1.4"/><path stroke="#ff8018" d="M1071.5 547.4v1.4M1111.7 547.4v1.4M1138.4 541.8v2.8"/><path stroke="#f84810" d="M1071.5 567.0v1.4M1125.0 548.8v7.0M1138.4 555.8v5.6"/><path stroke="#e82810" d="M1084.9 527.9v2.8M1084.9 533.5v7.0"/><path stroke="#880038" d="M1084.9 540.4v5.6M1178.5 525.1v2.8"/><path stroke="#f84010" d="M1084.9 555.8v2.8"/><path stroke="#f84008" d="M1098.3 529.3v2.8M1098.3 557.2v4.2M1098.3 769.5v2.8M1111.7 536.3v4.2M1111.7 861.6v5.6M1125.0 886.8v2.8"/><path stroke="#d0c818" d="M1111.7 540.4v1.4M1111.7 645.2v4.2M1138.4 897.9v4.2"/><path stroke="#f0b020" d="M1111.7 541.8v1.4"/><path stroke="#f83008" d="M1111.7 560.0v2.8"/><path stroke="#300090" d="M1125.0 884.0v2.8"/><path stroke="#f0f020" d="M1138.4 540.4v1.4M1165.2 536.3v1.4"/><path stroke="#f0b028" d="M1165.2 533.5v1.4"/><path stroke="#e8e818" d="M1165.2 537.6v1.4"/><path stroke="#d8c818" d="M1165.2 543.2v2.8"/><path stroke="#a00030" d="M1191.9 526.5v4.2"/></g></g>
<g id="pm"><rect x="1207.7" y="477.3" width="217.2" height="430.7" fill="#000"/><g fill="none" stroke-width="13.72" shape-rendering="crispEdges"><path stroke="#ff78c8" d="M1215.9 519.5v1.4M1229.3 596.3v1.4M1229.3 646.6v4.2M1242.6 606.1v2.8M1322.9 762.5v7.0M1349.6 564.2v2.8"/><path stroke="#ffa0d8" d="M1215.9 523.7v1.4"/><path stroke="#880030" d="M1215.9 534.9v1.4M1242.6 540.4v4.2M1256.0 561.4v2.8M1256.0 830.9v2.8M1269.4 540.4v1.4M1269.4 607.5v1.4M1269.4 650.8v2.8M1269.4 763.9v1.4M1322.9 562.8v5.6M1322.9 688.5v2.8M1336.3 558.6v5.6M1363.0 585.1v1.4M1416.5 512.5v2.8"/><path stroke="#500018" d="M1215.9 536.3v1.4M1229.3 539.0v1.4M1229.3 631.2v5.6M1242.6 645.2v2.8M1256.0 632.6v1.4M1269.4 649.4v1.4M1296.1 574.0v2.8M1322.9 790.4v2.8M1363.0 539.0v5.6M1376.4 536.3v2.8"/><path stroke="#400010" d="M1215.9 550.2v2.8M1296.1 571.2v1.4M1309.5 554.4v4.2M1322.9 530.7v1.4M1349.6 504.1v2.8M1349.6 568.4v4.2M1349.6 780.6v2.8M1363.0 513.9v2.8M1363.0 574.0v5.6M1376.4 661.9v2.8M1416.5 870.0v2.8"/><path stroke="#d80860" d="M1215.9 553.0v8.4M1229.3 861.6v5.6M1242.6 599.1v4.2M1242.6 611.7v7.0M1269.4 622.8v4.2M1282.8 627.0v2.8M1309.5 530.7v9.8M1322.9 578.1v5.6M1336.3 551.6v5.6M1389.8 506.9v2.8M1389.8 547.4v5.6"/><path stroke="#380010" d="M1215.9 580.9v2.8M1229.3 756.9v1.4M1242.6 529.3v1.4M1256.0 843.5v1.4M1256.0 860.2v1.4M1309.5 586.5v1.4M1336.3 586.5v2.8M1389.8 646.6v2.8M1403.1 560.0v1.4M1416.5 554.4v5.6M1416.5 794.6v2.8M1416.5 807.2v1.4"/><path stroke="#700028" d="M1215.9 594.9v1.4M1215.9 756.9v2.8M1229.3 625.6v2.8M1242.6 561.4v1.4M1242.6 618.6v1.4M1242.6 635.4v2.8M1256.0 809.9v2.8M1256.0 879.8v2.8M1282.8 844.9v2.8M1309.5 540.4v1.4M1309.5 821.1v2.8M1349.6 579.5v4.2M1376.4 550.2v5.6"/><path stroke="#480018" d="M1215.9 601.9v2.8M1229.3 537.6v1.4M1269.4 519.5v1.4M1269.4 600.5v1.4M1269.4 823.9v1.4M1296.1 702.4v1.4M1296.1 835.1v1.4M1336.3 738.7v2.8M1376.4 539.0v1.4M1403.1 534.9v4.2"/><path stroke="#900038" d="M1215.9 608.9v4.2M1215.9 680.1v2.8M1242.6 744.3v2.8M1256.0 539.0v1.4M1282.8 529.3v5.6M1282.8 574.0v2.8M1296.1 505.5v1.4M1309.5 567.0v2.8M1322.9 520.9v1.4M1322.9 692.6v2.8M1322.9 808.6v2.8M1349.6 518.1v1.4M1363.0 532.1v5.6M1363.0 893.7v1.4M1376.4 884.0v2.8"/><path stroke="#b80850" d="M1215.9 613.1v4.2M1229.3 645.2v1.4M1269.4 543.2v2.8M1282.8 554.4v5.6"/><path stroke="#b00848" d="M1215.9 617.2v4.2M1215.9 642.4v18.2M1215.9 664.7v2.8M1229.3 618.6v5.6M1269.4 541.8v1.4M1296.1 744.3v4.2M1309.5 708.0v1.4M1322.9 574.0v4.2M1322.9 892.3v8.4M1336.3 860.2v8.4M1363.0 752.7v5.6M1403.1 523.7v1.4M1416.5 505.5v4.2M1416.5 530.7v9.8"/><path stroke="#e01068" d="M1215.9 660.5v4.2M1229.3 553.0v8.4M1229.3 656.3v9.8M1309.5 575.4v9.8M1309.5 617.2v8.4M1363.0 550.2v9.8M1363.0 565.6v7.0"/><path stroke="#780028" d="M1215.9 667.5v2.8M1215.9 892.3v5.6M1229.3 575.4v7.0M1242.6 794.6v7.0M1256.0 540.4v1.4M1256.0 551.6v5.6M1269.4 546.0v8.4M1269.4 762.5v1.4M1269.4 765.3v4.2M1336.3 505.5v2.8M1349.6 722.0v1.4M1349.6 884.0v5.6M1363.0 520.9v5.6M1389.8 674.5v1.4M1403.1 786.2v1.4M1416.5 833.7v1.4"/><path stroke="#680020" d="M1215.9 776.4v1.4M1229.3 548.8v2.8M1229.3 606.1v12.6M1242.6 733.1v2.8M1256.0 543.2v5.6M1256.0 790.4v2.8M1256.0 821.1v2.8M1269.4 564.2v4.2M1296.1 513.9v1.4M1296.1 543.2v5.6M1296.1 695.4v2.8M1309.5 541.8v5.6M1309.5 761.1v2.8M1322.9 568.4v5.6M1322.9 621.4v1.4M1336.3 775.0v2.8M1349.6 512.5v2.8M1349.6 737.3v2.8M1363.0 879.8v1.4M1376.4 506.9v1.4M1389.8 821.1v1.4M1416.5 540.4v2.8"/><path stroke="#a00040" d="M1215.9 809.9v1.4M1256.0 548.8v2.8M1282.8 561.4v1.4M1309.5 830.9v4.2M1322.9 551.6v8.4M1349.6 578.1v1.4M1363.0 635.4v2.8M1376.4 578.1v1.4M1389.8 568.4v7.0M1403.1 519.5v4.2M1403.1 546.0v1.4M1403.1 572.6v7.0M1416.5 892.3v11.2"/><path stroke="#d00860" d="M1229.3 561.4v2.8M1242.6 568.4v4.2M1296.1 541.8v1.4M1336.3 527.9v9.8M1349.6 547.4v11.2M1376.4 546.0v2.8"/><path stroke="#e81880" d="M1229.3 564.2v4.2M1269.4 568.4v5.6M1389.8 565.6v1.4"/><path stroke="#900030" d="M1229.3 569.8v1.4M1242.6 555.8v5.6M1242.6 572.6v9.8M1242.6 896.5v5.6M1256.0 678.7v2.8M1282.8 713.6v1.4M1296.1 749.9v5.6M1296.1 875.6v2.8M1309.5 805.8v2.8M1416.5 576.7v5.6"/><path stroke="#580018" d="M1229.3 571.2v2.8M1269.4 537.6v1.4M1309.5 758.3v2.8M1322.9 803.0v1.4M1322.9 900.7v1.4M1336.3 537.6v4.2M1336.3 571.2v4.2M1389.8 537.6v4.2M1403.1 635.4v8.4"/><path stroke="#c80858" d="M1229.3 574.0v1.4M1242.6 620.0v5.6M1256.0 557.2v1.4M1336.3 575.4v7.0M1336.3 823.9v4.2M1349.6 755.5v7.0M1363.0 537.6v1.4M1376.4 565.6v4.2"/><path stroke="#ffffff" d="M1229.3 639.6v5.6M1242.6 604.7v1.4M1256.0 611.7v1.4M1269.4 614.5v5.6M1282.8 622.8v2.8M1296.1 622.8v2.8M1376.4 525.1v1.4M1416.5 525.1v5.6"/><path stroke="#e01070" d="M1229.3 653.6v2.8M1256.0 565.6v2.8M1309.5 553.0v1.4M1349.6 530.7v7.0M1376.4 548.8v1.4M1403.1 551.6v2.8"/><path stroke="#600020" d="M1242.6 523.7v1.4M1242.6 562.8v5.6M1242.6 650.8v1.4M1269.4 830.9v2.8M1282.8 553.0v1.4M1282.8 798.8v1.4M1336.3 726.2v2.8M1336.3 847.7v1.4M1349.6 519.5v4.2M1363.0 544.6v2.8M1363.0 674.5v1.4M1376.4 540.4v5.6M1389.8 580.9v1.4"/><path stroke="#800030" d="M1242.6 553.0v2.8M1242.6 627.0v2.8M1269.4 532.1v5.6M1296.1 582.3v2.8M1349.6 572.6v5.6M1363.0 765.3v1.4"/><path stroke="#c80860" d="M1242.6 597.7v1.4"/><path stroke="#980038" d="M1242.6 603.3v1.4M1256.0 604.7v5.6M1269.4 554.4v5.6M1269.4 850.4v2.8M1282.8 726.2v1.4M1282.8 749.9v1.4M1336.3 547.4v4.2M1363.0 547.4v2.8M1376.4 557.2v2.8M1389.8 541.8v5.6M1389.8 557.2v1.4M1403.1 540.4v2.8"/><path stroke="#280008" d="M1242.6 648.0v2.8M1282.8 850.4v1.4M1322.9 861.6v1.4"/><path stroke="#800028" d="M1256.0 522.3v2.8M1322.9 519.5v1.4"/><path stroke="#a80048" d="M1256.0 541.8v1.4M1403.1 543.2v2.8"/><path stroke="#e81878" d="M1256.0 558.6v2.8M1282.8 892.3v11.2M1322.9 532.1v12.6M1349.6 871.4v8.4M1389.8 567.0v1.4"/><path stroke="#b00850" d="M1256.0 572.6v1.4"/><path stroke="#480010" d="M1256.0 593.5v1.4M1269.4 720.6v2.8M1322.9 561.4v1.4M1349.6 541.8v5.6"/><path stroke="#580020" d="M1256.0 617.2v2.8M1282.8 525.1v1.4M1296.1 565.6v5.6M1322.9 804.4v1.4M1336.3 794.6v2.8M1363.0 579.5v4.2M1376.4 555.8v1.4"/><path stroke="#f02088" d="M1256.0 628.4v1.4M1336.3 759.7v7.0M1336.3 840.7v7.0M1349.6 664.7v2.8M1376.4 572.6v1.4"/><path stroke="#ff90d0" d="M1256.0 631.2v1.4M1282.8 615.8v5.6"/><path stroke="#280010" d="M1256.0 715.0v2.8M1349.6 506.9v2.8"/><path stroke="#300010" d="M1282.8 673.1v1.4M1363.0 766.7v2.8M1363.0 871.4v1.4M1403.1 729.0v1.4"/><path stroke="#f01880" d="M1282.8 730.4v5.6"/><path stroke="#f82090" d="M1296.1 614.5v7.0"/><path stroke="#d80868" d="M1322.9 547.4v2.8"/><path stroke="#980040" d="M1349.6 523.7v1.4"/><path stroke="#c00850" d="M1363.0 526.5v5.6M1416.5 548.8v5.6"/><path stroke="#680028" d="M1363.0 572.6v1.4"/><path stroke="#a80040" d="M1376.4 532.1v4.2"/><path stroke="#ff50b0" d="M1403.1 525.1v5.6"/><path stroke="#c00858" d="M1403.1 547.4v1.4"/></g><rect x="1209.3" y="479" width="214" height="427.3" fill="none" stroke="#000" stroke-width="4.4"/></g>
<g id="pf"><defs><clipPath id="fclip"><rect x="1529.5" y="-2" width="513.9000000000001" height="442.2"/></clipPath></defs><rect x="1529.5" y="11.7" width="513.9000000000001" height="427.0" fill="#fff"/><g clip-path="url(#fclip)" fill="none" stroke-linejoin="round"><path d="M1530.2 438.7L1532.8 438.7L1535.4 424.1L1537.9 422.6L1540.5 415.8L1543.1 336.2L1545.7 149.2L1548.3 -99.3L1550.9 -156.1L1553.4 29.9L1556.0 237.0L1558.6 351.0L1561.2 397.2L1563.8 410.7L1566.3 414.2L1568.9 414.2L1571.5 415.2L1574.1 415.5L1576.7 416.9L1579.2 419.9L1581.8 421.1L1584.4 421.8L1587.0 421.8L1589.6 422.4L1592.2 422.9L1594.7 423.7L1597.3 423.1L1599.9 421.3L1602.5 421.6L1605.1 421.6L1607.6 421.7L1610.2 418.0L1612.8 415.9L1615.4 414.4L1618.0 415.2L1620.6 417.0L1623.1 417.8L1625.7 418.5L1628.3 419.6L1630.9 421.9L1633.5 422.2L1636.0 420.8L1638.6 420.8L1641.2 420.1L1643.8 419.8L1646.4 416.3L1649.0 415.7L1651.5 418.2L1654.1 423.6L1656.7 425.9L1659.3 427.3L1661.9 427.0L1664.4 426.3L1667.0 422.4L1669.6 420.8L1672.2 420.1L1674.8 420.7L1677.4 420.0L1679.9 419.8L1682.5 415.8L1685.1 402.5L1687.7 399.3L1690.3 408.5L1692.8 413.6L1695.4 415.2L1698.0 416.8L1700.6 419.5L1703.2 420.5L1705.8 420.4L1708.3 420.3L1710.9 419.8L1713.5 418.9L1716.1 419.1L1718.7 421.5L1721.2 422.4L1723.8 422.4L1726.4 421.1L1729.0 422.5L1731.6 424.1L1734.2 418.6L1736.7 395.1L1739.3 392.1L1741.9 412.2L1744.5 418.5L1747.1 418.4L1749.6 418.3L1752.2 417.5L1754.8 413.1L1757.4 411.3L1760.0 411.2L1762.6 410.1L1765.1 410.9L1767.7 412.7L1770.3 413.3L1772.9 411.4L1775.5 411.4L1778.0 408.5L1780.6 382.8L1783.2 364.0L1785.8 390.6L1788.4 408.0L1791.0 411.3L1793.5 411.8L1796.1 410.8L1798.7 409.4L1801.3 406.1L1803.9 388.5L1806.4 343.5L1809.0 281.2L1811.6 249.3L1814.2 274.9L1816.8 333.8L1819.3 378.1L1821.9 403.4L1824.5 412.2L1827.1 413.8L1829.7 412.2L1832.3 409.2L1834.8 407.9L1837.4 408.8L1840.0 409.0L1842.6 404.6L1845.2 403.4L1847.7 408.7L1850.3 410.5L1852.9 405.8L1855.5 405.8L1858.1 410.9L1860.7 414.8L1863.2 417.3L1865.8 419.4L1868.4 418.9L1871.0 416.5L1873.6 416.0L1876.1 414.4L1878.7 415.3L1881.3 414.9L1883.9 414.9L1886.5 414.8L1889.1 414.7L1891.6 413.1L1894.2 412.0L1896.8 413.9L1899.4 415.2L1902.0 415.7L1904.5 414.7L1907.1 413.6L1909.7 411.2L1912.3 411.0L1914.9 413.1L1917.5 415.3L1920.0 414.8L1922.6 415.2L1925.2 414.0L1927.8 413.6L1930.4 412.5L1932.9 411.0L1935.5 397.1L1938.1 347.1L1940.7 313.5L1943.3 353.8L1945.9 397.1L1948.4 407.8L1951.0 409.1L1953.6 401.4L1956.2 378.8L1958.8 331.2L1961.3 258.7L1963.9 184.1L1966.5 151.4L1969.1 185.8L1971.7 259.2L1974.3 329.9L1976.8 375.7L1979.4 400.2L1982.0 409.1L1984.6 409.8L1987.2 410.3L1989.7 412.4L1992.3 414.7L1994.9 414.7L1997.5 415.1L2000.1 417.4L2002.7 417.2L2005.2 415.6L2007.8 413.6L2010.4 414.9L2013.0 416.9L2015.6 419.4L2018.1 418.9L2020.7 415.9L2023.3 414.2L2025.9 415.5L2028.5 416.7L2031.1 416.6L2033.6 417.6L2036.2 438.7L2038.8 438.7L2041.4 438.7" stroke="#909090" stroke-width="2.0" stroke-dasharray="21.3 19.4"/><path d="M1530.2 438.7L1532.8 438.7L1535.4 438.7L1537.9 438.7L1540.5 438.7L1543.1 438.7L1545.7 400.4L1548.3 351.7L1550.9 435.4L1553.4 438.7L1556.0 438.7L1558.6 438.7L1561.2 438.7L1563.8 438.7L1566.3 438.7L1568.9 438.7L1571.5 438.7L1574.1 438.7L1576.7 438.7L1579.2 438.7L1581.8 438.7L1584.4 438.7L1587.0 438.7L1589.6 438.7L1592.2 438.7L1594.7 438.7L1597.3 438.7L1599.9 438.7L1602.5 438.7L1605.1 438.7L1607.6 438.7L1610.2 438.7L1612.8 438.7L1615.4 438.7L1618.0 438.7L1620.6 438.7L1623.1 438.7L1625.7 438.7L1628.3 438.7L1630.9 438.7L1633.5 438.7L1636.0 438.7L1638.6 438.7L1641.2 438.7L1643.8 438.7L1646.4 438.7L1649.0 438.7L1651.5 438.7L1654.1 438.7L1656.7 438.7L1659.3 438.7L1661.9 438.7L1664.4 438.7L1667.0 438.7L1669.6 438.7L1672.2 438.7L1674.8 438.7L1677.4 438.7L1679.9 438.7L1682.5 438.7L1685.1 438.7L1687.7 438.7L1690.3 438.7L1692.8 438.7L1695.4 438.7L1698.0 438.7L1700.6 438.7L1703.2 438.7L1705.8 438.7L1708.3 438.7L1710.9 438.7L1713.5 438.7L1716.1 438.7L1718.7 438.7L1721.2 438.7L1723.8 438.7L1726.4 438.7L1729.0 438.7L1731.6 438.7L1734.2 438.7L1736.7 438.7L1739.3 438.7L1741.9 438.7L1744.5 438.7L1747.1 438.7L1749.6 438.7L1752.2 438.7L1754.8 438.7L1757.4 438.7L1760.0 438.7L1762.6 438.7L1765.1 438.7L1767.7 438.7L1770.3 438.7L1772.9 438.7L1775.5 438.7L1778.0 438.7L1780.6 438.7L1783.2 438.7L1785.8 438.7L1788.4 438.7L1791.0 438.7L1793.5 438.7L1796.1 438.7L1798.7 438.7L1801.3 437.0L1803.9 430.3L1806.4 420.4L1809.0 402.6L1811.6 393.3L1814.2 408.4L1816.8 429.8L1819.3 438.7L1821.9 438.7L1824.5 438.7L1827.1 438.7L1829.7 438.7L1832.3 438.7L1834.8 438.7L1837.4 438.7L1840.0 438.7L1842.6 438.7L1845.2 438.7L1847.7 438.7L1850.3 438.7L1852.9 438.7L1855.5 438.7L1858.1 438.7L1860.7 438.7L1863.2 438.7L1865.8 438.7L1868.4 438.7L1871.0 438.7L1873.6 438.7L1876.1 438.7L1878.7 438.7L1881.3 438.7L1883.9 438.7L1886.5 438.7L1889.1 438.7L1891.6 438.7L1894.2 438.7L1896.8 438.7L1899.4 438.7L1902.0 438.7L1904.5 438.7L1907.1 438.7L1909.7 438.7L1912.3 438.7L1914.9 438.7L1917.5 438.7L1920.0 438.7L1922.6 438.7L1925.2 438.7L1927.8 438.7L1930.4 438.7L1932.9 438.7L1935.5 438.7L1938.1 406.0L1940.7 383.5L1943.3 417.7L1945.9 438.7L1948.4 438.7L1951.0 438.7L1953.6 438.7L1956.2 435.8L1958.8 432.3L1961.3 421.1L1963.9 407.8L1966.5 406.2L1969.1 424.0L1971.7 438.7L1974.3 438.7L1976.8 438.7L1979.4 438.7L1982.0 438.7L1984.6 438.7L1987.2 438.7L1989.7 438.7L1992.3 438.7L1994.9 438.7L1997.5 438.7L2000.1 438.7L2002.7 438.7L2005.2 438.7L2007.8 438.7L2010.4 438.7L2013.0 438.7L2015.6 438.7L2018.1 438.7L2020.7 438.7L2023.3 438.7L2025.9 438.7L2028.5 438.7L2031.1 438.7L2033.6 438.7L2036.2 438.7L2038.8 438.7L2041.4 438.7" stroke="#909090" stroke-width="2.0" stroke-dasharray="21.3 19.4" stroke-dashoffset="9"/><path d="M1530.2 437.8L1532.8 436.8L1535.4 435.7L1537.9 434.6L1540.5 433.6L1543.1 377.1L1545.7 245.8L1548.3 74.2L1550.9 71.4L1553.4 239.5L1556.0 373.7L1558.6 417.6L1561.2 426.7L1563.8 429.3L1566.3 428.7L1568.9 429.0L1571.5 429.7L1574.1 430.7L1576.7 430.3L1579.2 430.5L1581.8 431.0L1584.4 431.7L1587.0 432.0L1589.6 432.7L1592.2 431.7L1594.7 431.4L1597.3 431.1L1599.9 432.4L1602.5 432.0L1605.1 432.3L1607.6 433.1L1610.2 433.2L1612.8 432.3L1615.4 432.2L1618.0 432.0L1620.6 431.7L1623.1 431.3L1625.7 432.4L1628.3 433.4L1630.9 433.8L1633.5 433.8L1636.0 433.6L1638.6 433.0L1641.2 431.6L1643.8 430.3L1646.4 428.6L1649.0 428.2L1651.5 429.8L1654.1 432.5L1656.7 434.7L1659.3 434.7L1661.9 433.9L1664.4 432.3L1667.0 429.6L1669.6 428.6L1672.2 430.5L1674.8 432.2L1677.4 433.8L1679.9 433.4L1682.5 429.8L1685.1 422.1L1687.7 423.0L1690.3 429.5L1692.8 431.2L1695.4 430.1L1698.0 430.3L1700.6 432.1L1703.2 432.7L1705.8 432.8L1708.3 432.8L1710.9 432.2L1713.5 432.0L1716.1 431.5L1718.7 431.8L1721.2 431.8L1723.8 432.4L1726.4 432.3L1729.0 431.9L1731.6 431.8L1734.2 428.4L1736.7 420.5L1739.3 419.2L1741.9 426.1L1744.5 429.5L1747.1 430.1L1749.6 429.9L1752.2 429.3L1754.8 427.8L1757.4 426.8L1760.0 426.4L1762.6 427.0L1765.1 428.1L1767.7 428.7L1770.3 428.8L1772.9 428.1L1775.5 426.9L1778.0 423.6L1780.6 413.2L1783.2 407.6L1785.8 416.7L1788.4 424.6L1791.0 426.1L1793.5 426.3L1796.1 425.4L1798.7 422.4L1801.3 418.0L1803.9 404.5L1806.4 373.1L1809.0 327.9L1811.6 304.7L1814.2 326.3L1816.8 370.7L1819.3 402.9L1821.9 418.1L1824.5 422.6L1827.1 423.3L1829.7 422.6L1832.3 423.2L1834.8 424.0L1837.4 424.8L1840.0 422.6L1842.6 419.1L1845.2 417.8L1847.7 421.4L1850.3 423.8L1852.9 420.7L1855.5 420.6L1858.1 424.1L1860.7 427.1L1863.2 426.8L1865.8 428.3L1868.4 427.8L1871.0 427.2L1873.6 425.6L1876.1 424.9L1878.7 424.4L1881.3 425.1L1883.9 426.8L1886.5 427.3L1889.1 426.5L1891.6 425.0L1894.2 425.5L1896.8 426.6L1899.4 428.4L1902.0 428.6L1904.5 428.3L1907.1 427.7L1909.7 426.7L1912.3 426.4L1914.9 426.7L1917.5 427.3L1920.0 426.4L1922.6 425.3L1925.2 425.5L1927.8 426.5L1930.4 427.3L1932.9 425.9L1935.5 413.7L1938.1 369.7L1940.7 340.4L1943.3 378.4L1945.9 414.0L1948.4 421.0L1951.0 420.9L1953.6 416.0L1956.2 400.7L1958.8 370.0L1961.3 321.2L1963.9 270.1L1966.5 249.4L1969.1 277.4L1971.7 331.8L1974.3 379.2L1976.8 407.1L1979.4 419.0L1982.0 423.4L1984.6 424.6L1987.2 425.6L1989.7 426.9L1992.3 428.1L1994.9 428.0L1997.5 426.7L2000.1 426.9L2002.7 427.1L2005.2 426.7L2007.8 426.4L2010.4 426.8L2013.0 427.2L2015.6 427.5L2018.1 428.5L2020.7 428.4L2023.3 428.4L2025.9 429.8L2028.5 431.3L2031.1 432.8L2033.6 434.3L2036.2 435.7L2038.8 437.2L2041.4 438.7" stroke="#ff0000" stroke-width="2.5"/><path d="M1793.3 11.7V438.7" stroke="#000" stroke-width="2.3" stroke-dasharray="21.1 19.67"/></g></g>
<g id="pn"><defs><clipPath id="nclip"><rect x="1529.5" y="479.7" width="513.9000000000001" height="428.8"/></clipPath></defs><rect x="1529.5" y="479.7" width="513.9000000000001" height="427.3" fill="#fff"/><g clip-path="url(#nclip)" fill="none" stroke-linejoin="round"><path d="M1533.8 905.8L1540.6 894.3L1552.1 879.6L1565.9 869.1L1579.6 855.3L1593.4 827.8L1607.2 786.5L1618.6 726.9L1630.1 644.3L1639.3 561.7L1646.1 515.9L1653.0 511.3L1657.6 543.4L1662.2 603.0L1665.9 612.2L1671.4 580.1L1678.3 515.9L1682.8 483.8L1687.4 473.7L1693.4 480.1L1699.8 492.9L1708.1 529.6L1715.0 584.7L1721.8 644.3L1731.0 708.5L1740.2 763.6L1749.4 800.3L1758.5 832.4L1770.0 855.3L1780.0 869.1L1791.5 873.7L1802.9 880.6L1812.1 880.6L1819.0 871.4L1825.9 872.8L1832.8 882.8L1844.2 885.1L1858.0 882.8L1871.7 878.3L1883.2 871.4L1892.4 862.2L1899.3 841.6L1904.8 791.1L1909.4 740.6L1913.9 703.9L1919.9 685.6L1923.1 669.5L1926.8 681.0L1931.4 726.9L1938.3 781.9L1945.1 818.6L1954.3 846.1L1963.5 864.5L1977.2 876.0L1995.6 882.8L2018.5 888.3L2036.9 891.1L2042.4 905.8" stroke="#909090" stroke-width="2.0" stroke-dasharray="21.3 19.4"/><path d="M1533.8 905.8L1552.1 903.5L1570.5 898.9L1584.2 892.0L1598.0 882.8L1611.7 859.9L1623.2 818.6L1632.4 763.6L1639.3 690.2L1644.8 635.1L1648.4 626.0L1653.0 662.7L1657.6 699.4L1662.2 717.7L1666.8 722.3L1671.4 690.2L1678.3 621.4L1685.1 561.7L1689.7 543.4L1694.3 561.7L1701.2 621.4L1708.1 690.2L1715.0 754.4L1721.8 804.9L1728.7 841.6L1735.6 869.1L1744.8 889.7L1753.9 901.2L1767.7 905.8L1780.0 902.1L1802.9 901.2L1816.7 896.6L1825.9 896.6L1835.0 901.2L1858.0 901.2L1880.9 900.3L1894.7 894.3L1901.6 882.8L1906.1 859.9L1909.4 850.7L1913.9 857.6L1917.6 853.0L1921.3 837.0L1925.9 825.5L1930.5 832.4L1935.0 855.3L1940.6 876.0L1947.4 889.7L1958.9 898.9L1977.2 902.6L2009.4 903.5L2032.3 901.2L2040.6 905.8" stroke="#909090" stroke-width="2.0" stroke-dasharray="21.3 19.4" stroke-dashoffset="6"/><path d="M1530.1 892.0L1542.9 890.6L1554.4 888.3L1565.9 884.2L1577.3 877.3L1584.2 872.3L1591.1 859.9L1600.3 848.4L1607.2 832.4L1614.0 807.2L1620.9 777.3L1627.8 740.6L1634.7 690.2L1640.2 635.1L1644.8 589.3L1648.0 570.9L1652.1 587.0L1656.2 626.0L1660.8 658.1L1664.0 671.8L1667.7 660.4L1673.7 616.8L1679.6 561.7L1685.1 518.2L1689.7 505.8L1694.3 525.0L1699.8 566.3L1705.8 616.8L1712.7 671.8L1719.5 722.3L1726.4 763.6L1733.3 795.7L1740.2 820.9L1747.1 839.3L1753.9 854.4L1760.8 865.4L1767.7 873.7L1774.6 879.6L1780.0 882.8L1789.2 886.5L1798.3 888.3L1807.5 891.1L1814.4 889.7L1820.4 885.1L1825.0 884.7L1830.5 889.7L1837.3 892.9L1848.8 893.4L1860.3 892.0L1871.7 890.2L1883.2 886.5L1892.4 881.5L1898.3 873.7L1902.0 850.7L1905.7 818.6L1908.9 793.4L1913.0 786.5L1917.6 781.0L1921.3 763.6L1925.0 752.1L1929.1 759.0L1932.8 781.9L1936.9 804.9L1941.5 827.8L1946.1 843.9L1952.0 857.6L1958.9 869.1L1965.8 877.3L1972.7 882.8L1981.8 887.4L1991.0 890.2L1997.9 889.7L2004.8 892.0L2018.5 894.3L2032.3 895.2L2042.8 895.2" stroke="#ff0000" stroke-width="2.5"/><path d="M1667.4 479.7V907.0" stroke="#000" stroke-width="2.3" stroke-dasharray="21.1 19.67"/><path d="M1919.3 479.7V907.0" stroke="#000" stroke-width="2.3" stroke-dasharray="21.1 19.67"/></g></g>
<g id="cbars"><defs><linearGradient id="cb_c" x1="0" x2="1" y1="0" y2="0"><stop offset="0" stop-color="#00003c"/><stop offset="0.12" stop-color="#000090"/><stop offset="0.25" stop-color="#0008f0"/><stop offset="0.36" stop-color="#6f8cf0"/><stop offset="0.47" stop-color="#e8eefc"/><stop offset="0.5" stop-color="#ffffff"/><stop offset="0.53" stop-color="#fdeee6"/><stop offset="0.64" stop-color="#f59a78"/><stop offset="0.76" stop-color="#f01010"/><stop offset="0.88" stop-color="#a00000"/><stop offset="1" stop-color="#3c0000"/></linearGradient></defs><rect x="802.5" y="376.8" width="129.5" height="10.8" fill="url(#cb_c)" stroke="#0b0a3a" stroke-width="3" rx="1.5"/><text transform="translate(803.0 420.3) scale(1 1.1)" font-size="25.6" fill="#0b0a3a" stroke="#0b0a3a" stroke-width="0" text-anchor="middle" >−150</text><text transform="translate(867.5 420.3) scale(1 1.1)" font-size="25.6" fill="#0b0a3a" stroke="#0b0a3a" stroke-width="0" text-anchor="middle" >0</text><text transform="translate(932.5 420.3) scale(1 1.1)" font-size="25.6" fill="#0b0a3a" stroke="#0b0a3a" stroke-width="0" text-anchor="middle" >150</text><text transform="translate(867.0 365.5) scale(1 1.1)" font-size="33" fill="#0b0a3a" stroke="#0b0a3a" stroke-width="0" text-anchor="middle" >km/s</text><defs><linearGradient id="cb_h" x1="0" x2="1" y1="0" y2="0"><stop offset="0" stop-color="#00003c"/><stop offset="0.12" stop-color="#000090"/><stop offset="0.25" stop-color="#0008f0"/><stop offset="0.36" stop-color="#6f8cf0"/><stop offset="0.47" stop-color="#e8eefc"/><stop offset="0.5" stop-color="#ffffff"/><stop offset="0.53" stop-color="#fdeee6"/><stop offset="0.64" stop-color="#f59a78"/><stop offset="0.76" stop-color="#f01010"/><stop offset="0.88" stop-color="#a00000"/><stop offset="1" stop-color="#3c0000"/></linearGradient></defs><rect x="578" y="845.5" width="128.5" height="10.8" fill="url(#cb_h)" stroke="#0b0a3a" stroke-width="3" rx="1.5"/><text transform="translate(579.5 889.3) scale(1 1.1)" font-size="25.6" fill="#0b0a3a" stroke="#0b0a3a" stroke-width="0" text-anchor="middle" >−40</text><text transform="translate(643.0 889.3) scale(1 1.1)" font-size="25.6" fill="#0b0a3a" stroke="#0b0a3a" stroke-width="0" text-anchor="middle" >0</text><text transform="translate(706.0 889.3) scale(1 1.1)" font-size="25.6" fill="#0b0a3a" stroke="#0b0a3a" stroke-width="0" text-anchor="middle" >40</text><text transform="translate(643.0 834.0) scale(1 1.1)" font-size="33" fill="#0b0a3a" stroke="#0b0a3a" stroke-width="0" text-anchor="middle" >km/s</text><defs><linearGradient id="cb_i" x1="0" x2="1" y1="0" y2="0"><stop offset="0" stop-color="#00003c"/><stop offset="0.12" stop-color="#000090"/><stop offset="0.25" stop-color="#0008f0"/><stop offset="0.36" stop-color="#6f8cf0"/><stop offset="0.47" stop-color="#e8eefc"/><stop offset="0.5" stop-color="#ffffff"/><stop offset="0.53" stop-color="#fdeee6"/><stop offset="0.64" stop-color="#f59a78"/><stop offset="0.76" stop-color="#f01010"/><stop offset="0.88" stop-color="#a00000"/><stop offset="1" stop-color="#3c0000"/></linearGradient></defs><rect x="802.5" y="845.5" width="128.5" height="10.8" fill="url(#cb_i)" stroke="#0b0a3a" stroke-width="3" rx="1.5"/><text transform="translate(810.0 889.3) scale(1 1.1)" font-size="25.6" fill="#0b0a3a" stroke="#0b0a3a" stroke-width="0" text-anchor="middle" >−0.5</text><text transform="translate(877.4 889.3) scale(1 1.1)" font-size="25.6" fill="#0b0a3a" stroke="#0b0a3a" stroke-width="0" text-anchor="middle" >0.0</text><text transform="translate(941.4 889.3) scale(1 1.1)" font-size="25.6" fill="#0b0a3a" stroke="#0b0a3a" stroke-width="0" text-anchor="middle" >0.5</text><defs><linearGradient id="cb_l" x1="0" x2="1" y1="0" y2="0"><stop offset="0" stop-color="#000030"/><stop offset="0.12" stop-color="#0000c0"/><stop offset="0.22" stop-color="#4040ff"/><stop offset="0.3" stop-color="#b00060"/><stop offset="0.4" stop-color="#e00000"/><stop offset="0.52" stop-color="#ff6000"/><stop offset="0.62" stop-color="#ffb000"/><stop offset="0.72" stop-color="#fff000"/><stop offset="0.85" stop-color="#ffffa0"/><stop offset="1" stop-color="#ffffff"/></linearGradient></defs><rect x="1027" y="845.5" width="129.0" height="10.8" fill="url(#cb_l)" stroke="#000" stroke-width="3" rx="1.5"/><text transform="translate(1034.4 889.3) scale(1 1.1)" font-size="25.6" fill="#000" stroke="#000" stroke-width="0" text-anchor="middle" >−0.6</text><text transform="translate(1098.4 889.3) scale(1 1.1)" font-size="25.6" fill="#000" stroke="#000" stroke-width="0" text-anchor="middle" >−0.3</text><text transform="translate(1166.0 889.3) scale(1 1.1)" font-size="25.6" fill="#000" stroke="#000" stroke-width="0" text-anchor="middle" >0.0</text><defs><linearGradient id="cb_m" x1="0" x2="1" y1="0" y2="0"><stop offset="0" stop-color="#000000"/><stop offset="0.3" stop-color="#500014"/><stop offset="0.5" stop-color="#a00446"/><stop offset="0.65" stop-color="#e01880"/><stop offset="0.8" stop-color="#ff50b0"/><stop offset="0.92" stop-color="#ffb0e0"/><stop offset="1" stop-color="#ffffff"/></linearGradient></defs><rect x="1251.5" y="845.5" width="129.5" height="10.8" fill="url(#cb_m)" stroke="#fff" stroke-width="3" rx="1.5"/><text transform="translate(1251.6 889.3) scale(1 1.1)" font-size="25.6" fill="#fff" stroke="#fff" stroke-width="0.35" text-anchor="middle" >25</text><text transform="translate(1315.4 889.3) scale(1 1.1)" font-size="25.6" fill="#fff" stroke="#fff" stroke-width="0.35" text-anchor="middle" >38</text><text transform="translate(1379.6 889.3) scale(1 1.1)" font-size="25.6" fill="#fff" stroke="#fff" stroke-width="0.35" text-anchor="middle" >50</text><text transform="translate(1316.0 834.0) scale(1 1.1)" font-size="33" fill="#fff" stroke="#fff" stroke-width="0.35" text-anchor="middle" >km/s</text></g>
<g id="pc2"><g transform="translate(0 2.3)"><ellipse cx="780.1" cy="127.6" rx="6.5" ry="0.9" fill="#00f000"/><ellipse cx="793.4" cy="134.2" rx="3.0" ry="0.8" fill="#00f000"/><ellipse cx="793.4" cy="140.5" rx="8.6" ry="1.8" fill="#00f000"/><ellipse cx="806.8" cy="162.0" rx="7.0" ry="0.9" fill="#00f000"/><ellipse cx="780.1" cy="172.8" rx="9.3" ry="2.6" fill="#b8f8b0" stroke="#00f000" stroke-width="1.3"/><ellipse cx="780.1" cy="178.0" rx="5.5" ry="1.0" fill="#00f000"/><path d="M769.6 187.5Q780.1 184.5 790.6 187.5L788.1 191.5L785.1 194.5L775.1 194.5L772.1 191.5Z" fill="#00f000"/><path d="M934.9 57.2L951.9 56.6L966.4 58.6L966.4 61L953.9 60.2L941.9 58.6Z" fill="#00f000"/><ellipse cx="860.3" cy="364.9" rx="8.7" ry="1.5" fill="#00f000"/><ellipse cx="887.1" cy="374.1" rx="9.4" ry="1.5" fill="#00f000"/><ellipse cx="887.1" cy="378.8" rx="1.6" ry="0.8" fill="#00f000"/><ellipse cx="887.1" cy="385.6" rx="3.4" ry="1.2" fill="#b8f8b0" stroke="#00f000" stroke-width="1.0"/><path d="M883.1 388.6L891.1 388.6L896.6 392.4L877.6 392.4Z" fill="#00f000"/><ellipse cx="900.4" cy="403.1" rx="3.6" ry="0.8" fill="#00f000"/></g></g>
<rect x="96.8" y="10.1" width="427.7" height="427.8" fill="none" stroke="#000" stroke-width="3.2"/>
<rect x="96.8" y="479.0" width="427.7" height="427.3" fill="none" stroke="#000" stroke-width="3.2"/>
<rect x="535.5" y="10.1" width="214.0" height="427.8" fill="none" stroke="#000" stroke-width="3.2"/>
<rect x="535.5" y="479.0" width="214.0" height="427.3" fill="none" stroke="#0b0a3a" stroke-width="3.2"/>
<rect x="760.1" y="10.1" width="214.0" height="427.8" fill="none" stroke="#0b0a3a" stroke-width="3.2"/>
<rect x="760.1" y="479.0" width="214.0" height="427.3" fill="none" stroke="#0b0a3a" stroke-width="3.2"/>
<rect x="984.7" y="10.1" width="214.0" height="427.8" fill="none" stroke="#000" stroke-width="3.2"/>
<rect x="984.7" y="479.0" width="214.0" height="427.3" fill="none" stroke="#000" stroke-width="3.2"/>
<rect x="1209.3" y="10.1" width="214.0" height="427.8" fill="none" stroke="#000" stroke-width="3.2"/>
<rect x="1209.3" y="479.0" width="214.0" height="427.3" fill="none" stroke="#000" stroke-width="3.2"/>
<rect x="1529.5" y="11.7" width="513.9" height="427.0" fill="none" stroke="#000" stroke-width="3.2"/>
<rect x="1529.5" y="479.7" width="513.9" height="427.3" fill="none" stroke="#000" stroke-width="3.2"/>
<path d="M92.2 417.7L96.8 417.7M524.5 417.7L529.1 417.7M92.2 390.6L96.8 390.6M524.5 390.6L529.1 390.6M92.2 363.4L96.8 363.4M524.5 363.4L529.1 363.4M88.7 336.2L96.8 336.2M524.5 336.2L532.6 336.2M92.2 309.0L96.8 309.0M524.5 309.0L529.1 309.0M92.2 281.8L96.8 281.8M524.5 281.8L529.1 281.8M92.2 254.7L96.8 254.7M524.5 254.7L529.1 254.7M92.2 227.5L96.8 227.5M524.5 227.5L529.1 227.5M88.7 200.3L96.8 200.3M524.5 200.3L532.6 200.3M92.2 173.1L96.8 173.1M524.5 173.1L529.1 173.1M92.2 145.9L96.8 145.9M524.5 145.9L529.1 145.9M92.2 118.8L96.8 118.8M524.5 118.8L529.1 118.8M92.2 91.6L96.8 91.6M524.5 91.6L529.1 91.6M88.7 64.4L96.8 64.4M524.5 64.4L532.6 64.4M92.2 37.2L96.8 37.2M524.5 37.2L529.1 37.2M92.2 10.0L96.8 10.0M524.5 10.0L529.1 10.0" stroke="#000" stroke-width="3.0" fill="none"/>
<path d="M92.2 886.6L96.8 886.6M524.5 886.6L529.1 886.6M92.2 859.5L96.8 859.5M524.5 859.5L529.1 859.5M92.2 832.3L96.8 832.3M524.5 832.3L529.1 832.3M88.7 805.1L96.8 805.1M524.5 805.1L532.6 805.1M92.2 777.9L96.8 777.9M524.5 777.9L529.1 777.9M92.2 750.7L96.8 750.7M524.5 750.7L529.1 750.7M92.2 723.6L96.8 723.6M524.5 723.6L529.1 723.6M92.2 696.4L96.8 696.4M524.5 696.4L529.1 696.4M88.7 669.2L96.8 669.2M524.5 669.2L532.6 669.2M92.2 642.0L96.8 642.0M524.5 642.0L529.1 642.0M92.2 614.8L96.8 614.8M524.5 614.8L529.1 614.8M92.2 587.7L96.8 587.7M524.5 587.7L529.1 587.7M92.2 560.5L96.8 560.5M524.5 560.5L529.1 560.5M88.7 533.3L96.8 533.3M524.5 533.3L532.6 533.3M92.2 506.1L96.8 506.1M524.5 506.1L529.1 506.1M92.2 478.9L96.8 478.9M524.5 478.9L529.1 478.9" stroke="#000" stroke-width="3.0" fill="none"/>
<path d="M99.8 5.5L99.8 10.1M99.8 437.9L99.8 442.5M125.2 5.5L125.2 10.1M125.2 437.9L125.2 442.5M150.7 5.5L150.7 10.1M150.7 437.9L150.7 442.5M176.1 2.0L176.1 10.1M176.1 437.9L176.1 446.0M201.5 5.5L201.5 10.1M201.5 437.9L201.5 442.5M227.0 5.5L227.0 10.1M227.0 437.9L227.0 442.5M252.4 5.5L252.4 10.1M252.4 437.9L252.4 442.5M277.9 5.5L277.9 10.1M277.9 437.9L277.9 442.5M303.3 2.0L303.3 10.1M303.3 437.9L303.3 446.0M328.7 5.5L328.7 10.1M328.7 437.9L328.7 442.5M354.2 5.5L354.2 10.1M354.2 437.9L354.2 442.5M379.6 5.5L379.6 10.1M379.6 437.9L379.6 442.5M405.1 5.5L405.1 10.1M405.1 437.9L405.1 442.5M430.5 2.0L430.5 10.1M430.5 437.9L430.5 446.0M455.9 5.5L455.9 10.1M455.9 437.9L455.9 442.5M481.4 5.5L481.4 10.1M481.4 437.9L481.4 442.5M506.8 5.5L506.8 10.1M506.8 437.9L506.8 442.5" stroke="#000" stroke-width="3.0" fill="none"/>
<path d="M99.8 474.4L99.8 479.0M99.8 906.3L99.8 910.9M125.2 474.4L125.2 479.0M125.2 906.3L125.2 910.9M150.7 474.4L150.7 479.0M150.7 906.3L150.7 910.9M176.1 470.9L176.1 479.0M176.1 906.3L176.1 914.4M201.5 474.4L201.5 479.0M201.5 906.3L201.5 910.9M227.0 474.4L227.0 479.0M227.0 906.3L227.0 910.9M252.4 474.4L252.4 479.0M252.4 906.3L252.4 910.9M277.9 474.4L277.9 479.0M277.9 906.3L277.9 910.9M303.3 470.9L303.3 479.0M303.3 906.3L303.3 914.4M328.7 474.4L328.7 479.0M328.7 906.3L328.7 910.9M354.2 474.4L354.2 479.0M354.2 906.3L354.2 910.9M379.6 474.4L379.6 479.0M379.6 906.3L379.6 910.9M405.1 474.4L405.1 479.0M405.1 906.3L405.1 910.9M430.5 470.9L430.5 479.0M430.5 906.3L430.5 914.4M455.9 474.4L455.9 479.0M455.9 906.3L455.9 910.9M481.4 474.4L481.4 479.0M481.4 906.3L481.4 910.9M506.8 474.4L506.8 479.0M506.8 906.3L506.8 910.9" stroke="#000" stroke-width="3.0" fill="none"/>
<path d="M532.4 417.7L535.5 417.7M749.5 417.7L752.6 417.7M532.4 390.6L535.5 390.6M749.5 390.6L752.6 390.6M532.4 363.4L535.5 363.4M749.5 363.4L752.6 363.4M530.3 336.2L535.5 336.2M749.5 336.2L754.7 336.2M532.4 309.0L535.5 309.0M749.5 309.0L752.6 309.0M532.4 281.8L535.5 281.8M749.5 281.8L752.6 281.8M532.4 254.7L535.5 254.7M749.5 254.7L752.6 254.7M532.4 227.5L535.5 227.5M749.5 227.5L752.6 227.5M530.3 200.3L535.5 200.3M749.5 200.3L754.7 200.3M532.4 173.1L535.5 173.1M749.5 173.1L752.6 173.1M532.4 145.9L535.5 145.9M749.5 145.9L752.6 145.9M532.4 118.8L535.5 118.8M749.5 118.8L752.6 118.8M532.4 91.6L535.5 91.6M749.5 91.6L752.6 91.6M530.3 64.4L535.5 64.4M749.5 64.4L754.7 64.4M532.4 37.2L535.5 37.2M749.5 37.2L752.6 37.2M532.4 10.0L535.5 10.0M749.5 10.0L752.6 10.0" stroke="#000" stroke-width="3.0" fill="none"/>
<path d="M546.2 5.5L546.2 10.1M546.2 437.9L546.2 442.5M559.6 5.5L559.6 10.1M559.6 437.9L559.6 442.5M573.0 5.5L573.0 10.1M573.0 437.9L573.0 442.5M586.5 5.5L586.5 10.1M586.5 437.9L586.5 442.5M599.9 2.0L599.9 10.1M599.9 437.9L599.9 446.0M613.3 5.5L613.3 10.1M613.3 437.9L613.3 442.5M626.7 5.5L626.7 10.1M626.7 437.9L626.7 442.5M640.1 5.5L640.1 10.1M640.1 437.9L640.1 442.5M653.6 5.5L653.6 10.1M653.6 437.9L653.6 442.5M667.0 2.0L667.0 10.1M667.0 437.9L667.0 446.0M680.4 5.5L680.4 10.1M680.4 437.9L680.4 442.5M693.8 5.5L693.8 10.1M693.8 437.9L693.8 442.5M707.2 5.5L707.2 10.1M707.2 437.9L707.2 442.5M720.7 5.5L720.7 10.1M720.7 437.9L720.7 442.5M734.1 2.0L734.1 10.1M734.1 437.9L734.1 446.0M747.5 5.5L747.5 10.1M747.5 437.9L747.5 442.5" stroke="#000" stroke-width="3.0" fill="none"/>
<path d="M532.9 886.6L535.5 886.6M749.5 886.6L752.1 886.6M532.9 859.5L535.5 859.5M749.5 859.5L752.1 859.5M532.9 832.3L535.5 832.3M749.5 832.3L752.1 832.3M531.4 805.1L535.5 805.1M749.5 805.1L753.6 805.1M532.9 777.9L535.5 777.9M749.5 777.9L752.1 777.9M532.9 750.7L535.5 750.7M749.5 750.7L752.1 750.7M532.9 723.6L535.5 723.6M749.5 723.6L752.1 723.6M532.9 696.4L535.5 696.4M749.5 696.4L752.1 696.4M531.4 669.2L535.5 669.2M749.5 669.2L753.6 669.2M532.9 642.0L535.5 642.0M749.5 642.0L752.1 642.0M532.9 614.8L535.5 614.8M749.5 614.8L752.1 614.8M532.9 587.7L535.5 587.7M749.5 587.7L752.1 587.7M532.9 560.5L535.5 560.5M749.5 560.5L752.1 560.5M531.4 533.3L535.5 533.3M749.5 533.3L753.6 533.3M532.9 506.1L535.5 506.1M749.5 506.1L752.1 506.1M532.9 478.9L535.5 478.9M749.5 478.9L752.1 478.9" stroke="#0b0a3a" stroke-width="3.0" fill="none"/>
<path d="M546.2 476.4L546.2 479.0M546.2 906.3L546.2 908.9M559.6 476.4L559.6 479.0M559.6 906.3L559.6 908.9M573.0 476.4L573.0 479.0M573.0 906.3L573.0 908.9M586.5 476.4L586.5 479.0M586.5 906.3L586.5 908.9M599.9 474.9L599.9 479.0M599.9 906.3L599.9 910.4M613.3 476.4L613.3 479.0M613.3 906.3L613.3 908.9M626.7 476.4L626.7 479.0M626.7 906.3L626.7 908.9M640.1 476.4L640.1 479.0M640.1 906.3L640.1 908.9M653.6 476.4L653.6 479.0M653.6 906.3L653.6 908.9M667.0 474.9L667.0 479.0M667.0 906.3L667.0 910.4M680.4 476.4L680.4 479.0M680.4 906.3L680.4 908.9M693.8 476.4L693.8 479.0M693.8 906.3L693.8 908.9M707.2 476.4L707.2 479.0M707.2 906.3L707.2 908.9M720.7 476.4L720.7 479.0M720.7 906.3L720.7 908.9M734.1 474.9L734.1 479.0M734.1 906.3L734.1 910.4M747.5 476.4L747.5 479.0M747.5 906.3L747.5 908.9" stroke="#0b0a3a" stroke-width="3.0" fill="none"/>
<path d="M757.0 417.7L760.1 417.7M974.1 417.7L977.2 417.7M757.0 390.6L760.1 390.6M974.1 390.6L977.2 390.6M757.0 363.4L760.1 363.4M974.1 363.4L977.2 363.4M754.9 336.2L760.1 336.2M974.1 336.2L979.3 336.2M757.0 309.0L760.1 309.0M974.1 309.0L977.2 309.0M757.0 281.8L760.1 281.8M974.1 281.8L977.2 281.8M757.0 254.7L760.1 254.7M974.1 254.7L977.2 254.7M757.0 227.5L760.1 227.5M974.1 227.5L977.2 227.5M754.9 200.3L760.1 200.3M974.1 200.3L979.3 200.3M757.0 173.1L760.1 173.1M974.1 173.1L977.2 173.1M757.0 145.9L760.1 145.9M974.1 145.9L977.2 145.9M757.0 118.8L760.1 118.8M974.1 118.8L977.2 118.8M757.0 91.6L760.1 91.6M974.1 91.6L977.2 91.6M754.9 64.4L760.1 64.4M974.1 64.4L979.3 64.4M757.0 37.2L760.1 37.2M974.1 37.2L977.2 37.2M757.0 10.0L760.1 10.0M974.1 10.0L977.2 10.0" stroke="#0b0a3a" stroke-width="3.0" fill="none"/>
<path d="M770.8 5.5L770.8 10.1M770.8 437.9L770.8 442.5M784.2 5.5L784.2 10.1M784.2 437.9L784.2 442.5M797.6 5.5L797.6 10.1M797.6 437.9L797.6 442.5M811.1 5.5L811.1 10.1M811.1 437.9L811.1 442.5M824.5 2.0L824.5 10.1M824.5 437.9L824.5 446.0M837.9 5.5L837.9 10.1M837.9 437.9L837.9 442.5M851.3 5.5L851.3 10.1M851.3 437.9L851.3 442.5M864.7 5.5L864.7 10.1M864.7 437.9L864.7 442.5M878.2 5.5L878.2 10.1M878.2 437.9L878.2 442.5M891.6 2.0L891.6 10.1M891.6 437.9L891.6 446.0M905.0 5.5L905.0 10.1M905.0 437.9L905.0 442.5M918.4 5.5L918.4 10.1M918.4 437.9L918.4 442.5M931.8 5.5L931.8 10.1M931.8 437.9L931.8 442.5M945.3 5.5L945.3 10.1M945.3 437.9L945.3 442.5M958.7 2.0L958.7 10.1M958.7 437.9L958.7 446.0M972.1 5.5L972.1 10.1M972.1 437.9L972.1 442.5" stroke="#0b0a3a" stroke-width="3.0" fill="none"/>
<path d="M757.5 886.6L760.1 886.6M974.1 886.6L976.7 886.6M757.5 859.5L760.1 859.5M974.1 859.5L976.7 859.5M757.5 832.3L760.1 832.3M974.1 832.3L976.7 832.3M756.0 805.1L760.1 805.1M974.1 805.1L978.2 805.1M757.5 777.9L760.1 777.9M974.1 777.9L976.7 777.9M757.5 750.7L760.1 750.7M974.1 750.7L976.7 750.7M757.5 723.6L760.1 723.6M974.1 723.6L976.7 723.6M757.5 696.4L760.1 696.4M974.1 696.4L976.7 696.4M756.0 669.2L760.1 669.2M974.1 669.2L978.2 669.2M757.5 642.0L760.1 642.0M974.1 642.0L976.7 642.0M757.5 614.8L760.1 614.8M974.1 614.8L976.7 614.8M757.5 587.7L760.1 587.7M974.1 587.7L976.7 587.7M757.5 560.5L760.1 560.5M974.1 560.5L976.7 560.5M756.0 533.3L760.1 533.3M974.1 533.3L978.2 533.3M757.5 506.1L760.1 506.1M974.1 506.1L976.7 506.1M757.5 478.9L760.1 478.9M974.1 478.9L976.7 478.9" stroke="#0b0a3a" stroke-width="3.0" fill="none"/>
<path d="M770.8 476.4L770.8 479.0M770.8 906.3L770.8 908.9M784.2 476.4L784.2 479.0M784.2 906.3L784.2 908.9M797.6 476.4L797.6 479.0M797.6 906.3L797.6 908.9M811.1 476.4L811.1 479.0M811.1 906.3L811.1 908.9M824.5 474.9L824.5 479.0M824.5 906.3L824.5 910.4M837.9 476.4L837.9 479.0M837.9 906.3L837.9 908.9M851.3 476.4L851.3 479.0M851.3 906.3L851.3 908.9M864.7 476.4L864.7 479.0M864.7 906.3L864.7 908.9M878.2 476.4L878.2 479.0M878.2 906.3L878.2 908.9M891.6 474.9L891.6 479.0M891.6 906.3L891.6 910.4M905.0 476.4L905.0 479.0M905.0 906.3L905.0 908.9M918.4 476.4L918.4 479.0M918.4 906.3L918.4 908.9M931.8 476.4L931.8 479.0M931.8 906.3L931.8 908.9M945.3 476.4L945.3 479.0M945.3 906.3L945.3 908.9M958.7 474.9L958.7 479.0M958.7 906.3L958.7 910.4M972.1 476.4L972.1 479.0M972.1 906.3L972.1 908.9" stroke="#0b0a3a" stroke-width="3.0" fill="none"/>
<path d="M981.6 417.7L984.7 417.7M1198.7 417.7L1201.8 417.7M981.6 390.6L984.7 390.6M1198.7 390.6L1201.8 390.6M981.6 363.4L984.7 363.4M1198.7 363.4L1201.8 363.4M979.5 336.2L984.7 336.2M1198.7 336.2L1203.9 336.2M981.6 309.0L984.7 309.0M1198.7 309.0L1201.8 309.0M981.6 281.8L984.7 281.8M1198.7 281.8L1201.8 281.8M981.6 254.7L984.7 254.7M1198.7 254.7L1201.8 254.7M981.6 227.5L984.7 227.5M1198.7 227.5L1201.8 227.5M979.5 200.3L984.7 200.3M1198.7 200.3L1203.9 200.3M981.6 173.1L984.7 173.1M1198.7 173.1L1201.8 173.1M981.6 145.9L984.7 145.9M1198.7 145.9L1201.8 145.9M981.6 118.8L984.7 118.8M1198.7 118.8L1201.8 118.8M981.6 91.6L984.7 91.6M1198.7 91.6L1201.8 91.6M979.5 64.4L984.7 64.4M1198.7 64.4L1203.9 64.4M981.6 37.2L984.7 37.2M1198.7 37.2L1201.8 37.2M981.6 10.0L984.7 10.0M1198.7 10.0L1201.8 10.0" stroke="#000" stroke-width="3.0" fill="none"/>
<path d="M995.4 5.5L995.4 10.1M995.4 437.9L995.4 442.5M1008.8 5.5L1008.8 10.1M1008.8 437.9L1008.8 442.5M1022.2 5.5L1022.2 10.1M1022.2 437.9L1022.2 442.5M1035.7 5.5L1035.7 10.1M1035.7 437.9L1035.7 442.5M1049.1 2.0L1049.1 10.1M1049.1 437.9L1049.1 446.0M1062.5 5.5L1062.5 10.1M1062.5 437.9L1062.5 442.5M1075.9 5.5L1075.9 10.1M1075.9 437.9L1075.9 442.5M1089.3 5.5L1089.3 10.1M1089.3 437.9L1089.3 442.5M1102.8 5.5L1102.8 10.1M1102.8 437.9L1102.8 442.5M1116.2 2.0L1116.2 10.1M1116.2 437.9L1116.2 446.0M1129.6 5.5L1129.6 10.1M1129.6 437.9L1129.6 442.5M1143.0 5.5L1143.0 10.1M1143.0 437.9L1143.0 442.5M1156.4 5.5L1156.4 10.1M1156.4 437.9L1156.4 442.5M1169.9 5.5L1169.9 10.1M1169.9 437.9L1169.9 442.5M1183.3 2.0L1183.3 10.1M1183.3 437.9L1183.3 446.0M1196.7 5.5L1196.7 10.1M1196.7 437.9L1196.7 442.5" stroke="#000" stroke-width="3.0" fill="none"/>
<path d="M982.1 886.6L984.7 886.6M1198.7 886.6L1201.3 886.6M982.1 859.5L984.7 859.5M1198.7 859.5L1201.3 859.5M982.1 832.3L984.7 832.3M1198.7 832.3L1201.3 832.3M980.6 805.1L984.7 805.1M1198.7 805.1L1202.8 805.1M982.1 777.9L984.7 777.9M1198.7 777.9L1201.3 777.9M982.1 750.7L984.7 750.7M1198.7 750.7L1201.3 750.7M982.1 723.6L984.7 723.6M1198.7 723.6L1201.3 723.6M982.1 696.4L984.7 696.4M1198.7 696.4L1201.3 696.4M980.6 669.2L984.7 669.2M1198.7 669.2L1202.8 669.2M982.1 642.0L984.7 642.0M1198.7 642.0L1201.3 642.0M982.1 614.8L984.7 614.8M1198.7 614.8L1201.3 614.8M982.1 587.7L984.7 587.7M1198.7 587.7L1201.3 587.7M982.1 560.5L984.7 560.5M1198.7 560.5L1201.3 560.5M980.6 533.3L984.7 533.3M1198.7 533.3L1202.8 533.3M982.1 506.1L984.7 506.1M1198.7 506.1L1201.3 506.1M982.1 478.9L984.7 478.9M1198.7 478.9L1201.3 478.9" stroke="#000" stroke-width="3.0" fill="none"/>
<path d="M995.4 476.4L995.4 479.0M995.4 906.3L995.4 908.9M1008.8 476.4L1008.8 479.0M1008.8 906.3L1008.8 908.9M1022.2 476.4L1022.2 479.0M1022.2 906.3L1022.2 908.9M1035.7 476.4L1035.7 479.0M1035.7 906.3L1035.7 908.9M1049.1 474.9L1049.1 479.0M1049.1 906.3L1049.1 910.4M1062.5 476.4L1062.5 479.0M1062.5 906.3L1062.5 908.9M1075.9 476.4L1075.9 479.0M1075.9 906.3L1075.9 908.9M1089.3 476.4L1089.3 479.0M1089.3 906.3L1089.3 908.9M1102.8 476.4L1102.8 479.0M1102.8 906.3L1102.8 908.9M1116.2 474.9L1116.2 479.0M1116.2 906.3L1116.2 910.4M1129.6 476.4L1129.6 479.0M1129.6 906.3L1129.6 908.9M1143.0 476.4L1143.0 479.0M1143.0 906.3L1143.0 908.9M1156.4 476.4L1156.4 479.0M1156.4 906.3L1156.4 908.9M1169.9 476.4L1169.9 479.0M1169.9 906.3L1169.9 908.9M1183.3 474.9L1183.3 479.0M1183.3 906.3L1183.3 910.4M1196.7 476.4L1196.7 479.0M1196.7 906.3L1196.7 908.9" stroke="#000" stroke-width="3.0" fill="none"/>
<path d="M1206.7 417.7L1209.3 417.7M1423.3 417.7L1425.9 417.7M1206.7 390.6L1209.3 390.6M1423.3 390.6L1425.9 390.6M1206.7 363.4L1209.3 363.4M1423.3 363.4L1425.9 363.4M1205.2 336.2L1209.3 336.2M1423.3 336.2L1427.4 336.2M1206.7 309.0L1209.3 309.0M1423.3 309.0L1425.9 309.0M1206.7 281.8L1209.3 281.8M1423.3 281.8L1425.9 281.8M1206.7 254.7L1209.3 254.7M1423.3 254.7L1425.9 254.7M1206.7 227.5L1209.3 227.5M1423.3 227.5L1425.9 227.5M1205.2 200.3L1209.3 200.3M1423.3 200.3L1427.4 200.3M1206.7 173.1L1209.3 173.1M1423.3 173.1L1425.9 173.1M1206.7 145.9L1209.3 145.9M1423.3 145.9L1425.9 145.9M1206.7 118.8L1209.3 118.8M1423.3 118.8L1425.9 118.8M1206.7 91.6L1209.3 91.6M1423.3 91.6L1425.9 91.6M1205.2 64.4L1209.3 64.4M1423.3 64.4L1427.4 64.4M1206.7 37.2L1209.3 37.2M1423.3 37.2L1425.9 37.2M1206.7 10.0L1209.3 10.0M1423.3 10.0L1425.9 10.0" stroke="#000" stroke-width="3.0" fill="none"/>
<path d="M1220.0 7.5L1220.0 10.1M1220.0 437.9L1220.0 440.5M1233.4 7.5L1233.4 10.1M1233.4 437.9L1233.4 440.5M1246.8 7.5L1246.8 10.1M1246.8 437.9L1246.8 440.5M1260.3 7.5L1260.3 10.1M1260.3 437.9L1260.3 440.5M1273.7 6.0L1273.7 10.1M1273.7 437.9L1273.7 442.0M1287.1 7.5L1287.1 10.1M1287.1 437.9L1287.1 440.5M1300.5 7.5L1300.5 10.1M1300.5 437.9L1300.5 440.5M1313.9 7.5L1313.9 10.1M1313.9 437.9L1313.9 440.5M1327.4 7.5L1327.4 10.1M1327.4 437.9L1327.4 440.5M1340.8 6.0L1340.8 10.1M1340.8 437.9L1340.8 442.0M1354.2 7.5L1354.2 10.1M1354.2 437.9L1354.2 440.5M1367.6 7.5L1367.6 10.1M1367.6 437.9L1367.6 440.5M1381.0 7.5L1381.0 10.1M1381.0 437.9L1381.0 440.5M1394.5 7.5L1394.5 10.1M1394.5 437.9L1394.5 440.5M1407.9 6.0L1407.9 10.1M1407.9 437.9L1407.9 442.0M1421.3 7.5L1421.3 10.1M1421.3 437.9L1421.3 440.5" stroke="#000" stroke-width="3.0" fill="none"/>
<path d="M1206.7 886.6L1209.3 886.6M1423.3 886.6L1425.9 886.6M1206.7 859.5L1209.3 859.5M1423.3 859.5L1425.9 859.5M1206.7 832.3L1209.3 832.3M1423.3 832.3L1425.9 832.3M1205.2 805.1L1209.3 805.1M1423.3 805.1L1427.4 805.1M1206.7 777.9L1209.3 777.9M1423.3 777.9L1425.9 777.9M1206.7 750.7L1209.3 750.7M1423.3 750.7L1425.9 750.7M1206.7 723.6L1209.3 723.6M1423.3 723.6L1425.9 723.6M1206.7 696.4L1209.3 696.4M1423.3 696.4L1425.9 696.4M1205.2 669.2L1209.3 669.2M1423.3 669.2L1427.4 669.2M1206.7 642.0L1209.3 642.0M1423.3 642.0L1425.9 642.0M1206.7 614.8L1209.3 614.8M1423.3 614.8L1425.9 614.8M1206.7 587.7L1209.3 587.7M1423.3 587.7L1425.9 587.7M1206.7 560.5L1209.3 560.5M1423.3 560.5L1425.9 560.5M1205.2 533.3L1209.3 533.3M1423.3 533.3L1427.4 533.3M1206.7 506.1L1209.3 506.1M1423.3 506.1L1425.9 506.1M1206.7 478.9L1209.3 478.9M1423.3 478.9L1425.9 478.9" stroke="#000" stroke-width="3.0" fill="none"/>
<path d="M1220.0 476.4L1220.0 479.0M1220.0 906.3L1220.0 908.9M1233.4 476.4L1233.4 479.0M1233.4 906.3L1233.4 908.9M1246.8 476.4L1246.8 479.0M1246.8 906.3L1246.8 908.9M1260.3 476.4L1260.3 479.0M1260.3 906.3L1260.3 908.9M1273.7 474.9L1273.7 479.0M1273.7 906.3L1273.7 910.4M1287.1 476.4L1287.1 479.0M1287.1 906.3L1287.1 908.9M1300.5 476.4L1300.5 479.0M1300.5 906.3L1300.5 908.9M1313.9 476.4L1313.9 479.0M1313.9 906.3L1313.9 908.9M1327.4 476.4L1327.4 479.0M1327.4 906.3L1327.4 908.9M1340.8 474.9L1340.8 479.0M1340.8 906.3L1340.8 910.4M1354.2 476.4L1354.2 479.0M1354.2 906.3L1354.2 908.9M1367.6 476.4L1367.6 479.0M1367.6 906.3L1367.6 908.9M1381.0 476.4L1381.0 479.0M1381.0 906.3L1381.0 908.9M1394.5 476.4L1394.5 479.0M1394.5 906.3L1394.5 908.9M1407.9 474.9L1407.9 479.0M1407.9 906.3L1407.9 910.4M1421.3 476.4L1421.3 479.0M1421.3 906.3L1421.3 908.9" stroke="#000" stroke-width="3.0" fill="none"/>
<path d="M1583.9 7.1L1583.9 11.7M1583.9 438.7L1583.9 443.3M1782.8 7.1L1782.8 11.7M1782.8 438.7L1782.8 443.3M1981.7 7.1L1981.7 11.7M1981.7 438.7L1981.7 443.3M1534.2 8.9L1534.2 11.7M1534.2 438.7L1534.2 441.5M1633.6 8.9L1633.6 11.7M1633.6 438.7L1633.6 441.5M1683.4 8.9L1683.4 11.7M1683.4 438.7L1683.4 441.5M1733.1 8.9L1733.1 11.7M1733.1 438.7L1733.1 441.5M1832.5 8.9L1832.5 11.7M1832.5 438.7L1832.5 441.5M1882.2 8.9L1882.2 11.7M1882.2 438.7L1882.2 441.5M1932.0 8.9L1932.0 11.7M1932.0 438.7L1932.0 441.5M2031.4 8.9L2031.4 11.7M2031.4 438.7L2031.4 441.5M1524.9 438.7L1529.5 438.7M2043.4 438.7L2048.0 438.7M1526.7 417.3L1529.5 417.3M2043.4 417.3L2046.2 417.3M1526.7 396.0L1529.5 396.0M2043.4 396.0L2046.2 396.0M1526.7 374.6L1529.5 374.6M2043.4 374.6L2046.2 374.6M1524.9 353.3L1529.5 353.3M2043.4 353.3L2048.0 353.3M1526.7 331.9L1529.5 331.9M2043.4 331.9L2046.2 331.9M1526.7 310.6L1529.5 310.6M2043.4 310.6L2046.2 310.6M1526.7 289.2L1529.5 289.2M2043.4 289.2L2046.2 289.2M1524.9 267.9L1529.5 267.9M2043.4 267.9L2048.0 267.9M1526.7 246.5L1529.5 246.5M2043.4 246.5L2046.2 246.5M1526.7 225.2L1529.5 225.2M2043.4 225.2L2046.2 225.2M1526.7 203.8L1529.5 203.8M2043.4 203.8L2046.2 203.8M1524.9 182.5L1529.5 182.5M2043.4 182.5L2048.0 182.5M1526.7 161.1L1529.5 161.1M2043.4 161.1L2046.2 161.1M1526.7 139.8L1529.5 139.8M2043.4 139.8L2046.2 139.8M1526.7 118.4L1529.5 118.4M2043.4 118.4L2046.2 118.4M1524.9 97.1L1529.5 97.1M2043.4 97.1L2048.0 97.1M1526.7 75.8L1529.5 75.8M2043.4 75.8L2046.2 75.8M1526.7 54.4L1529.5 54.4M2043.4 54.4L2046.2 54.4M1526.7 33.1L1529.5 33.1M2043.4 33.1L2046.2 33.1M1524.9 11.7L1529.5 11.7M2043.4 11.7L2048.0 11.7" stroke="#000" stroke-width="3.0" fill="none"/>
<path d="M1632.2 475.1L1632.2 479.7M1632.2 907.0L1632.2 911.6M1837.8 475.1L1837.8 479.7M1837.8 907.0L1837.8 911.6M2043.4 475.1L2043.4 479.7M2043.4 907.0L2043.4 911.6M1580.8 476.9L1580.8 479.7M1580.8 907.0L1580.8 909.8M1683.6 476.9L1683.6 479.7M1683.6 907.0L1683.6 909.8M1735.0 476.9L1735.0 479.7M1735.0 907.0L1735.0 909.8M1786.4 476.9L1786.4 479.7M1786.4 907.0L1786.4 909.8M1889.2 476.9L1889.2 479.7M1889.2 907.0L1889.2 909.8M1940.6 476.9L1940.6 479.7M1940.6 907.0L1940.6 909.8M1992.0 476.9L1992.0 479.7M1992.0 907.0L1992.0 909.8M1524.9 907.0L1529.5 907.0M2043.4 907.0L2048.0 907.0M1526.7 885.6L1529.5 885.6M2043.4 885.6L2046.2 885.6M1526.7 864.3L1529.5 864.3M2043.4 864.3L2046.2 864.3M1526.7 842.9L1529.5 842.9M2043.4 842.9L2046.2 842.9M1524.9 821.5L1529.5 821.5M2043.4 821.5L2048.0 821.5M1526.7 800.2L1529.5 800.2M2043.4 800.2L2046.2 800.2M1526.7 778.8L1529.5 778.8M2043.4 778.8L2046.2 778.8M1526.7 757.4L1529.5 757.4M2043.4 757.4L2046.2 757.4M1524.9 736.1L1529.5 736.1M2043.4 736.1L2048.0 736.1M1526.7 714.7L1529.5 714.7M2043.4 714.7L2046.2 714.7M1526.7 693.4L1529.5 693.4M2043.4 693.4L2046.2 693.4M1526.7 672.0L1529.5 672.0M2043.4 672.0L2046.2 672.0M1524.9 650.6L1529.5 650.6M2043.4 650.6L2048.0 650.6M1526.7 629.3L1529.5 629.3M2043.4 629.3L2046.2 629.3M1526.7 607.9L1529.5 607.9M2043.4 607.9L2046.2 607.9M1526.7 586.5L1529.5 586.5M2043.4 586.5L2046.2 586.5M1524.9 565.2L1529.5 565.2M2043.4 565.2L2048.0 565.2M1526.7 543.8L1529.5 543.8M2043.4 543.8L2046.2 543.8M1526.7 522.4L1529.5 522.4M2043.4 522.4L2046.2 522.4M1526.7 501.1L1529.5 501.1M2043.4 501.1L2046.2 501.1M1524.9 479.7L1529.5 479.7M2043.4 479.7L2048.0 479.7" stroke="#000" stroke-width="3.0" fill="none"/>
<text transform="translate(82.0 74.9) scale(1 1.1)" font-size="25.6" fill="#000" stroke="#000" stroke-width="0" text-anchor="end" >240</text>
<text transform="translate(82.0 210.8) scale(1 1.1)" font-size="25.6" fill="#000" stroke="#000" stroke-width="0" text-anchor="end" >200</text>
<text transform="translate(82.0 346.7) scale(1 1.1)" font-size="25.6" fill="#000" stroke="#000" stroke-width="0" text-anchor="end" >160</text>
<text transform="translate(82.0 543.8) scale(1 1.1)" font-size="25.6" fill="#000" stroke="#000" stroke-width="0" text-anchor="end" >240</text>
<text transform="translate(82.0 679.7) scale(1 1.1)" font-size="25.6" fill="#000" stroke="#000" stroke-width="0" text-anchor="end" >200</text>
<text transform="translate(82.0 815.6) scale(1 1.1)" font-size="25.6" fill="#000" stroke="#000" stroke-width="0" text-anchor="end" >160</text>
<text transform="translate(176.6 947.8) scale(1 1.1)" font-size="25.6" fill="#000" stroke="#000" stroke-width="0" text-anchor="middle" >40</text>
<text transform="translate(303.8 947.8) scale(1 1.1)" font-size="25.6" fill="#000" stroke="#000" stroke-width="0" text-anchor="middle" >80</text>
<text transform="translate(431.0 947.8) scale(1 1.1)" font-size="25.6" fill="#000" stroke="#000" stroke-width="0" text-anchor="middle" >120</text>
<text transform="translate(310.5 974.8) scale(1 1.1)" font-size="25.6" fill="#000" stroke="#000" stroke-width="0" text-anchor="middle" >Solar−X [arcsec]</text>
<text transform="translate(19.5 224.5) rotate(-90) scale(1 1.1)" font-size="25.6" fill="#000" text-anchor="middle">Solar−Y [arcsec]</text>
<text transform="translate(19.5 693.5) rotate(-90) scale(1 1.1)" font-size="25.6" fill="#000" text-anchor="middle">Solar−Y [arcsec]</text>
<text transform="translate(1517.5 439.9) scale(1 1.1)" font-size="25.6" fill="#000" stroke="#000" stroke-width="0" text-anchor="end" >0.0</text>
<text transform="translate(1517.5 363.3) scale(1 1.1)" font-size="25.6" fill="#000" stroke="#000" stroke-width="0" text-anchor="end" >0.2</text>
<text transform="translate(1517.5 277.9) scale(1 1.1)" font-size="25.6" fill="#000" stroke="#000" stroke-width="0" text-anchor="end" >0.4</text>
<text transform="translate(1517.5 192.5) scale(1 1.1)" font-size="25.6" fill="#000" stroke="#000" stroke-width="0" text-anchor="end" >0.6</text>
<text transform="translate(1517.5 107.1) scale(1 1.1)" font-size="25.6" fill="#000" stroke="#000" stroke-width="0" text-anchor="end" >0.8</text>
<text transform="translate(1517.5 27.0) scale(1 1.1)" font-size="25.6" fill="#000" stroke="#000" stroke-width="0" text-anchor="end" >1.0</text>
<text transform="translate(1461.0 226.7) rotate(-90) scale(1 1.1)" font-size="25.6" fill="#000" text-anchor="middle">Normalized I</text>
<text transform="translate(1517.5 908.2) scale(1 1.1)" font-size="25.6" fill="#000" stroke="#000" stroke-width="0" text-anchor="end" >0.0</text>
<text transform="translate(1517.5 831.5) scale(1 1.1)" font-size="25.6" fill="#000" stroke="#000" stroke-width="0" text-anchor="end" >0.2</text>
<text transform="translate(1517.5 746.1) scale(1 1.1)" font-size="25.6" fill="#000" stroke="#000" stroke-width="0" text-anchor="end" >0.4</text>
<text transform="translate(1517.5 660.6) scale(1 1.1)" font-size="25.6" fill="#000" stroke="#000" stroke-width="0" text-anchor="end" >0.6</text>
<text transform="translate(1517.5 575.2) scale(1 1.1)" font-size="25.6" fill="#000" stroke="#000" stroke-width="0" text-anchor="end" >0.8</text>
<text transform="translate(1517.5 495.0) scale(1 1.1)" font-size="25.6" fill="#000" stroke="#000" stroke-width="0" text-anchor="end" >1.0</text>
<text transform="translate(1461.0 694.9) rotate(-90) scale(1 1.1)" font-size="25.6" fill="#000" text-anchor="middle">Normalized I</text>
<text transform="translate(1583.4 476.4) scale(1 1.1)" font-size="25.6" fill="#000" stroke="#000" stroke-width="0" text-anchor="middle" >1352</text>
<text transform="translate(1782.3 476.4) scale(1 1.1)" font-size="25.6" fill="#000" stroke="#000" stroke-width="0" text-anchor="middle" >1354</text>
<text transform="translate(1981.2 476.4) scale(1 1.1)" font-size="25.6" fill="#000" stroke="#000" stroke-width="0" text-anchor="middle" >1356</text>
<text transform="translate(1631.7 946.0) scale(1 1.1)" font-size="25.6" fill="#000" stroke="#000" stroke-width="0" text-anchor="middle" >2796</text>
<text transform="translate(1837.3 946.0) scale(1 1.1)" font-size="25.6" fill="#000" stroke="#000" stroke-width="0" text-anchor="middle" >2798</text>
<text transform="translate(2042.9 946.0) scale(1 1.1)" font-size="25.6" fill="#000" stroke="#000" stroke-width="0" text-anchor="middle" >2800</text>
<text transform="translate(1787.0 971.5) scale(1 1.1)" font-size="25.6" fill="#000" stroke="#000" stroke-width="0" text-anchor="middle" >Wavelength[Å]</text>
<text transform="translate(106.8 49.0) scale(1 1.1)" font-size="25.6" fill="#fff" stroke="#fff" stroke-width="0.35" text-anchor="start" >SJI 1400Å18:05UT</text>
<text transform="translate(106.8 83.0) scale(1 1.1)" font-size="25.6" fill="#fff" stroke="#fff" stroke-width="0.35" text-anchor="start" >a)</text>
<text transform="translate(106.8 517.5) scale(1 1.1)" font-size="25.6" fill="#fff" stroke="#fff" stroke-width="0.35" text-anchor="start" >AIA 131Å 18:05UT</text>
<text transform="translate(106.8 550.3) scale(1 1.1)" font-size="25.6" fill="#fff" stroke="#fff" stroke-width="0.35" text-anchor="start" >g)</text>
<text transform="translate(546.8 48.8) scale(1 1.1)" font-size="25.6" fill="#000" stroke="#000" stroke-width="0" text-anchor="start" >Fe XXI Int</text>
<text transform="translate(546.8 82.3) scale(1 1.1)" font-size="25.6" fill="#000" stroke="#000" stroke-width="0" text-anchor="start" >18:05UT</text>
<text transform="translate(546.8 115.8) scale(1 1.1)" font-size="25.6" fill="#000" stroke="#000" stroke-width="0" text-anchor="start" >b)</text>
<text transform="translate(770.8 48.8) scale(1 1.1)" font-size="25.6" fill="#0b0a3a" stroke="#0b0a3a" stroke-width="0" text-anchor="start" >Fe XXI vel</text>
<text transform="translate(770.8 82.3) scale(1 1.1)" font-size="25.6" fill="#0b0a3a" stroke="#0b0a3a" stroke-width="0" text-anchor="start" >c)</text>
<text transform="translate(994.8 48.8) scale(1 1.1)" font-size="25.6" fill="#000" stroke="#000" stroke-width="0" text-anchor="start" >O IV Int</text>
<text transform="translate(994.8 82.3) scale(1 1.1)" font-size="25.6" fill="#000" stroke="#000" stroke-width="0" text-anchor="start" >d)</text>
<text transform="translate(1219.3 48.8) scale(1 1.1)" font-size="25.6" fill="#fff" stroke="#fff" stroke-width="0.35" text-anchor="start" >Mg II Int</text>
<text transform="translate(1219.3 82.3) scale(1 1.1)" font-size="25.6" fill="#fff" stroke="#fff" stroke-width="0.35" text-anchor="start" >e)</text>
<text transform="translate(546.8 517.3) scale(1 1.1)" font-size="25.6" fill="#0b0a3a" stroke="#0b0a3a" stroke-width="0" text-anchor="start" >Mg II vel</text>
<text transform="translate(546.8 550.0) scale(1 1.1)" font-size="25.6" fill="#0b0a3a" stroke="#0b0a3a" stroke-width="0" text-anchor="start" >h)</text>
<text transform="translate(770.8 517.3) scale(1 1.1)" font-size="25.6" fill="#0b0a3a" stroke="#0b0a3a" stroke-width="0" text-anchor="start" >Mg II diff</text>
<text transform="translate(770.8 550.0) scale(1 1.1)" font-size="25.6" fill="#0b0a3a" stroke="#0b0a3a" stroke-width="0" text-anchor="start" >i)</text>
<text transform="translate(994.8 517.3) scale(1 1.1)" font-size="25.6" fill="#000" stroke="#000" stroke-width="0" text-anchor="start" >Mg II dep</text>
<text transform="translate(994.8 550.0) scale(1 1.1)" font-size="25.6" fill="#000" stroke="#000" stroke-width="0" text-anchor="start" >l)</text>
<text transform="translate(1219.3 517.3) scale(1 1.1)" font-size="25.6" fill="#fff" stroke="#fff" stroke-width="0.35" text-anchor="start" >Mg II sep</text>
<text transform="translate(1219.3 550.0) scale(1 1.1)" font-size="25.6" fill="#fff" stroke="#fff" stroke-width="0.35" text-anchor="start" >m)</text>
<text transform="translate(1586.0 41.5) scale(1 1.1)" font-size="25.6" fill="#000" stroke="#000" stroke-width="0" text-anchor="start" >Fe XXI spectral window</text>
<text transform="translate(2001.0 41.5) scale(1 1.1)" font-size="25.6" fill="#000" stroke="#000" stroke-width="0" text-anchor="start" >f)</text>
<text transform="translate(1705.0 508.5) scale(1 1.1)" font-size="25.6" fill="#000" stroke="#000" stroke-width="0" text-anchor="start" >Mg II spectral window</text>
<text transform="translate(2011.5 508.5) scale(1 1.1)" font-size="25.6" fill="#000" stroke="#000" stroke-width="0" text-anchor="start" >n)</text>
</svg>
</body></html>
